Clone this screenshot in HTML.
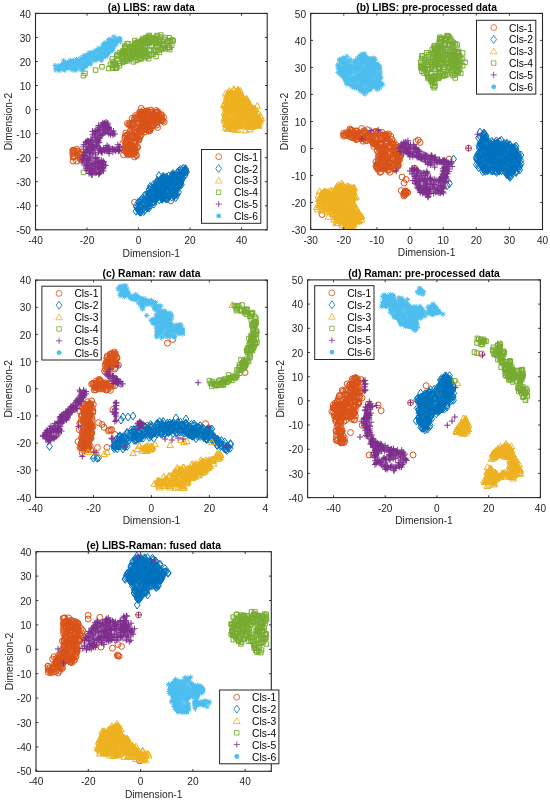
<!DOCTYPE html><html><head><meta charset="utf-8"><style>html,body{margin:0;padding:0;background:#fff;}svg{display:block;font-family:"Liberation Sans",Arial,sans-serif;}</style></head><body>
<svg width="550" height="801" viewBox="0 0 550 801">
<rect width="550" height="801" fill="#fff"/>
<g>
<rect x="35.5" y="13.4" width="231.7" height="216.4" fill="#fff"/>
<clipPath id="ca"><rect x="34.5" y="12.4" width="233.7" height="218.4"/></clipPath>
<g clip-path="url(#ca)">
<path d="M135.9 111.1 135.4 112.9 135.4 113.1 135.3 113.3 132.3 120.5 132.2 120.6 132.1 120.8 132 121 131.9 121.1 131.8 121.2 131.6 121.3 128.1 123.7 127.5 130.1 127.4 130.3 127.4 130.5 127.3 130.6 127.3 130.8 123.8 137.6 124.5 148.7 124.5 148.8 124.5 149 123.9 155.1 126.8 157 132.9 157 136.1 154.9 137.4 149.9 138.7 141.2 138.8 141 138.8 140.8 138.9 140.6 141.8 134.8 141.9 134.6 142 134.5 142.2 134.3 142.3 134.2 142.5 134.1 142.7 134 142.8 133.9 143 133.8 150 131.7 157 126.9 162.9 122.3 163.5 118.5 160.9 112.4 157.7 110.8 149.5 110.8 149.3 110.8 149.1 110.7 142.3 109.4 135.9 111.1Z" fill="#D95319" fill-opacity="0.6" fill-rule="evenodd"/>
<path d="M131.6 202.3a2.95 2.95 0 1 0 5.9 0a2.95 2.95 0 1 0 -5.9 0M167.9 200.8a2.95 2.95 0 1 0 5.9 0a2.95 2.95 0 1 0 -5.9 0M152.3 112.4a2.95 2.95 0 1 0 5.9 0a2.95 2.95 0 1 0 -5.9 0M124.7 152.2a2.95 2.95 0 1 0 5.9 0a2.95 2.95 0 1 0 -5.9 0M135.8 140.3a2.95 2.95 0 1 0 5.9 0a2.95 2.95 0 1 0 -5.9 0M136.8 136.6a2.95 2.95 0 1 0 5.9 0a2.95 2.95 0 1 0 -5.9 0M144.9 112a2.95 2.95 0 1 0 5.9 0a2.95 2.95 0 1 0 -5.9 0M128.4 133.3a2.95 2.95 0 1 0 5.9 0a2.95 2.95 0 1 0 -5.9 0M121.8 151a2.95 2.95 0 1 0 5.9 0a2.95 2.95 0 1 0 -5.9 0M146 128.8a2.95 2.95 0 1 0 5.9 0a2.95 2.95 0 1 0 -5.9 0M126.2 150.3a2.95 2.95 0 1 0 5.9 0a2.95 2.95 0 1 0 -5.9 0M131 137.6a2.95 2.95 0 1 0 5.9 0a2.95 2.95 0 1 0 -5.9 0M124 135.9a2.95 2.95 0 1 0 5.9 0a2.95 2.95 0 1 0 -5.9 0M136.4 124.1a2.95 2.95 0 1 0 5.9 0a2.95 2.95 0 1 0 -5.9 0M151.1 119.1a2.95 2.95 0 1 0 5.9 0a2.95 2.95 0 1 0 -5.9 0M135.6 118.2a2.95 2.95 0 1 0 5.9 0a2.95 2.95 0 1 0 -5.9 0M158.2 115.1a2.95 2.95 0 1 0 5.9 0a2.95 2.95 0 1 0 -5.9 0M141.4 126.6a2.95 2.95 0 1 0 5.9 0a2.95 2.95 0 1 0 -5.9 0M121.9 141.3a2.95 2.95 0 1 0 5.9 0a2.95 2.95 0 1 0 -5.9 0M154.1 112.2a2.95 2.95 0 1 0 5.9 0a2.95 2.95 0 1 0 -5.9 0M131.5 148.7a2.95 2.95 0 1 0 5.9 0a2.95 2.95 0 1 0 -5.9 0M124.9 152.1a2.95 2.95 0 1 0 5.9 0a2.95 2.95 0 1 0 -5.9 0M129 135.9a2.95 2.95 0 1 0 5.9 0a2.95 2.95 0 1 0 -5.9 0M156.2 114.7a2.95 2.95 0 1 0 5.9 0a2.95 2.95 0 1 0 -5.9 0M131 152.1a2.95 2.95 0 1 0 5.9 0a2.95 2.95 0 1 0 -5.9 0M134 128.1a2.95 2.95 0 1 0 5.9 0a2.95 2.95 0 1 0 -5.9 0M156.7 115.6a2.95 2.95 0 1 0 5.9 0a2.95 2.95 0 1 0 -5.9 0M128.3 145.9a2.95 2.95 0 1 0 5.9 0a2.95 2.95 0 1 0 -5.9 0M151.8 121.6a2.95 2.95 0 1 0 5.9 0a2.95 2.95 0 1 0 -5.9 0M124.8 150.5a2.95 2.95 0 1 0 5.9 0a2.95 2.95 0 1 0 -5.9 0M155.2 121.3a2.95 2.95 0 1 0 5.9 0a2.95 2.95 0 1 0 -5.9 0M156 119.1a2.95 2.95 0 1 0 5.9 0a2.95 2.95 0 1 0 -5.9 0M143.7 115.4a2.95 2.95 0 1 0 5.9 0a2.95 2.95 0 1 0 -5.9 0M123.4 151.6a2.95 2.95 0 1 0 5.9 0a2.95 2.95 0 1 0 -5.9 0M138.4 116.3a2.95 2.95 0 1 0 5.9 0a2.95 2.95 0 1 0 -5.9 0M145.3 130.8a2.95 2.95 0 1 0 5.9 0a2.95 2.95 0 1 0 -5.9 0M140.1 121.8a2.95 2.95 0 1 0 5.9 0a2.95 2.95 0 1 0 -5.9 0M138.2 115.6a2.95 2.95 0 1 0 5.9 0a2.95 2.95 0 1 0 -5.9 0M148.1 119.7a2.95 2.95 0 1 0 5.9 0a2.95 2.95 0 1 0 -5.9 0M124.9 155a2.95 2.95 0 1 0 5.9 0a2.95 2.95 0 1 0 -5.9 0M142.3 122.8a2.95 2.95 0 1 0 5.9 0a2.95 2.95 0 1 0 -5.9 0M125.7 150.6a2.95 2.95 0 1 0 5.9 0a2.95 2.95 0 1 0 -5.9 0M142.4 124a2.95 2.95 0 1 0 5.9 0a2.95 2.95 0 1 0 -5.9 0M144.7 127.2a2.95 2.95 0 1 0 5.9 0a2.95 2.95 0 1 0 -5.9 0M138.6 128.5a2.95 2.95 0 1 0 5.9 0a2.95 2.95 0 1 0 -5.9 0M144.4 120a2.95 2.95 0 1 0 5.9 0a2.95 2.95 0 1 0 -5.9 0M150 126.3a2.95 2.95 0 1 0 5.9 0a2.95 2.95 0 1 0 -5.9 0M137.6 119.2a2.95 2.95 0 1 0 5.9 0a2.95 2.95 0 1 0 -5.9 0M137.6 119.4a2.95 2.95 0 1 0 5.9 0a2.95 2.95 0 1 0 -5.9 0M150.4 115.3a2.95 2.95 0 1 0 5.9 0a2.95 2.95 0 1 0 -5.9 0M147 128.7a2.95 2.95 0 1 0 5.9 0a2.95 2.95 0 1 0 -5.9 0M138.5 112.6a2.95 2.95 0 1 0 5.9 0a2.95 2.95 0 1 0 -5.9 0M123.1 143.7a2.95 2.95 0 1 0 5.9 0a2.95 2.95 0 1 0 -5.9 0M145.3 112.9a2.95 2.95 0 1 0 5.9 0a2.95 2.95 0 1 0 -5.9 0M150.1 117.6a2.95 2.95 0 1 0 5.9 0a2.95 2.95 0 1 0 -5.9 0M133.9 138.2a2.95 2.95 0 1 0 5.9 0a2.95 2.95 0 1 0 -5.9 0M141.9 123.4a2.95 2.95 0 1 0 5.9 0a2.95 2.95 0 1 0 -5.9 0M143.2 128.7a2.95 2.95 0 1 0 5.9 0a2.95 2.95 0 1 0 -5.9 0M131.5 119.2a2.95 2.95 0 1 0 5.9 0a2.95 2.95 0 1 0 -5.9 0M152.8 115.3a2.95 2.95 0 1 0 5.9 0a2.95 2.95 0 1 0 -5.9 0M150 124.7a2.95 2.95 0 1 0 5.9 0a2.95 2.95 0 1 0 -5.9 0M140.4 110.6a2.95 2.95 0 1 0 5.9 0a2.95 2.95 0 1 0 -5.9 0M124.1 140.3a2.95 2.95 0 1 0 5.9 0a2.95 2.95 0 1 0 -5.9 0M124 151.4a2.95 2.95 0 1 0 5.9 0a2.95 2.95 0 1 0 -5.9 0M124.4 148.7a2.95 2.95 0 1 0 5.9 0a2.95 2.95 0 1 0 -5.9 0M144.1 110.8a2.95 2.95 0 1 0 5.9 0a2.95 2.95 0 1 0 -5.9 0M145.4 124.7a2.95 2.95 0 1 0 5.9 0a2.95 2.95 0 1 0 -5.9 0M138.5 114.7a2.95 2.95 0 1 0 5.9 0a2.95 2.95 0 1 0 -5.9 0M132 142a2.95 2.95 0 1 0 5.9 0a2.95 2.95 0 1 0 -5.9 0M141.8 122.5a2.95 2.95 0 1 0 5.9 0a2.95 2.95 0 1 0 -5.9 0M125.2 147.5a2.95 2.95 0 1 0 5.9 0a2.95 2.95 0 1 0 -5.9 0M147.1 126.3a2.95 2.95 0 1 0 5.9 0a2.95 2.95 0 1 0 -5.9 0M132.1 148.8a2.95 2.95 0 1 0 5.9 0a2.95 2.95 0 1 0 -5.9 0M146.9 118a2.95 2.95 0 1 0 5.9 0a2.95 2.95 0 1 0 -5.9 0M142.2 114.3a2.95 2.95 0 1 0 5.9 0a2.95 2.95 0 1 0 -5.9 0M148.5 113.2a2.95 2.95 0 1 0 5.9 0a2.95 2.95 0 1 0 -5.9 0M147.1 130.6a2.95 2.95 0 1 0 5.9 0a2.95 2.95 0 1 0 -5.9 0M138.8 120.5a2.95 2.95 0 1 0 5.9 0a2.95 2.95 0 1 0 -5.9 0M137.2 111.8a2.95 2.95 0 1 0 5.9 0a2.95 2.95 0 1 0 -5.9 0M144.3 129.8a2.95 2.95 0 1 0 5.9 0a2.95 2.95 0 1 0 -5.9 0M140.4 120.4a2.95 2.95 0 1 0 5.9 0a2.95 2.95 0 1 0 -5.9 0M154.9 111.6a2.95 2.95 0 1 0 5.9 0a2.95 2.95 0 1 0 -5.9 0M138.6 125.7a2.95 2.95 0 1 0 5.9 0a2.95 2.95 0 1 0 -5.9 0M150.5 118.7a2.95 2.95 0 1 0 5.9 0a2.95 2.95 0 1 0 -5.9 0M148.2 120a2.95 2.95 0 1 0 5.9 0a2.95 2.95 0 1 0 -5.9 0M131.4 130.3a2.95 2.95 0 1 0 5.9 0a2.95 2.95 0 1 0 -5.9 0M139.7 125.9a2.95 2.95 0 1 0 5.9 0a2.95 2.95 0 1 0 -5.9 0M135.1 135.7a2.95 2.95 0 1 0 5.9 0a2.95 2.95 0 1 0 -5.9 0M158.5 114.6a2.95 2.95 0 1 0 5.9 0a2.95 2.95 0 1 0 -5.9 0M132.6 117.4a2.95 2.95 0 1 0 5.9 0a2.95 2.95 0 1 0 -5.9 0M122.2 136.3a2.95 2.95 0 1 0 5.9 0a2.95 2.95 0 1 0 -5.9 0M121.9 138a2.95 2.95 0 1 0 5.9 0a2.95 2.95 0 1 0 -5.9 0M127.1 131.4a2.95 2.95 0 1 0 5.9 0a2.95 2.95 0 1 0 -5.9 0M141.8 118.7a2.95 2.95 0 1 0 5.9 0a2.95 2.95 0 1 0 -5.9 0M130.7 153.5a2.95 2.95 0 1 0 5.9 0a2.95 2.95 0 1 0 -5.9 0M137.3 114.2a2.95 2.95 0 1 0 5.9 0a2.95 2.95 0 1 0 -5.9 0M127.1 124.7a2.95 2.95 0 1 0 5.9 0a2.95 2.95 0 1 0 -5.9 0M148.1 119.5a2.95 2.95 0 1 0 5.9 0a2.95 2.95 0 1 0 -5.9 0M125.4 138.4a2.95 2.95 0 1 0 5.9 0a2.95 2.95 0 1 0 -5.9 0M141.1 129.3a2.95 2.95 0 1 0 5.9 0a2.95 2.95 0 1 0 -5.9 0M141 114.7a2.95 2.95 0 1 0 5.9 0a2.95 2.95 0 1 0 -5.9 0M140.9 114.6a2.95 2.95 0 1 0 5.9 0a2.95 2.95 0 1 0 -5.9 0M140 125.7a2.95 2.95 0 1 0 5.9 0a2.95 2.95 0 1 0 -5.9 0M129.6 124.5a2.95 2.95 0 1 0 5.9 0a2.95 2.95 0 1 0 -5.9 0M127 151.7a2.95 2.95 0 1 0 5.9 0a2.95 2.95 0 1 0 -5.9 0M138.3 134.8a2.95 2.95 0 1 0 5.9 0a2.95 2.95 0 1 0 -5.9 0M145.3 118.3a2.95 2.95 0 1 0 5.9 0a2.95 2.95 0 1 0 -5.9 0M134.5 147a2.95 2.95 0 1 0 5.9 0a2.95 2.95 0 1 0 -5.9 0M126 147.2a2.95 2.95 0 1 0 5.9 0a2.95 2.95 0 1 0 -5.9 0M124.4 149.7a2.95 2.95 0 1 0 5.9 0a2.95 2.95 0 1 0 -5.9 0M127.6 146.5a2.95 2.95 0 1 0 5.9 0a2.95 2.95 0 1 0 -5.9 0M153.1 123a2.95 2.95 0 1 0 5.9 0a2.95 2.95 0 1 0 -5.9 0M141.4 120.4a2.95 2.95 0 1 0 5.9 0a2.95 2.95 0 1 0 -5.9 0M132.8 137a2.95 2.95 0 1 0 5.9 0a2.95 2.95 0 1 0 -5.9 0M133 133.2a2.95 2.95 0 1 0 5.9 0a2.95 2.95 0 1 0 -5.9 0M135.9 138.9a2.95 2.95 0 1 0 5.9 0a2.95 2.95 0 1 0 -5.9 0M134.8 138.2a2.95 2.95 0 1 0 5.9 0a2.95 2.95 0 1 0 -5.9 0M125 140.9a2.95 2.95 0 1 0 5.9 0a2.95 2.95 0 1 0 -5.9 0M122 147.7a2.95 2.95 0 1 0 5.9 0a2.95 2.95 0 1 0 -5.9 0M144.5 122a2.95 2.95 0 1 0 5.9 0a2.95 2.95 0 1 0 -5.9 0M128.5 124.7a2.95 2.95 0 1 0 5.9 0a2.95 2.95 0 1 0 -5.9 0M130.1 152.3a2.95 2.95 0 1 0 5.9 0a2.95 2.95 0 1 0 -5.9 0M149 118.3a2.95 2.95 0 1 0 5.9 0a2.95 2.95 0 1 0 -5.9 0M126.4 146.4a2.95 2.95 0 1 0 5.9 0a2.95 2.95 0 1 0 -5.9 0M131.4 149.8a2.95 2.95 0 1 0 5.9 0a2.95 2.95 0 1 0 -5.9 0M147.3 129.2a2.95 2.95 0 1 0 5.9 0a2.95 2.95 0 1 0 -5.9 0M131.2 131.6a2.95 2.95 0 1 0 5.9 0a2.95 2.95 0 1 0 -5.9 0M158.7 120.1a2.95 2.95 0 1 0 5.9 0a2.95 2.95 0 1 0 -5.9 0M142.8 120.8a2.95 2.95 0 1 0 5.9 0a2.95 2.95 0 1 0 -5.9 0M138.6 130.9a2.95 2.95 0 1 0 5.9 0a2.95 2.95 0 1 0 -5.9 0M123.9 141.5a2.95 2.95 0 1 0 5.9 0a2.95 2.95 0 1 0 -5.9 0M133.6 132.6a2.95 2.95 0 1 0 5.9 0a2.95 2.95 0 1 0 -5.9 0M150.6 119a2.95 2.95 0 1 0 5.9 0a2.95 2.95 0 1 0 -5.9 0M149.5 111.8a2.95 2.95 0 1 0 5.9 0a2.95 2.95 0 1 0 -5.9 0M141.3 123a2.95 2.95 0 1 0 5.9 0a2.95 2.95 0 1 0 -5.9 0M126.1 153.6a2.95 2.95 0 1 0 5.9 0a2.95 2.95 0 1 0 -5.9 0M129.6 123.8a2.95 2.95 0 1 0 5.9 0a2.95 2.95 0 1 0 -5.9 0M128.8 154.5a2.95 2.95 0 1 0 5.9 0a2.95 2.95 0 1 0 -5.9 0M140.5 117.6a2.95 2.95 0 1 0 5.9 0a2.95 2.95 0 1 0 -5.9 0M122.2 148.8a2.95 2.95 0 1 0 5.9 0a2.95 2.95 0 1 0 -5.9 0M138.1 128.4a2.95 2.95 0 1 0 5.9 0a2.95 2.95 0 1 0 -5.9 0M149.3 115.2a2.95 2.95 0 1 0 5.9 0a2.95 2.95 0 1 0 -5.9 0M139.2 127.3a2.95 2.95 0 1 0 5.9 0a2.95 2.95 0 1 0 -5.9 0M129.7 125.1a2.95 2.95 0 1 0 5.9 0a2.95 2.95 0 1 0 -5.9 0M132.5 151a2.95 2.95 0 1 0 5.9 0a2.95 2.95 0 1 0 -5.9 0M141.2 112.4a2.95 2.95 0 1 0 5.9 0a2.95 2.95 0 1 0 -5.9 0M127.9 141.7a2.95 2.95 0 1 0 5.9 0a2.95 2.95 0 1 0 -5.9 0M124.7 153.4a2.95 2.95 0 1 0 5.9 0a2.95 2.95 0 1 0 -5.9 0M151.2 120a2.95 2.95 0 1 0 5.9 0a2.95 2.95 0 1 0 -5.9 0M136.8 126.7a2.95 2.95 0 1 0 5.9 0a2.95 2.95 0 1 0 -5.9 0M129.4 149.1a2.95 2.95 0 1 0 5.9 0a2.95 2.95 0 1 0 -5.9 0M133.9 132a2.95 2.95 0 1 0 5.9 0a2.95 2.95 0 1 0 -5.9 0M132.6 115.6a2.95 2.95 0 1 0 5.9 0a2.95 2.95 0 1 0 -5.9 0M128.1 137.4a2.95 2.95 0 1 0 5.9 0a2.95 2.95 0 1 0 -5.9 0M153.9 125.1a2.95 2.95 0 1 0 5.9 0a2.95 2.95 0 1 0 -5.9 0M124.8 134.8a2.95 2.95 0 1 0 5.9 0a2.95 2.95 0 1 0 -5.9 0M136.7 132.1a2.95 2.95 0 1 0 5.9 0a2.95 2.95 0 1 0 -5.9 0M122.9 143.1a2.95 2.95 0 1 0 5.9 0a2.95 2.95 0 1 0 -5.9 0M157.8 120.3a2.95 2.95 0 1 0 5.9 0a2.95 2.95 0 1 0 -5.9 0M137.3 136.2a2.95 2.95 0 1 0 5.9 0a2.95 2.95 0 1 0 -5.9 0M125.7 124.6a2.95 2.95 0 1 0 5.9 0a2.95 2.95 0 1 0 -5.9 0M131.3 142a2.95 2.95 0 1 0 5.9 0a2.95 2.95 0 1 0 -5.9 0M143.9 127.1a2.95 2.95 0 1 0 5.9 0a2.95 2.95 0 1 0 -5.9 0M141.9 131.9a2.95 2.95 0 1 0 5.9 0a2.95 2.95 0 1 0 -5.9 0M123 149.2a2.95 2.95 0 1 0 5.9 0a2.95 2.95 0 1 0 -5.9 0M131.6 153.4a2.95 2.95 0 1 0 5.9 0a2.95 2.95 0 1 0 -5.9 0M129.7 122.9a2.95 2.95 0 1 0 5.9 0a2.95 2.95 0 1 0 -5.9 0M141.1 116.7a2.95 2.95 0 1 0 5.9 0a2.95 2.95 0 1 0 -5.9 0M141.4 129.3a2.95 2.95 0 1 0 5.9 0a2.95 2.95 0 1 0 -5.9 0M158.4 117.3a2.95 2.95 0 1 0 5.9 0a2.95 2.95 0 1 0 -5.9 0M136.2 139.2a2.95 2.95 0 1 0 5.9 0a2.95 2.95 0 1 0 -5.9 0M123.9 146.5a2.95 2.95 0 1 0 5.9 0a2.95 2.95 0 1 0 -5.9 0M130.8 151.5a2.95 2.95 0 1 0 5.9 0a2.95 2.95 0 1 0 -5.9 0M138.1 112.4a2.95 2.95 0 1 0 5.9 0a2.95 2.95 0 1 0 -5.9 0M132.7 140.9a2.95 2.95 0 1 0 5.9 0a2.95 2.95 0 1 0 -5.9 0M145.1 115a2.95 2.95 0 1 0 5.9 0a2.95 2.95 0 1 0 -5.9 0M153.5 112.8a2.95 2.95 0 1 0 5.9 0a2.95 2.95 0 1 0 -5.9 0M137.7 116.1a2.95 2.95 0 1 0 5.9 0a2.95 2.95 0 1 0 -5.9 0M154.6 117a2.95 2.95 0 1 0 5.9 0a2.95 2.95 0 1 0 -5.9 0M129.1 118.3a2.95 2.95 0 1 0 5.9 0a2.95 2.95 0 1 0 -5.9 0M145.7 131.1a2.95 2.95 0 1 0 5.9 0a2.95 2.95 0 1 0 -5.9 0M124.5 123.5a2.95 2.95 0 1 0 5.9 0a2.95 2.95 0 1 0 -5.9 0M161.3 122.1a2.95 2.95 0 1 0 5.9 0a2.95 2.95 0 1 0 -5.9 0M160.6 117.3a2.95 2.95 0 1 0 5.9 0a2.95 2.95 0 1 0 -5.9 0M131.5 157a2.95 2.95 0 1 0 5.9 0a2.95 2.95 0 1 0 -5.9 0M121.8 147.1a2.95 2.95 0 1 0 5.9 0a2.95 2.95 0 1 0 -5.9 0M133.4 148.1a2.95 2.95 0 1 0 5.9 0a2.95 2.95 0 1 0 -5.9 0M123.5 135.3a2.95 2.95 0 1 0 5.9 0a2.95 2.95 0 1 0 -5.9 0M158.9 119.3a2.95 2.95 0 1 0 5.9 0a2.95 2.95 0 1 0 -5.9 0M133.5 155.7a2.95 2.95 0 1 0 5.9 0a2.95 2.95 0 1 0 -5.9 0M147.7 110a2.95 2.95 0 1 0 5.9 0a2.95 2.95 0 1 0 -5.9 0M152.9 110.4a2.95 2.95 0 1 0 5.9 0a2.95 2.95 0 1 0 -5.9 0M120.5 154.8a2.95 2.95 0 1 0 5.9 0a2.95 2.95 0 1 0 -5.9 0M122.9 133a2.95 2.95 0 1 0 5.9 0a2.95 2.95 0 1 0 -5.9 0M143.2 111.4a2.95 2.95 0 1 0 5.9 0a2.95 2.95 0 1 0 -5.9 0M119.8 143.6a2.95 2.95 0 1 0 5.9 0a2.95 2.95 0 1 0 -5.9 0M147.2 111.8a2.95 2.95 0 1 0 5.9 0a2.95 2.95 0 1 0 -5.9 0M138.3 108.4a2.95 2.95 0 1 0 5.9 0a2.95 2.95 0 1 0 -5.9 0M133.2 154.7a2.95 2.95 0 1 0 5.9 0a2.95 2.95 0 1 0 -5.9 0M159.9 120.8a2.95 2.95 0 1 0 5.9 0a2.95 2.95 0 1 0 -5.9 0M134.5 147.4a2.95 2.95 0 1 0 5.9 0a2.95 2.95 0 1 0 -5.9 0M154.7 127.5a2.95 2.95 0 1 0 5.9 0a2.95 2.95 0 1 0 -5.9 0M126.5 123.5a2.95 2.95 0 1 0 5.9 0a2.95 2.95 0 1 0 -5.9 0M131.6 118.5a2.95 2.95 0 1 0 5.9 0a2.95 2.95 0 1 0 -5.9 0M145.1 111.7a2.95 2.95 0 1 0 5.9 0a2.95 2.95 0 1 0 -5.9 0" fill="none" stroke="#D95319" stroke-width="1.0"/>
<path d="M71.2 151.2a2.95 2.95 0 1 0 5.9 0a2.95 2.95 0 1 0 -5.9 0M78.5 151.9a2.95 2.95 0 1 0 5.9 0a2.95 2.95 0 1 0 -5.9 0M69.9 150.4a2.95 2.95 0 1 0 5.9 0a2.95 2.95 0 1 0 -5.9 0M73.7 149.2a2.95 2.95 0 1 0 5.9 0a2.95 2.95 0 1 0 -5.9 0M73.6 161.2a2.95 2.95 0 1 0 5.9 0a2.95 2.95 0 1 0 -5.9 0M70.8 156.7a2.95 2.95 0 1 0 5.9 0a2.95 2.95 0 1 0 -5.9 0M72.6 151a2.95 2.95 0 1 0 5.9 0a2.95 2.95 0 1 0 -5.9 0M77.4 159.2a2.95 2.95 0 1 0 5.9 0a2.95 2.95 0 1 0 -5.9 0M77 154.2a2.95 2.95 0 1 0 5.9 0a2.95 2.95 0 1 0 -5.9 0M74.7 151a2.95 2.95 0 1 0 5.9 0a2.95 2.95 0 1 0 -5.9 0M76.3 154.3a2.95 2.95 0 1 0 5.9 0a2.95 2.95 0 1 0 -5.9 0M70 157.2a2.95 2.95 0 1 0 5.9 0a2.95 2.95 0 1 0 -5.9 0M79.6 157.9a2.95 2.95 0 1 0 5.9 0a2.95 2.95 0 1 0 -5.9 0M74.5 155.4a2.95 2.95 0 1 0 5.9 0a2.95 2.95 0 1 0 -5.9 0M69.8 153.7a2.95 2.95 0 1 0 5.9 0a2.95 2.95 0 1 0 -5.9 0M77.7 158.1a2.95 2.95 0 1 0 5.9 0a2.95 2.95 0 1 0 -5.9 0M77.1 158.4a2.95 2.95 0 1 0 5.9 0a2.95 2.95 0 1 0 -5.9 0M70.3 150.2a2.95 2.95 0 1 0 5.9 0a2.95 2.95 0 1 0 -5.9 0M78.6 152.2a2.95 2.95 0 1 0 5.9 0a2.95 2.95 0 1 0 -5.9 0M72.7 152.6a2.95 2.95 0 1 0 5.9 0a2.95 2.95 0 1 0 -5.9 0M71.5 156.7a2.95 2.95 0 1 0 5.9 0a2.95 2.95 0 1 0 -5.9 0M70.4 152.8a2.95 2.95 0 1 0 5.9 0a2.95 2.95 0 1 0 -5.9 0M77.6 153.6a2.95 2.95 0 1 0 5.9 0a2.95 2.95 0 1 0 -5.9 0M79.5 154.7a2.95 2.95 0 1 0 5.9 0a2.95 2.95 0 1 0 -5.9 0M70.1 161a2.95 2.95 0 1 0 5.9 0a2.95 2.95 0 1 0 -5.9 0M70 150.8a2.95 2.95 0 1 0 5.9 0a2.95 2.95 0 1 0 -5.9 0M79.5 158.8a2.95 2.95 0 1 0 5.9 0a2.95 2.95 0 1 0 -5.9 0" fill="none" stroke="#D95319" stroke-width="1.0"/>
<path d="M135.3 210.2 136.8 214.2 139.4 214.6 141.5 214.1 148.2 208.7 152.5 203.8 152.6 203.6 152.8 203.5 152.9 203.4 153.1 203.3 160.4 199.6 160.6 199.5 160.8 199.4 161 199.4 161.2 199.3 161.4 199.3 169.5 199.3 174.6 196.8 179.7 191.7 181.1 185.1 181.1 184.9 181.2 184.7 181.3 184.5 185.6 175.8 185.7 175.6 188.4 171.3 184.2 167.1 181.3 168.5 172.6 172.9 168.4 175.7 168.2 175.8 168 175.9 167.7 176 161.9 177.5 161.7 177.5 161.5 177.6 161.3 177.6 161 177.5 160.8 177.5 160.6 177.4 160.4 177.3 159.8 177 159.1 179.6 159 179.8 158.9 180 158.8 180.2 158.7 180.4 158.5 180.5 158.4 180.7 158.2 180.8 150.1 186.2 148.8 189.3 148.7 189.5 148.6 189.7 148.5 189.9 142.7 197.1 142.5 197.2 137.2 202.6 135.3 210.2Z" fill="#0072BD" fill-opacity="0.8" fill-rule="evenodd"/>
<path d="M162.9 183.2l2.9 4.0 -2.9 4.0 -2.9 -4.0zM161 192.8l2.9 4.0 -2.9 4.0 -2.9 -4.0zM147.4 200.4l2.9 4.0 -2.9 4.0 -2.9 -4.0zM157.7 189.9l2.9 4.0 -2.9 4.0 -2.9 -4.0zM158.7 177l2.9 4.0 -2.9 4.0 -2.9 -4.0zM177.5 168.2l2.9 4.0 -2.9 4.0 -2.9 -4.0zM140 201.4l2.9 4.0 -2.9 4.0 -2.9 -4.0zM184 167.3l2.9 4.0 -2.9 4.0 -2.9 -4.0zM158 186.1l2.9 4.0 -2.9 4.0 -2.9 -4.0zM185.4 167.7l2.9 4.0 -2.9 4.0 -2.9 -4.0zM177.2 174.2l2.9 4.0 -2.9 4.0 -2.9 -4.0zM185.2 164.7l2.9 4.0 -2.9 4.0 -2.9 -4.0zM155.3 196.7l2.9 4.0 -2.9 4.0 -2.9 -4.0zM157.8 183.3l2.9 4.0 -2.9 4.0 -2.9 -4.0zM166.5 177.6l2.9 4.0 -2.9 4.0 -2.9 -4.0zM172.5 177.6l2.9 4.0 -2.9 4.0 -2.9 -4.0zM139.9 197.2l2.9 4.0 -2.9 4.0 -2.9 -4.0zM169.1 178.1l2.9 4.0 -2.9 4.0 -2.9 -4.0zM163.7 181.2l2.9 4.0 -2.9 4.0 -2.9 -4.0zM178.2 171.8l2.9 4.0 -2.9 4.0 -2.9 -4.0zM144.5 191.6l2.9 4.0 -2.9 4.0 -2.9 -4.0zM175.9 183.9l2.9 4.0 -2.9 4.0 -2.9 -4.0zM170.7 177.2l2.9 4.0 -2.9 4.0 -2.9 -4.0zM140.8 208l2.9 4.0 -2.9 4.0 -2.9 -4.0zM148 202.7l2.9 4.0 -2.9 4.0 -2.9 -4.0zM156.3 190l2.9 4.0 -2.9 4.0 -2.9 -4.0zM158.3 185.2l2.9 4.0 -2.9 4.0 -2.9 -4.0zM152 195l2.9 4.0 -2.9 4.0 -2.9 -4.0zM160.6 179.3l2.9 4.0 -2.9 4.0 -2.9 -4.0zM158 185.2l2.9 4.0 -2.9 4.0 -2.9 -4.0zM180.3 180.6l2.9 4.0 -2.9 4.0 -2.9 -4.0zM150 196.3l2.9 4.0 -2.9 4.0 -2.9 -4.0zM162.2 193.5l2.9 4.0 -2.9 4.0 -2.9 -4.0zM169.6 176.3l2.9 4.0 -2.9 4.0 -2.9 -4.0zM167 181.5l2.9 4.0 -2.9 4.0 -2.9 -4.0zM139.7 207.7l2.9 4.0 -2.9 4.0 -2.9 -4.0zM149 199.3l2.9 4.0 -2.9 4.0 -2.9 -4.0zM145.1 205.7l2.9 4.0 -2.9 4.0 -2.9 -4.0zM167.6 175.2l2.9 4.0 -2.9 4.0 -2.9 -4.0zM174.2 172.9l2.9 4.0 -2.9 4.0 -2.9 -4.0zM180.5 165.3l2.9 4.0 -2.9 4.0 -2.9 -4.0zM158.3 188.7l2.9 4.0 -2.9 4.0 -2.9 -4.0zM166 176.9l2.9 4.0 -2.9 4.0 -2.9 -4.0zM170.8 177.8l2.9 4.0 -2.9 4.0 -2.9 -4.0zM162.5 181.4l2.9 4.0 -2.9 4.0 -2.9 -4.0zM163.5 193.9l2.9 4.0 -2.9 4.0 -2.9 -4.0zM185.8 167.4l2.9 4.0 -2.9 4.0 -2.9 -4.0zM166 194.9l2.9 4.0 -2.9 4.0 -2.9 -4.0zM137.9 204.9l2.9 4.0 -2.9 4.0 -2.9 -4.0zM168.3 187.7l2.9 4.0 -2.9 4.0 -2.9 -4.0zM168.6 192.7l2.9 4.0 -2.9 4.0 -2.9 -4.0zM153.8 198l2.9 4.0 -2.9 4.0 -2.9 -4.0zM150.3 189.8l2.9 4.0 -2.9 4.0 -2.9 -4.0zM148.6 194.3l2.9 4.0 -2.9 4.0 -2.9 -4.0zM149.8 191.8l2.9 4.0 -2.9 4.0 -2.9 -4.0zM166.5 194l2.9 4.0 -2.9 4.0 -2.9 -4.0zM172.5 171.1l2.9 4.0 -2.9 4.0 -2.9 -4.0zM171.4 182.8l2.9 4.0 -2.9 4.0 -2.9 -4.0zM162.4 194.8l2.9 4.0 -2.9 4.0 -2.9 -4.0zM159.7 178.3l2.9 4.0 -2.9 4.0 -2.9 -4.0zM149.3 194.9l2.9 4.0 -2.9 4.0 -2.9 -4.0zM166.9 187.2l2.9 4.0 -2.9 4.0 -2.9 -4.0zM161.9 186.1l2.9 4.0 -2.9 4.0 -2.9 -4.0zM159.2 195.9l2.9 4.0 -2.9 4.0 -2.9 -4.0zM183 169l2.9 4.0 -2.9 4.0 -2.9 -4.0zM149.2 201.4l2.9 4.0 -2.9 4.0 -2.9 -4.0zM184 168.8l2.9 4.0 -2.9 4.0 -2.9 -4.0zM152.7 187.3l2.9 4.0 -2.9 4.0 -2.9 -4.0zM161.6 185.5l2.9 4.0 -2.9 4.0 -2.9 -4.0zM166.4 181.3l2.9 4.0 -2.9 4.0 -2.9 -4.0zM167.8 192.4l2.9 4.0 -2.9 4.0 -2.9 -4.0zM165 185.2l2.9 4.0 -2.9 4.0 -2.9 -4.0zM181.8 171.3l2.9 4.0 -2.9 4.0 -2.9 -4.0zM185.2 171.1l2.9 4.0 -2.9 4.0 -2.9 -4.0zM157.1 192.2l2.9 4.0 -2.9 4.0 -2.9 -4.0zM176.3 181.1l2.9 4.0 -2.9 4.0 -2.9 -4.0zM167.6 176.8l2.9 4.0 -2.9 4.0 -2.9 -4.0zM166.3 177.6l2.9 4.0 -2.9 4.0 -2.9 -4.0zM164.3 185.4l2.9 4.0 -2.9 4.0 -2.9 -4.0zM147.9 196.3l2.9 4.0 -2.9 4.0 -2.9 -4.0zM136.9 203.6l2.9 4.0 -2.9 4.0 -2.9 -4.0zM181.7 174.6l2.9 4.0 -2.9 4.0 -2.9 -4.0zM180.2 171.5l2.9 4.0 -2.9 4.0 -2.9 -4.0zM170 191l2.9 4.0 -2.9 4.0 -2.9 -4.0zM171.3 172.4l2.9 4.0 -2.9 4.0 -2.9 -4.0zM175.2 188.9l2.9 4.0 -2.9 4.0 -2.9 -4.0zM168.9 191.5l2.9 4.0 -2.9 4.0 -2.9 -4.0zM178.9 178.3l2.9 4.0 -2.9 4.0 -2.9 -4.0zM144 195.7l2.9 4.0 -2.9 4.0 -2.9 -4.0zM163.6 191.4l2.9 4.0 -2.9 4.0 -2.9 -4.0zM149.5 188.4l2.9 4.0 -2.9 4.0 -2.9 -4.0zM166.3 173.2l2.9 4.0 -2.9 4.0 -2.9 -4.0zM185.1 166.4l2.9 4.0 -2.9 4.0 -2.9 -4.0zM171.3 178.2l2.9 4.0 -2.9 4.0 -2.9 -4.0zM185.8 165.3l2.9 4.0 -2.9 4.0 -2.9 -4.0zM169.6 176l2.9 4.0 -2.9 4.0 -2.9 -4.0zM161.6 178.5l2.9 4.0 -2.9 4.0 -2.9 -4.0zM173.6 171l2.9 4.0 -2.9 4.0 -2.9 -4.0zM176.1 183.6l2.9 4.0 -2.9 4.0 -2.9 -4.0zM162.5 194.6l2.9 4.0 -2.9 4.0 -2.9 -4.0zM178.7 172.1l2.9 4.0 -2.9 4.0 -2.9 -4.0zM163.9 185.6l2.9 4.0 -2.9 4.0 -2.9 -4.0zM181.7 166.2l2.9 4.0 -2.9 4.0 -2.9 -4.0zM184.4 169l2.9 4.0 -2.9 4.0 -2.9 -4.0zM162.1 192.6l2.9 4.0 -2.9 4.0 -2.9 -4.0zM154.3 186.6l2.9 4.0 -2.9 4.0 -2.9 -4.0zM161.7 190.3l2.9 4.0 -2.9 4.0 -2.9 -4.0zM156.2 194.4l2.9 4.0 -2.9 4.0 -2.9 -4.0zM157.4 180.8l2.9 4.0 -2.9 4.0 -2.9 -4.0zM163.6 174.2l2.9 4.0 -2.9 4.0 -2.9 -4.0zM154.6 188.7l2.9 4.0 -2.9 4.0 -2.9 -4.0zM161.8 175.9l2.9 4.0 -2.9 4.0 -2.9 -4.0zM168 195l2.9 4.0 -2.9 4.0 -2.9 -4.0zM164.3 193.5l2.9 4.0 -2.9 4.0 -2.9 -4.0zM175.6 172l2.9 4.0 -2.9 4.0 -2.9 -4.0zM180.5 177l2.9 4.0 -2.9 4.0 -2.9 -4.0zM138.7 205.4l2.9 4.0 -2.9 4.0 -2.9 -4.0zM142.6 205.9l2.9 4.0 -2.9 4.0 -2.9 -4.0zM142.5 194.3l2.9 4.0 -2.9 4.0 -2.9 -4.0zM149.1 185.3l2.9 4.0 -2.9 4.0 -2.9 -4.0zM153.6 197.3l2.9 4.0 -2.9 4.0 -2.9 -4.0zM155.5 190.6l2.9 4.0 -2.9 4.0 -2.9 -4.0zM166.4 187.4l2.9 4.0 -2.9 4.0 -2.9 -4.0zM153.6 180.4l2.9 4.0 -2.9 4.0 -2.9 -4.0zM170.3 180.9l2.9 4.0 -2.9 4.0 -2.9 -4.0zM172.9 174.5l2.9 4.0 -2.9 4.0 -2.9 -4.0zM180.5 178.6l2.9 4.0 -2.9 4.0 -2.9 -4.0zM147.8 204.1l2.9 4.0 -2.9 4.0 -2.9 -4.0zM182.8 174.1l2.9 4.0 -2.9 4.0 -2.9 -4.0zM156.7 191.6l2.9 4.0 -2.9 4.0 -2.9 -4.0zM165.8 179.2l2.9 4.0 -2.9 4.0 -2.9 -4.0zM163.8 177.9l2.9 4.0 -2.9 4.0 -2.9 -4.0zM173 169.4l2.9 4.0 -2.9 4.0 -2.9 -4.0zM181.4 176.8l2.9 4.0 -2.9 4.0 -2.9 -4.0zM173.3 182.4l2.9 4.0 -2.9 4.0 -2.9 -4.0zM179.7 181.4l2.9 4.0 -2.9 4.0 -2.9 -4.0zM164.6 188.7l2.9 4.0 -2.9 4.0 -2.9 -4.0zM171.2 177.7l2.9 4.0 -2.9 4.0 -2.9 -4.0zM177.7 176.4l2.9 4.0 -2.9 4.0 -2.9 -4.0zM146.1 190.9l2.9 4.0 -2.9 4.0 -2.9 -4.0zM180.6 179.2l2.9 4.0 -2.9 4.0 -2.9 -4.0zM140.5 208.3l2.9 4.0 -2.9 4.0 -2.9 -4.0zM159 182.7l2.9 4.0 -2.9 4.0 -2.9 -4.0zM140.8 202.4l2.9 4.0 -2.9 4.0 -2.9 -4.0zM138.7 206.2l2.9 4.0 -2.9 4.0 -2.9 -4.0zM159 187.8l2.9 4.0 -2.9 4.0 -2.9 -4.0zM174.1 192.3l2.9 4.0 -2.9 4.0 -2.9 -4.0zM175.8 190.4l2.9 4.0 -2.9 4.0 -2.9 -4.0zM156.7 178.8l2.9 4.0 -2.9 4.0 -2.9 -4.0zM157.1 181.7l2.9 4.0 -2.9 4.0 -2.9 -4.0zM166.5 178l2.9 4.0 -2.9 4.0 -2.9 -4.0zM175.3 186.8l2.9 4.0 -2.9 4.0 -2.9 -4.0zM163.6 176.6l2.9 4.0 -2.9 4.0 -2.9 -4.0zM162.8 181l2.9 4.0 -2.9 4.0 -2.9 -4.0zM161 181.3l2.9 4.0 -2.9 4.0 -2.9 -4.0zM166.1 174.2l2.9 4.0 -2.9 4.0 -2.9 -4.0zM161.5 177.6l2.9 4.0 -2.9 4.0 -2.9 -4.0zM153.9 183.9l2.9 4.0 -2.9 4.0 -2.9 -4.0zM162.4 191.2l2.9 4.0 -2.9 4.0 -2.9 -4.0zM168.7 171.9l2.9 4.0 -2.9 4.0 -2.9 -4.0zM149.2 185.9l2.9 4.0 -2.9 4.0 -2.9 -4.0zM175 191l2.9 4.0 -2.9 4.0 -2.9 -4.0zM183.2 164.4l2.9 4.0 -2.9 4.0 -2.9 -4.0zM142.9 198.7l2.9 4.0 -2.9 4.0 -2.9 -4.0zM156.9 193.4l2.9 4.0 -2.9 4.0 -2.9 -4.0zM162.6 194.1l2.9 4.0 -2.9 4.0 -2.9 -4.0zM164.6 180.2l2.9 4.0 -2.9 4.0 -2.9 -4.0zM174.3 186.9l2.9 4.0 -2.9 4.0 -2.9 -4.0zM174.8 174.3l2.9 4.0 -2.9 4.0 -2.9 -4.0zM162.2 178.8l2.9 4.0 -2.9 4.0 -2.9 -4.0zM179.2 166.8l2.9 4.0 -2.9 4.0 -2.9 -4.0zM175.4 190.8l2.9 4.0 -2.9 4.0 -2.9 -4.0zM140.7 203l2.9 4.0 -2.9 4.0 -2.9 -4.0zM162.9 187.7l2.9 4.0 -2.9 4.0 -2.9 -4.0zM166.1 181.2l2.9 4.0 -2.9 4.0 -2.9 -4.0zM156.5 178.4l2.9 4.0 -2.9 4.0 -2.9 -4.0zM171.8 193.1l2.9 4.0 -2.9 4.0 -2.9 -4.0zM160.5 175.7l2.9 4.0 -2.9 4.0 -2.9 -4.0zM177.6 183l2.9 4.0 -2.9 4.0 -2.9 -4.0zM166.4 174.6l2.9 4.0 -2.9 4.0 -2.9 -4.0zM161.7 178.1l2.9 4.0 -2.9 4.0 -2.9 -4.0zM162.4 188.8l2.9 4.0 -2.9 4.0 -2.9 -4.0zM138.4 198.1l2.9 4.0 -2.9 4.0 -2.9 -4.0zM169.6 183.3l2.9 4.0 -2.9 4.0 -2.9 -4.0zM148.7 189.9l2.9 4.0 -2.9 4.0 -2.9 -4.0zM162.4 174.4l2.9 4.0 -2.9 4.0 -2.9 -4.0zM175.6 193.7l2.9 4.0 -2.9 4.0 -2.9 -4.0zM186.6 168.2l2.9 4.0 -2.9 4.0 -2.9 -4.0zM157.4 176.6l2.9 4.0 -2.9 4.0 -2.9 -4.0zM153.2 197.5l2.9 4.0 -2.9 4.0 -2.9 -4.0zM162.9 172.6l2.9 4.0 -2.9 4.0 -2.9 -4.0zM150.3 182.3l2.9 4.0 -2.9 4.0 -2.9 -4.0zM162 195.4l2.9 4.0 -2.9 4.0 -2.9 -4.0zM155.7 196l2.9 4.0 -2.9 4.0 -2.9 -4.0zM181.4 180.8l2.9 4.0 -2.9 4.0 -2.9 -4.0zM159 171.7l2.9 4.0 -2.9 4.0 -2.9 -4.0zM177.1 190.6l2.9 4.0 -2.9 4.0 -2.9 -4.0zM136 207.2l2.9 4.0 -2.9 4.0 -2.9 -4.0zM179.8 179.9l2.9 4.0 -2.9 4.0 -2.9 -4.0zM154.8 181.1l2.9 4.0 -2.9 4.0 -2.9 -4.0zM143.7 207.5l2.9 4.0 -2.9 4.0 -2.9 -4.0zM140.9 195.9l2.9 4.0 -2.9 4.0 -2.9 -4.0zM150.8 184.2l2.9 4.0 -2.9 4.0 -2.9 -4.0zM153.9 200.2l2.9 4.0 -2.9 4.0 -2.9 -4.0zM151.7 199.5l2.9 4.0 -2.9 4.0 -2.9 -4.0zM165.7 194.4l2.9 4.0 -2.9 4.0 -2.9 -4.0zM149.4 203.5l2.9 4.0 -2.9 4.0 -2.9 -4.0zM178.5 188.1l2.9 4.0 -2.9 4.0 -2.9 -4.0zM163.5 172.8l2.9 4.0 -2.9 4.0 -2.9 -4.0zM136.1 202l2.9 4.0 -2.9 4.0 -2.9 -4.0zM185.6 166.6l2.9 4.0 -2.9 4.0 -2.9 -4.0zM163.6 174.4l2.9 4.0 -2.9 4.0 -2.9 -4.0z" fill="none" stroke="#0072BD" stroke-width="1.0"/>
<path d="M226.6 93 225.7 97.1 224.7 107.9 224.7 108.1 224.7 108.3 222.6 115.6 223.5 125 230.7 130 239.7 129.5 248.2 128.4 255.3 126.4 261.2 122.1 259.6 117.2 259.6 117.2 255.7 105.3 251.5 104.5 251.2 104.5 251 104.4 250.8 104.3 250.6 104.2 250.4 104 250.3 103.9 250.1 103.7 250 103.5 249.9 103.3 246.8 97.2 241.8 93.2 241.6 93 241.5 92.9 241.4 92.7 241.3 92.6 238.9 88.5 233.1 90.2 226.6 93Z" fill="#EDB120" fill-opacity="0.85" fill-rule="evenodd"/>
<path d="M241.8 100.4l3.3 5.8h-6.6zM250.4 103.9l3.3 5.8h-6.6zM235.6 105.1l3.3 5.8h-6.6zM240 89.2l3.3 5.8h-6.6zM234.1 99.5l3.3 5.8h-6.6zM257.2 115l3.3 5.8h-6.6zM231.5 107.7l3.3 5.8h-6.6zM237.8 86.9l3.3 5.8h-6.6zM232 122.3l3.3 5.8h-6.6zM237.6 96.6l3.3 5.8h-6.6zM257.6 120.7l3.3 5.8h-6.6zM232.5 103.1l3.3 5.8h-6.6zM230.3 116.9l3.3 5.8h-6.6zM240.1 117.2l3.3 5.8h-6.6zM228 116l3.3 5.8h-6.6zM235.8 111.7l3.3 5.8h-6.6zM228.5 106.6l3.3 5.8h-6.6zM239.4 89.6l3.3 5.8h-6.6zM242 106.4l3.3 5.8h-6.6zM225.3 103.3l3.3 5.8h-6.6zM235.2 114.1l3.3 5.8h-6.6zM237.9 109l3.3 5.8h-6.6zM249.8 104.5l3.3 5.8h-6.6zM246.7 95.3l3.3 5.8h-6.6zM242 118.5l3.3 5.8h-6.6zM241.1 114.6l3.3 5.8h-6.6zM244.6 100.2l3.3 5.8h-6.6zM238.5 121.4l3.3 5.8h-6.6zM236.7 105.8l3.3 5.8h-6.6zM251.8 122.6l3.3 5.8h-6.6zM242.1 93.3l3.3 5.8h-6.6zM237.3 88.5l3.3 5.8h-6.6zM242.1 105l3.3 5.8h-6.6zM233 117.5l3.3 5.8h-6.6zM238.3 110.6l3.3 5.8h-6.6zM228.5 101.6l3.3 5.8h-6.6zM252.8 106.8l3.3 5.8h-6.6zM229.5 89.8l3.3 5.8h-6.6zM225.2 110.6l3.3 5.8h-6.6zM232.5 99.1l3.3 5.8h-6.6zM240.9 113.3l3.3 5.8h-6.6zM231.4 125.2l3.3 5.8h-6.6zM256.7 111.8l3.3 5.8h-6.6zM229.8 97.9l3.3 5.8h-6.6zM232.3 95.5l3.3 5.8h-6.6zM225.7 120.7l3.3 5.8h-6.6zM229.2 107.5l3.3 5.8h-6.6zM249.5 101.9l3.3 5.8h-6.6zM255 115.1l3.3 5.8h-6.6zM238.2 117.9l3.3 5.8h-6.6zM240.2 113.8l3.3 5.8h-6.6zM232.1 123l3.3 5.8h-6.6zM236.4 94.1l3.3 5.8h-6.6zM227.9 92.5l3.3 5.8h-6.6zM247.6 98.9l3.3 5.8h-6.6zM233.8 120.2l3.3 5.8h-6.6zM240.8 118.1l3.3 5.8h-6.6zM239 114.2l3.3 5.8h-6.6zM226.9 101.4l3.3 5.8h-6.6zM244.7 107.5l3.3 5.8h-6.6zM236.7 101.6l3.3 5.8h-6.6zM238.8 103.3l3.3 5.8h-6.6zM252.8 119.2l3.3 5.8h-6.6zM238.2 102.1l3.3 5.8h-6.6zM239.8 122.4l3.3 5.8h-6.6zM258.6 120.3l3.3 5.8h-6.6zM245.2 107.2l3.3 5.8h-6.6zM246 107l3.3 5.8h-6.6zM250.6 105.2l3.3 5.8h-6.6zM253.5 123.2l3.3 5.8h-6.6zM234.9 102l3.3 5.8h-6.6zM257.7 115.7l3.3 5.8h-6.6zM237.5 88.6l3.3 5.8h-6.6zM236.1 101l3.3 5.8h-6.6zM229.1 107.8l3.3 5.8h-6.6zM249 116.2l3.3 5.8h-6.6zM241.9 105.3l3.3 5.8h-6.6zM238.9 98.3l3.3 5.8h-6.6zM230.6 115.9l3.3 5.8h-6.6zM235.7 99.9l3.3 5.8h-6.6zM255.9 111.6l3.3 5.8h-6.6zM224.3 114.7l3.3 5.8h-6.6zM233.7 125.9l3.3 5.8h-6.6zM229.9 91.2l3.3 5.8h-6.6zM260.2 117.4l3.3 5.8h-6.6zM230.1 120.4l3.3 5.8h-6.6zM226.6 121.5l3.3 5.8h-6.6zM242 103.7l3.3 5.8h-6.6zM229.6 103.2l3.3 5.8h-6.6zM246.4 119.6l3.3 5.8h-6.6zM242.7 106.6l3.3 5.8h-6.6zM228.5 94.4l3.3 5.8h-6.6zM256.5 121l3.3 5.8h-6.6zM255 105.7l3.3 5.8h-6.6zM252.6 108l3.3 5.8h-6.6zM238.4 112.9l3.3 5.8h-6.6zM229.9 94.2l3.3 5.8h-6.6zM246.4 119.9l3.3 5.8h-6.6zM233.9 87.1l3.3 5.8h-6.6zM242.4 93.3l3.3 5.8h-6.6zM234.7 113.5l3.3 5.8h-6.6zM240.6 101l3.3 5.8h-6.6zM243.3 106.1l3.3 5.8h-6.6zM239.2 103.5l3.3 5.8h-6.6zM242.9 111l3.3 5.8h-6.6zM236.3 119.3l3.3 5.8h-6.6zM229 97.5l3.3 5.8h-6.6zM231.2 103.5l3.3 5.8h-6.6zM237.9 96.3l3.3 5.8h-6.6zM239.5 93.7l3.3 5.8h-6.6zM246.6 111.3l3.3 5.8h-6.6zM240.4 94.8l3.3 5.8h-6.6zM226.2 120l3.3 5.8h-6.6zM235.8 116.1l3.3 5.8h-6.6zM229.2 121.3l3.3 5.8h-6.6zM224.2 117.3l3.3 5.8h-6.6zM258.3 114.9l3.3 5.8h-6.6zM237.9 86.3l3.3 5.8h-6.6zM236 96.6l3.3 5.8h-6.6zM236 119.3l3.3 5.8h-6.6zM233.4 91.3l3.3 5.8h-6.6zM246.3 98l3.3 5.8h-6.6zM242.6 111.8l3.3 5.8h-6.6zM228.4 123.4l3.3 5.8h-6.6zM248.1 123.7l3.3 5.8h-6.6zM240.1 104.9l3.3 5.8h-6.6zM246.6 103.6l3.3 5.8h-6.6zM249.6 101.8l3.3 5.8h-6.6zM231.3 99.9l3.3 5.8h-6.6zM241.3 114.9l3.3 5.8h-6.6zM238.4 118.5l3.3 5.8h-6.6zM235.2 104.3l3.3 5.8h-6.6zM229.7 108.2l3.3 5.8h-6.6zM251.5 123.8l3.3 5.8h-6.6zM234.6 98.5l3.3 5.8h-6.6zM227.7 103.4l3.3 5.8h-6.6zM249.9 121.6l3.3 5.8h-6.6zM252.5 110.2l3.3 5.8h-6.6zM231.5 100.9l3.3 5.8h-6.6zM259.8 116.2l3.3 5.8h-6.6zM249.9 123.7l3.3 5.8h-6.6zM249 117.6l3.3 5.8h-6.6zM237 88.6l3.3 5.8h-6.6zM244.9 101.9l3.3 5.8h-6.6zM233.2 122.2l3.3 5.8h-6.6zM249.5 109.9l3.3 5.8h-6.6zM249.4 112.5l3.3 5.8h-6.6zM245.8 108.1l3.3 5.8h-6.6zM245.5 122l3.3 5.8h-6.6zM230.9 100.7l3.3 5.8h-6.6zM246.9 96.5l3.3 5.8h-6.6zM247 108.9l3.3 5.8h-6.6zM226.8 109.1l3.3 5.8h-6.6zM242.5 112.8l3.3 5.8h-6.6zM242.6 101.2l3.3 5.8h-6.6zM241.4 107.8l3.3 5.8h-6.6zM256 119.5l3.3 5.8h-6.6zM235.9 115.8l3.3 5.8h-6.6zM225.7 116.1l3.3 5.8h-6.6zM224.7 109.1l3.3 5.8h-6.6zM259.3 119.5l3.3 5.8h-6.6zM225.7 97.6l3.3 5.8h-6.6zM235.6 94.7l3.3 5.8h-6.6zM258.5 117.8l3.3 5.8h-6.6zM248 112l3.3 5.8h-6.6zM228.2 103.6l3.3 5.8h-6.6zM252 116.3l3.3 5.8h-6.6zM232.4 92.3l3.3 5.8h-6.6zM231 117l3.3 5.8h-6.6zM255.2 106.2l3.3 5.8h-6.6zM254.8 119.7l3.3 5.8h-6.6zM230.1 97.9l3.3 5.8h-6.6zM252.4 121.8l3.3 5.8h-6.6zM233.1 104.7l3.3 5.8h-6.6zM228.9 91.8l3.3 5.8h-6.6zM250 110.7l3.3 5.8h-6.6zM232 104.4l3.3 5.8h-6.6zM244 95.9l3.3 5.8h-6.6zM229.2 122.8l3.3 5.8h-6.6zM226.6 93.3l3.3 5.8h-6.6zM250.8 118.5l3.3 5.8h-6.6zM228 95.6l3.3 5.8h-6.6zM236.1 118.7l3.3 5.8h-6.6zM231.3 88.7l3.3 5.8h-6.6zM248.3 110.9l3.3 5.8h-6.6zM244.4 112.2l3.3 5.8h-6.6zM258.2 115.9l3.3 5.8h-6.6zM253.3 107.1l3.3 5.8h-6.6zM239.3 114.2l3.3 5.8h-6.6zM237.2 88.2l3.3 5.8h-6.6zM241.4 113.9l3.3 5.8h-6.6zM237.7 122.6l3.3 5.8h-6.6zM230.6 91.2l3.3 5.8h-6.6zM241.5 109.4l3.3 5.8h-6.6zM236.2 110.2l3.3 5.8h-6.6zM240.2 97.9l3.3 5.8h-6.6zM252.6 110l3.3 5.8h-6.6zM232.3 104.7l3.3 5.8h-6.6zM260.3 112.8l3.3 5.8h-6.6zM245.3 127l3.3 5.8h-6.6zM258 109.2l3.3 5.8h-6.6zM225.6 90.2l3.3 5.8h-6.6zM229.3 87.4l3.3 5.8h-6.6zM257.3 102.5l3.3 5.8h-6.6zM226 101.5l3.3 5.8h-6.6zM223.9 102l3.3 5.8h-6.6zM261.2 114.9l3.3 5.8h-6.6zM228.5 90.9l3.3 5.8h-6.6zM228 89.6l3.3 5.8h-6.6zM237.6 126.5l3.3 5.8h-6.6zM257.4 121.7l3.3 5.8h-6.6zM229.3 90.3l3.3 5.8h-6.6zM256.7 120.6l3.3 5.8h-6.6zM258.5 122.5l3.3 5.8h-6.6zM235.6 126.4l3.3 5.8h-6.6zM249.9 125.9l3.3 5.8h-6.6zM249.2 99.8l3.3 5.8h-6.6zM225.6 124.4l3.3 5.8h-6.6zM240.1 87.3l3.3 5.8h-6.6zM230 124.3l3.3 5.8h-6.6zM233.9 85.7l3.3 5.8h-6.6zM232.3 125.8l3.3 5.8h-6.6zM225.8 105.4l3.3 5.8h-6.6zM227.4 125.5l3.3 5.8h-6.6zM225.6 98l3.3 5.8h-6.6zM224.3 100.8l3.3 5.8h-6.6zM253.3 122.6l3.3 5.8h-6.6z" fill="none" stroke="#EDB120" stroke-width="1.0"/>
<path d="M109.2 65.7 109.7 67.8 111.6 68.7 118.8 66.5 126.9 62.5 127 62.4 127.2 62.4 127.4 62.3 137.1 60.8 146.8 57.5 147 57.4 154.8 55.8 162.6 50.4 162.8 50.2 163 50.2 163.2 50.1 170.7 47.9 174 42.5 173.5 38.8 166.6 37.4 166.5 37.3 158.5 35 151.7 34.7 144.9 36.4 142.7 38 142.5 38.1 133.5 43 133.3 43.1 133.1 43.1 124.7 45.4 116.1 56.4 116 56.5 115.8 56.6 109.9 61.9 109.2 65.7Z" fill="#77AC30" fill-opacity="0.3" fill-rule="evenodd"/>
<path d="M81.2 73.5h4.5v4.5h-4.5zM82.8 71.2h4.5v4.5h-4.5zM93.3 67.8h4.5v4.5h-4.5zM99.7 64.5h4.5v4.5h-4.5zM81.2 170.2h4.5v4.5h-4.5zM139.9 39h4.5v4.5h-4.5zM120.7 54.5h4.5v4.5h-4.5zM131 49.6h4.5v4.5h-4.5zM153.6 37.5h4.5v4.5h-4.5zM161 43.6h4.5v4.5h-4.5zM110.4 65.7h4.5v4.5h-4.5zM142.7 41h4.5v4.5h-4.5zM108.2 62.2h4.5v4.5h-4.5zM111 59.4h4.5v4.5h-4.5zM138.8 56.8h4.5v4.5h-4.5zM135.5 40.5h4.5v4.5h-4.5zM154.6 33.3h4.5v4.5h-4.5zM117.1 63.5h4.5v4.5h-4.5zM141.5 51.3h4.5v4.5h-4.5zM146.3 37.6h4.5v4.5h-4.5zM135.5 45.7h4.5v4.5h-4.5zM153.6 49.1h4.5v4.5h-4.5zM137.9 41h4.5v4.5h-4.5zM139.2 44h4.5v4.5h-4.5zM135.4 44.9h4.5v4.5h-4.5zM151.2 52h4.5v4.5h-4.5zM125.2 50.3h4.5v4.5h-4.5zM119.8 55.9h4.5v4.5h-4.5zM146.1 33.9h4.5v4.5h-4.5zM135.1 52.2h4.5v4.5h-4.5zM120.9 59.9h4.5v4.5h-4.5zM122.7 45.7h4.5v4.5h-4.5zM155.2 41h4.5v4.5h-4.5zM141.7 47.8h4.5v4.5h-4.5zM150.2 36.1h4.5v4.5h-4.5zM146.9 40.6h4.5v4.5h-4.5zM133.5 51.8h4.5v4.5h-4.5zM146.4 40.8h4.5v4.5h-4.5zM137.1 52.7h4.5v4.5h-4.5zM140.6 36.2h4.5v4.5h-4.5zM131.2 44.2h4.5v4.5h-4.5zM147.7 47.8h4.5v4.5h-4.5zM143.4 37.3h4.5v4.5h-4.5zM168.1 38.8h4.5v4.5h-4.5zM123.9 57.4h4.5v4.5h-4.5zM139.2 39h4.5v4.5h-4.5zM169.5 43h4.5v4.5h-4.5zM144.6 51.1h4.5v4.5h-4.5zM161 42.6h4.5v4.5h-4.5zM121.1 58.7h4.5v4.5h-4.5zM145.1 35.7h4.5v4.5h-4.5zM143.6 49.7h4.5v4.5h-4.5zM132.8 51h4.5v4.5h-4.5zM167.5 44.9h4.5v4.5h-4.5zM133.4 45.7h4.5v4.5h-4.5zM138.5 51.8h4.5v4.5h-4.5zM156.4 37h4.5v4.5h-4.5zM159.9 39.3h4.5v4.5h-4.5zM133.8 58.3h4.5v4.5h-4.5zM144.9 39.4h4.5v4.5h-4.5zM143.7 35.3h4.5v4.5h-4.5zM142.7 50.7h4.5v4.5h-4.5zM141.4 47.1h4.5v4.5h-4.5zM143 44.5h4.5v4.5h-4.5zM158 34.9h4.5v4.5h-4.5zM119.2 52.3h4.5v4.5h-4.5zM162.9 35.3h4.5v4.5h-4.5zM161.7 37.2h4.5v4.5h-4.5zM140 48.5h4.5v4.5h-4.5zM127.9 48.2h4.5v4.5h-4.5zM120.7 48.7h4.5v4.5h-4.5zM163 46.5h4.5v4.5h-4.5zM135.1 48.7h4.5v4.5h-4.5zM135.5 47.1h4.5v4.5h-4.5zM158.8 47.3h4.5v4.5h-4.5zM129.6 54.1h4.5v4.5h-4.5zM151.6 47.8h4.5v4.5h-4.5zM165.4 39.2h4.5v4.5h-4.5zM137.8 55.7h4.5v4.5h-4.5zM123.1 45.7h4.5v4.5h-4.5zM140.2 39.8h4.5v4.5h-4.5zM152.5 36.1h4.5v4.5h-4.5zM147.5 53.3h4.5v4.5h-4.5zM123.1 50h4.5v4.5h-4.5zM141.1 43.9h4.5v4.5h-4.5zM117.6 61.1h4.5v4.5h-4.5zM127.6 53.8h4.5v4.5h-4.5zM148.8 37.9h4.5v4.5h-4.5zM154.5 44.6h4.5v4.5h-4.5zM113.4 62.7h4.5v4.5h-4.5zM114.3 64.7h4.5v4.5h-4.5zM130.9 47.1h4.5v4.5h-4.5zM145.9 34.9h4.5v4.5h-4.5zM117.4 50.4h4.5v4.5h-4.5zM121.6 48.8h4.5v4.5h-4.5zM128.2 56.6h4.5v4.5h-4.5zM161.5 41.6h4.5v4.5h-4.5zM155.6 48.2h4.5v4.5h-4.5zM139.8 37.9h4.5v4.5h-4.5zM153.6 38.4h4.5v4.5h-4.5zM149 44h4.5v4.5h-4.5zM110.3 65.7h4.5v4.5h-4.5zM112.1 61.3h4.5v4.5h-4.5zM133.4 55.1h4.5v4.5h-4.5zM167.8 38.9h4.5v4.5h-4.5zM138.5 48.9h4.5v4.5h-4.5zM126.7 48.6h4.5v4.5h-4.5zM120.2 51.8h4.5v4.5h-4.5zM110.4 63.2h4.5v4.5h-4.5zM152.7 36.3h4.5v4.5h-4.5zM170.9 38.5h4.5v4.5h-4.5zM140.7 52.8h4.5v4.5h-4.5zM140.7 37.8h4.5v4.5h-4.5zM139.1 46.8h4.5v4.5h-4.5zM128 55.8h4.5v4.5h-4.5zM130.3 52.9h4.5v4.5h-4.5zM148.1 35.7h4.5v4.5h-4.5zM157.1 50h4.5v4.5h-4.5zM126.1 52.1h4.5v4.5h-4.5zM134.9 48h4.5v4.5h-4.5zM133.6 40.7h4.5v4.5h-4.5zM140.2 54.1h4.5v4.5h-4.5zM120.7 50.9h4.5v4.5h-4.5zM165.3 45.4h4.5v4.5h-4.5zM132.4 42.6h4.5v4.5h-4.5zM130.6 51h4.5v4.5h-4.5zM130.5 45.4h4.5v4.5h-4.5zM119.7 55.7h4.5v4.5h-4.5zM145.6 40.4h4.5v4.5h-4.5zM123 49.2h4.5v4.5h-4.5zM143.2 55.3h4.5v4.5h-4.5zM166.8 45.4h4.5v4.5h-4.5zM128.9 45.2h4.5v4.5h-4.5zM137.6 55.9h4.5v4.5h-4.5zM156.3 42.7h4.5v4.5h-4.5zM125.9 55.8h4.5v4.5h-4.5zM127.8 46.6h4.5v4.5h-4.5zM148.8 38h4.5v4.5h-4.5zM169.8 37.7h4.5v4.5h-4.5zM133.4 41.6h4.5v4.5h-4.5zM156.7 39.4h4.5v4.5h-4.5zM147.8 39.2h4.5v4.5h-4.5zM161.9 45.5h4.5v4.5h-4.5zM149.2 52.1h4.5v4.5h-4.5zM136.1 52.1h4.5v4.5h-4.5zM165.7 45h4.5v4.5h-4.5zM141.8 48.2h4.5v4.5h-4.5zM157.6 39.5h4.5v4.5h-4.5zM113.3 61h4.5v4.5h-4.5zM132 49.8h4.5v4.5h-4.5zM120.9 56.9h4.5v4.5h-4.5zM119.2 50.3h4.5v4.5h-4.5zM137.1 41.3h4.5v4.5h-4.5zM149.3 39.4h4.5v4.5h-4.5zM160.2 46.2h4.5v4.5h-4.5zM141 42.7h4.5v4.5h-4.5zM155.5 34.2h4.5v4.5h-4.5zM142.3 49.7h4.5v4.5h-4.5zM153 39.7h4.5v4.5h-4.5zM122.9 58.9h4.5v4.5h-4.5zM114.4 65.7h4.5v4.5h-4.5zM126.2 41.4h4.5v4.5h-4.5zM146.3 56.4h4.5v4.5h-4.5zM144.9 54.2h4.5v4.5h-4.5zM167.5 47.3h4.5v4.5h-4.5zM124.8 41.5h4.5v4.5h-4.5zM114.8 52.3h4.5v4.5h-4.5zM113.4 66h4.5v4.5h-4.5zM158.6 32.8h4.5v4.5h-4.5zM153.8 54.3h4.5v4.5h-4.5zM125.2 58.6h4.5v4.5h-4.5zM167.2 35.6h4.5v4.5h-4.5zM122.4 43.7h4.5v4.5h-4.5zM135.8 57.4h4.5v4.5h-4.5zM116 53h4.5v4.5h-4.5zM135.2 39.8h4.5v4.5h-4.5zM147.2 33.2h4.5v4.5h-4.5zM124.1 44h4.5v4.5h-4.5zM109.9 56.8h4.5v4.5h-4.5zM114.7 53.8h4.5v4.5h-4.5zM132.6 38.3h4.5v4.5h-4.5zM131.2 59.6h4.5v4.5h-4.5zM106.3 66.3h4.5v4.5h-4.5z" fill="none" stroke="#77AC30" stroke-width="1.0"/>
<path d="M111.6 136.2 111.9 136.2 112.2 136.2 112.5 136.2 112.9 136.1 113.2 136 113.4 135.9 113.7 135.7 114 135.6 114.2 135.4 114.4 135.1 114.6 134.9 114.8 134.6 115 134.3 115.1 134 115.2 133.7 115.2 133.4 115.2 133.1 115.2 132.8 115.2 132.5 115.1 132.1 115 131.8 114.9 131.6 114.7 131.3 114.6 131 114.4 130.8 114.1 130.6 113.9 130.4 113.6 130.2 113.3 130 113 129.9 109.9 128.9 109.8 128.8 109.7 128.8 109.6 128.7 109.5 128.6 109.4 128.6 109.3 128.5 109.2 128.4 109.2 128.3 109.1 128.1 109.1 128 109 127.9 109 127.8 109 127.7 109 127.5 109 127.4 109.1 127.3 109.1 127.3 109.2 126.8 109.2 126.3 109.2 125.8 109.2 125.3 109.1 124.8 108.9 124.3 108.7 123.8 108.5 123.3 108.2 122.9 107.9 122.5 107.5 122.1 107.1 121.8 106.7 121.5 106.3 121.3 105.8 121.1 105.3 120.9 104.8 120.8 104.3 120.8 103.8 120.8 103.3 120.8 102.8 120.9 102.3 121.1 101.8 121.3 101.3 121.5 100.9 121.8 100.5 122.1 100.1 122.5 99.8 122.9 93.8 130.8 93.5 131.2 93.3 131.7 89.3 139.7 89.2 139.8 89.2 139.9 89.1 140 89 140.1 88.9 140.2 88.8 140.2 88.7 140.3 88.6 140.3 88.5 140.4 88.4 140.4 88.2 140.4 88.1 140.4 88 140.4 87.9 140.4 87.7 140.3 87.5 140.3 87.4 140.3 87.2 140.3 87 140.3 86.8 140.3 86.6 140.3 86.5 140.3 86.3 140.3 86.1 140.4 85.9 140.4 85.7 140.5 85.6 140.5 85.4 140.6 85.2 140.7 85.1 140.8 84.9 140.9 84.8 141 84.6 141.1 84.5 141.2 84.4 141.4 84.2 141.5 84.1 141.6 84 141.8 83.9 141.9 83.8 142.1 83.7 142.2 83.6 142.4 83.5 142.6 83.5 142.7 83.4 142.9 83.4 143.1 83.3 143.3 83.3 143.5 83.3 143.6 83.3 143.8 83.3 144 83.3 144.2 83.3 144.4 83.3 144.5 83.3 144.7 83.4 144.9 83.4 145.1 83.5 145.3 83.5 145.4 83.6 145.6 83.7 145.8 83.8 145.9 83.9 146.1 84 146.2 84.1 146.4 84.2 146.5 84.4 146.6 84.5 146.8 84.6 146.9 84.8 147 84.9 147.1 85 147.2 85.1 147.3 85.2 147.4 85.3 147.5 85.3 147.6 85.4 147.7 85.4 147.8 85.4 147.9 85.5 148 85.5 148.1 85.5 148.3 85.4 148.4 85.4 148.5 82 160.5 81.8 161.1 81.8 161.6 81.8 162.1 81.8 162.6 81.9 163.1 82 163.6 82.2 164.1 82.4 164.5 82.7 165 83 165.4 83.4 165.8 83.7 166.1 84.2 166.4 84.6 166.7 84.8 166.7 84.9 166.8 85 166.8 85.1 166.9 85.2 167 85.2 167.1 85.3 167.2 85.4 167.3 85.4 167.4 85.4 167.5 85.6 167.9 85.7 168.3 85.9 168.7 86 169.1 86.2 169.4 86.5 169.8 86.7 170.1 87 170.5 87.3 170.8 87.6 171.1 87.9 171.4 88.3 171.7 88.7 172 89.1 172.3 89.5 172.5 89.9 172.8 90.4 173 90.8 173.2 91.3 173.4 91.8 173.6 92.3 173.7 92.8 173.9 93.3 174 93.9 174.1 94.4 174.1 94.9 174.2 95.5 174.2 96 174.2 96.5 174.2 97.1 174.2 97.6 174.1 98.1 174.1 98.7 174 99.2 173.9 99.7 173.7 100.2 173.6 100.7 173.4 101.2 173.2 101.6 173 102.1 172.8 102.5 172.5 102.9 172.3 103.3 172 103.7 171.7 104.1 171.4 104.4 171.1 104.7 170.8 105 170.5 105.3 170.1 105.5 169.8 105.8 169.4 106 169.1 106.1 168.7 106.3 168.3 106.4 167.9 106.5 167.5 106.6 167.2 106.7 166.8 106.7 166.4 106.7 166 106.7 165.6 106.7 165.2 106.6 164.8 106.5 164.5 106.4 164.1 106.3 163.7 106.1 163.3 106 162.9 105.8 162.6 105.5 162.2 105.3 161.9 105 161.5 104.7 161.2 104.4 160.9 104.1 160.6 103.7 160.3 103.3 160 102.9 159.7 102.5 159.5 102.1 159.2 101.6 159 101.2 158.8 100.7 158.6 100.2 158.4 99.7 158.3 99.2 158.1 98.7 158 98.1 157.9 97.6 157.9 97.1 157.8 96.5 157.8 96 157.8 95.5 157.8 95.4 157.8 95.3 157.8 95.1 157.8 95 157.7 94.9 157.7 94.8 157.7 94.7 157.6 94.6 157.5 94.5 157.4 94.4 157.4 94.3 157.3 94.2 157.1 94.2 157 94.1 156.9 94.1 156.8 94.1 156.7 94.1 156.5 94.1 156.4 94.1 156.3 94.1 156.2 95.4 151.7 95.4 151.6 95.5 151.5 95.5 151.4 95.6 151.3 95.7 151.2 95.8 151.1 95.9 151.1 96 151 96.1 150.9 96.2 150.9 96.3 150.9 96.5 150.8 96.6 150.8 96.7 150.8 96.8 150.9 96.9 150.9 97.1 150.9 97.2 151 97.3 151 97.4 151.1 97.5 151.2 97.6 151.3 97.6 151.4 97.8 151.6 98 151.9 98.2 152 98.4 152.2 98.6 152.4 98.8 152.5 99.1 152.6 99.4 152.7 99.6 152.7 99.9 152.7 100.2 152.7 118.1 151.7 118.4 151.7 118.7 151.7 118.9 151.6 119.2 151.5 119.4 151.3 119.6 151.2 119.9 151 120 150.8 120.2 150.6 120.4 150.4 120.5 150.2 120.6 149.9 120.7 149.6 120.7 149.4 120.7 149.1 120.7 148.8 120.7 148.6 120.7 148.3 120.6 148.1 120.5 147.8 120.3 147.6 120.2 147.4 120 147.1 119.8 147 119.6 146.8 119.4 146.6 119.2 146.5 118.9 146.4 118.6 146.3 118.4 146.3 118.1 146.3 117.8 146.3 99.9 147.3 99.6 147.3 99.5 147.3 99.4 147.3 99.2 147.3 99.1 147.3 99 147.3 98.9 147.3 98.8 147.2 98.6 147.2 98.5 147.1 98.4 147.1 98.4 147 98.3 146.9 98.2 146.8 98.1 146.7 98.1 146.6 98 146.5 98 146.4 98 146.2 98 146.1 98 146 98 145.9 98 145.7 98.1 145.6 98.1 145.5 102.4 136.9 102.5 136.8 102.5 136.7 104 134.7 104.1 134.6 104.2 134.5 104.3 134.4 104.4 134.3 104.5 134.3 104.6 134.2 104.7 134.2 104.9 134.2 105 134.2 105.1 134.2 105.2 134.2 105.3 134.2 105.5 134.2 110.9 136.1 111.3 136.2 111.6 136.2Z" fill="#7E2F8E" fill-opacity="0.6" fill-rule="evenodd"/>
<path d="M97.5 168.9h6.2M100.6 165.8v6.2M99.6 167.5h6.2M102.7 164.4v6.2M97.7 151.4h6.2M100.8 148.3v6.2M91.3 163.8h6.2M94.4 160.7v6.2M101.3 123.3h6.2M104.4 120.2v6.2M97.1 167.4h6.2M100.2 164.3v6.2M92.6 165.8h6.2M95.7 162.7v6.2M106.4 149.7h6.2M109.5 146.6v6.2M89.1 170.4h6.2M92.2 167.3v6.2M89.4 152.8h6.2M92.5 149.7v6.2M96.5 138.6h6.2M99.6 135.5v6.2M89.9 163.4h6.2M93 160.3v6.2M110.4 131h6.2M113.5 127.9v6.2M114.6 149.5h6.2M117.7 146.4v6.2M84.7 149h6.2M87.8 145.9v6.2M93.3 145.4h6.2M96.4 142.3v6.2M97.4 171.9h6.2M100.5 168.8v6.2M88.4 170.6h6.2M91.5 167.5v6.2M92.6 132.8h6.2M95.7 129.7v6.2M83.2 162.3h6.2M86.3 159.2v6.2M95.5 167.2h6.2M98.6 164.1v6.2M85.7 158.9h6.2M88.8 155.8v6.2M100.1 124.9h6.2M103.2 121.8v6.2M99 168.2h6.2M102.1 165.1v6.2M102 129.2h6.2M105.1 126.1v6.2M110 135h6.2M113.1 131.9v6.2M95.4 142.1h6.2M98.5 139v6.2M99.4 165.6h6.2M102.5 162.5v6.2M81.4 155.3h6.2M84.5 152.2v6.2M105.5 127.3h6.2M108.6 124.2v6.2M101.7 151.1h6.2M104.8 148v6.2M86.3 141.8h6.2M89.4 138.7v6.2M95 168.2h6.2M98.1 165.1v6.2M94.2 139.2h6.2M97.3 136.1v6.2M104.5 128.3h6.2M107.6 125.2v6.2M87.1 150.1h6.2M90.2 147v6.2M96.6 150.4h6.2M99.7 147.3v6.2M98.9 151.9h6.2M102 148.8v6.2M94.6 131.4h6.2M97.7 128.3v6.2M87.5 146.8h6.2M90.6 143.7v6.2M102.3 149.6h6.2M105.4 146.5v6.2M111.7 133.9h6.2M114.8 130.8v6.2M92.2 157.9h6.2M95.3 154.8v6.2M84.4 158.4h6.2M87.5 155.3v6.2M85.3 146.8h6.2M88.4 143.7v6.2M116.7 149.9h6.2M119.8 146.8v6.2M107.3 134.7h6.2M110.4 131.6v6.2M96.8 148.4h6.2M99.9 145.3v6.2M91.1 147.8h6.2M94.2 144.7v6.2M88.4 147.5h6.2M91.5 144.4v6.2M88.4 143h6.2M91.5 139.9v6.2M107.9 130.8h6.2M111 127.7v6.2M87.8 172.4h6.2M90.9 169.3v6.2M92 173.1h6.2M95.1 170v6.2M104.6 124.8h6.2M107.7 121.7v6.2M101.9 132.5h6.2M105 129.4v6.2M88.9 144.6h6.2M92 141.5v6.2M83.8 142.4h6.2M86.9 139.3v6.2M87.3 153.4h6.2M90.4 150.3v6.2M97.5 148.8h6.2M100.6 145.7v6.2M84.3 160.5h6.2M87.4 157.4v6.2M94.1 161.7h6.2M97.2 158.6v6.2M103 147.4h6.2M106.1 144.3v6.2M103 122.1h6.2M106.1 119v6.2M81.6 156h6.2M84.7 152.9v6.2M111 149.4h6.2M114.1 146.3v6.2M94.4 136.1h6.2M97.5 133v6.2M96.7 134.9h6.2M99.8 131.8v6.2M105.8 127.5h6.2M108.9 124.4v6.2M86.1 167.9h6.2M89.2 164.8v6.2M96 172.9h6.2M99.1 169.8v6.2M94 161.6h6.2M97.1 158.5v6.2M115.9 151.2h6.2M119 148.1v6.2M89.6 149.5h6.2M92.7 146.4v6.2M101.8 123.6h6.2M104.9 120.5v6.2M89.6 170.9h6.2M92.7 167.8v6.2M97.1 162.7h6.2M100.2 159.6v6.2M100.2 161.4h6.2M103.3 158.3v6.2M95.1 129.5h6.2M98.2 126.4v6.2M100.8 162.2h6.2M103.9 159.1v6.2M80.7 144.7h6.2M83.8 141.6v6.2M109.8 151.9h6.2M112.9 148.8v6.2M88.3 145.2h6.2M91.4 142.1v6.2M94.7 138.1h6.2M97.8 135v6.2M105.6 133.5h6.2M108.7 130.4v6.2M84.6 140.7h6.2M87.7 137.6v6.2M87.7 139.6h6.2M90.8 136.5v6.2M94.7 166.5h6.2M97.8 163.4v6.2M86.8 157.1h6.2M89.9 154v6.2M102.7 131.8h6.2M105.8 128.7v6.2M84.1 149.7h6.2M87.2 146.6v6.2M96 173.4h6.2M99.1 170.3v6.2M97.3 166.3h6.2M100.4 163.2v6.2M102.3 127.2h6.2M105.4 124.1v6.2M92.1 137.4h6.2M95.2 134.3v6.2M86.2 142.8h6.2M89.3 139.7v6.2M97.5 163.4h6.2M100.6 160.3v6.2M98.8 168h6.2M101.9 164.9v6.2M116.3 147h6.2M119.4 143.9v6.2M85 148h6.2M88.1 144.9v6.2M104.8 150.4h6.2M107.9 147.3v6.2M89.3 168.8h6.2M92.4 165.7v6.2M105.7 146.9h6.2M108.8 143.8v6.2M80.1 158.2h6.2M83.2 155.1v6.2M92.8 141.7h6.2M95.9 138.6v6.2M96.7 172.9h6.2M99.8 169.8v6.2M87.3 166.1h6.2M90.4 163v6.2M98 134.9h6.2M101.1 131.8v6.2M100.6 148.2h6.2M103.7 145.1v6.2M88.8 140.7h6.2M91.9 137.6v6.2M91.6 169.2h6.2M94.7 166.1v6.2M79.7 159.5h6.2M82.8 156.4v6.2M95.8 162.9h6.2M98.9 159.8v6.2M112.3 150.5h6.2M115.4 147.4v6.2M84.5 159.2h6.2M87.6 156.1v6.2M98.2 151.3h6.2M101.3 148.2v6.2M104.6 123.1h6.2M107.7 120v6.2M92.6 130.7h6.2M95.7 127.6v6.2M104.2 149.9h6.2M107.3 146.8v6.2M84.4 149.7h6.2M87.5 146.6v6.2M89.6 134.8h6.2M92.7 131.7v6.2M83.5 165h6.2M86.6 161.9v6.2M100.6 130.4h6.2M103.7 127.3v6.2M95 142.8h6.2M98.1 139.7v6.2M96.3 130.5h6.2M99.4 127.4v6.2M91 131.3h6.2M94.1 128.2v6.2M96.8 148.2h6.2M99.9 145.1v6.2M98.6 160.5h6.2M101.7 157.4v6.2M83.6 168.8h6.2M86.7 165.7v6.2M83.1 151.1h6.2M86.2 148v6.2M101.2 124.4h6.2M104.3 121.3v6.2M83.8 164.5h6.2M86.9 161.4v6.2M82.9 168.1h6.2M86 165v6.2M95.5 127.3h6.2M98.6 124.2v6.2M86.2 170.6h6.2M89.3 167.5v6.2M115.5 150.7h6.2M118.6 147.6v6.2M99.7 122.9h6.2M102.8 119.8v6.2M81.1 155.9h6.2M84.2 152.8v6.2M86.2 152.3h6.2M89.3 149.2v6.2M85.6 160.6h6.2M88.7 157.5v6.2M102.3 124.8h6.2M105.4 121.7v6.2M83.8 164.8h6.2M86.9 161.7v6.2M83.4 141.7h6.2M86.5 138.6v6.2M109.4 148.8h6.2M112.5 145.7v6.2M90.4 148h6.2M93.5 144.9v6.2M80.9 154.2h6.2M84 151.1v6.2M91.5 133.5h6.2M94.6 130.4v6.2M85.5 162.7h6.2M88.6 159.6v6.2M94.9 162.5h6.2M98 159.4v6.2M88.9 150.6h6.2M92 147.5v6.2M104 151.1h6.2M107.1 148v6.2M112.7 150.9h6.2M115.8 147.8v6.2M95.4 125.6h6.2M98.5 122.5v6.2M96 142.4h6.2M99.1 139.3v6.2M91.1 166.6h6.2M94.2 163.5v6.2M115.7 147.2h6.2M118.8 144.1v6.2M78.9 162.9h6.2M82 159.8v6.2M86.5 170.4h6.2M89.6 167.3v6.2M82.5 142.1h6.2M85.6 139v6.2M95.3 140.6h6.2M98.4 137.5v6.2M109.5 133.1h6.2M112.6 130v6.2M105.3 129.4h6.2M108.4 126.3v6.2M102.4 165.4h6.2M105.5 162.3v6.2M88.8 164.5h6.2M91.9 161.4v6.2M82.8 166.8h6.2M85.9 163.7v6.2M100.1 164.3h6.2M103.2 161.2v6.2M98.2 126.3h6.2M101.3 123.2v6.2M98.5 164.7h6.2M101.6 161.6v6.2M99.9 127.9h6.2M103 124.8v6.2M98.9 135h6.2M102 131.9v6.2M104.6 126.3h6.2M107.7 123.2v6.2M79.7 158.1h6.2M82.8 155v6.2M106.1 151.4h6.2M109.2 148.3v6.2M81.9 152.3h6.2M85 149.2v6.2M105.9 153.4h6.2M109 150.3v6.2M95.5 152.3h6.2M98.6 149.2v6.2M95.6 174.3h6.2M98.7 171.2v6.2M86.1 173.5h6.2M89.2 170.4v6.2M89.4 131.3h6.2M92.5 128.2v6.2M89.3 174.6h6.2M92.4 171.5v6.2M100.3 171h6.2M103.4 167.9v6.2M80.3 146.9h6.2M83.4 143.8v6.2M88.3 174.8h6.2M91.4 171.7v6.2M100.1 133.7h6.2M103.2 130.6v6.2M105.8 128.7h6.2M108.9 125.6v6.2M94 157.5h6.2M97.1 154.4v6.2M104 145.6h6.2M107.1 142.5v6.2M93.2 172.7h6.2M96.3 169.6v6.2M85.3 141.1h6.2M88.4 138v6.2M83.8 170.6h6.2M86.9 167.5v6.2M114.8 144.7h6.2M117.9 141.6v6.2M92.7 158.8h6.2M95.8 155.7v6.2M92.3 153.9h6.2M95.4 150.8v6.2M94 146.4h6.2M97.1 143.3v6.2M98.8 152.7h6.2M101.9 149.6v6.2" fill="none" stroke="#7E2F8E" stroke-width="1.0"/>
<path d="M54.8 68.7 58.3 69.8 66.2 69.8 66.4 69.8 76 70.7 82 69.9 86.5 66.9 86.7 66.8 91.5 64.4 97 60.3 97.2 60.2 97.4 60.2 97.5 60.1 97.7 60 104.9 58.5 109.1 56.3 113.8 48.6 113.8 48.4 113.9 48.3 119.4 42.1 120.5 38.1 118.3 36.7 112.6 38.2 106.5 41.2 100.1 46.9 100 46.9 99.8 47 93.3 51 93.2 51.1 93 51.2 84.3 54.4 78 60 77.9 60.1 77.7 60.2 77.6 60.2 77.4 60.3 77.2 60.3 77.1 60.4 76.9 60.4 76.7 60.4 76.6 60.4 70.5 59.5 63.6 61.9 57.6 64.9 54.8 68.7Z" fill="#4DBEEE" fill-opacity="0.85" fill-rule="evenodd"/>
<path d="M53.3 68.2h5.4M56 65.5v5.4M54 66.2l3.9 3.9M54 70.1l3.9 -3.9M102.1 47.3h5.4M104.8 44.6v5.4M102.9 45.4l3.9 3.9M102.9 49.3l3.9 -3.9M109.3 47.3h5.4M112 44.6v5.4M110 45.3l3.9 3.9M110 49.2l3.9 -3.9M70.2 69.9h5.4M72.9 67.2v5.4M71 68l3.9 3.9M71 71.9l3.9 -3.9M116.7 40h5.4M119.4 37.3v5.4M117.5 38.1l3.9 3.9M117.5 42l3.9 -3.9M104.5 49.6h5.4M107.2 46.9v5.4M105.2 47.7l3.9 3.9M105.2 51.6l3.9 -3.9M94.1 58.6h5.4M96.8 55.9v5.4M94.9 56.6l3.9 3.9M94.9 60.5l3.9 -3.9M99.3 52.4h5.4M102 49.7v5.4M100 50.5l3.9 3.9M100 54.3l3.9 -3.9M83.9 62.2h5.4M86.6 59.5v5.4M84.7 60.2l3.9 3.9M84.7 64.1l3.9 -3.9M101.9 44.4h5.4M104.6 41.7v5.4M102.6 42.5l3.9 3.9M102.6 46.4l3.9 -3.9M84.5 58.7h5.4M87.2 56v5.4M85.2 56.8l3.9 3.9M85.2 60.7l3.9 -3.9M70.6 63.1h5.4M73.3 60.4v5.4M71.3 61.2l3.9 3.9M71.3 65l3.9 -3.9M102.4 54.9h5.4M105.1 52.2v5.4M103.2 52.9l3.9 3.9M103.2 56.8l3.9 -3.9M61.7 65.3h5.4M64.4 62.6v5.4M62.5 63.4l3.9 3.9M62.5 67.3l3.9 -3.9M64.4 63.5h5.4M67.1 60.8v5.4M65.1 61.6l3.9 3.9M65.1 65.5l3.9 -3.9M101.5 45.4h5.4M104.2 42.7v5.4M102.2 43.5l3.9 3.9M102.2 47.4l3.9 -3.9M63.7 68.2h5.4M66.4 65.5v5.4M64.5 66.2l3.9 3.9M64.5 70.1l3.9 -3.9M102.6 53h5.4M105.3 50.3v5.4M103.4 51l3.9 3.9M103.4 54.9l3.9 -3.9M113.7 42.6h5.4M116.4 39.9v5.4M114.4 40.7l3.9 3.9M114.4 44.6l3.9 -3.9M93.2 50.4h5.4M95.9 47.7v5.4M93.9 48.5l3.9 3.9M93.9 52.3l3.9 -3.9M86.9 54.2h5.4M89.6 51.5v5.4M87.6 52.3l3.9 3.9M87.6 56.1l3.9 -3.9M109 40h5.4M111.7 37.3v5.4M109.7 38l3.9 3.9M109.7 41.9l3.9 -3.9M80.5 59.4h5.4M83.2 56.7v5.4M81.3 57.5l3.9 3.9M81.3 61.3l3.9 -3.9M88 52.5h5.4M90.7 49.8v5.4M88.8 50.6l3.9 3.9M88.8 54.5l3.9 -3.9M108.1 51h5.4M110.8 48.3v5.4M108.9 49.1l3.9 3.9M108.9 53l3.9 -3.9M65 64.5h5.4M67.7 61.8v5.4M65.8 62.5l3.9 3.9M65.8 66.4l3.9 -3.9M66 63.5h5.4M68.7 60.8v5.4M66.8 61.6l3.9 3.9M66.8 65.5l3.9 -3.9M77.5 60.4h5.4M80.2 57.7v5.4M78.3 58.5l3.9 3.9M78.3 62.4l3.9 -3.9M89.1 55.6h5.4M91.8 52.9v5.4M89.8 53.7l3.9 3.9M89.8 57.6l3.9 -3.9M112.4 42.5h5.4M115.1 39.8v5.4M113.1 40.5l3.9 3.9M113.1 44.4l3.9 -3.9M105.7 51.5h5.4M108.4 48.8v5.4M106.5 49.6l3.9 3.9M106.5 53.4l3.9 -3.9M101.9 49h5.4M104.6 46.3v5.4M102.6 47l3.9 3.9M102.6 50.9l3.9 -3.9M99.3 55.9h5.4M102 53.2v5.4M100 54l3.9 3.9M100 57.9l3.9 -3.9M63.6 67.1h5.4M66.3 64.4v5.4M64.3 65.1l3.9 3.9M64.3 69l3.9 -3.9M102.6 52.7h5.4M105.3 50v5.4M103.3 50.8l3.9 3.9M103.3 54.7l3.9 -3.9M82.9 56.9h5.4M85.6 54.2v5.4M83.6 54.9l3.9 3.9M83.6 58.8l3.9 -3.9M96 56.8h5.4M98.7 54.1v5.4M96.8 54.9l3.9 3.9M96.8 58.8l3.9 -3.9M97.2 56h5.4M99.9 53.3v5.4M97.9 54.1l3.9 3.9M97.9 58l3.9 -3.9M88.3 57.8h5.4M91 55.1v5.4M89 55.8l3.9 3.9M89 59.7l3.9 -3.9M96.1 48.2h5.4M98.8 45.5v5.4M96.8 46.3l3.9 3.9M96.8 50.2l3.9 -3.9M62.3 62.6h5.4M65 59.9v5.4M63 60.6l3.9 3.9M63 64.5l3.9 -3.9M108.9 48.5h5.4M111.6 45.8v5.4M109.6 46.5l3.9 3.9M109.6 50.4l3.9 -3.9M79.1 69.7h5.4M81.8 67v5.4M79.8 67.7l3.9 3.9M79.8 71.6l3.9 -3.9M91.2 56.1h5.4M93.9 53.4v5.4M92 54.1l3.9 3.9M92 58l3.9 -3.9M57.1 68.8h5.4M59.8 66.1v5.4M57.9 66.9l3.9 3.9M57.9 70.8l3.9 -3.9M93.8 58h5.4M96.5 55.3v5.4M94.5 56l3.9 3.9M94.5 59.9l3.9 -3.9M104.3 53.2h5.4M107 50.5v5.4M105.1 51.2l3.9 3.9M105.1 55.1l3.9 -3.9M92.3 59.7h5.4M95 57v5.4M93.1 57.7l3.9 3.9M93.1 61.6l3.9 -3.9M106.3 51.5h5.4M109 48.8v5.4M107.1 49.6l3.9 3.9M107.1 53.5l3.9 -3.9M97.8 50.2h5.4M100.5 47.5v5.4M98.5 48.3l3.9 3.9M98.5 52.2l3.9 -3.9M94.1 59.6h5.4M96.8 56.9v5.4M94.8 57.6l3.9 3.9M94.8 61.5l3.9 -3.9M95.7 49.8h5.4M98.4 47.1v5.4M96.5 47.9l3.9 3.9M96.5 51.8l3.9 -3.9M70 61.4h5.4M72.7 58.7v5.4M70.8 59.5l3.9 3.9M70.8 63.4l3.9 -3.9M113.2 39.2h5.4M115.9 36.5v5.4M113.9 37.2l3.9 3.9M113.9 41.1l3.9 -3.9M113 45.1h5.4M115.7 42.4v5.4M113.7 43.2l3.9 3.9M113.7 47.1l3.9 -3.9M84.9 63.1h5.4M87.6 60.4v5.4M85.6 61.1l3.9 3.9M85.6 65l3.9 -3.9M86.6 57.1h5.4M89.3 54.4v5.4M87.3 55.2l3.9 3.9M87.3 59.1l3.9 -3.9M74.3 61.4h5.4M77 58.7v5.4M75.1 59.4l3.9 3.9M75.1 63.3l3.9 -3.9M79.9 60.4h5.4M82.6 57.7v5.4M80.6 58.4l3.9 3.9M80.6 62.3l3.9 -3.9M97 53.3h5.4M99.7 50.6v5.4M97.7 51.4l3.9 3.9M97.7 55.3l3.9 -3.9M103.9 53.8h5.4M106.6 51.1v5.4M104.6 51.8l3.9 3.9M104.6 55.7l3.9 -3.9M117.3 38.5h5.4M120 35.8v5.4M118.1 36.5l3.9 3.9M118.1 40.4l3.9 -3.9M67.8 60.4h5.4M70.5 57.7v5.4M68.5 58.4l3.9 3.9M68.5 62.3l3.9 -3.9M86.3 61.4h5.4M89 58.7v5.4M87 59.5l3.9 3.9M87 63.4l3.9 -3.9M83.3 57.6h5.4M86 54.9v5.4M84.1 55.6l3.9 3.9M84.1 59.5l3.9 -3.9M102.7 55.8h5.4M105.4 53.1v5.4M103.5 53.8l3.9 3.9M103.5 57.7l3.9 -3.9M105.6 43.6h5.4M108.3 40.9v5.4M106.4 41.6l3.9 3.9M106.4 45.5l3.9 -3.9M59.1 67h5.4M61.8 64.3v5.4M59.8 65.1l3.9 3.9M59.8 68.9l3.9 -3.9M104.9 52.6h5.4M107.6 49.9v5.4M105.6 50.7l3.9 3.9M105.6 54.6l3.9 -3.9M77.1 64.8h5.4M79.8 62.1v5.4M77.9 62.9l3.9 3.9M77.9 66.8l3.9 -3.9M105.1 52.4h5.4M107.8 49.7v5.4M105.8 50.4l3.9 3.9M105.8 54.3l3.9 -3.9M87.6 64.2h5.4M90.3 61.5v5.4M88.4 62.2l3.9 3.9M88.4 66.1l3.9 -3.9M107.4 44.1h5.4M110.1 41.4v5.4M108.1 42.1l3.9 3.9M108.1 46l3.9 -3.9M100.8 53.9h5.4M103.5 51.2v5.4M101.6 51.9l3.9 3.9M101.6 55.8l3.9 -3.9M107.5 45.2h5.4M110.2 42.5v5.4M108.3 43.3l3.9 3.9M108.3 47.1l3.9 -3.9M91.5 58h5.4M94.2 55.3v5.4M92.3 56.1l3.9 3.9M92.3 59.9l3.9 -3.9M70.8 60.8h5.4M73.5 58.1v5.4M71.5 58.8l3.9 3.9M71.5 62.7l3.9 -3.9M59.8 66.5h5.4M62.5 63.8v5.4M60.6 64.5l3.9 3.9M60.6 68.4l3.9 -3.9M77.9 64.1h5.4M80.6 61.4v5.4M78.7 62.1l3.9 3.9M78.7 66l3.9 -3.9M62.9 67h5.4M65.6 64.3v5.4M63.7 65.1l3.9 3.9M63.7 69l3.9 -3.9M78 58h5.4M80.7 55.3v5.4M78.8 56.1l3.9 3.9M78.8 60l3.9 -3.9M60.8 64h5.4M63.5 61.3v5.4M61.6 62.1l3.9 3.9M61.6 66l3.9 -3.9M98.3 57.5h5.4M101 54.8v5.4M99.1 55.5l3.9 3.9M99.1 59.4l3.9 -3.9M83.7 59.4h5.4M86.4 56.7v5.4M84.5 57.4l3.9 3.9M84.5 61.3l3.9 -3.9M66.1 62h5.4M68.8 59.3v5.4M66.9 60.1l3.9 3.9M66.9 64l3.9 -3.9M98.7 53.6h5.4M101.4 50.9v5.4M99.5 51.6l3.9 3.9M99.5 55.5l3.9 -3.9M103.8 46h5.4M106.5 43.3v5.4M104.6 44.1l3.9 3.9M104.6 48l3.9 -3.9M103 56.8h5.4M105.7 54.1v5.4M103.7 54.8l3.9 3.9M103.7 58.7l3.9 -3.9M108.9 41.6h5.4M111.6 38.9v5.4M109.7 39.7l3.9 3.9M109.7 43.6l3.9 -3.9M111.5 41.2h5.4M114.2 38.5v5.4M112.2 39.3l3.9 3.9M112.2 43.2l3.9 -3.9M80.6 64.5h5.4M83.3 61.8v5.4M81.4 62.5l3.9 3.9M81.4 66.4l3.9 -3.9M110.9 42.9h5.4M113.6 40.2v5.4M111.6 41l3.9 3.9M111.6 44.9l3.9 -3.9M59 64.7h5.4M61.7 62v5.4M59.8 62.8l3.9 3.9M59.8 66.7l3.9 -3.9M102.2 47.4h5.4M104.9 44.7v5.4M102.9 45.4l3.9 3.9M102.9 49.3l3.9 -3.9M100.5 46.5h5.4M103.2 43.8v5.4M101.2 44.6l3.9 3.9M101.2 48.5l3.9 -3.9M105.1 46h5.4M107.8 43.3v5.4M105.8 44.1l3.9 3.9M105.8 47.9l3.9 -3.9M71.4 68.5h5.4M74.1 65.8v5.4M72.1 66.5l3.9 3.9M72.1 70.4l3.9 -3.9M113 41h5.4M115.7 38.3v5.4M113.7 39l3.9 3.9M113.7 42.9l3.9 -3.9M66.1 64.9h5.4M68.8 62.2v5.4M66.9 63l3.9 3.9M66.9 66.8l3.9 -3.9M60.5 69.3h5.4M63.2 66.6v5.4M61.2 67.3l3.9 3.9M61.2 71.2l3.9 -3.9M104.6 50h5.4M107.3 47.3v5.4M105.4 48.1l3.9 3.9M105.4 51.9l3.9 -3.9M62.9 64.8h5.4M65.6 62.1v5.4M63.7 62.9l3.9 3.9M63.7 66.8l3.9 -3.9M93.6 56.4h5.4M96.3 53.7v5.4M94.3 54.4l3.9 3.9M94.3 58.3l3.9 -3.9M100.1 52.3h5.4M102.8 49.6v5.4M100.8 50.3l3.9 3.9M100.8 54.2l3.9 -3.9M73.2 64.7h5.4M75.9 62v5.4M74 62.8l3.9 3.9M74 66.7l3.9 -3.9M107.2 40h5.4M109.9 37.3v5.4M108 38.1l3.9 3.9M108 42l3.9 -3.9M98.1 53.6h5.4M100.8 50.9v5.4M98.9 51.7l3.9 3.9M98.9 55.6l3.9 -3.9M97.6 55.4h5.4M100.3 52.7v5.4M98.4 53.5l3.9 3.9M98.4 57.3l3.9 -3.9M61.2 65.1h5.4M63.9 62.4v5.4M61.9 63.1l3.9 3.9M61.9 67l3.9 -3.9M107 48.4h5.4M109.7 45.7v5.4M107.8 46.5l3.9 3.9M107.8 50.4l3.9 -3.9M81.3 55.5h5.4M84 52.8v5.4M82.1 53.5l3.9 3.9M82.1 57.4l3.9 -3.9M78.6 62.8h5.4M81.3 60.1v5.4M79.4 60.9l3.9 3.9M79.4 64.8l3.9 -3.9M100.5 48.4h5.4M103.2 45.7v5.4M101.2 46.5l3.9 3.9M101.2 50.4l3.9 -3.9M57.2 67.9h5.4M59.9 65.2v5.4M58 66l3.9 3.9M58 69.9l3.9 -3.9M82.3 61.1h5.4M85 58.4v5.4M83.1 59.1l3.9 3.9M83.1 63l3.9 -3.9M85.4 53.6h5.4M88.1 50.9v5.4M86.1 51.6l3.9 3.9M86.1 55.5l3.9 -3.9M81.9 67.4h5.4M84.6 64.7v5.4M82.6 65.4l3.9 3.9M82.6 69.3l3.9 -3.9M108.1 42.5h5.4M110.8 39.8v5.4M108.8 40.5l3.9 3.9M108.8 44.4l3.9 -3.9M66.9 64h5.4M69.6 61.3v5.4M67.7 62l3.9 3.9M67.7 65.9l3.9 -3.9M99 57.8h5.4M101.7 55.1v5.4M99.7 55.9l3.9 3.9M99.7 59.8l3.9 -3.9M68.1 68.5h5.4M70.8 65.8v5.4M68.9 66.6l3.9 3.9M68.9 70.5l3.9 -3.9M67.4 65.3h5.4M70.1 62.6v5.4M68.1 63.4l3.9 3.9M68.1 67.3l3.9 -3.9M79.9 67.8h5.4M82.6 65.1v5.4M80.7 65.8l3.9 3.9M80.7 69.7l3.9 -3.9M92.5 58.1h5.4M95.2 55.4v5.4M93.3 56.1l3.9 3.9M93.3 60l3.9 -3.9M62.2 64.2h5.4M64.9 61.5v5.4M63 62.3l3.9 3.9M63 66.1l3.9 -3.9M91.4 51.8h5.4M94.1 49.1v5.4M92.2 49.9l3.9 3.9M92.2 53.7l3.9 -3.9M103.3 53.7h5.4M106 51v5.4M104 51.8l3.9 3.9M104 55.7l3.9 -3.9M112 41.4h5.4M114.7 38.7v5.4M112.7 39.4l3.9 3.9M112.7 43.3l3.9 -3.9M106 42.1h5.4M108.7 39.4v5.4M106.7 40.1l3.9 3.9M106.7 44l3.9 -3.9M102.9 53.7h5.4M105.6 51v5.4M103.7 51.8l3.9 3.9M103.7 55.7l3.9 -3.9M83.7 65.4h5.4M86.4 62.7v5.4M84.5 63.5l3.9 3.9M84.5 67.4l3.9 -3.9M80.7 68.5h5.4M83.4 65.8v5.4M81.5 66.6l3.9 3.9M81.5 70.5l3.9 -3.9M105.9 44.2h5.4M108.6 41.5v5.4M106.7 42.2l3.9 3.9M106.7 46.1l3.9 -3.9M107.5 50.6h5.4M110.2 47.9v5.4M108.2 48.7l3.9 3.9M108.2 52.6l3.9 -3.9M59.5 66.6h5.4M62.2 63.9v5.4M60.3 64.6l3.9 3.9M60.3 68.5l3.9 -3.9M98.3 52.4h5.4M101 49.7v5.4M99 50.4l3.9 3.9M99 54.3l3.9 -3.9M108.7 48.4h5.4M111.4 45.7v5.4M109.5 46.5l3.9 3.9M109.5 50.4l3.9 -3.9M75.6 65.2h5.4M78.3 62.5v5.4M76.4 63.2l3.9 3.9M76.4 67.1l3.9 -3.9M82.9 59.3h5.4M85.6 56.6v5.4M83.7 57.4l3.9 3.9M83.7 61.3l3.9 -3.9M62.4 68.6h5.4M65.1 65.9v5.4M63.1 66.7l3.9 3.9M63.1 70.6l3.9 -3.9M73.1 70.3h5.4M75.8 67.6v5.4M73.8 68.4l3.9 3.9M73.8 72.3l3.9 -3.9M87.9 53.2h5.4M90.6 50.5v5.4M88.6 51.2l3.9 3.9M88.6 55.1l3.9 -3.9M111.2 36.6h5.4M113.9 33.9v5.4M112 34.7l3.9 3.9M112 38.6l3.9 -3.9M56.5 70.6h5.4M59.2 67.9v5.4M57.3 68.6l3.9 3.9M57.3 72.5l3.9 -3.9M110.3 48.4h5.4M113 45.7v5.4M111 46.4l3.9 3.9M111 50.3l3.9 -3.9M116.8 38.5h5.4M119.5 35.8v5.4M117.6 36.5l3.9 3.9M117.6 40.4l3.9 -3.9M93.3 59.2h5.4M96 56.5v5.4M94.1 57.3l3.9 3.9M94.1 61.2l3.9 -3.9M79.1 69.9h5.4M81.8 67.2v5.4M79.8 67.9l3.9 3.9M79.8 71.8l3.9 -3.9M52.5 65.5h5.4M55.2 62.8v5.4M53.2 63.6l3.9 3.9M53.2 67.5l3.9 -3.9M117.6 41.6h5.4M120.3 38.9v5.4M118.3 39.7l3.9 3.9M118.3 43.6l3.9 -3.9M61.8 70h5.4M64.5 67.3v5.4M62.6 68l3.9 3.9M62.6 71.9l3.9 -3.9M106 39.4h5.4M108.7 36.7v5.4M106.8 37.5l3.9 3.9M106.8 41.4l3.9 -3.9M60.9 60.8h5.4M63.6 58.1v5.4M61.6 58.8l3.9 3.9M61.6 62.7l3.9 -3.9M83 66h5.4M85.7 63.3v5.4M83.8 64l3.9 3.9M83.8 67.9l3.9 -3.9M102.3 42.6h5.4M105 39.9v5.4M103.1 40.7l3.9 3.9M103.1 44.6l3.9 -3.9M109.9 50.5h5.4M112.6 47.8v5.4M110.6 48.5l3.9 3.9M110.6 52.4l3.9 -3.9M100.5 44.8h5.4M103.2 42.1v5.4M101.3 42.8l3.9 3.9M101.3 46.7l3.9 -3.9M73.8 59.5h5.4M76.5 56.8v5.4M74.5 57.5l3.9 3.9M74.5 61.4l3.9 -3.9M98.7 60.5h5.4M101.4 57.8v5.4M99.4 58.6l3.9 3.9M99.4 62.5l3.9 -3.9M55.9 65.9h5.4M58.6 63.2v5.4M56.6 64l3.9 3.9M56.6 67.8l3.9 -3.9M53.1 70h5.4M55.8 67.3v5.4M53.9 68l3.9 3.9M53.9 71.9l3.9 -3.9" fill="none" stroke="#4DBEEE" stroke-width="1.0"/>
</g>
<path d="M35.5 229.8v-2.3M35.5 13.4v2.3M87 229.8v-2.3M87 13.4v2.3M138.5 229.8v-2.3M138.5 13.4v2.3M190 229.8v-2.3M190 13.4v2.3M241.5 229.8v-2.3M241.5 13.4v2.3M35.5 229.8h2.3M267.2 229.8h-2.3M35.5 205.8h2.3M267.2 205.8h-2.3M35.5 181.7h2.3M267.2 181.7h-2.3M35.5 157.7h2.3M267.2 157.7h-2.3M35.5 133.6h2.3M267.2 133.6h-2.3M35.5 109.6h2.3M267.2 109.6h-2.3M35.5 85.5h2.3M267.2 85.5h-2.3M35.5 61.5h2.3M267.2 61.5h-2.3M35.5 37.4h2.3M267.2 37.4h-2.3M35.5 13.4h2.3M267.2 13.4h-2.3" stroke="#262626" stroke-width="0.9" fill="none"/>
<rect x="35.5" y="13.4" width="231.7" height="216.4" fill="none" stroke="#262626" stroke-width="1.1"/>
<text x="35.5" y="243.9" font-size="10.1" text-anchor="middle" fill="#262626">-40</text>
<text x="87" y="243.9" font-size="10.1" text-anchor="middle" fill="#262626">-20</text>
<text x="138.5" y="243.9" font-size="10.1" text-anchor="middle" fill="#262626">0</text>
<text x="190" y="243.9" font-size="10.1" text-anchor="middle" fill="#262626">20</text>
<text x="241.5" y="243.9" font-size="10.1" text-anchor="middle" fill="#262626">40</text>
<text x="30.9" y="233.9" font-size="10.1" text-anchor="end" fill="#262626">-50</text>
<text x="30.9" y="209.9" font-size="10.1" text-anchor="end" fill="#262626">-40</text>
<text x="30.9" y="185.8" font-size="10.1" text-anchor="end" fill="#262626">-30</text>
<text x="30.9" y="161.8" font-size="10.1" text-anchor="end" fill="#262626">-20</text>
<text x="30.9" y="137.7" font-size="10.1" text-anchor="end" fill="#262626">-10</text>
<text x="30.9" y="113.7" font-size="10.1" text-anchor="end" fill="#262626">0</text>
<text x="30.9" y="89.6" font-size="10.1" text-anchor="end" fill="#262626">10</text>
<text x="30.9" y="65.6" font-size="10.1" text-anchor="end" fill="#262626">20</text>
<text x="30.9" y="41.5" font-size="10.1" text-anchor="end" fill="#262626">30</text>
<text x="30.9" y="17.5" font-size="10.1" text-anchor="end" fill="#262626">40</text>
<text x="151.3" y="256.6" font-size="10.25" text-anchor="middle" fill="#262626">Dimension-1</text>
<text transform="translate(12.3 121.6) rotate(-90)" font-size="10.25" text-anchor="middle" fill="#262626">Dimension-2</text>
<text x="151.3" y="10.6" font-size="10.3" font-weight="bold" text-anchor="middle" fill="#000">(a) LIBS: raw data</text>
<rect x="201.5" y="149.5" width="59.3" height="73.8" fill="#fff" stroke="#262626" stroke-width="1"/>
<path d="M215.8 156.7a2.95 2.95 0 1 0 5.9 0a2.95 2.95 0 1 0 -5.9 0" fill="none" stroke="#D95319" stroke-width="0.8"/>
<text x="234" y="160.7" font-size="10.3" fill="#000">Cls-1</text>
<path d="M218.7 164.5l2.9 4.0 -2.9 4.0 -2.9 -4.0z" fill="none" stroke="#0072BD" stroke-width="0.8"/>
<text x="234" y="172.5" font-size="10.3" fill="#000">Cls-2</text>
<path d="M218.7 177.2l3.3 5.8h-6.6z" fill="none" stroke="#EDB120" stroke-width="0.8"/>
<text x="234" y="184.4" font-size="10.3" fill="#000">Cls-3</text>
<path d="M216.4 190h4.5v4.5h-4.5z" fill="none" stroke="#77AC30" stroke-width="0.8"/>
<text x="234" y="196.2" font-size="10.3" fill="#000">Cls-4</text>
<path d="M215.6 204.1h6.2M218.7 201v6.2" fill="none" stroke="#7E2F8E" stroke-width="0.8"/>
<text x="234" y="208.1" font-size="10.3" fill="#000">Cls-5</text>
<circle cx="218.7" cy="215.9" r="2.4" fill="#4DBEEE"/>
<text x="234" y="219.9" font-size="10.3" fill="#000">Cls-6</text>
<rect x="310.7" y="13.4" width="231.8" height="216.1" fill="#fff"/>
<clipPath id="cb"><rect x="309.7" y="12.4" width="233.8" height="218.1"/></clipPath>
<g clip-path="url(#cb)">
<path d="M342.3 132.8 344 135.5 354.7 139.3 367.7 141.7 367.8 141.7 368 141.8 368.2 141.8 368.4 141.9 374.9 146 375 146.1 375.2 146.3 375.3 146.4 375.4 146.5 375.5 146.7 375.6 146.9 375.7 147 375.7 147.2 375.8 147.4 377.5 158.9 377.5 159.1 377.5 159.3 377.5 159.5 377.4 159.7 377.4 159.8 374.4 168.6 376.4 171.1 385.4 170.7 385.6 170.7 385.7 170.7 392.4 171.6 397.5 169.4 399.8 161.4 400.7 151.4 396.6 144.7 391.2 137.7 386 132.4 375.3 130.9 363.9 130.1 348.1 129.3 342.3 132.8Z" fill="#D95319" fill-opacity="0.45" fill-rule="evenodd"/>
<path d="M413.1 141.5a2.95 2.95 0 1 0 5.9 0a2.95 2.95 0 1 0 -5.9 0M417.1 142.5a2.95 2.95 0 1 0 5.9 0a2.95 2.95 0 1 0 -5.9 0M446.2 159.1a2.95 2.95 0 1 0 5.9 0a2.95 2.95 0 1 0 -5.9 0M411.6 168.2a2.95 2.95 0 1 0 5.9 0a2.95 2.95 0 1 0 -5.9 0M399.1 177a2.95 2.95 0 1 0 5.9 0a2.95 2.95 0 1 0 -5.9 0M403.1 179.5a2.95 2.95 0 1 0 5.9 0a2.95 2.95 0 1 0 -5.9 0M401.1 183a2.95 2.95 0 1 0 5.9 0a2.95 2.95 0 1 0 -5.9 0M465.6 148.2a2.95 2.95 0 1 0 5.9 0a2.95 2.95 0 1 0 -5.9 0M319.1 214.5a2.95 2.95 0 1 0 5.9 0a2.95 2.95 0 1 0 -5.9 0M395.1 162a2.95 2.95 0 1 0 5.9 0a2.95 2.95 0 1 0 -5.9 0M411.1 168.5a2.95 2.95 0 1 0 5.9 0a2.95 2.95 0 1 0 -5.9 0M415.1 140a2.95 2.95 0 1 0 5.9 0a2.95 2.95 0 1 0 -5.9 0M373.6 144.7a2.95 2.95 0 1 0 5.9 0a2.95 2.95 0 1 0 -5.9 0M394.6 154.3a2.95 2.95 0 1 0 5.9 0a2.95 2.95 0 1 0 -5.9 0M376 155.5a2.95 2.95 0 1 0 5.9 0a2.95 2.95 0 1 0 -5.9 0M354.3 135.9a2.95 2.95 0 1 0 5.9 0a2.95 2.95 0 1 0 -5.9 0M376.8 133.1a2.95 2.95 0 1 0 5.9 0a2.95 2.95 0 1 0 -5.9 0M393.4 147.8a2.95 2.95 0 1 0 5.9 0a2.95 2.95 0 1 0 -5.9 0M377.9 144.3a2.95 2.95 0 1 0 5.9 0a2.95 2.95 0 1 0 -5.9 0M366.9 140.2a2.95 2.95 0 1 0 5.9 0a2.95 2.95 0 1 0 -5.9 0M380.7 148.8a2.95 2.95 0 1 0 5.9 0a2.95 2.95 0 1 0 -5.9 0M377.7 142.7a2.95 2.95 0 1 0 5.9 0a2.95 2.95 0 1 0 -5.9 0M396.6 159.9a2.95 2.95 0 1 0 5.9 0a2.95 2.95 0 1 0 -5.9 0M375.5 167.8a2.95 2.95 0 1 0 5.9 0a2.95 2.95 0 1 0 -5.9 0M386.5 151.9a2.95 2.95 0 1 0 5.9 0a2.95 2.95 0 1 0 -5.9 0M383.4 140.9a2.95 2.95 0 1 0 5.9 0a2.95 2.95 0 1 0 -5.9 0M382.3 162.9a2.95 2.95 0 1 0 5.9 0a2.95 2.95 0 1 0 -5.9 0M393.8 148.2a2.95 2.95 0 1 0 5.9 0a2.95 2.95 0 1 0 -5.9 0M349 137.4a2.95 2.95 0 1 0 5.9 0a2.95 2.95 0 1 0 -5.9 0M378.7 132.2a2.95 2.95 0 1 0 5.9 0a2.95 2.95 0 1 0 -5.9 0M352.8 131.4a2.95 2.95 0 1 0 5.9 0a2.95 2.95 0 1 0 -5.9 0M386.2 166.8a2.95 2.95 0 1 0 5.9 0a2.95 2.95 0 1 0 -5.9 0M358.9 132.8a2.95 2.95 0 1 0 5.9 0a2.95 2.95 0 1 0 -5.9 0M386.2 147a2.95 2.95 0 1 0 5.9 0a2.95 2.95 0 1 0 -5.9 0M383.4 156.2a2.95 2.95 0 1 0 5.9 0a2.95 2.95 0 1 0 -5.9 0M347.3 134.9a2.95 2.95 0 1 0 5.9 0a2.95 2.95 0 1 0 -5.9 0M343.3 132.7a2.95 2.95 0 1 0 5.9 0a2.95 2.95 0 1 0 -5.9 0M366.2 135.4a2.95 2.95 0 1 0 5.9 0a2.95 2.95 0 1 0 -5.9 0M390.5 144.6a2.95 2.95 0 1 0 5.9 0a2.95 2.95 0 1 0 -5.9 0M375.6 169.3a2.95 2.95 0 1 0 5.9 0a2.95 2.95 0 1 0 -5.9 0M383.1 142.6a2.95 2.95 0 1 0 5.9 0a2.95 2.95 0 1 0 -5.9 0M390.6 165.6a2.95 2.95 0 1 0 5.9 0a2.95 2.95 0 1 0 -5.9 0M346.1 134.1a2.95 2.95 0 1 0 5.9 0a2.95 2.95 0 1 0 -5.9 0M379.5 140a2.95 2.95 0 1 0 5.9 0a2.95 2.95 0 1 0 -5.9 0M375.4 160.2a2.95 2.95 0 1 0 5.9 0a2.95 2.95 0 1 0 -5.9 0M390.5 141.7a2.95 2.95 0 1 0 5.9 0a2.95 2.95 0 1 0 -5.9 0M394.3 160.9a2.95 2.95 0 1 0 5.9 0a2.95 2.95 0 1 0 -5.9 0M395 164.5a2.95 2.95 0 1 0 5.9 0a2.95 2.95 0 1 0 -5.9 0M375.5 156.8a2.95 2.95 0 1 0 5.9 0a2.95 2.95 0 1 0 -5.9 0M393.8 166.8a2.95 2.95 0 1 0 5.9 0a2.95 2.95 0 1 0 -5.9 0M385.7 169.3a2.95 2.95 0 1 0 5.9 0a2.95 2.95 0 1 0 -5.9 0M382.7 134.5a2.95 2.95 0 1 0 5.9 0a2.95 2.95 0 1 0 -5.9 0M370.3 132a2.95 2.95 0 1 0 5.9 0a2.95 2.95 0 1 0 -5.9 0M396.1 155a2.95 2.95 0 1 0 5.9 0a2.95 2.95 0 1 0 -5.9 0M381.1 157.1a2.95 2.95 0 1 0 5.9 0a2.95 2.95 0 1 0 -5.9 0M360.8 130.9a2.95 2.95 0 1 0 5.9 0a2.95 2.95 0 1 0 -5.9 0M382.8 136.6a2.95 2.95 0 1 0 5.9 0a2.95 2.95 0 1 0 -5.9 0M391.9 168.2a2.95 2.95 0 1 0 5.9 0a2.95 2.95 0 1 0 -5.9 0M341 134.7a2.95 2.95 0 1 0 5.9 0a2.95 2.95 0 1 0 -5.9 0M368.6 138.2a2.95 2.95 0 1 0 5.9 0a2.95 2.95 0 1 0 -5.9 0M377.7 161.7a2.95 2.95 0 1 0 5.9 0a2.95 2.95 0 1 0 -5.9 0M390.9 148.8a2.95 2.95 0 1 0 5.9 0a2.95 2.95 0 1 0 -5.9 0M364 140.1a2.95 2.95 0 1 0 5.9 0a2.95 2.95 0 1 0 -5.9 0M340.6 133.2a2.95 2.95 0 1 0 5.9 0a2.95 2.95 0 1 0 -5.9 0M369.3 142.1a2.95 2.95 0 1 0 5.9 0a2.95 2.95 0 1 0 -5.9 0M385.1 166.2a2.95 2.95 0 1 0 5.9 0a2.95 2.95 0 1 0 -5.9 0M364.1 136.3a2.95 2.95 0 1 0 5.9 0a2.95 2.95 0 1 0 -5.9 0M346.6 133.6a2.95 2.95 0 1 0 5.9 0a2.95 2.95 0 1 0 -5.9 0M391.3 150.3a2.95 2.95 0 1 0 5.9 0a2.95 2.95 0 1 0 -5.9 0M393.8 162.2a2.95 2.95 0 1 0 5.9 0a2.95 2.95 0 1 0 -5.9 0M382.2 167.8a2.95 2.95 0 1 0 5.9 0a2.95 2.95 0 1 0 -5.9 0M360.9 138.7a2.95 2.95 0 1 0 5.9 0a2.95 2.95 0 1 0 -5.9 0M354.3 135.1a2.95 2.95 0 1 0 5.9 0a2.95 2.95 0 1 0 -5.9 0M373.4 138.6a2.95 2.95 0 1 0 5.9 0a2.95 2.95 0 1 0 -5.9 0M349 137.1a2.95 2.95 0 1 0 5.9 0a2.95 2.95 0 1 0 -5.9 0M381.2 136.6a2.95 2.95 0 1 0 5.9 0a2.95 2.95 0 1 0 -5.9 0M377.8 158.3a2.95 2.95 0 1 0 5.9 0a2.95 2.95 0 1 0 -5.9 0M349.9 134.1a2.95 2.95 0 1 0 5.9 0a2.95 2.95 0 1 0 -5.9 0M382.9 135.7a2.95 2.95 0 1 0 5.9 0a2.95 2.95 0 1 0 -5.9 0M387 145.9a2.95 2.95 0 1 0 5.9 0a2.95 2.95 0 1 0 -5.9 0M379.2 156.9a2.95 2.95 0 1 0 5.9 0a2.95 2.95 0 1 0 -5.9 0M353.7 136.6a2.95 2.95 0 1 0 5.9 0a2.95 2.95 0 1 0 -5.9 0M396.6 156.6a2.95 2.95 0 1 0 5.9 0a2.95 2.95 0 1 0 -5.9 0M384.2 157.8a2.95 2.95 0 1 0 5.9 0a2.95 2.95 0 1 0 -5.9 0M380.6 169.2a2.95 2.95 0 1 0 5.9 0a2.95 2.95 0 1 0 -5.9 0M383 142.7a2.95 2.95 0 1 0 5.9 0a2.95 2.95 0 1 0 -5.9 0M388.5 158.7a2.95 2.95 0 1 0 5.9 0a2.95 2.95 0 1 0 -5.9 0M349.5 131.9a2.95 2.95 0 1 0 5.9 0a2.95 2.95 0 1 0 -5.9 0M380.4 155.2a2.95 2.95 0 1 0 5.9 0a2.95 2.95 0 1 0 -5.9 0M365.2 137.5a2.95 2.95 0 1 0 5.9 0a2.95 2.95 0 1 0 -5.9 0M392 151a2.95 2.95 0 1 0 5.9 0a2.95 2.95 0 1 0 -5.9 0M393.2 153.3a2.95 2.95 0 1 0 5.9 0a2.95 2.95 0 1 0 -5.9 0M348.3 137.2a2.95 2.95 0 1 0 5.9 0a2.95 2.95 0 1 0 -5.9 0M383.4 149.5a2.95 2.95 0 1 0 5.9 0a2.95 2.95 0 1 0 -5.9 0M378.7 147.7a2.95 2.95 0 1 0 5.9 0a2.95 2.95 0 1 0 -5.9 0M345.8 134.8a2.95 2.95 0 1 0 5.9 0a2.95 2.95 0 1 0 -5.9 0M359.3 138a2.95 2.95 0 1 0 5.9 0a2.95 2.95 0 1 0 -5.9 0M354.1 131.3a2.95 2.95 0 1 0 5.9 0a2.95 2.95 0 1 0 -5.9 0M377.6 167.4a2.95 2.95 0 1 0 5.9 0a2.95 2.95 0 1 0 -5.9 0M382.1 146.4a2.95 2.95 0 1 0 5.9 0a2.95 2.95 0 1 0 -5.9 0M382.7 166.6a2.95 2.95 0 1 0 5.9 0a2.95 2.95 0 1 0 -5.9 0M380.3 163.2a2.95 2.95 0 1 0 5.9 0a2.95 2.95 0 1 0 -5.9 0M386.8 162.7a2.95 2.95 0 1 0 5.9 0a2.95 2.95 0 1 0 -5.9 0M385.4 147.7a2.95 2.95 0 1 0 5.9 0a2.95 2.95 0 1 0 -5.9 0M356.9 135.9a2.95 2.95 0 1 0 5.9 0a2.95 2.95 0 1 0 -5.9 0M374.2 133.2a2.95 2.95 0 1 0 5.9 0a2.95 2.95 0 1 0 -5.9 0M375.4 163.3a2.95 2.95 0 1 0 5.9 0a2.95 2.95 0 1 0 -5.9 0M378.9 167.7a2.95 2.95 0 1 0 5.9 0a2.95 2.95 0 1 0 -5.9 0M392.8 150a2.95 2.95 0 1 0 5.9 0a2.95 2.95 0 1 0 -5.9 0M384.6 137a2.95 2.95 0 1 0 5.9 0a2.95 2.95 0 1 0 -5.9 0M385 153.4a2.95 2.95 0 1 0 5.9 0a2.95 2.95 0 1 0 -5.9 0M393.7 163.5a2.95 2.95 0 1 0 5.9 0a2.95 2.95 0 1 0 -5.9 0M377 165.8a2.95 2.95 0 1 0 5.9 0a2.95 2.95 0 1 0 -5.9 0M370.4 142.7a2.95 2.95 0 1 0 5.9 0a2.95 2.95 0 1 0 -5.9 0M370.4 143.5a2.95 2.95 0 1 0 5.9 0a2.95 2.95 0 1 0 -5.9 0M373.5 166.4a2.95 2.95 0 1 0 5.9 0a2.95 2.95 0 1 0 -5.9 0M371.8 138.5a2.95 2.95 0 1 0 5.9 0a2.95 2.95 0 1 0 -5.9 0M349 135.2a2.95 2.95 0 1 0 5.9 0a2.95 2.95 0 1 0 -5.9 0M363.2 136a2.95 2.95 0 1 0 5.9 0a2.95 2.95 0 1 0 -5.9 0M354.3 133.6a2.95 2.95 0 1 0 5.9 0a2.95 2.95 0 1 0 -5.9 0M388.2 143.2a2.95 2.95 0 1 0 5.9 0a2.95 2.95 0 1 0 -5.9 0M389 159.2a2.95 2.95 0 1 0 5.9 0a2.95 2.95 0 1 0 -5.9 0M378.3 153.9a2.95 2.95 0 1 0 5.9 0a2.95 2.95 0 1 0 -5.9 0M348.7 130.8a2.95 2.95 0 1 0 5.9 0a2.95 2.95 0 1 0 -5.9 0M396.2 152.6a2.95 2.95 0 1 0 5.9 0a2.95 2.95 0 1 0 -5.9 0M378.5 157.4a2.95 2.95 0 1 0 5.9 0a2.95 2.95 0 1 0 -5.9 0M391.2 169.1a2.95 2.95 0 1 0 5.9 0a2.95 2.95 0 1 0 -5.9 0M375.6 153a2.95 2.95 0 1 0 5.9 0a2.95 2.95 0 1 0 -5.9 0M384.6 135.1a2.95 2.95 0 1 0 5.9 0a2.95 2.95 0 1 0 -5.9 0M390.7 159.5a2.95 2.95 0 1 0 5.9 0a2.95 2.95 0 1 0 -5.9 0M395.4 165.5a2.95 2.95 0 1 0 5.9 0a2.95 2.95 0 1 0 -5.9 0M352.4 133.6a2.95 2.95 0 1 0 5.9 0a2.95 2.95 0 1 0 -5.9 0M395 152.1a2.95 2.95 0 1 0 5.9 0a2.95 2.95 0 1 0 -5.9 0M370.3 136.1a2.95 2.95 0 1 0 5.9 0a2.95 2.95 0 1 0 -5.9 0M374.4 150.9a2.95 2.95 0 1 0 5.9 0a2.95 2.95 0 1 0 -5.9 0M380 148.1a2.95 2.95 0 1 0 5.9 0a2.95 2.95 0 1 0 -5.9 0M351.5 136.5a2.95 2.95 0 1 0 5.9 0a2.95 2.95 0 1 0 -5.9 0M374.4 163.8a2.95 2.95 0 1 0 5.9 0a2.95 2.95 0 1 0 -5.9 0M353.2 130.8a2.95 2.95 0 1 0 5.9 0a2.95 2.95 0 1 0 -5.9 0M377.2 149.3a2.95 2.95 0 1 0 5.9 0a2.95 2.95 0 1 0 -5.9 0M357.8 138.9a2.95 2.95 0 1 0 5.9 0a2.95 2.95 0 1 0 -5.9 0M374.4 168.9a2.95 2.95 0 1 0 5.9 0a2.95 2.95 0 1 0 -5.9 0M355.1 136.5a2.95 2.95 0 1 0 5.9 0a2.95 2.95 0 1 0 -5.9 0M374.7 167.2a2.95 2.95 0 1 0 5.9 0a2.95 2.95 0 1 0 -5.9 0M380.9 135.6a2.95 2.95 0 1 0 5.9 0a2.95 2.95 0 1 0 -5.9 0M388.9 139.5a2.95 2.95 0 1 0 5.9 0a2.95 2.95 0 1 0 -5.9 0M393.8 148.1a2.95 2.95 0 1 0 5.9 0a2.95 2.95 0 1 0 -5.9 0M382.9 164.8a2.95 2.95 0 1 0 5.9 0a2.95 2.95 0 1 0 -5.9 0M373.5 136.3a2.95 2.95 0 1 0 5.9 0a2.95 2.95 0 1 0 -5.9 0M373.3 144.5a2.95 2.95 0 1 0 5.9 0a2.95 2.95 0 1 0 -5.9 0M351.2 133.1a2.95 2.95 0 1 0 5.9 0a2.95 2.95 0 1 0 -5.9 0M385.1 157.1a2.95 2.95 0 1 0 5.9 0a2.95 2.95 0 1 0 -5.9 0M382.7 158.6a2.95 2.95 0 1 0 5.9 0a2.95 2.95 0 1 0 -5.9 0M395.2 159a2.95 2.95 0 1 0 5.9 0a2.95 2.95 0 1 0 -5.9 0M382.6 141.8a2.95 2.95 0 1 0 5.9 0a2.95 2.95 0 1 0 -5.9 0M378.7 143.1a2.95 2.95 0 1 0 5.9 0a2.95 2.95 0 1 0 -5.9 0M376.8 158.8a2.95 2.95 0 1 0 5.9 0a2.95 2.95 0 1 0 -5.9 0M369.5 138.6a2.95 2.95 0 1 0 5.9 0a2.95 2.95 0 1 0 -5.9 0M392.9 167.9a2.95 2.95 0 1 0 5.9 0a2.95 2.95 0 1 0 -5.9 0M368.5 136.5a2.95 2.95 0 1 0 5.9 0a2.95 2.95 0 1 0 -5.9 0M368.9 133.5a2.95 2.95 0 1 0 5.9 0a2.95 2.95 0 1 0 -5.9 0M357.1 134.6a2.95 2.95 0 1 0 5.9 0a2.95 2.95 0 1 0 -5.9 0M372.7 143.5a2.95 2.95 0 1 0 5.9 0a2.95 2.95 0 1 0 -5.9 0M370.7 143.4a2.95 2.95 0 1 0 5.9 0a2.95 2.95 0 1 0 -5.9 0M377 143.9a2.95 2.95 0 1 0 5.9 0a2.95 2.95 0 1 0 -5.9 0M377.8 151.1a2.95 2.95 0 1 0 5.9 0a2.95 2.95 0 1 0 -5.9 0M394.3 157.3a2.95 2.95 0 1 0 5.9 0a2.95 2.95 0 1 0 -5.9 0M380.1 167.2a2.95 2.95 0 1 0 5.9 0a2.95 2.95 0 1 0 -5.9 0M388.7 166.4a2.95 2.95 0 1 0 5.9 0a2.95 2.95 0 1 0 -5.9 0M361.7 131.3a2.95 2.95 0 1 0 5.9 0a2.95 2.95 0 1 0 -5.9 0M393.6 155.8a2.95 2.95 0 1 0 5.9 0a2.95 2.95 0 1 0 -5.9 0M381.3 150.4a2.95 2.95 0 1 0 5.9 0a2.95 2.95 0 1 0 -5.9 0M372.9 144.6a2.95 2.95 0 1 0 5.9 0a2.95 2.95 0 1 0 -5.9 0M392.5 154.6a2.95 2.95 0 1 0 5.9 0a2.95 2.95 0 1 0 -5.9 0M376.7 143.3a2.95 2.95 0 1 0 5.9 0a2.95 2.95 0 1 0 -5.9 0M382.5 168.5a2.95 2.95 0 1 0 5.9 0a2.95 2.95 0 1 0 -5.9 0M345.8 132.6a2.95 2.95 0 1 0 5.9 0a2.95 2.95 0 1 0 -5.9 0M387.1 160.3a2.95 2.95 0 1 0 5.9 0a2.95 2.95 0 1 0 -5.9 0M363.1 140.9a2.95 2.95 0 1 0 5.9 0a2.95 2.95 0 1 0 -5.9 0M346.9 134.4a2.95 2.95 0 1 0 5.9 0a2.95 2.95 0 1 0 -5.9 0M375 132.3a2.95 2.95 0 1 0 5.9 0a2.95 2.95 0 1 0 -5.9 0M382.1 165.9a2.95 2.95 0 1 0 5.9 0a2.95 2.95 0 1 0 -5.9 0M347.5 130.2a2.95 2.95 0 1 0 5.9 0a2.95 2.95 0 1 0 -5.9 0M395.1 166.2a2.95 2.95 0 1 0 5.9 0a2.95 2.95 0 1 0 -5.9 0M367.9 136.5a2.95 2.95 0 1 0 5.9 0a2.95 2.95 0 1 0 -5.9 0M386.7 146.1a2.95 2.95 0 1 0 5.9 0a2.95 2.95 0 1 0 -5.9 0M376.9 135a2.95 2.95 0 1 0 5.9 0a2.95 2.95 0 1 0 -5.9 0M362.1 132.5a2.95 2.95 0 1 0 5.9 0a2.95 2.95 0 1 0 -5.9 0M343.4 135.3a2.95 2.95 0 1 0 5.9 0a2.95 2.95 0 1 0 -5.9 0M389.7 144.1a2.95 2.95 0 1 0 5.9 0a2.95 2.95 0 1 0 -5.9 0M380.9 160.1a2.95 2.95 0 1 0 5.9 0a2.95 2.95 0 1 0 -5.9 0M347.5 133.6a2.95 2.95 0 1 0 5.9 0a2.95 2.95 0 1 0 -5.9 0M362.9 137.5a2.95 2.95 0 1 0 5.9 0a2.95 2.95 0 1 0 -5.9 0M358.1 135.8a2.95 2.95 0 1 0 5.9 0a2.95 2.95 0 1 0 -5.9 0M381.6 160.6a2.95 2.95 0 1 0 5.9 0a2.95 2.95 0 1 0 -5.9 0M391 152.5a2.95 2.95 0 1 0 5.9 0a2.95 2.95 0 1 0 -5.9 0M362.9 133.1a2.95 2.95 0 1 0 5.9 0a2.95 2.95 0 1 0 -5.9 0M345.2 136.1a2.95 2.95 0 1 0 5.9 0a2.95 2.95 0 1 0 -5.9 0M382.6 138.7a2.95 2.95 0 1 0 5.9 0a2.95 2.95 0 1 0 -5.9 0M395.1 147.6a2.95 2.95 0 1 0 5.9 0a2.95 2.95 0 1 0 -5.9 0M378.3 138.3a2.95 2.95 0 1 0 5.9 0a2.95 2.95 0 1 0 -5.9 0M383.7 149.9a2.95 2.95 0 1 0 5.9 0a2.95 2.95 0 1 0 -5.9 0M389.8 143.7a2.95 2.95 0 1 0 5.9 0a2.95 2.95 0 1 0 -5.9 0M382.9 137.2a2.95 2.95 0 1 0 5.9 0a2.95 2.95 0 1 0 -5.9 0M380.7 156.2a2.95 2.95 0 1 0 5.9 0a2.95 2.95 0 1 0 -5.9 0M374.1 164.4a2.95 2.95 0 1 0 5.9 0a2.95 2.95 0 1 0 -5.9 0M351.4 138.1a2.95 2.95 0 1 0 5.9 0a2.95 2.95 0 1 0 -5.9 0M351.8 137.7a2.95 2.95 0 1 0 5.9 0a2.95 2.95 0 1 0 -5.9 0M347.4 133.6a2.95 2.95 0 1 0 5.9 0a2.95 2.95 0 1 0 -5.9 0M379.1 147.7a2.95 2.95 0 1 0 5.9 0a2.95 2.95 0 1 0 -5.9 0M395.3 159.4a2.95 2.95 0 1 0 5.9 0a2.95 2.95 0 1 0 -5.9 0M364.7 135.5a2.95 2.95 0 1 0 5.9 0a2.95 2.95 0 1 0 -5.9 0M389.7 151a2.95 2.95 0 1 0 5.9 0a2.95 2.95 0 1 0 -5.9 0M342.2 134.9a2.95 2.95 0 1 0 5.9 0a2.95 2.95 0 1 0 -5.9 0M386.4 159.3a2.95 2.95 0 1 0 5.9 0a2.95 2.95 0 1 0 -5.9 0M384.8 159.2a2.95 2.95 0 1 0 5.9 0a2.95 2.95 0 1 0 -5.9 0M382.8 143.9a2.95 2.95 0 1 0 5.9 0a2.95 2.95 0 1 0 -5.9 0M386.8 163.3a2.95 2.95 0 1 0 5.9 0a2.95 2.95 0 1 0 -5.9 0M378.5 167.3a2.95 2.95 0 1 0 5.9 0a2.95 2.95 0 1 0 -5.9 0M378.9 144.9a2.95 2.95 0 1 0 5.9 0a2.95 2.95 0 1 0 -5.9 0M385.7 169.6a2.95 2.95 0 1 0 5.9 0a2.95 2.95 0 1 0 -5.9 0M396.1 153.3a2.95 2.95 0 1 0 5.9 0a2.95 2.95 0 1 0 -5.9 0M396.5 157.6a2.95 2.95 0 1 0 5.9 0a2.95 2.95 0 1 0 -5.9 0M353.6 139.4a2.95 2.95 0 1 0 5.9 0a2.95 2.95 0 1 0 -5.9 0M397.3 149.1a2.95 2.95 0 1 0 5.9 0a2.95 2.95 0 1 0 -5.9 0M392.7 144.9a2.95 2.95 0 1 0 5.9 0a2.95 2.95 0 1 0 -5.9 0M373.1 166.4a2.95 2.95 0 1 0 5.9 0a2.95 2.95 0 1 0 -5.9 0M340.7 136.1a2.95 2.95 0 1 0 5.9 0a2.95 2.95 0 1 0 -5.9 0M394.6 147.4a2.95 2.95 0 1 0 5.9 0a2.95 2.95 0 1 0 -5.9 0M353.2 139.4a2.95 2.95 0 1 0 5.9 0a2.95 2.95 0 1 0 -5.9 0M371.7 144.3a2.95 2.95 0 1 0 5.9 0a2.95 2.95 0 1 0 -5.9 0M373 131.3a2.95 2.95 0 1 0 5.9 0a2.95 2.95 0 1 0 -5.9 0M347 128.9a2.95 2.95 0 1 0 5.9 0a2.95 2.95 0 1 0 -5.9 0M349 130.2a2.95 2.95 0 1 0 5.9 0a2.95 2.95 0 1 0 -5.9 0M386.9 172.2a2.95 2.95 0 1 0 5.9 0a2.95 2.95 0 1 0 -5.9 0M358.7 128.5a2.95 2.95 0 1 0 5.9 0a2.95 2.95 0 1 0 -5.9 0M373 161.7a2.95 2.95 0 1 0 5.9 0a2.95 2.95 0 1 0 -5.9 0M398 152.9a2.95 2.95 0 1 0 5.9 0a2.95 2.95 0 1 0 -5.9 0M364.3 129.7a2.95 2.95 0 1 0 5.9 0a2.95 2.95 0 1 0 -5.9 0M353.7 138.7a2.95 2.95 0 1 0 5.9 0a2.95 2.95 0 1 0 -5.9 0M387.7 136.1a2.95 2.95 0 1 0 5.9 0a2.95 2.95 0 1 0 -5.9 0M374.2 146.5a2.95 2.95 0 1 0 5.9 0a2.95 2.95 0 1 0 -5.9 0M397.8 155.9a2.95 2.95 0 1 0 5.9 0a2.95 2.95 0 1 0 -5.9 0M395.3 160.8a2.95 2.95 0 1 0 5.9 0a2.95 2.95 0 1 0 -5.9 0M391.9 169.4a2.95 2.95 0 1 0 5.9 0a2.95 2.95 0 1 0 -5.9 0M370.9 146.5a2.95 2.95 0 1 0 5.9 0a2.95 2.95 0 1 0 -5.9 0M360.1 141.2a2.95 2.95 0 1 0 5.9 0a2.95 2.95 0 1 0 -5.9 0M385.7 133.9a2.95 2.95 0 1 0 5.9 0a2.95 2.95 0 1 0 -5.9 0M385.1 170.3a2.95 2.95 0 1 0 5.9 0a2.95 2.95 0 1 0 -5.9 0M377 172.4a2.95 2.95 0 1 0 5.9 0a2.95 2.95 0 1 0 -5.9 0M377.9 171.8a2.95 2.95 0 1 0 5.9 0a2.95 2.95 0 1 0 -5.9 0" fill="none" stroke="#D95319" stroke-width="1.0"/>
<path d="M409.5 193.5 409.5 193.3 409.5 193.1 409.5 192.9 409.4 192.7 409.4 192.5 409.3 192.3 409.2 192.2 409.2 192 409.1 191.8 409 191.6 408.9 191.5 408.8 191.3 408.6 191.1 408.5 191 408.3 190.8 408.2 190.7 408 190.5 407.9 190.4 407.7 190.3 407.5 190.2 407.3 190.1 407.1 190 406.9 189.9 406.7 189.8 406.5 189.7 406.3 189.7 406.1 189.6 405.9 189.6 405.7 189.5 405.4 189.5 405.2 189.5 405 189.5 404.8 189.5 404.6 189.5 404.3 189.5 404.1 189.6 403.9 189.6 403.7 189.7 403.5 189.7 403.3 189.8 403.1 189.9 402.9 190 402.7 190.1 402.5 190.2 402.3 190.3 402.1 190.4 402 190.5 401.8 190.7 401.7 190.8 401.5 191 401.4 191.1 401.2 191.3 401.1 191.5 401 191.6 400.9 191.8 400.8 192 400.8 192.2 400.7 192.3 400.6 192.5 400.6 192.7 400.5 192.9 400.5 193.1 400.5 193.3 400.5 193.5 400.5 193.7 400.5 193.9 400.5 194.1 400.6 194.3 400.6 194.5 400.7 194.7 400.8 194.8 400.8 195 400.9 195.2 401 195.4 401.1 195.5 401.2 195.7 401.4 195.9 401.5 196 401.7 196.2 401.8 196.3 402 196.5 402.1 196.6 402.3 196.7 402.5 196.8 402.7 196.9 402.9 197 403.1 197.1 403.3 197.2 403.5 197.3 403.7 197.3 403.9 197.4 404.1 197.4 404.3 197.5 404.6 197.5 404.8 197.5 405 197.5 405.2 197.5 405.4 197.5 405.7 197.5 405.9 197.4 406.1 197.4 406.3 197.3 406.5 197.3 406.7 197.2 406.9 197.1 407.1 197 407.3 196.9 407.5 196.8 407.7 196.7 407.9 196.6 408 196.5 408.2 196.3 408.3 196.2 408.5 196 408.6 195.9 408.8 195.7 408.9 195.5 409 195.4 409.1 195.2 409.2 195 409.2 194.8 409.3 194.7 409.4 194.5 409.4 194.3 409.5 194.1 409.5 193.9 409.5 193.7 409.5 193.5Z" fill="#D95319" fill-opacity="0.9" fill-rule="evenodd"/>
<path d="M404.5 192.6a2.95 2.95 0 1 0 5.9 0a2.95 2.95 0 1 0 -5.9 0M402.2 191.2a2.95 2.95 0 1 0 5.9 0a2.95 2.95 0 1 0 -5.9 0M401.2 194.5a2.95 2.95 0 1 0 5.9 0a2.95 2.95 0 1 0 -5.9 0M402.7 191.2a2.95 2.95 0 1 0 5.9 0a2.95 2.95 0 1 0 -5.9 0M401.9 192.2a2.95 2.95 0 1 0 5.9 0a2.95 2.95 0 1 0 -5.9 0M403.2 191.4a2.95 2.95 0 1 0 5.9 0a2.95 2.95 0 1 0 -5.9 0M401 195.9a2.95 2.95 0 1 0 5.9 0a2.95 2.95 0 1 0 -5.9 0M404.6 192.4a2.95 2.95 0 1 0 5.9 0a2.95 2.95 0 1 0 -5.9 0M402.5 191.7a2.95 2.95 0 1 0 5.9 0a2.95 2.95 0 1 0 -5.9 0M400.9 194a2.95 2.95 0 1 0 5.9 0a2.95 2.95 0 1 0 -5.9 0M398.2 190.6a2.95 2.95 0 1 0 5.9 0a2.95 2.95 0 1 0 -5.9 0" fill="none" stroke="#D95319" stroke-width="1.0"/>
<path d="M480.4 133.7 479.1 141.6 478.3 148.4 478.3 148.6 478.3 148.8 476.1 156.9 476.8 163.8 480.1 169 485.2 172.3 493.8 171.5 494 171.5 501.7 171.5 501.9 171.6 502.1 171.6 502.4 171.6 502.6 171.7 502.8 171.8 502.9 171.9 503.1 172.1 508.6 176.8 511.6 176.4 517.2 170.7 517.2 170.7 521.2 166.7 521.2 160.2 519.1 154.4 519 154.1 519 153.9 518.3 149.3 513.7 145.4 507.2 142.5 500.3 140.5 494.1 143.3 493.9 143.3 493.7 143.4 493.5 143.4 493.3 143.5 493.1 143.5 492.9 143.4 492.7 143.4 492.5 143.3 492.3 143.2 492.1 143.2 491.9 143 491.8 142.9 491.6 142.8 491.5 142.6 491.4 142.4 487.8 136.6 482.8 132.9 480.4 133.7Z" fill="#0072BD" fill-opacity="0.8" fill-rule="evenodd"/>
<path d="M453.6 155.1l2.9 4.0 -2.9 4.0 -2.9 -4.0zM447.3 181.5l2.9 4.0 -2.9 4.0 -2.9 -4.0zM449.5 179.5l2.9 4.0 -2.9 4.0 -2.9 -4.0zM508.8 150.9l2.9 4.0 -2.9 4.0 -2.9 -4.0zM511.1 153.6l2.9 4.0 -2.9 4.0 -2.9 -4.0zM515.7 167.6l2.9 4.0 -2.9 4.0 -2.9 -4.0zM488.3 151.4l2.9 4.0 -2.9 4.0 -2.9 -4.0zM510.9 167.2l2.9 4.0 -2.9 4.0 -2.9 -4.0zM484.1 146.4l2.9 4.0 -2.9 4.0 -2.9 -4.0zM492.7 151.5l2.9 4.0 -2.9 4.0 -2.9 -4.0zM502 146.4l2.9 4.0 -2.9 4.0 -2.9 -4.0zM478.2 152.6l2.9 4.0 -2.9 4.0 -2.9 -4.0zM517.5 155l2.9 4.0 -2.9 4.0 -2.9 -4.0zM490.9 140.5l2.9 4.0 -2.9 4.0 -2.9 -4.0zM493.5 148.3l2.9 4.0 -2.9 4.0 -2.9 -4.0zM493.7 149.8l2.9 4.0 -2.9 4.0 -2.9 -4.0zM482.2 136.6l2.9 4.0 -2.9 4.0 -2.9 -4.0zM478.5 157.7l2.9 4.0 -2.9 4.0 -2.9 -4.0zM486.7 153.4l2.9 4.0 -2.9 4.0 -2.9 -4.0zM491.4 140.9l2.9 4.0 -2.9 4.0 -2.9 -4.0zM486.1 132l2.9 4.0 -2.9 4.0 -2.9 -4.0zM499.1 164.4l2.9 4.0 -2.9 4.0 -2.9 -4.0zM490.3 143.1l2.9 4.0 -2.9 4.0 -2.9 -4.0zM504.2 152.7l2.9 4.0 -2.9 4.0 -2.9 -4.0zM509.4 160.1l2.9 4.0 -2.9 4.0 -2.9 -4.0zM480.4 160.6l2.9 4.0 -2.9 4.0 -2.9 -4.0zM516 149.2l2.9 4.0 -2.9 4.0 -2.9 -4.0zM491.5 155.9l2.9 4.0 -2.9 4.0 -2.9 -4.0zM498.5 147l2.9 4.0 -2.9 4.0 -2.9 -4.0zM496.8 146l2.9 4.0 -2.9 4.0 -2.9 -4.0zM502.2 161.2l2.9 4.0 -2.9 4.0 -2.9 -4.0zM513 144.9l2.9 4.0 -2.9 4.0 -2.9 -4.0zM497.5 165.1l2.9 4.0 -2.9 4.0 -2.9 -4.0zM516.4 159.8l2.9 4.0 -2.9 4.0 -2.9 -4.0zM492.9 142l2.9 4.0 -2.9 4.0 -2.9 -4.0zM486.7 138.7l2.9 4.0 -2.9 4.0 -2.9 -4.0zM512.9 155.1l2.9 4.0 -2.9 4.0 -2.9 -4.0zM521 159.6l2.9 4.0 -2.9 4.0 -2.9 -4.0zM490.2 147.1l2.9 4.0 -2.9 4.0 -2.9 -4.0zM484.6 136.3l2.9 4.0 -2.9 4.0 -2.9 -4.0zM509.6 153.6l2.9 4.0 -2.9 4.0 -2.9 -4.0zM511.2 144.1l2.9 4.0 -2.9 4.0 -2.9 -4.0zM509 172.1l2.9 4.0 -2.9 4.0 -2.9 -4.0zM508.6 144.9l2.9 4.0 -2.9 4.0 -2.9 -4.0zM490.7 166.4l2.9 4.0 -2.9 4.0 -2.9 -4.0zM504.7 156.9l2.9 4.0 -2.9 4.0 -2.9 -4.0zM502.4 154.7l2.9 4.0 -2.9 4.0 -2.9 -4.0zM510.3 165.2l2.9 4.0 -2.9 4.0 -2.9 -4.0zM490 145.1l2.9 4.0 -2.9 4.0 -2.9 -4.0zM509.9 140.8l2.9 4.0 -2.9 4.0 -2.9 -4.0zM511.2 171.8l2.9 4.0 -2.9 4.0 -2.9 -4.0zM516 150.4l2.9 4.0 -2.9 4.0 -2.9 -4.0zM509.4 144.2l2.9 4.0 -2.9 4.0 -2.9 -4.0zM485.4 164.1l2.9 4.0 -2.9 4.0 -2.9 -4.0zM512.5 163.8l2.9 4.0 -2.9 4.0 -2.9 -4.0zM512.9 165.7l2.9 4.0 -2.9 4.0 -2.9 -4.0zM508 170.1l2.9 4.0 -2.9 4.0 -2.9 -4.0zM484.4 130.6l2.9 4.0 -2.9 4.0 -2.9 -4.0zM496.9 139l2.9 4.0 -2.9 4.0 -2.9 -4.0zM480.3 132.7l2.9 4.0 -2.9 4.0 -2.9 -4.0zM492.9 166.2l2.9 4.0 -2.9 4.0 -2.9 -4.0zM493.8 157.2l2.9 4.0 -2.9 4.0 -2.9 -4.0zM483 156.6l2.9 4.0 -2.9 4.0 -2.9 -4.0zM504.8 161l2.9 4.0 -2.9 4.0 -2.9 -4.0zM493.8 149.9l2.9 4.0 -2.9 4.0 -2.9 -4.0zM501.5 142l2.9 4.0 -2.9 4.0 -2.9 -4.0zM496.3 145.8l2.9 4.0 -2.9 4.0 -2.9 -4.0zM502.5 143.4l2.9 4.0 -2.9 4.0 -2.9 -4.0zM490.5 161.3l2.9 4.0 -2.9 4.0 -2.9 -4.0zM485 146.1l2.9 4.0 -2.9 4.0 -2.9 -4.0zM492.6 157.7l2.9 4.0 -2.9 4.0 -2.9 -4.0zM478.3 155.4l2.9 4.0 -2.9 4.0 -2.9 -4.0zM491.9 152.2l2.9 4.0 -2.9 4.0 -2.9 -4.0zM493.1 161.4l2.9 4.0 -2.9 4.0 -2.9 -4.0zM499.6 137.3l2.9 4.0 -2.9 4.0 -2.9 -4.0zM478.5 149.4l2.9 4.0 -2.9 4.0 -2.9 -4.0zM499.3 148.8l2.9 4.0 -2.9 4.0 -2.9 -4.0zM515.1 147.9l2.9 4.0 -2.9 4.0 -2.9 -4.0zM486 143.4l2.9 4.0 -2.9 4.0 -2.9 -4.0zM483.2 165.4l2.9 4.0 -2.9 4.0 -2.9 -4.0zM513.1 143.7l2.9 4.0 -2.9 4.0 -2.9 -4.0zM504.8 167.6l2.9 4.0 -2.9 4.0 -2.9 -4.0zM486.3 139.8l2.9 4.0 -2.9 4.0 -2.9 -4.0zM481.1 141.6l2.9 4.0 -2.9 4.0 -2.9 -4.0zM496.1 150.5l2.9 4.0 -2.9 4.0 -2.9 -4.0zM516.8 151.6l2.9 4.0 -2.9 4.0 -2.9 -4.0zM517.2 160.5l2.9 4.0 -2.9 4.0 -2.9 -4.0zM498.5 140.3l2.9 4.0 -2.9 4.0 -2.9 -4.0zM494.5 149.4l2.9 4.0 -2.9 4.0 -2.9 -4.0zM496.5 166.8l2.9 4.0 -2.9 4.0 -2.9 -4.0zM492.3 166.8l2.9 4.0 -2.9 4.0 -2.9 -4.0zM516.8 159.3l2.9 4.0 -2.9 4.0 -2.9 -4.0zM488 157.8l2.9 4.0 -2.9 4.0 -2.9 -4.0zM513.5 160.1l2.9 4.0 -2.9 4.0 -2.9 -4.0zM511.9 154.4l2.9 4.0 -2.9 4.0 -2.9 -4.0zM505 155.3l2.9 4.0 -2.9 4.0 -2.9 -4.0zM484.7 165.5l2.9 4.0 -2.9 4.0 -2.9 -4.0zM490.8 155.7l2.9 4.0 -2.9 4.0 -2.9 -4.0zM488.3 165.6l2.9 4.0 -2.9 4.0 -2.9 -4.0zM513.4 148.2l2.9 4.0 -2.9 4.0 -2.9 -4.0zM501.6 144l2.9 4.0 -2.9 4.0 -2.9 -4.0zM493.7 151.9l2.9 4.0 -2.9 4.0 -2.9 -4.0zM499.5 161.3l2.9 4.0 -2.9 4.0 -2.9 -4.0zM518 154l2.9 4.0 -2.9 4.0 -2.9 -4.0zM494.7 166.9l2.9 4.0 -2.9 4.0 -2.9 -4.0zM502.8 146.9l2.9 4.0 -2.9 4.0 -2.9 -4.0zM511.2 149.3l2.9 4.0 -2.9 4.0 -2.9 -4.0zM518.5 150.1l2.9 4.0 -2.9 4.0 -2.9 -4.0zM488.6 153.7l2.9 4.0 -2.9 4.0 -2.9 -4.0zM492.9 141l2.9 4.0 -2.9 4.0 -2.9 -4.0zM496.7 142l2.9 4.0 -2.9 4.0 -2.9 -4.0zM498.9 166.4l2.9 4.0 -2.9 4.0 -2.9 -4.0zM499.4 159.5l2.9 4.0 -2.9 4.0 -2.9 -4.0zM496.3 160.6l2.9 4.0 -2.9 4.0 -2.9 -4.0zM501.6 166.7l2.9 4.0 -2.9 4.0 -2.9 -4.0zM480.8 148.2l2.9 4.0 -2.9 4.0 -2.9 -4.0zM513.7 166.5l2.9 4.0 -2.9 4.0 -2.9 -4.0zM514.8 143.2l2.9 4.0 -2.9 4.0 -2.9 -4.0zM485.6 148.5l2.9 4.0 -2.9 4.0 -2.9 -4.0zM520.2 161.8l2.9 4.0 -2.9 4.0 -2.9 -4.0zM512.5 168.1l2.9 4.0 -2.9 4.0 -2.9 -4.0zM486 133.8l2.9 4.0 -2.9 4.0 -2.9 -4.0zM511.9 161.1l2.9 4.0 -2.9 4.0 -2.9 -4.0zM506.4 150.2l2.9 4.0 -2.9 4.0 -2.9 -4.0zM516.5 152.4l2.9 4.0 -2.9 4.0 -2.9 -4.0zM510.9 153.2l2.9 4.0 -2.9 4.0 -2.9 -4.0zM501 158.4l2.9 4.0 -2.9 4.0 -2.9 -4.0zM482.6 145.7l2.9 4.0 -2.9 4.0 -2.9 -4.0zM510.1 165.8l2.9 4.0 -2.9 4.0 -2.9 -4.0zM511.6 157.9l2.9 4.0 -2.9 4.0 -2.9 -4.0zM491 151.5l2.9 4.0 -2.9 4.0 -2.9 -4.0zM481.7 154.5l2.9 4.0 -2.9 4.0 -2.9 -4.0zM481.5 160.8l2.9 4.0 -2.9 4.0 -2.9 -4.0zM484.5 163.1l2.9 4.0 -2.9 4.0 -2.9 -4.0zM481.4 137.8l2.9 4.0 -2.9 4.0 -2.9 -4.0zM506.3 161.5l2.9 4.0 -2.9 4.0 -2.9 -4.0zM495.6 166l2.9 4.0 -2.9 4.0 -2.9 -4.0zM507.6 164.4l2.9 4.0 -2.9 4.0 -2.9 -4.0zM480.1 139.3l2.9 4.0 -2.9 4.0 -2.9 -4.0zM494.4 156.4l2.9 4.0 -2.9 4.0 -2.9 -4.0zM509.9 141.3l2.9 4.0 -2.9 4.0 -2.9 -4.0zM500 163.4l2.9 4.0 -2.9 4.0 -2.9 -4.0zM495.8 154.8l2.9 4.0 -2.9 4.0 -2.9 -4.0zM510.5 154.9l2.9 4.0 -2.9 4.0 -2.9 -4.0zM481 156.4l2.9 4.0 -2.9 4.0 -2.9 -4.0zM495.5 147.5l2.9 4.0 -2.9 4.0 -2.9 -4.0zM483 132.3l2.9 4.0 -2.9 4.0 -2.9 -4.0zM500.5 157.3l2.9 4.0 -2.9 4.0 -2.9 -4.0zM485.3 153.6l2.9 4.0 -2.9 4.0 -2.9 -4.0zM486.2 149.8l2.9 4.0 -2.9 4.0 -2.9 -4.0zM499.1 162l2.9 4.0 -2.9 4.0 -2.9 -4.0zM491.7 152.3l2.9 4.0 -2.9 4.0 -2.9 -4.0zM482 141l2.9 4.0 -2.9 4.0 -2.9 -4.0zM491 146.9l2.9 4.0 -2.9 4.0 -2.9 -4.0zM500.2 156.5l2.9 4.0 -2.9 4.0 -2.9 -4.0zM480.9 160l2.9 4.0 -2.9 4.0 -2.9 -4.0zM496.2 139.7l2.9 4.0 -2.9 4.0 -2.9 -4.0zM498.5 150.9l2.9 4.0 -2.9 4.0 -2.9 -4.0zM518.6 156.8l2.9 4.0 -2.9 4.0 -2.9 -4.0zM497.4 158.7l2.9 4.0 -2.9 4.0 -2.9 -4.0zM498.3 145l2.9 4.0 -2.9 4.0 -2.9 -4.0zM494 162.7l2.9 4.0 -2.9 4.0 -2.9 -4.0zM512.4 157.7l2.9 4.0 -2.9 4.0 -2.9 -4.0zM499.5 148.6l2.9 4.0 -2.9 4.0 -2.9 -4.0zM517.4 160l2.9 4.0 -2.9 4.0 -2.9 -4.0zM493.1 159.2l2.9 4.0 -2.9 4.0 -2.9 -4.0zM508.1 168.2l2.9 4.0 -2.9 4.0 -2.9 -4.0zM483.7 134.9l2.9 4.0 -2.9 4.0 -2.9 -4.0zM481.4 148.8l2.9 4.0 -2.9 4.0 -2.9 -4.0zM484.5 158.5l2.9 4.0 -2.9 4.0 -2.9 -4.0zM499.2 152l2.9 4.0 -2.9 4.0 -2.9 -4.0zM490.8 147.9l2.9 4.0 -2.9 4.0 -2.9 -4.0zM501 160.6l2.9 4.0 -2.9 4.0 -2.9 -4.0zM502.8 142l2.9 4.0 -2.9 4.0 -2.9 -4.0zM515.9 145.1l2.9 4.0 -2.9 4.0 -2.9 -4.0zM479.4 144.7l2.9 4.0 -2.9 4.0 -2.9 -4.0zM506.1 141l2.9 4.0 -2.9 4.0 -2.9 -4.0zM487.9 144.4l2.9 4.0 -2.9 4.0 -2.9 -4.0zM489.8 160.5l2.9 4.0 -2.9 4.0 -2.9 -4.0zM487.8 153l2.9 4.0 -2.9 4.0 -2.9 -4.0zM502.8 147.6l2.9 4.0 -2.9 4.0 -2.9 -4.0zM518.8 162.1l2.9 4.0 -2.9 4.0 -2.9 -4.0zM484.2 159.3l2.9 4.0 -2.9 4.0 -2.9 -4.0zM481.7 139.7l2.9 4.0 -2.9 4.0 -2.9 -4.0zM479.4 142.6l2.9 4.0 -2.9 4.0 -2.9 -4.0zM481.9 150.6l2.9 4.0 -2.9 4.0 -2.9 -4.0zM497.8 139.2l2.9 4.0 -2.9 4.0 -2.9 -4.0zM506.9 170.8l2.9 4.0 -2.9 4.0 -2.9 -4.0zM485.2 166.5l2.9 4.0 -2.9 4.0 -2.9 -4.0zM486.1 152.5l2.9 4.0 -2.9 4.0 -2.9 -4.0zM499.2 161.2l2.9 4.0 -2.9 4.0 -2.9 -4.0zM492.2 150.1l2.9 4.0 -2.9 4.0 -2.9 -4.0zM495.6 139.8l2.9 4.0 -2.9 4.0 -2.9 -4.0zM499 140.9l2.9 4.0 -2.9 4.0 -2.9 -4.0zM496.6 141.9l2.9 4.0 -2.9 4.0 -2.9 -4.0zM501.6 143l2.9 4.0 -2.9 4.0 -2.9 -4.0zM506.8 155.4l2.9 4.0 -2.9 4.0 -2.9 -4.0zM505 141.7l2.9 4.0 -2.9 4.0 -2.9 -4.0zM492.5 167l2.9 4.0 -2.9 4.0 -2.9 -4.0zM487.8 154.1l2.9 4.0 -2.9 4.0 -2.9 -4.0zM514.3 153.4l2.9 4.0 -2.9 4.0 -2.9 -4.0zM484.7 134.6l2.9 4.0 -2.9 4.0 -2.9 -4.0zM479 141.6l2.9 4.0 -2.9 4.0 -2.9 -4.0zM503.2 163l2.9 4.0 -2.9 4.0 -2.9 -4.0zM482.5 158.1l2.9 4.0 -2.9 4.0 -2.9 -4.0zM518.9 153.9l2.9 4.0 -2.9 4.0 -2.9 -4.0zM513.8 155.6l2.9 4.0 -2.9 4.0 -2.9 -4.0zM501.4 144.4l2.9 4.0 -2.9 4.0 -2.9 -4.0zM489.4 138.4l2.9 4.0 -2.9 4.0 -2.9 -4.0zM502.3 144.9l2.9 4.0 -2.9 4.0 -2.9 -4.0zM483.1 142.3l2.9 4.0 -2.9 4.0 -2.9 -4.0zM482.7 135.3l2.9 4.0 -2.9 4.0 -2.9 -4.0zM504.9 151.7l2.9 4.0 -2.9 4.0 -2.9 -4.0zM492.6 148.7l2.9 4.0 -2.9 4.0 -2.9 -4.0zM480.7 139l2.9 4.0 -2.9 4.0 -2.9 -4.0zM506.9 158.6l2.9 4.0 -2.9 4.0 -2.9 -4.0zM492 166.1l2.9 4.0 -2.9 4.0 -2.9 -4.0zM509.1 147.4l2.9 4.0 -2.9 4.0 -2.9 -4.0zM488.1 146.1l2.9 4.0 -2.9 4.0 -2.9 -4.0zM485.5 164.1l2.9 4.0 -2.9 4.0 -2.9 -4.0zM519.8 153.4l2.9 4.0 -2.9 4.0 -2.9 -4.0zM504.1 139.5l2.9 4.0 -2.9 4.0 -2.9 -4.0zM490.9 147.6l2.9 4.0 -2.9 4.0 -2.9 -4.0zM477.4 150.8l2.9 4.0 -2.9 4.0 -2.9 -4.0zM497.5 149.5l2.9 4.0 -2.9 4.0 -2.9 -4.0zM487.8 166.6l2.9 4.0 -2.9 4.0 -2.9 -4.0zM506 156.4l2.9 4.0 -2.9 4.0 -2.9 -4.0zM487.1 166.2l2.9 4.0 -2.9 4.0 -2.9 -4.0zM514.2 147.6l2.9 4.0 -2.9 4.0 -2.9 -4.0zM486.1 139.4l2.9 4.0 -2.9 4.0 -2.9 -4.0zM507 153.6l2.9 4.0 -2.9 4.0 -2.9 -4.0zM480.1 143.4l2.9 4.0 -2.9 4.0 -2.9 -4.0zM494 140.1l2.9 4.0 -2.9 4.0 -2.9 -4.0zM483.8 129.2l2.9 4.0 -2.9 4.0 -2.9 -4.0zM485.4 167.3l2.9 4.0 -2.9 4.0 -2.9 -4.0zM520.9 156.6l2.9 4.0 -2.9 4.0 -2.9 -4.0zM519.8 165.9l2.9 4.0 -2.9 4.0 -2.9 -4.0zM499 167.1l2.9 4.0 -2.9 4.0 -2.9 -4.0zM478.6 163.5l2.9 4.0 -2.9 4.0 -2.9 -4.0zM482.8 167.7l2.9 4.0 -2.9 4.0 -2.9 -4.0zM478.4 133.9l2.9 4.0 -2.9 4.0 -2.9 -4.0zM484.2 129.2l2.9 4.0 -2.9 4.0 -2.9 -4.0zM492.8 138.7l2.9 4.0 -2.9 4.0 -2.9 -4.0zM496.4 136.9l2.9 4.0 -2.9 4.0 -2.9 -4.0zM496.5 168.4l2.9 4.0 -2.9 4.0 -2.9 -4.0zM507 139.3l2.9 4.0 -2.9 4.0 -2.9 -4.0zM501.3 136.2l2.9 4.0 -2.9 4.0 -2.9 -4.0zM520.9 151l2.9 4.0 -2.9 4.0 -2.9 -4.0zM516.1 142.1l2.9 4.0 -2.9 4.0 -2.9 -4.0zM483.9 131.4l2.9 4.0 -2.9 4.0 -2.9 -4.0zM491.8 137.4l2.9 4.0 -2.9 4.0 -2.9 -4.0zM476.6 155.4l2.9 4.0 -2.9 4.0 -2.9 -4.0zM476.2 153.7l2.9 4.0 -2.9 4.0 -2.9 -4.0zM478.4 160.9l2.9 4.0 -2.9 4.0 -2.9 -4.0zM501.3 166.5l2.9 4.0 -2.9 4.0 -2.9 -4.0zM516.6 167.3l2.9 4.0 -2.9 4.0 -2.9 -4.0zM484 165.5l2.9 4.0 -2.9 4.0 -2.9 -4.0zM518.6 164.8l2.9 4.0 -2.9 4.0 -2.9 -4.0zM476.4 160.6l2.9 4.0 -2.9 4.0 -2.9 -4.0zM506.5 139.7l2.9 4.0 -2.9 4.0 -2.9 -4.0zM480 128.2l2.9 4.0 -2.9 4.0 -2.9 -4.0zM516 168.6l2.9 4.0 -2.9 4.0 -2.9 -4.0zM506.8 169.6l2.9 4.0 -2.9 4.0 -2.9 -4.0zM509.9 173.3l2.9 4.0 -2.9 4.0 -2.9 -4.0zM476.6 153.2l2.9 4.0 -2.9 4.0 -2.9 -4.0zM509.4 171.6l2.9 4.0 -2.9 4.0 -2.9 -4.0z" fill="none" stroke="#0072BD" stroke-width="1.0"/>
<path d="M315.2 207.3 317.4 208.7 323.6 211.2 323.8 211.3 323.9 211.4 327.7 213.9 327.9 214.1 328.1 214.2 337.9 224 342.4 225.1 342.6 225.2 342.8 225.3 348.7 228.2 352.3 228.2 355.4 224.5 355.5 224.4 359.3 220.6 359.5 220.5 359.6 220.3 359.8 220.2 360 220.1 360.2 220.1 363.4 219 361.5 215.6 357.7 209.4 357.6 209.2 353.8 201.5 353.7 201.3 353.6 201.1 353.6 200.8 353.6 200.6 353.6 200.4 353.6 200.2 353.6 199.9 354.8 195.4 353.6 188.5 351.1 183.8 347.9 185.4 347.7 185.5 347.5 185.6 347.3 185.6 347.1 185.6 346.9 185.6 346.7 185.6 346.5 185.6 346.3 185.6 341.1 184 337.2 188 334.6 191.1 334.5 191.3 334.3 191.4 334.2 191.6 334 191.7 333.8 191.8 333.6 191.8 333.4 191.9 333.2 191.9 333 191.9 332.7 191.9 332.5 191.9 332.3 191.9 332.1 191.8 331.9 191.7 327.3 189.4 322.3 189.4 319.6 191.7 317.3 201 317.2 201.2 315.2 207.3Z" fill="#EDB120" fill-opacity="0.85" fill-rule="evenodd"/>
<path d="M348.4 193.4l3.3 5.8h-6.6zM347.2 215.6l3.3 5.8h-6.6zM353.7 218.2l3.3 5.8h-6.6zM349.1 185.3l3.3 5.8h-6.6zM323.4 193.8l3.3 5.8h-6.6zM352.4 197.9l3.3 5.8h-6.6zM323.1 198.6l3.3 5.8h-6.6zM343 196.3l3.3 5.8h-6.6zM342.7 193.1l3.3 5.8h-6.6zM341.4 208.9l3.3 5.8h-6.6zM319.5 195l3.3 5.8h-6.6zM338.6 185.5l3.3 5.8h-6.6zM329.8 202.8l3.3 5.8h-6.6zM345.6 209.7l3.3 5.8h-6.6zM336.9 213.9l3.3 5.8h-6.6zM339.2 198.9l3.3 5.8h-6.6zM345.6 220l3.3 5.8h-6.6zM353.6 220.9l3.3 5.8h-6.6zM321.2 201.8l3.3 5.8h-6.6zM346.8 193.3l3.3 5.8h-6.6zM322.5 190.7l3.3 5.8h-6.6zM343.1 197l3.3 5.8h-6.6zM351 209.3l3.3 5.8h-6.6zM346.4 187.6l3.3 5.8h-6.6zM350.3 214.3l3.3 5.8h-6.6zM340 199.6l3.3 5.8h-6.6zM341.1 189.7l3.3 5.8h-6.6zM348.1 215.1l3.3 5.8h-6.6zM342.3 221.6l3.3 5.8h-6.6zM358.7 217.5l3.3 5.8h-6.6zM339.8 201.5l3.3 5.8h-6.6zM321.5 203.5l3.3 5.8h-6.6zM346.5 189.1l3.3 5.8h-6.6zM355.8 212.2l3.3 5.8h-6.6zM329.5 194.3l3.3 5.8h-6.6zM346.2 219.2l3.3 5.8h-6.6zM336.7 207.1l3.3 5.8h-6.6zM340.1 188.1l3.3 5.8h-6.6zM326.8 195.6l3.3 5.8h-6.6zM332.2 197.7l3.3 5.8h-6.6zM359.9 211.5l3.3 5.8h-6.6zM346.5 200.8l3.3 5.8h-6.6zM350 199.5l3.3 5.8h-6.6zM351 190.8l3.3 5.8h-6.6zM342.7 194l3.3 5.8h-6.6zM339.7 196.5l3.3 5.8h-6.6zM323 205.5l3.3 5.8h-6.6zM348.3 201.8l3.3 5.8h-6.6zM345.2 192.1l3.3 5.8h-6.6zM352.6 208.7l3.3 5.8h-6.6zM336.3 210.6l3.3 5.8h-6.6zM357.6 210.4l3.3 5.8h-6.6zM350.4 206.2l3.3 5.8h-6.6zM341.5 214.3l3.3 5.8h-6.6zM333.5 207.6l3.3 5.8h-6.6zM344.5 199.4l3.3 5.8h-6.6zM353.1 201.1l3.3 5.8h-6.6zM334 216.3l3.3 5.8h-6.6zM329.1 203.5l3.3 5.8h-6.6zM328.4 187.8l3.3 5.8h-6.6zM347.3 202.3l3.3 5.8h-6.6zM352.6 217.2l3.3 5.8h-6.6zM344.7 210.5l3.3 5.8h-6.6zM339.1 191.3l3.3 5.8h-6.6zM339.7 213.7l3.3 5.8h-6.6zM336.1 201.7l3.3 5.8h-6.6zM332.8 200.5l3.3 5.8h-6.6zM356.5 218l3.3 5.8h-6.6zM322.1 196.9l3.3 5.8h-6.6zM326.5 203.4l3.3 5.8h-6.6zM350 193.6l3.3 5.8h-6.6zM332.6 203l3.3 5.8h-6.6zM316.6 203.8l3.3 5.8h-6.6zM346 205l3.3 5.8h-6.6zM339.9 209.3l3.3 5.8h-6.6zM347 217.2l3.3 5.8h-6.6zM348.4 197.5l3.3 5.8h-6.6zM323.4 189.2l3.3 5.8h-6.6zM351.7 193.6l3.3 5.8h-6.6zM346.6 206.6l3.3 5.8h-6.6zM339.2 204.5l3.3 5.8h-6.6zM352.6 209.9l3.3 5.8h-6.6zM341 204.7l3.3 5.8h-6.6zM325.2 195.9l3.3 5.8h-6.6zM348.7 188.4l3.3 5.8h-6.6zM339.3 207.4l3.3 5.8h-6.6zM332.1 195.5l3.3 5.8h-6.6zM352.7 208.2l3.3 5.8h-6.6zM361.6 213.1l3.3 5.8h-6.6zM321.4 206.6l3.3 5.8h-6.6zM332.6 191.3l3.3 5.8h-6.6zM332.9 203l3.3 5.8h-6.6zM352 216.5l3.3 5.8h-6.6zM328.6 208.8l3.3 5.8h-6.6zM348.4 192.4l3.3 5.8h-6.6zM333 198l3.3 5.8h-6.6zM348.4 186.4l3.3 5.8h-6.6zM353.1 221.2l3.3 5.8h-6.6zM351.3 223.4l3.3 5.8h-6.6zM348.7 183.2l3.3 5.8h-6.6zM343.1 187.3l3.3 5.8h-6.6zM337.4 195.8l3.3 5.8h-6.6zM339.1 215.4l3.3 5.8h-6.6zM337.7 186.2l3.3 5.8h-6.6zM348.6 205.8l3.3 5.8h-6.6zM326.2 199l3.3 5.8h-6.6zM352.8 186l3.3 5.8h-6.6zM340.8 211l3.3 5.8h-6.6zM334.8 190.6l3.3 5.8h-6.6zM347.2 193l3.3 5.8h-6.6zM343.2 217.6l3.3 5.8h-6.6zM336.9 194.5l3.3 5.8h-6.6zM353 187.7l3.3 5.8h-6.6zM329.5 189l3.3 5.8h-6.6zM352.2 188.4l3.3 5.8h-6.6zM359.1 209.8l3.3 5.8h-6.6zM326.7 193l3.3 5.8h-6.6zM341.3 211.2l3.3 5.8h-6.6zM333.9 192.3l3.3 5.8h-6.6zM348.3 200.8l3.3 5.8h-6.6zM345.1 204.5l3.3 5.8h-6.6zM345.3 204.9l3.3 5.8h-6.6zM348.9 221l3.3 5.8h-6.6zM353.6 192.2l3.3 5.8h-6.6zM337.2 203.1l3.3 5.8h-6.6zM333.8 201.8l3.3 5.8h-6.6zM330.1 191.2l3.3 5.8h-6.6zM357.4 211.9l3.3 5.8h-6.6zM344.3 185.1l3.3 5.8h-6.6zM341.4 217.3l3.3 5.8h-6.6zM329.7 190.8l3.3 5.8h-6.6zM347.7 215.5l3.3 5.8h-6.6zM326.8 198.7l3.3 5.8h-6.6zM328 190.5l3.3 5.8h-6.6zM353 186l3.3 5.8h-6.6zM338.4 195.3l3.3 5.8h-6.6zM350.5 200l3.3 5.8h-6.6zM337 185.6l3.3 5.8h-6.6zM349.8 218.6l3.3 5.8h-6.6zM341.1 199.4l3.3 5.8h-6.6zM341.2 185.5l3.3 5.8h-6.6zM346.2 193.8l3.3 5.8h-6.6zM351.8 215.8l3.3 5.8h-6.6zM351.8 219.3l3.3 5.8h-6.6zM331.5 194.5l3.3 5.8h-6.6zM333 210.9l3.3 5.8h-6.6zM352.9 184.7l3.3 5.8h-6.6zM346.7 206.1l3.3 5.8h-6.6zM324.8 196.4l3.3 5.8h-6.6zM336.2 217l3.3 5.8h-6.6zM320.3 198.9l3.3 5.8h-6.6zM346.9 202l3.3 5.8h-6.6zM351.3 221.1l3.3 5.8h-6.6zM323.8 190.3l3.3 5.8h-6.6zM347.7 191.9l3.3 5.8h-6.6zM349.1 184.3l3.3 5.8h-6.6zM340.2 205.4l3.3 5.8h-6.6zM356 204.1l3.3 5.8h-6.6zM321.2 193.6l3.3 5.8h-6.6zM356.2 206.3l3.3 5.8h-6.6zM327.1 205l3.3 5.8h-6.6zM350.7 211.8l3.3 5.8h-6.6zM335 199.2l3.3 5.8h-6.6zM339.8 208.3l3.3 5.8h-6.6zM358.2 217.3l3.3 5.8h-6.6zM340.1 204.1l3.3 5.8h-6.6zM331.4 205l3.3 5.8h-6.6zM349.4 217.9l3.3 5.8h-6.6zM325.3 188.1l3.3 5.8h-6.6zM360.3 212.9l3.3 5.8h-6.6zM337.9 213.3l3.3 5.8h-6.6zM335.7 188.7l3.3 5.8h-6.6zM320.8 196.8l3.3 5.8h-6.6zM339.1 195.3l3.3 5.8h-6.6zM352.8 212l3.3 5.8h-6.6zM348.2 200.9l3.3 5.8h-6.6zM338.1 189.2l3.3 5.8h-6.6zM349.5 213l3.3 5.8h-6.6zM337.7 207.1l3.3 5.8h-6.6zM341.4 215.9l3.3 5.8h-6.6zM350.4 208l3.3 5.8h-6.6zM324.1 190.6l3.3 5.8h-6.6zM343.2 182.6l3.3 5.8h-6.6zM344 205.8l3.3 5.8h-6.6zM320.4 196.4l3.3 5.8h-6.6zM346.7 191.1l3.3 5.8h-6.6zM350.2 209.9l3.3 5.8h-6.6zM354 215l3.3 5.8h-6.6zM346 189.8l3.3 5.8h-6.6zM339.8 217.2l3.3 5.8h-6.6zM345.1 184l3.3 5.8h-6.6zM325 188.1l3.3 5.8h-6.6zM336.9 201.1l3.3 5.8h-6.6zM349.9 191.1l3.3 5.8h-6.6zM338.4 212.8l3.3 5.8h-6.6zM358.6 213.9l3.3 5.8h-6.6zM339.6 206.2l3.3 5.8h-6.6zM333.9 197.3l3.3 5.8h-6.6zM337.7 203.4l3.3 5.8h-6.6zM332.9 193.8l3.3 5.8h-6.6zM326.1 202.8l3.3 5.8h-6.6zM351.8 223l3.3 5.8h-6.6zM352.5 193.3l3.3 5.8h-6.6zM339.6 210.6l3.3 5.8h-6.6zM341.3 216.6l3.3 5.8h-6.6zM353.7 188.8l3.3 5.8h-6.6zM324.8 187.8l3.3 5.8h-6.6zM338.3 219.7l3.3 5.8h-6.6zM348.7 193.7l3.3 5.8h-6.6zM343.5 192.4l3.3 5.8h-6.6zM327.4 195.6l3.3 5.8h-6.6zM348.1 221.9l3.3 5.8h-6.6zM345.1 218l3.3 5.8h-6.6zM345 217.3l3.3 5.8h-6.6zM337.4 198.6l3.3 5.8h-6.6zM343 182.8l3.3 5.8h-6.6zM341.4 194.2l3.3 5.8h-6.6zM352.2 195.3l3.3 5.8h-6.6zM353.6 213.1l3.3 5.8h-6.6zM338.3 187.6l3.3 5.8h-6.6zM330.1 200.7l3.3 5.8h-6.6zM350.8 212.8l3.3 5.8h-6.6zM323.7 193.6l3.3 5.8h-6.6zM337.4 219.8l3.3 5.8h-6.6zM341.2 213.6l3.3 5.8h-6.6zM346.7 205.1l3.3 5.8h-6.6zM347 208.8l3.3 5.8h-6.6zM319.6 187.9l3.3 5.8h-6.6zM353.9 201.3l3.3 5.8h-6.6zM336.8 183.1l3.3 5.8h-6.6zM345.1 222.3l3.3 5.8h-6.6zM346.6 222.2l3.3 5.8h-6.6zM342 180.2l3.3 5.8h-6.6zM361.5 213.1l3.3 5.8h-6.6zM343.4 182.6l3.3 5.8h-6.6zM357.7 218.3l3.3 5.8h-6.6zM353.6 194l3.3 5.8h-6.6zM354.8 194.3l3.3 5.8h-6.6zM330.7 187.2l3.3 5.8h-6.6zM335.2 186.8l3.3 5.8h-6.6zM318.8 195.8l3.3 5.8h-6.6zM337.9 183.5l3.3 5.8h-6.6zM361.5 216.4l3.3 5.8h-6.6zM335.9 187.7l3.3 5.8h-6.6zM347.2 182.9l3.3 5.8h-6.6zM353.2 225.8l3.3 5.8h-6.6zM318.3 192.3l3.3 5.8h-6.6zM354.3 184.5l3.3 5.8h-6.6zM332.2 187.6l3.3 5.8h-6.6zM340.8 182.2l3.3 5.8h-6.6zM317.5 205.9l3.3 5.8h-6.6zM359 217l3.3 5.8h-6.6zM353.7 193l3.3 5.8h-6.6zM356 193.3l3.3 5.8h-6.6zM321.6 207.4l3.3 5.8h-6.6zM352.2 197l3.3 5.8h-6.6zM336.1 219.5l3.3 5.8h-6.6zM338.7 181.4l3.3 5.8h-6.6zM328.4 213.5l3.3 5.8h-6.6zM332.4 188.2l3.3 5.8h-6.6zM353.6 184.6l3.3 5.8h-6.6z" fill="none" stroke="#EDB120" stroke-width="1.0"/>
<path d="M436.9 39.2 435.9 41.2 433.8 47.1 433.7 47.2 433.6 47.4 433.5 47.6 433.4 47.7 433.2 47.8 433.1 48 432.9 48.1 425.2 52.2 419.4 58.7 420.1 67.6 425.4 75.6 430.3 79.9 430.5 80 430.6 80.1 430.7 80.3 430.8 80.4 430.9 80.6 430.9 80.8 431 80.9 432.1 86.6 433.7 86.6 437.6 78.9 437.7 78.8 437.8 78.6 437.9 78.5 438.1 78.4 438.2 78.3 438.3 78.2 438.5 78.1 438.7 78 438.8 78 447.5 75.8 447.7 75.7 448 75.7 448.2 75.7 456.1 76.4 460 73.1 460.6 66.5 460.6 66.3 460.7 66.1 460.8 65.9 460.9 65.8 461 65.6 464 61.4 462.3 57.2 462.2 57.1 462.1 56.9 462.1 56.7 461.4 49 459.6 44.7 454.2 40.6 454 40.5 453.8 40.3 453.7 40.1 451.3 36.5 446.7 35.9 441.4 38 441.2 38 436.9 39.2Z" fill="#77AC30" fill-opacity="0.3" fill-rule="evenodd"/>
<path d="M440.6 73.6h4.5v4.5h-4.5zM426.5 52.5h4.5v4.5h-4.5zM446.9 64.6h4.5v4.5h-4.5zM424.4 60h4.5v4.5h-4.5zM436.4 64.8h4.5v4.5h-4.5zM420 65.4h4.5v4.5h-4.5zM442.7 51.3h4.5v4.5h-4.5zM456.6 59.1h4.5v4.5h-4.5zM429.6 64.5h4.5v4.5h-4.5zM432.5 61.9h4.5v4.5h-4.5zM450.5 48.9h4.5v4.5h-4.5zM440.9 55.3h4.5v4.5h-4.5zM432.6 63.4h4.5v4.5h-4.5zM443.7 60.9h4.5v4.5h-4.5zM439.9 57h4.5v4.5h-4.5zM452.1 61.8h4.5v4.5h-4.5zM430 51h4.5v4.5h-4.5zM442.6 72.3h4.5v4.5h-4.5zM434.4 60.3h4.5v4.5h-4.5zM444.7 57.2h4.5v4.5h-4.5zM436.4 66.8h4.5v4.5h-4.5zM426.3 74.5h4.5v4.5h-4.5zM436.2 73h4.5v4.5h-4.5zM456.1 53.6h4.5v4.5h-4.5zM428 60.3h4.5v4.5h-4.5zM456.4 49.4h4.5v4.5h-4.5zM437 74.9h4.5v4.5h-4.5zM434.9 53.9h4.5v4.5h-4.5zM451.8 48.8h4.5v4.5h-4.5zM446.7 34.4h4.5v4.5h-4.5zM442.9 37.6h4.5v4.5h-4.5zM456.2 55h4.5v4.5h-4.5zM432.4 58.6h4.5v4.5h-4.5zM442.5 53.5h4.5v4.5h-4.5zM448.1 58.2h4.5v4.5h-4.5zM454 68.2h4.5v4.5h-4.5zM438 43.6h4.5v4.5h-4.5zM454.9 42.7h4.5v4.5h-4.5zM449.1 55.7h4.5v4.5h-4.5zM451.1 52.2h4.5v4.5h-4.5zM448.7 68.1h4.5v4.5h-4.5zM432 45.1h4.5v4.5h-4.5zM448.6 36.8h4.5v4.5h-4.5zM449.2 57h4.5v4.5h-4.5zM443.6 36.8h4.5v4.5h-4.5zM433.7 56.9h4.5v4.5h-4.5zM452.6 64.5h4.5v4.5h-4.5zM437.3 66h4.5v4.5h-4.5zM445.3 61.8h4.5v4.5h-4.5zM433 67h4.5v4.5h-4.5zM452.5 56.5h4.5v4.5h-4.5zM457.2 53.6h4.5v4.5h-4.5zM431.8 76.2h4.5v4.5h-4.5zM450.1 45.8h4.5v4.5h-4.5zM455.9 64.2h4.5v4.5h-4.5zM425 72.4h4.5v4.5h-4.5zM439.1 37.6h4.5v4.5h-4.5zM455 50.5h4.5v4.5h-4.5zM457.6 62.9h4.5v4.5h-4.5zM419.2 63h4.5v4.5h-4.5zM426.3 54.6h4.5v4.5h-4.5zM438.3 56h4.5v4.5h-4.5zM445.2 52.8h4.5v4.5h-4.5zM434.9 73.3h4.5v4.5h-4.5zM450.3 59.2h4.5v4.5h-4.5zM421.2 65.7h4.5v4.5h-4.5zM450.3 42.5h4.5v4.5h-4.5zM446.6 65.7h4.5v4.5h-4.5zM426.1 59.7h4.5v4.5h-4.5zM449.1 42.7h4.5v4.5h-4.5zM427.4 66.4h4.5v4.5h-4.5zM439 43.5h4.5v4.5h-4.5zM441.9 36.4h4.5v4.5h-4.5zM444.4 59.9h4.5v4.5h-4.5zM425.6 59.6h4.5v4.5h-4.5zM440.4 46.7h4.5v4.5h-4.5zM452.8 57.9h4.5v4.5h-4.5zM447 66.5h4.5v4.5h-4.5zM446.4 34.8h4.5v4.5h-4.5zM431 58.5h4.5v4.5h-4.5zM451.8 61.9h4.5v4.5h-4.5zM450.7 73.2h4.5v4.5h-4.5zM453.2 57.4h4.5v4.5h-4.5zM419.3 56.3h4.5v4.5h-4.5zM442.7 43.2h4.5v4.5h-4.5zM432.2 52.5h4.5v4.5h-4.5zM422.3 65h4.5v4.5h-4.5zM435.8 53.1h4.5v4.5h-4.5zM447.2 42.4h4.5v4.5h-4.5zM436 55.3h4.5v4.5h-4.5zM453.3 49.1h4.5v4.5h-4.5zM425.5 74.1h4.5v4.5h-4.5zM432.4 80h4.5v4.5h-4.5zM434.5 48.5h4.5v4.5h-4.5zM455.6 69.2h4.5v4.5h-4.5zM433.3 48h4.5v4.5h-4.5zM441.9 67.1h4.5v4.5h-4.5zM441.1 73.4h4.5v4.5h-4.5zM432.5 46.7h4.5v4.5h-4.5zM438 54h4.5v4.5h-4.5zM438.4 44.4h4.5v4.5h-4.5zM436.7 44.1h4.5v4.5h-4.5zM449.1 53.2h4.5v4.5h-4.5zM434 54.5h4.5v4.5h-4.5zM443.4 47.6h4.5v4.5h-4.5zM429.2 79.6h4.5v4.5h-4.5zM446.2 42.9h4.5v4.5h-4.5zM441.1 47.3h4.5v4.5h-4.5zM436.7 65.1h4.5v4.5h-4.5zM430 47.2h4.5v4.5h-4.5zM456.4 69.7h4.5v4.5h-4.5zM428.9 71.4h4.5v4.5h-4.5zM437.3 73.8h4.5v4.5h-4.5zM431.3 77.5h4.5v4.5h-4.5zM426.2 57.8h4.5v4.5h-4.5zM437.9 41h4.5v4.5h-4.5zM424.8 71.3h4.5v4.5h-4.5zM460.4 56.8h4.5v4.5h-4.5zM433.7 49.9h4.5v4.5h-4.5zM438.9 50.1h4.5v4.5h-4.5zM436.1 46.4h4.5v4.5h-4.5zM450.9 49.8h4.5v4.5h-4.5zM444.2 49.7h4.5v4.5h-4.5zM443.2 37.7h4.5v4.5h-4.5zM449.4 65.5h4.5v4.5h-4.5zM444.7 36.2h4.5v4.5h-4.5zM452.6 53.1h4.5v4.5h-4.5zM450.8 54.3h4.5v4.5h-4.5zM439 39.6h4.5v4.5h-4.5zM429.4 77.1h4.5v4.5h-4.5zM449.6 71.1h4.5v4.5h-4.5zM438.8 62.8h4.5v4.5h-4.5zM437 40.5h4.5v4.5h-4.5zM439.2 60.8h4.5v4.5h-4.5zM426.1 66.6h4.5v4.5h-4.5zM450.7 63.4h4.5v4.5h-4.5zM438.9 49.5h4.5v4.5h-4.5zM435.7 54h4.5v4.5h-4.5zM431.4 51.9h4.5v4.5h-4.5zM424.8 67.4h4.5v4.5h-4.5zM436.9 66.4h4.5v4.5h-4.5zM422.8 67.7h4.5v4.5h-4.5zM434 61.9h4.5v4.5h-4.5zM435.4 45.7h4.5v4.5h-4.5zM441.4 64.8h4.5v4.5h-4.5zM451.3 56.3h4.5v4.5h-4.5zM430.7 74.3h4.5v4.5h-4.5zM432.4 74.2h4.5v4.5h-4.5zM433.4 62.3h4.5v4.5h-4.5zM442.9 52.4h4.5v4.5h-4.5zM433.3 59.1h4.5v4.5h-4.5zM433.8 47.2h4.5v4.5h-4.5zM454.8 59h4.5v4.5h-4.5zM437.6 44.4h4.5v4.5h-4.5zM442.8 41.2h4.5v4.5h-4.5zM454.1 57h4.5v4.5h-4.5zM452.4 55.4h4.5v4.5h-4.5zM454.5 63.5h4.5v4.5h-4.5zM453.1 41.5h4.5v4.5h-4.5zM435.9 46.2h4.5v4.5h-4.5zM433.1 73.7h4.5v4.5h-4.5zM435.6 49.7h4.5v4.5h-4.5zM452.5 61.9h4.5v4.5h-4.5zM418.7 64.2h4.5v4.5h-4.5zM455.3 68.8h4.5v4.5h-4.5zM449 47.8h4.5v4.5h-4.5zM448 54.8h4.5v4.5h-4.5zM435.5 76h4.5v4.5h-4.5zM437.3 52.2h4.5v4.5h-4.5zM457.6 61.3h4.5v4.5h-4.5zM429.7 65.3h4.5v4.5h-4.5zM430.7 54.4h4.5v4.5h-4.5zM440.6 69.6h4.5v4.5h-4.5zM435.4 61.6h4.5v4.5h-4.5zM441.6 61.1h4.5v4.5h-4.5zM439.4 35.9h4.5v4.5h-4.5zM455.8 62.8h4.5v4.5h-4.5zM430.4 83.3h4.5v4.5h-4.5zM435.3 60.1h4.5v4.5h-4.5zM432.4 45.1h4.5v4.5h-4.5zM422.5 57.7h4.5v4.5h-4.5zM447.5 49.3h4.5v4.5h-4.5zM441.7 57.9h4.5v4.5h-4.5zM437.9 71.1h4.5v4.5h-4.5zM454.2 69.8h4.5v4.5h-4.5zM442.9 41.6h4.5v4.5h-4.5zM448.6 38.7h4.5v4.5h-4.5zM437.3 36.6h4.5v4.5h-4.5zM458.4 56.4h4.5v4.5h-4.5zM448.2 61.1h4.5v4.5h-4.5zM455.6 51.1h4.5v4.5h-4.5zM450.9 40h4.5v4.5h-4.5zM418.6 60h4.5v4.5h-4.5zM437.6 34.9h4.5v4.5h-4.5zM425.8 76.3h4.5v4.5h-4.5zM419.7 69h4.5v4.5h-4.5zM462.9 60h4.5v4.5h-4.5zM458.5 71.1h4.5v4.5h-4.5zM431.8 85.5h4.5v4.5h-4.5zM424.4 50.5h4.5v4.5h-4.5zM460.5 63.5h4.5v4.5h-4.5zM428.5 77.7h4.5v4.5h-4.5zM442.7 73.2h4.5v4.5h-4.5zM444.5 72.4h4.5v4.5h-4.5zM445.5 33.8h4.5v4.5h-4.5zM421.7 70.8h4.5v4.5h-4.5zM452.3 72.7h4.5v4.5h-4.5zM438.2 36.8h4.5v4.5h-4.5zM427.8 75.6h4.5v4.5h-4.5zM418.7 65.7h4.5v4.5h-4.5zM436.3 76.2h4.5v4.5h-4.5zM432.2 81h4.5v4.5h-4.5zM420.2 53.9h4.5v4.5h-4.5zM419.8 53.5h4.5v4.5h-4.5zM430 78.9h4.5v4.5h-4.5zM457.4 66.9h4.5v4.5h-4.5zM460.4 50.7h4.5v4.5h-4.5zM432.7 83.8h4.5v4.5h-4.5zM432 43.4h4.5v4.5h-4.5zM453 75.7h4.5v4.5h-4.5zM444.7 33.4h4.5v4.5h-4.5z" fill="none" stroke="#77AC30" stroke-width="1.0"/>
<path d="M418.6 148 418.3 147.8 418 147.7 417.7 147.5 417.4 147.3 417.1 147.1 416.8 147 416.4 146.9 416.1 146.7 415.7 146.6 415.3 146.5 415.3 146.5 415.1 146.5 415 146.4 414.9 146.4 407.5 142.4 407 142.2 406.5 142 406 141.9 405.5 141.8 405 141.8 404.5 141.8 404 141.9 403.5 142 403 142.2 402.5 142.4 402.1 142.6 401.7 142.9 401.3 143.3 401 143.7 400.7 144.1 400.4 144.5 400.2 145 400 145.5 399.9 146 399.8 146.5 399.8 147 399.8 147.5 399.9 148 400 148.5 400.2 149 400.4 149.5 400.6 149.9 400.9 150.3 401.3 150.7 401.7 151 402.1 151.3 402.5 151.6 405 152.9 405.1 153 405.2 153.1 405.3 153.2 405.4 153.3 405.4 153.4 405.5 153.5 405.6 153.6 405.7 153.8 405.8 154.1 405.9 154.3 406.1 154.6 406.3 154.8 406.5 155.1 406.7 155.3 406.9 155.5 407.2 155.7 407.4 156 407.7 156.2 408 156.3 408.3 156.5 408.6 156.7 408.9 156.9 409.2 157 409.6 157.1 409.9 157.3 410.3 157.4 410.7 157.5 411.1 157.6 411.4 157.6 411.8 157.7 412.2 157.7 412.6 157.7 413 157.7 413.4 157.7 413.5 157.7 413.6 157.7 413.7 157.7 413.8 157.8 413.9 157.8 414 157.8 414.1 157.9 415.5 158.6 415.7 158.7 429.6 165.7 430.1 165.9 430.6 166.1 431.1 166.2 431.6 166.2 432.1 166.2 432.7 166.2 433.2 166.1 433.7 166 434.1 165.8 434.6 165.6 435 165.3 435.4 165 435.6 164.8 435.7 164.7 435.8 164.6 435.9 164.6 436 164.5 436.2 164.5 436.3 164.4 436.4 164.4 436.5 164.4 436.6 164.4 442.1 165 442.2 165 442.4 165 442.5 165.1 442.6 165.1 442.7 165.2 442.8 165.3 442.9 165.3 443 165.4 443 165.5 443.1 165.6 443.2 165.8 443.2 165.9 443.2 166 443.2 166.1 443.2 166.2 443.2 166.4 443.2 166.5 443.2 166.6 439.5 177.8 439.4 177.9 438.8 179.8 438.8 179.9 438.7 180 438.7 180.2 438.6 180.3 438.5 180.3 438.4 180.4 438.3 180.5 438.2 180.6 438.1 180.6 438 180.7 437.9 180.7 437.7 180.7 437.6 180.7 437.5 180.7 437.4 180.7 437.2 180.6 437.1 180.6 437 180.5 436.9 180.5 436.8 180.4 436.4 180.2 436 179.9 435.6 179.7 435.2 179.5 434.7 179.3 434.2 179.1 433.8 179 433.3 178.8 432.8 178.7 432.2 178.6 431.7 178.5 431.2 178.4 430.6 178.3 430.1 178.3 429.5 178.3 429 178.3 428.8 178.3 428.7 178.3 428.6 178.2 428.5 178.2 428.3 178.2 428.2 178.1 428.1 178.1 428 178 427.9 177.9 427.8 177.8 427.8 177.7 427.7 177.6 427.6 177.5 427.6 177.4 427.6 177.3 427.5 177.2 427.5 177 427.5 176.9 427.6 176.8 427.6 176.7 427.6 176.6 427.7 176.4 427.7 176.3 427.8 176.2 427.9 176.1 427.9 176.1 428 176 428.1 175.8 428.2 175.7 428.3 175.5 428.4 175.4 428.5 175.2 428.6 175 428.6 174.9 428.7 174.7 428.7 174.5 428.7 174.3 428.7 174.2 428.7 174 428.7 173.8 428.7 173.7 428.7 173.5 428.7 173.3 428.6 173.1 428.6 173 428.5 172.8 428.4 172.6 428.3 172.5 428.2 172.3 428.1 172.2 428 172 427.9 171.9 427.7 171.7 427.6 171.6 427.4 171.4 427.3 171.3 427.1 171.2 426.9 171.1 426.7 170.9 426.5 170.8 426.3 170.7 426.1 170.7 425.9 170.6 425.7 170.5 425.4 170.4 425.2 170.4 425 170.3 424.7 170.3 424.5 170.3 424.2 170.3 424 170.3 423.8 170.3 423.5 170.3 423.3 170.3 423 170.3 422.8 170.4 422.6 170.4 422.3 170.5 422.1 170.6 421.9 170.7 421.7 170.7 421.5 170.8 421.3 170.9 421.1 171 421 171.1 420.9 171.1 420.8 171.2 420.6 171.2 420.5 171.2 420.4 171.2 420.3 171.2 420.2 171.2 420 171.1 419.9 171.1 419.8 171 419.7 171 419.6 170.9 419.5 170.8 419.5 170.7 419.4 170.6 419.3 170.5 419.3 170.4 419 169.6 418.8 169.2 418.6 168.8 418.4 168.5 418.1 168.2 417.8 167.9 417.5 167.6 417.2 167.4 416.8 167.2 416.4 167 416 166.9 415.6 166.8 415.2 166.8 414.8 166.8 414.4 166.8 414 166.9 413.6 167 413.2 167.2 412.8 167.4 412.5 167.6 412.2 167.9 411.9 168.2 411.6 168.5 411.4 168.8 411.2 169.2 411 169.6 410.9 170 410.8 170.4 410.8 170.8 410.8 171.2 410.8 171.6 410.9 172 411 172.5 416 186.4 416.2 186.8 416.3 187.1 416.6 187.5 416.8 187.8 417.5 188.6 417.6 188.7 417.6 188.8 417.7 188.9 417.7 189 417.8 189.1 417.8 189.3 417.8 189.4 417.8 189.5 417.8 189.8 417.8 190.1 417.8 190.5 417.9 190.8 417.9 191.1 418.1 191.4 418.2 191.7 418.4 191.9 418.6 192.2 418.8 192.4 419.1 192.6 419.3 192.8 419.6 192.9 419.9 193 420.2 193.1 420.5 193.2 420.9 193.2 421.1 193.2 421.2 193.3 421.3 193.3 421.4 193.3 421.6 193.4 421.7 193.4 421.8 193.5 421.9 193.6 422 193.7 423.8 195.8 424.1 196.1 424.4 196.4 424.8 196.6 425.1 196.8 425.5 197 425.9 197.1 426.3 197.2 426.7 197.2 427.1 197.2 427.5 197.2 428 197.1 428.4 197 428.7 196.9 429.1 196.7 429.5 196.4 429.8 196.2 430.1 195.9 430.4 195.6 430.6 195.2 430.8 194.9 430.9 194.6 431 194.5 431.1 194.4 431.1 194.3 431.2 194.2 431.3 194.1 431.4 194 431.5 194 431.6 193.9 431.8 193.9 431.9 193.8 432 193.8 432.1 193.8 435.3 194 435.4 194 435.5 194 435.6 194.1 435.8 194.1 435.9 194.2 436 194.2 436.1 194.3 436.1 194.4 436.3 194.6 436.6 194.9 436.9 195.1 437.2 195.3 437.6 195.4 437.9 195.6 438.3 195.7 438.6 195.7 439 195.7 439.4 195.7 439.7 195.7 440.1 195.6 440.4 195.5 440.7 195.3 441.1 195.1 441.4 194.9 441.6 194.7 441.9 194.4 442.1 194.1 442.3 193.8 442.4 193.4 442.6 193.1 442.6 193 442.6 192.9 442.7 192.8 442.8 192.7 442.8 192.7 442.9 192.4 443 192.1 443.1 191.8 443.2 191.5 443.2 191.2 443.2 191.1 443.2 191 443.3 190.9 443.3 190.8 446.6 180.2 446.6 180.1 451.4 165.6 451.4 165.5 451.5 165.4 451.6 165.3 451.7 165.2 451.7 165.1 451.9 164.9 452.1 164.7 452.3 164.5 452.4 164.3 452.5 164.1 452.6 163.8 452.7 163.5 452.7 163.3 452.7 163 452.7 162.7 452.7 162.5 452.6 162.2 452.5 162 452.4 161.7 452.3 161.5 452.1 161.3 451.9 161.1 451.7 160.9 451.5 160.7 451.3 160.6 451.1 160.5 450.8 160.4 450.5 160.3 450.2 160.3 437.5 159 437.4 159 437.2 158.9 437.1 158.9 437 158.8 436.9 158.8 436.8 158.7 436.7 158.6 436.6 158.5 436.6 158.4 436.3 158 436 157.6 435.6 157.2 435.2 156.9 434.8 156.6 434.3 156.3 420.4 149.4 420.4 149.3 419.6 148.9 419.5 148.8 419.4 148.8 419.3 148.7 419.1 148.5 418.8 148.3 418.6 148Z" fill="#7E2F8E" fill-opacity="0.6" fill-rule="evenodd"/>
<path d="M375.1 130h6.2M378.2 126.9v6.2M358.7 139.1h6.2M361.8 136v6.2M474.7 134.3h6.2M477.8 131.2v6.2M465.4 148.2h6.2M468.5 145.1v6.2M367.9 130.5h6.2M371 127.4v6.2M393.1 171h6.2M396.2 167.9v6.2M440.3 164h6.2M443.4 160.9v6.2M418.1 159h6.2M421.2 155.9v6.2M425.7 189.1h6.2M428.8 186v6.2M438.7 186.6h6.2M441.8 183.5v6.2M441.9 175.5h6.2M445 172.4v6.2M443.6 167.9h6.2M446.7 164.8v6.2M436.1 159.8h6.2M439.2 156.7v6.2M424.9 193.4h6.2M428 190.3v6.2M441.5 177h6.2M444.6 173.9v6.2M431.8 160.6h6.2M434.9 157.5v6.2M421.9 187.9h6.2M425 184.8v6.2M439.8 175.9h6.2M442.9 172.8v6.2M409.2 154.3h6.2M412.3 151.2v6.2M403.6 147.4h6.2M406.7 144.3v6.2M421.4 179.5h6.2M424.5 176.4v6.2M430.3 184.4h6.2M433.4 181.3v6.2M411.4 168.5h6.2M414.5 165.4v6.2M415.7 153.6h6.2M418.8 150.5v6.2M409.1 168.2h6.2M412.2 165.1v6.2M440.3 174.2h6.2M443.4 171.1v6.2M435.5 182.1h6.2M438.6 179v6.2M435.5 190.5h6.2M438.6 187.4v6.2M438.1 191.4h6.2M441.2 188.3v6.2M401.5 149h6.2M404.6 145.9v6.2M424.2 184.1h6.2M427.3 181v6.2M419.7 191.3h6.2M422.8 188.2v6.2M422.4 189.1h6.2M425.5 186v6.2M437.1 179h6.2M440.2 175.9v6.2M432.7 192.1h6.2M435.8 189v6.2M426.7 159.2h6.2M429.8 156.1v6.2M403 152.2h6.2M406.1 149.1v6.2M427 188.3h6.2M430.1 185.2v6.2M405.5 146.1h6.2M408.6 143v6.2M437.1 193.3h6.2M440.2 190.2v6.2M420.7 185.4h6.2M423.8 182.3v6.2M448.1 163.9h6.2M451.2 160.8v6.2M438.1 162.4h6.2M441.2 159.3v6.2M425.5 196.3h6.2M428.6 193.2v6.2M427.6 159.1h6.2M430.7 156v6.2M441.6 160h6.2M444.7 156.9v6.2M418 175.7h6.2M421.1 172.6v6.2M443.4 170.7h6.2M446.5 167.6v6.2M433.2 160.5h6.2M436.3 157.4v6.2M424 189.3h6.2M427.1 186.2v6.2M421.1 180.7h6.2M424.2 177.6v6.2M411.8 147.7h6.2M414.9 144.6v6.2M431 188.8h6.2M434.1 185.7v6.2M417.7 157.9h6.2M420.8 154.8v6.2M445.1 164.4h6.2M448.2 161.3v6.2M440.4 187.9h6.2M443.5 184.8v6.2M415.5 186.3h6.2M418.6 183.2v6.2M411.9 147.9h6.2M415 144.8v6.2M439.8 168.8h6.2M442.9 165.7v6.2M410.8 151.7h6.2M413.9 148.6v6.2M410.9 170.7h6.2M414 167.6v6.2M445.1 162.6h6.2M448.2 159.5v6.2M424.2 172.8h6.2M427.3 169.7v6.2M422.4 181.4h6.2M425.5 178.3v6.2M412.4 148.6h6.2M415.5 145.5v6.2M438.4 191.7h6.2M441.5 188.6v6.2M423.2 194.3h6.2M426.3 191.2v6.2M436.4 161.6h6.2M439.5 158.5v6.2M442.8 169.3h6.2M445.9 166.2v6.2M413.3 149.6h6.2M416.4 146.5v6.2M423.7 171.4h6.2M426.8 168.3v6.2M428.1 156.6h6.2M431.2 153.5v6.2M413.1 184.1h6.2M416.2 181v6.2M418.7 157.9h6.2M421.8 154.8v6.2M440.2 161.1h6.2M443.3 158v6.2M416.4 187.1h6.2M419.5 184v6.2M441.1 172.3h6.2M444.2 169.2v6.2M440.7 180.2h6.2M443.8 177.1v6.2M415.8 178.9h6.2M418.9 175.8v6.2M402.3 151.5h6.2M405.4 148.4v6.2M438 177.4h6.2M441.1 174.3v6.2M429.3 186.8h6.2M432.4 183.7v6.2M422.1 188.1h6.2M425.2 185v6.2M420.7 172.8h6.2M423.8 169.7v6.2M417.1 192.6h6.2M420.2 189.5v6.2M405.9 149.2h6.2M409 146.1v6.2M405.6 144.4h6.2M408.7 141.3v6.2M444.2 173.3h6.2M447.3 170.2v6.2M439.6 177.9h6.2M442.7 174.8v6.2M437.5 185.5h6.2M440.6 182.4v6.2M420.6 192h6.2M423.7 188.9v6.2M401.3 147.5h6.2M404.4 144.4v6.2M442.7 161.8h6.2M445.8 158.7v6.2M407 153.7h6.2M410.1 150.6v6.2M417.6 156.5h6.2M420.7 153.4v6.2M439 186h6.2M442.1 182.9v6.2M416.5 188.5h6.2M419.6 185.4v6.2M409.7 156.6h6.2M412.8 153.5v6.2M413.4 175.4h6.2M416.5 172.3v6.2M407.4 144.9h6.2M410.5 141.8v6.2M407.1 149h6.2M410.2 145.9v6.2M441.9 162.2h6.2M445 159.1v6.2M422.3 161.7h6.2M425.4 158.6v6.2M425.2 192.7h6.2M428.3 189.6v6.2M416.4 178.8h6.2M419.5 175.7v6.2M405.4 153.9h6.2M408.5 150.8v6.2M445.1 164.2h6.2M448.2 161.1v6.2M419.5 192.8h6.2M422.6 189.7v6.2M418.5 157.6h6.2M421.6 154.5v6.2M431.2 179.4h6.2M434.3 176.3v6.2M412.5 180.9h6.2M415.6 177.8v6.2M415.2 188.6h6.2M418.3 185.5v6.2M448.2 161.9h6.2M451.3 158.8v6.2M440.3 171.1h6.2M443.4 168v6.2M417.3 190.6h6.2M420.4 187.5v6.2M428.5 180.7h6.2M431.6 177.6v6.2M415.4 155.1h6.2M418.5 152v6.2M422 156.2h6.2M425.1 153.1v6.2M422.9 155.1h6.2M426 152v6.2M397.1 147h6.2M400.2 143.9v6.2M424.5 178.7h6.2M427.6 175.6v6.2M424.8 190.8h6.2M427.9 187.7v6.2M401.1 147h6.2M404.2 143.9v6.2M397.3 148.3h6.2M400.4 145.2v6.2M443.8 165h6.2M446.9 161.9v6.2M416.1 181.2h6.2M419.2 178.1v6.2M420.9 154.9h6.2M424 151.8v6.2M439.4 173.9h6.2M442.5 170.8v6.2M413.6 170.2h6.2M416.7 167.1v6.2M417 181.5h6.2M420.1 178.4v6.2M404.6 152.4h6.2M407.7 149.3v6.2M417.6 187.4h6.2M420.7 184.3v6.2M427.9 162.5h6.2M431 159.4v6.2M424.3 173.9h6.2M427.4 170.8v6.2M443.4 176.8h6.2M446.5 173.7v6.2M444 173.8h6.2M447.1 170.7v6.2M423.9 190h6.2M427 186.9v6.2M417 157.1h6.2M420.1 154v6.2M421.1 188.7h6.2M424.2 185.6v6.2M425.5 189.7h6.2M428.6 186.6v6.2M415.4 181.6h6.2M418.5 178.5v6.2M415.5 157.2h6.2M418.6 154.1v6.2M428.7 155.9h6.2M431.8 152.8v6.2M419.6 178.1h6.2M422.7 175v6.2M413.2 147.5h6.2M416.3 144.4v6.2M416.2 151.4h6.2M419.3 148.3v6.2M406.2 153h6.2M409.3 149.9v6.2M413.2 170.4h6.2M416.3 167.3v6.2M403.5 149.2h6.2M406.6 146.1v6.2M402.6 142h6.2M405.7 138.9v6.2M427.1 184.1h6.2M430.2 181v6.2M399.5 145h6.2M402.6 141.9v6.2M417.4 190.6h6.2M420.5 187.5v6.2M441.1 186.2h6.2M444.2 183.1v6.2M426.9 178.5h6.2M430 175.4v6.2M415.6 156.4h6.2M418.7 153.3v6.2M406.5 154.4h6.2M409.6 151.3v6.2M425.5 191.4h6.2M428.6 188.3v6.2M421.1 190.2h6.2M424.2 187.1v6.2M421.3 158.1h6.2M424.4 155v6.2M428.2 155.4h6.2M431.3 152.3v6.2M421.2 159.1h6.2M424.3 156v6.2M423.4 183.9h6.2M426.5 180.8v6.2M402.2 143.3h6.2M405.3 140.2v6.2M414.1 157.3h6.2M417.2 154.2v6.2M433.8 188h6.2M436.9 184.9v6.2M427.5 164.9h6.2M430.6 161.8v6.2M437.5 180.1h6.2M440.6 177v6.2M433.8 162.6h6.2M436.9 159.5v6.2M440.2 181.6h6.2M443.3 178.5v6.2M423.7 189.2h6.2M426.8 186.1v6.2M432.5 157.4h6.2M435.6 154.3v6.2M419.3 193.1h6.2M422.4 190v6.2M442.5 177h6.2M445.6 173.9v6.2M424.6 158.4h6.2M427.7 155.3v6.2M445.6 171.4h6.2M448.7 168.3v6.2M413.7 152.5h6.2M416.8 149.4v6.2M427.9 162.8h6.2M431 159.7v6.2M418.1 173.2h6.2M421.2 170.1v6.2M419 188.9h6.2M422.1 185.8v6.2M440.4 179.9h6.2M443.5 176.8v6.2M440.2 160.5h6.2M443.3 157.4v6.2M438.9 177.6h6.2M442 174.5v6.2M411.9 176.6h6.2M415 173.5v6.2M439.8 171h6.2M442.9 167.9v6.2M442.2 182.5h6.2M445.3 179.4v6.2M425.9 163h6.2M429 159.9v6.2M416.7 189.1h6.2M419.8 186v6.2M413.6 181.9h6.2M416.7 178.8v6.2M400.3 142.5h6.2M403.4 139.4v6.2M434.7 162.1h6.2M437.8 159v6.2M423.3 156.5h6.2M426.4 153.4v6.2M413.4 155.5h6.2M416.5 152.4v6.2M429.8 158.7h6.2M432.9 155.6v6.2M415.2 149.8h6.2M418.3 146.7v6.2M409.2 154.7h6.2M412.3 151.6v6.2M436.6 159.6h6.2M439.7 156.5v6.2M426 194.1h6.2M429.1 191v6.2M442.9 161.3h6.2M446 158.2v6.2M418.3 190.5h6.2M421.4 187.4v6.2M430.6 193.5h6.2M433.7 190.4v6.2M445.2 169.1h6.2M448.3 166v6.2M440 161.8h6.2M443.1 158.7v6.2M415.2 171.2h6.2M418.3 168.1v6.2M434.5 189.5h6.2M437.6 186.4v6.2M436.5 161.3h6.2M439.6 158.2v6.2M414.2 187.9h6.2M417.3 184.8v6.2M414.2 173.6h6.2M417.3 170.5v6.2M431.1 184.5h6.2M434.2 181.4v6.2M404.8 149.3h6.2M407.9 146.2v6.2M427 179.3h6.2M430.1 176.2v6.2M412 183.3h6.2M415.1 180.2v6.2M440.5 188.8h6.2M443.6 185.7v6.2M435.3 189.7h6.2M438.4 186.6v6.2M410.4 170.2h6.2M413.5 167.1v6.2M412.1 178.2h6.2M415.2 175.1v6.2M441.9 177.4h6.2M445 174.3v6.2M410.1 170.1h6.2M413.2 167v6.2M422.3 175.4h6.2M425.4 172.3v6.2M414.7 170.2h6.2M417.8 167.1v6.2M439.7 160.4h6.2M442.8 157.3v6.2M402 142.7h6.2M405.1 139.6v6.2M408.9 173.9h6.2M412 170.8v6.2M400.7 152.9h6.2M403.8 149.8v6.2M434.9 159.7h6.2M438 156.6v6.2M440.3 193h6.2M443.4 189.9v6.2M424.7 164.3h6.2M427.8 161.2v6.2M436.2 180.4h6.2M439.3 177.3v6.2M441.1 167.2h6.2M444.2 164.1v6.2M449 166.5h6.2M452.1 163.4v6.2M406.7 156.8h6.2M409.8 153.7v6.2M439.8 191.9h6.2M442.9 188.8v6.2M441.7 166.6h6.2M444.8 163.5v6.2M444.9 181h6.2M448 177.9v6.2M397.1 151.7h6.2M400.2 148.6v6.2M443 178.5h6.2M446.1 175.4v6.2M431.7 157.2h6.2M434.8 154.1v6.2M439.7 188.6h6.2M442.8 185.5v6.2M404.8 140.8h6.2M407.9 137.7v6.2M410.9 147.3h6.2M414 144.2v6.2M431.6 167.1h6.2M434.7 164v6.2M415.8 188.1h6.2M418.9 185v6.2M436.4 179.1h6.2M439.5 176v6.2M427.2 177.2h6.2M430.3 174.1v6.2M396.2 148.2h6.2M399.3 145.1v6.2M398.1 143.8h6.2M401.2 140.7v6.2M410.2 144.9h6.2M413.3 141.8v6.2M432.9 180.2h6.2M436 177.1v6.2M424.8 197.3h6.2M427.9 194.2v6.2M428.8 156.5h6.2M431.9 153.4v6.2M406.8 171h6.2M409.9 167.9v6.2M397.8 148.5h6.2M400.9 145.4v6.2M409.7 180.6h6.2M412.8 177.5v6.2" fill="none" stroke="#7E2F8E" stroke-width="1.0"/>
<path d="M337.4 68 340.4 74.8 344.3 82.5 350.3 86.9 359.7 89.4 359.9 89.4 360 89.5 360.2 89.5 360.3 89.6 360.5 89.7 364.3 93 368.1 90.4 368.2 90.3 368.4 90.2 368.6 90.2 368.8 90.1 376.7 88.6 382.5 86 381.3 80.9 381.2 80.7 381.2 80.6 381.2 80.4 381.2 80.2 382.7 71.7 379.9 65.2 372.9 59 366.9 55.2 361.8 54.5 359.1 58.6 359 58.7 358.9 58.9 358.7 59 358.6 59.1 358.5 59.2 358.3 59.3 352.6 61.7 352.4 61.7 352.3 61.8 352.1 61.8 351.9 61.8 351.7 61.8 351.6 61.8 351.4 61.7 351.2 61.7 351.1 61.6 350.9 61.5 350.8 61.4 350.6 61.3 347.6 58.2 343.1 56.3 339.6 58.7 337.4 68Z" fill="#4DBEEE" fill-opacity="0.85" fill-rule="evenodd"/>
<path d="M359.8 57.5h5.4M362.5 54.8v5.4M360.6 55.5l3.9 3.9M360.6 59.4l3.9 -3.9M375.8 67h5.4M378.5 64.3v5.4M376.6 65.1l3.9 3.9M376.6 69l3.9 -3.9M360.1 57.4h5.4M362.8 54.7v5.4M360.9 55.4l3.9 3.9M360.9 59.3l3.9 -3.9M346 71.6h5.4M348.7 68.9v5.4M346.7 69.6l3.9 3.9M346.7 73.5l3.9 -3.9M343.5 76.1h5.4M346.2 73.4v5.4M344.2 74.1l3.9 3.9M344.2 78l3.9 -3.9M369.8 62.4h5.4M372.5 59.7v5.4M370.6 60.4l3.9 3.9M370.6 64.3l3.9 -3.9M365.6 62.8h5.4M368.3 60.1v5.4M366.3 60.8l3.9 3.9M366.3 64.7l3.9 -3.9M349.2 68.6h5.4M351.9 65.9v5.4M349.9 66.7l3.9 3.9M349.9 70.6l3.9 -3.9M347.7 72.4h5.4M350.4 69.7v5.4M348.4 70.4l3.9 3.9M348.4 74.3l3.9 -3.9M353 85.2h5.4M355.7 82.5v5.4M353.8 83.2l3.9 3.9M353.8 87.1l3.9 -3.9M342.7 79.6h5.4M345.4 76.9v5.4M343.4 77.6l3.9 3.9M343.4 81.5l3.9 -3.9M368.8 80.2h5.4M371.5 77.5v5.4M369.6 78.3l3.9 3.9M369.6 82.2l3.9 -3.9M361.7 62.2h5.4M364.4 59.5v5.4M362.4 60.3l3.9 3.9M362.4 64.2l3.9 -3.9M339.6 58.8h5.4M342.3 56.1v5.4M340.3 56.8l3.9 3.9M340.3 60.7l3.9 -3.9M356.2 75.4h5.4M358.9 72.7v5.4M357 73.5l3.9 3.9M357 77.4l3.9 -3.9M352.6 77.7h5.4M355.3 75v5.4M353.4 75.8l3.9 3.9M353.4 79.7l3.9 -3.9M358.6 89.1h5.4M361.3 86.4v5.4M359.3 87.2l3.9 3.9M359.3 91.1l3.9 -3.9M365.2 72.1h5.4M367.9 69.4v5.4M366 70.2l3.9 3.9M366 74l3.9 -3.9M362.1 78.4h5.4M364.8 75.7v5.4M362.8 76.4l3.9 3.9M362.8 80.3l3.9 -3.9M355.7 70.9h5.4M358.4 68.2v5.4M356.4 69l3.9 3.9M356.4 72.9l3.9 -3.9M375.5 81.6h5.4M378.2 78.9v5.4M376.3 79.7l3.9 3.9M376.3 83.6l3.9 -3.9M342.8 64h5.4M345.5 61.3v5.4M343.6 62.1l3.9 3.9M343.6 66l3.9 -3.9M368.3 62.1h5.4M371 59.4v5.4M369 60.1l3.9 3.9M369 64l3.9 -3.9M341.5 67.5h5.4M344.2 64.8v5.4M342.2 65.6l3.9 3.9M342.2 69.4l3.9 -3.9M359.9 72h5.4M362.6 69.3v5.4M360.7 70.1l3.9 3.9M360.7 74l3.9 -3.9M360.2 74.2h5.4M362.9 71.5v5.4M360.9 72.3l3.9 3.9M360.9 76.2l3.9 -3.9M343.7 79.2h5.4M346.4 76.5v5.4M344.4 77.2l3.9 3.9M344.4 81.1l3.9 -3.9M339.1 59.7h5.4M341.8 57v5.4M339.9 57.7l3.9 3.9M339.9 61.6l3.9 -3.9M377.3 78h5.4M380 75.3v5.4M378 76.1l3.9 3.9M378 80l3.9 -3.9M355.7 75.3h5.4M358.4 72.6v5.4M356.5 73.3l3.9 3.9M356.5 77.2l3.9 -3.9M358.4 85h5.4M361.1 82.3v5.4M359.2 83l3.9 3.9M359.2 86.9l3.9 -3.9M367.9 78.3h5.4M370.6 75.6v5.4M368.7 76.4l3.9 3.9M368.7 80.3l3.9 -3.9M351.7 80.5h5.4M354.4 77.8v5.4M352.4 78.5l3.9 3.9M352.4 82.4l3.9 -3.9M364.8 77.3h5.4M367.5 74.6v5.4M365.6 75.3l3.9 3.9M365.6 79.2l3.9 -3.9M371.1 73.9h5.4M373.8 71.2v5.4M371.9 71.9l3.9 3.9M371.9 75.8l3.9 -3.9M342.7 75.3h5.4M345.4 72.6v5.4M343.5 73.4l3.9 3.9M343.5 77.3l3.9 -3.9M375.2 82.9h5.4M377.9 80.2v5.4M376 81l3.9 3.9M376 84.9l3.9 -3.9M376.8 66h5.4M379.5 63.3v5.4M377.5 64.1l3.9 3.9M377.5 68l3.9 -3.9M369.5 69.6h5.4M372.2 66.9v5.4M370.2 67.6l3.9 3.9M370.2 71.5l3.9 -3.9M365.6 88.5h5.4M368.3 85.8v5.4M366.4 86.6l3.9 3.9M366.4 90.5l3.9 -3.9M354.3 78.1h5.4M357 75.4v5.4M355 76.2l3.9 3.9M355 80.1l3.9 -3.9M371.1 74.8h5.4M373.8 72.1v5.4M371.8 72.8l3.9 3.9M371.8 76.7l3.9 -3.9M338.9 70.5h5.4M341.6 67.8v5.4M339.7 68.6l3.9 3.9M339.7 72.5l3.9 -3.9M370.6 85.6h5.4M373.3 82.9v5.4M371.3 83.7l3.9 3.9M371.3 87.6l3.9 -3.9M343 63h5.4M345.7 60.3v5.4M343.7 61l3.9 3.9M343.7 64.9l3.9 -3.9M367.9 62.6h5.4M370.6 59.9v5.4M368.6 60.7l3.9 3.9M368.6 64.6l3.9 -3.9M346.6 61h5.4M349.3 58.3v5.4M347.4 59.1l3.9 3.9M347.4 62.9l3.9 -3.9M373.6 85.3h5.4M376.3 82.6v5.4M374.4 83.4l3.9 3.9M374.4 87.3l3.9 -3.9M371.1 65.6h5.4M373.8 62.9v5.4M371.9 63.6l3.9 3.9M371.9 67.5l3.9 -3.9M357.1 67.9h5.4M359.8 65.2v5.4M357.8 65.9l3.9 3.9M357.8 69.8l3.9 -3.9M375.1 80.4h5.4M377.8 77.7v5.4M375.8 78.5l3.9 3.9M375.8 82.4l3.9 -3.9M349.4 79h5.4M352.1 76.3v5.4M350.2 77.1l3.9 3.9M350.2 81l3.9 -3.9M366.7 75h5.4M369.4 72.3v5.4M367.4 73l3.9 3.9M367.4 76.9l3.9 -3.9M364.3 82.7h5.4M367 80v5.4M365.1 80.7l3.9 3.9M365.1 84.6l3.9 -3.9M363.5 70.1h5.4M366.2 67.4v5.4M364.3 68.2l3.9 3.9M364.3 72l3.9 -3.9M352.8 69.1h5.4M355.5 66.4v5.4M353.5 67.1l3.9 3.9M353.5 71l3.9 -3.9M366.4 76.1h5.4M369.1 73.4v5.4M367.1 74.2l3.9 3.9M367.1 78l3.9 -3.9M352.4 78.1h5.4M355.1 75.4v5.4M353.2 76.1l3.9 3.9M353.2 80l3.9 -3.9M352.2 85.2h5.4M354.9 82.5v5.4M353 83.3l3.9 3.9M353 87.2l3.9 -3.9M370.5 73.9h5.4M373.2 71.2v5.4M371.2 71.9l3.9 3.9M371.2 75.8l3.9 -3.9M373 64.7h5.4M375.7 62v5.4M373.8 62.7l3.9 3.9M373.8 66.6l3.9 -3.9M339.3 61.7h5.4M342 59v5.4M340 59.8l3.9 3.9M340 63.6l3.9 -3.9M359.1 79.6h5.4M361.8 76.9v5.4M359.9 77.7l3.9 3.9M359.9 81.6l3.9 -3.9M368.7 82.5h5.4M371.4 79.8v5.4M369.4 80.6l3.9 3.9M369.4 84.5l3.9 -3.9M338.5 69.8h5.4M341.2 67.1v5.4M339.3 67.9l3.9 3.9M339.3 71.8l3.9 -3.9M353.7 87.9h5.4M356.4 85.2v5.4M354.5 85.9l3.9 3.9M354.5 89.8l3.9 -3.9M346.2 72.9h5.4M348.9 70.2v5.4M347 71l3.9 3.9M347 74.9l3.9 -3.9M341.8 77.6h5.4M344.5 74.9v5.4M342.5 75.6l3.9 3.9M342.5 79.5l3.9 -3.9M353 61.4h5.4M355.7 58.7v5.4M353.8 59.5l3.9 3.9M353.8 63.4l3.9 -3.9M347 66.1h5.4M349.7 63.4v5.4M347.8 64.1l3.9 3.9M347.8 68l3.9 -3.9M344.9 70.2h5.4M347.6 67.5v5.4M345.6 68.2l3.9 3.9M345.6 72.1l3.9 -3.9M376 82.5h5.4M378.7 79.8v5.4M376.8 80.5l3.9 3.9M376.8 84.4l3.9 -3.9M365.4 69.1h5.4M368.1 66.4v5.4M366.1 67.2l3.9 3.9M366.1 71.1l3.9 -3.9M354.2 78.7h5.4M356.9 76v5.4M355 76.8l3.9 3.9M355 80.7l3.9 -3.9M367.9 61.2h5.4M370.6 58.5v5.4M368.7 59.3l3.9 3.9M368.7 63.1l3.9 -3.9M357.4 63.5h5.4M360.1 60.8v5.4M358.1 61.6l3.9 3.9M358.1 65.5l3.9 -3.9M357.4 59.5h5.4M360.1 56.8v5.4M358.1 57.6l3.9 3.9M358.1 61.5l3.9 -3.9M374.5 63.4h5.4M377.2 60.7v5.4M375.3 61.4l3.9 3.9M375.3 65.3l3.9 -3.9M340.1 72.3h5.4M342.8 69.6v5.4M340.9 70.3l3.9 3.9M340.9 74.2l3.9 -3.9M347.5 78.6h5.4M350.2 75.9v5.4M348.3 76.7l3.9 3.9M348.3 80.6l3.9 -3.9M368 59.2h5.4M370.7 56.5v5.4M368.8 57.2l3.9 3.9M368.8 61.1l3.9 -3.9M363.2 67.8h5.4M365.9 65.1v5.4M363.9 65.9l3.9 3.9M363.9 69.8l3.9 -3.9M359.2 68.8h5.4M361.9 66.1v5.4M359.9 66.9l3.9 3.9M359.9 70.8l3.9 -3.9M368.8 66.1h5.4M371.5 63.4v5.4M369.6 64.1l3.9 3.9M369.6 68l3.9 -3.9M376.7 85.4h5.4M379.4 82.7v5.4M377.5 83.5l3.9 3.9M377.5 87.4l3.9 -3.9M359.5 73.1h5.4M362.2 70.4v5.4M360.3 71.2l3.9 3.9M360.3 75.1l3.9 -3.9M358.6 83.5h5.4M361.3 80.8v5.4M359.4 81.6l3.9 3.9M359.4 85.5l3.9 -3.9M342.6 63.8h5.4M345.3 61.1v5.4M343.4 61.8l3.9 3.9M343.4 65.7l3.9 -3.9M358.2 88.9h5.4M360.9 86.2v5.4M359 86.9l3.9 3.9M359 90.8l3.9 -3.9M355.7 76.5h5.4M358.4 73.8v5.4M356.5 74.5l3.9 3.9M356.5 78.4l3.9 -3.9M354.6 60.1h5.4M357.3 57.4v5.4M355.4 58.2l3.9 3.9M355.4 62.1l3.9 -3.9M350.5 80.5h5.4M353.2 77.8v5.4M351.3 78.6l3.9 3.9M351.3 82.5l3.9 -3.9M337.1 60.7h5.4M339.8 58v5.4M337.8 58.8l3.9 3.9M337.8 62.7l3.9 -3.9M376.3 73.9h5.4M379 71.2v5.4M377 72l3.9 3.9M377 75.8l3.9 -3.9M371.6 82.9h5.4M374.3 80.2v5.4M372.3 80.9l3.9 3.9M372.3 84.8l3.9 -3.9M355.3 79.1h5.4M358 76.4v5.4M356.1 77.1l3.9 3.9M356.1 81l3.9 -3.9M373.2 83.6h5.4M375.9 80.9v5.4M374 81.7l3.9 3.9M374 85.6l3.9 -3.9M354.4 85.5h5.4M357.1 82.8v5.4M355.2 83.6l3.9 3.9M355.2 87.5l3.9 -3.9M339 68.4h5.4M341.7 65.7v5.4M339.8 66.4l3.9 3.9M339.8 70.3l3.9 -3.9M345.2 66.1h5.4M347.9 63.4v5.4M346 64.2l3.9 3.9M346 68.1l3.9 -3.9M376.1 67h5.4M378.8 64.3v5.4M376.8 65l3.9 3.9M376.8 68.9l3.9 -3.9M374 84.3h5.4M376.7 81.6v5.4M374.7 82.3l3.9 3.9M374.7 86.2l3.9 -3.9M362.9 57.1h5.4M365.6 54.4v5.4M363.7 55.2l3.9 3.9M363.7 59.1l3.9 -3.9M375.1 79.3h5.4M377.8 76.6v5.4M375.9 77.4l3.9 3.9M375.9 81.3l3.9 -3.9M352.9 64.1h5.4M355.6 61.4v5.4M353.7 62.2l3.9 3.9M353.7 66.1l3.9 -3.9M372.4 84.6h5.4M375.1 81.9v5.4M373.2 82.6l3.9 3.9M373.2 86.5l3.9 -3.9M362.1 84h5.4M364.8 81.3v5.4M362.9 82l3.9 3.9M362.9 85.9l3.9 -3.9M365.3 73.2h5.4M368 70.5v5.4M366 71.3l3.9 3.9M366 75.2l3.9 -3.9M364.4 64.7h5.4M367.1 62v5.4M365.1 62.8l3.9 3.9M365.1 66.6l3.9 -3.9M355.8 87.8h5.4M358.5 85.1v5.4M356.5 85.9l3.9 3.9M356.5 89.7l3.9 -3.9M350.6 71.2h5.4M353.3 68.5v5.4M351.4 69.3l3.9 3.9M351.4 73.2l3.9 -3.9M340.9 57.9h5.4M343.6 55.2v5.4M341.7 56l3.9 3.9M341.7 59.9l3.9 -3.9M359.7 90.1h5.4M362.4 87.4v5.4M360.5 88.2l3.9 3.9M360.5 92l3.9 -3.9M378.2 77.4h5.4M380.9 74.7v5.4M379 75.5l3.9 3.9M379 79.3l3.9 -3.9M343.3 79.4h5.4M346 76.7v5.4M344 77.5l3.9 3.9M344 81.4l3.9 -3.9M358.8 72h5.4M361.5 69.3v5.4M359.5 70.1l3.9 3.9M359.5 74l3.9 -3.9M368.5 58.6h5.4M371.2 55.9v5.4M369.2 56.7l3.9 3.9M369.2 60.6l3.9 -3.9M378.1 83.8h5.4M380.8 81.1v5.4M378.9 81.8l3.9 3.9M378.9 85.7l3.9 -3.9M368 85.3h5.4M370.7 82.6v5.4M368.8 83.4l3.9 3.9M368.8 87.3l3.9 -3.9M349.2 78.2h5.4M351.9 75.5v5.4M349.9 76.2l3.9 3.9M349.9 80.1l3.9 -3.9M345.5 66.7h5.4M348.2 64v5.4M346.2 64.8l3.9 3.9M346.2 68.6l3.9 -3.9M358.9 62.5h5.4M361.6 59.8v5.4M359.7 60.5l3.9 3.9M359.7 64.4l3.9 -3.9M345.4 70.4h5.4M348.1 67.7v5.4M346.2 68.4l3.9 3.9M346.2 72.3l3.9 -3.9M362.4 71.3h5.4M365.1 68.6v5.4M363.2 69.4l3.9 3.9M363.2 73.3l3.9 -3.9M355.4 75.5h5.4M358.1 72.8v5.4M356.2 73.6l3.9 3.9M356.2 77.5l3.9 -3.9M371.9 66.8h5.4M374.6 64.1v5.4M372.7 64.8l3.9 3.9M372.7 68.7l3.9 -3.9M372.7 69.5h5.4M375.4 66.8v5.4M373.5 67.6l3.9 3.9M373.5 71.5l3.9 -3.9M368 75.9h5.4M370.7 73.2v5.4M368.8 73.9l3.9 3.9M368.8 77.8l3.9 -3.9M359.5 59.4h5.4M362.2 56.7v5.4M360.2 57.4l3.9 3.9M360.2 61.3l3.9 -3.9M368.9 74.9h5.4M371.6 72.2v5.4M369.7 73l3.9 3.9M369.7 76.9l3.9 -3.9M359.9 77.4h5.4M362.6 74.7v5.4M360.6 75.5l3.9 3.9M360.6 79.4l3.9 -3.9M341.9 63.7h5.4M344.6 61v5.4M342.6 61.7l3.9 3.9M342.6 65.6l3.9 -3.9M368.1 79.4h5.4M370.8 76.7v5.4M368.9 77.5l3.9 3.9M368.9 81.4l3.9 -3.9M358.7 56.8h5.4M361.4 54.1v5.4M359.4 54.9l3.9 3.9M359.4 58.8l3.9 -3.9M351.8 67.2h5.4M354.5 64.5v5.4M352.5 65.2l3.9 3.9M352.5 69.1l3.9 -3.9M361.6 72.4h5.4M364.3 69.7v5.4M362.4 70.5l3.9 3.9M362.4 74.4l3.9 -3.9M378.6 82.9h5.4M381.3 80.2v5.4M379.4 80.9l3.9 3.9M379.4 84.8l3.9 -3.9M359.4 73.9h5.4M362.1 71.2v5.4M360.2 72l3.9 3.9M360.2 75.9l3.9 -3.9M376.3 85.5h5.4M379 82.8v5.4M377.1 83.6l3.9 3.9M377.1 87.5l3.9 -3.9M365.4 58.5h5.4M368.1 55.8v5.4M366.2 56.5l3.9 3.9M366.2 60.4l3.9 -3.9M335.5 66.8h5.4M338.2 64.1v5.4M336.3 64.8l3.9 3.9M336.3 68.7l3.9 -3.9M359.7 62.2h5.4M362.4 59.5v5.4M360.4 60.3l3.9 3.9M360.4 64.2l3.9 -3.9M364.9 66.6h5.4M367.6 63.9v5.4M365.7 64.6l3.9 3.9M365.7 68.5l3.9 -3.9M358.3 89.3h5.4M361 86.6v5.4M359 87.3l3.9 3.9M359 91.2l3.9 -3.9M351.4 67.2h5.4M354.1 64.5v5.4M352.1 65.2l3.9 3.9M352.1 69.1l3.9 -3.9M360 80.8h5.4M362.7 78.1v5.4M360.8 78.9l3.9 3.9M360.8 82.8l3.9 -3.9M343 78.6h5.4M345.7 75.9v5.4M343.7 76.6l3.9 3.9M343.7 80.5l3.9 -3.9M367 86.9h5.4M369.7 84.2v5.4M367.7 85l3.9 3.9M367.7 88.9l3.9 -3.9M349.6 82h5.4M352.3 79.3v5.4M350.3 80.1l3.9 3.9M350.3 84l3.9 -3.9M370.2 61.5h5.4M372.9 58.8v5.4M371 59.5l3.9 3.9M371 63.4l3.9 -3.9M343.9 65.6h5.4M346.6 62.9v5.4M344.7 63.6l3.9 3.9M344.7 67.5l3.9 -3.9M337.4 71.6h5.4M340.1 68.9v5.4M338.1 69.7l3.9 3.9M338.1 73.5l3.9 -3.9M356.5 88.9h5.4M359.2 86.2v5.4M357.3 86.9l3.9 3.9M357.3 90.8l3.9 -3.9M367.8 80.8h5.4M370.5 78.1v5.4M368.6 78.9l3.9 3.9M368.6 82.8l3.9 -3.9M354.1 70.8h5.4M356.8 68.1v5.4M354.9 68.8l3.9 3.9M354.9 72.7l3.9 -3.9M358.2 58.6h5.4M360.9 55.9v5.4M358.9 56.7l3.9 3.9M358.9 60.6l3.9 -3.9M362 80h5.4M364.7 77.3v5.4M362.8 78l3.9 3.9M362.8 81.9l3.9 -3.9M352.6 68h5.4M355.3 65.3v5.4M353.3 66.1l3.9 3.9M353.3 70l3.9 -3.9M373.5 76.7h5.4M376.2 74v5.4M374.3 74.8l3.9 3.9M374.3 78.7l3.9 -3.9M348.2 68.8h5.4M350.9 66.1v5.4M348.9 66.8l3.9 3.9M348.9 70.7l3.9 -3.9M362.9 91.2h5.4M365.6 88.5v5.4M363.7 89.3l3.9 3.9M363.7 93.2l3.9 -3.9M355.2 67.8h5.4M357.9 65.1v5.4M356 65.9l3.9 3.9M356 69.8l3.9 -3.9M371 60.7h5.4M373.7 58v5.4M371.8 58.7l3.9 3.9M371.8 62.6l3.9 -3.9M365.3 89.1h5.4M368 86.4v5.4M366 87.2l3.9 3.9M366 91.1l3.9 -3.9M363.5 80.9h5.4M366.2 78.2v5.4M364.2 78.9l3.9 3.9M364.2 82.8l3.9 -3.9M344.9 79.9h5.4M347.6 77.2v5.4M345.7 77.9l3.9 3.9M345.7 81.8l3.9 -3.9M367.9 67.7h5.4M370.6 65v5.4M368.6 65.8l3.9 3.9M368.6 69.6l3.9 -3.9M348.2 79.9h5.4M350.9 77.2v5.4M349 78l3.9 3.9M349 81.8l3.9 -3.9M365.3 64.3h5.4M368 61.6v5.4M366.1 62.4l3.9 3.9M366.1 66.2l3.9 -3.9M343.4 70.6h5.4M346.1 67.9v5.4M344.1 68.6l3.9 3.9M344.1 72.5l3.9 -3.9M341 75.5h5.4M343.7 72.8v5.4M341.7 73.5l3.9 3.9M341.7 77.4l3.9 -3.9M361.3 63.4h5.4M364 60.7v5.4M362.1 61.4l3.9 3.9M362.1 65.3l3.9 -3.9M351.1 69.5h5.4M353.8 66.8v5.4M351.9 67.6l3.9 3.9M351.9 71.4l3.9 -3.9M355.9 64.6h5.4M358.6 61.9v5.4M356.7 62.7l3.9 3.9M356.7 66.6l3.9 -3.9M367.1 80h5.4M369.8 77.3v5.4M367.8 78.1l3.9 3.9M367.8 81.9l3.9 -3.9M354.5 62.6h5.4M357.2 59.9v5.4M355.3 60.6l3.9 3.9M355.3 64.5l3.9 -3.9M349.6 86.9h5.4M352.3 84.2v5.4M350.4 85l3.9 3.9M350.4 88.9l3.9 -3.9M361.1 75.8h5.4M363.8 73.1v5.4M361.8 73.8l3.9 3.9M361.8 77.7l3.9 -3.9M363.9 62.7h5.4M366.6 60v5.4M364.7 60.8l3.9 3.9M364.7 64.7l3.9 -3.9M355.5 66.7h5.4M358.2 64v5.4M356.3 64.8l3.9 3.9M356.3 68.7l3.9 -3.9M363.7 79h5.4M366.4 76.3v5.4M364.5 77l3.9 3.9M364.5 80.9l3.9 -3.9M343.7 68.7h5.4M346.4 66v5.4M344.5 66.8l3.9 3.9M344.5 70.7l3.9 -3.9M357.9 80.4h5.4M360.6 77.7v5.4M358.7 78.4l3.9 3.9M358.7 82.3l3.9 -3.9M366.9 62.6h5.4M369.6 59.9v5.4M367.7 60.7l3.9 3.9M367.7 64.5l3.9 -3.9M335.7 68.3h5.4M338.4 65.6v5.4M336.5 66.3l3.9 3.9M336.5 70.2l3.9 -3.9M367 87.6h5.4M369.7 84.9v5.4M367.7 85.7l3.9 3.9M367.7 89.6l3.9 -3.9M342.1 72h5.4M344.8 69.3v5.4M342.9 70l3.9 3.9M342.9 73.9l3.9 -3.9M367 83.1h5.4M369.7 80.4v5.4M367.8 81.2l3.9 3.9M367.8 85.1l3.9 -3.9M368.6 71.7h5.4M371.3 69v5.4M369.3 69.7l3.9 3.9M369.3 73.6l3.9 -3.9M372.2 72h5.4M374.9 69.3v5.4M373 70.1l3.9 3.9M373 74l3.9 -3.9M372.6 83.3h5.4M375.3 80.6v5.4M373.3 81.4l3.9 3.9M373.3 85.3l3.9 -3.9M345.4 77.5h5.4M348.1 74.8v5.4M346.2 75.5l3.9 3.9M346.2 79.4l3.9 -3.9M360.6 59h5.4M363.3 56.3v5.4M361.4 57l3.9 3.9M361.4 60.9l3.9 -3.9M357.1 59.1h5.4M359.8 56.4v5.4M357.9 57.1l3.9 3.9M357.9 61l3.9 -3.9M347.2 84.5h5.4M349.9 81.8v5.4M348 82.5l3.9 3.9M348 86.4l3.9 -3.9M356.8 65.6h5.4M359.5 62.9v5.4M357.6 63.6l3.9 3.9M357.6 67.5l3.9 -3.9M344.1 84.1h5.4M346.8 81.4v5.4M344.8 82.1l3.9 3.9M344.8 86l3.9 -3.9M346.8 73h5.4M349.5 70.3v5.4M347.5 71l3.9 3.9M347.5 74.9l3.9 -3.9M373.6 87.2h5.4M376.3 84.5v5.4M374.4 85.3l3.9 3.9M374.4 89.1l3.9 -3.9M362.7 80.8h5.4M365.4 78.1v5.4M363.4 78.8l3.9 3.9M363.4 82.7l3.9 -3.9M364.7 75.3h5.4M367.4 72.6v5.4M365.5 73.4l3.9 3.9M365.5 77.3l3.9 -3.9M348.1 67.8h5.4M350.8 65.1v5.4M348.9 65.8l3.9 3.9M348.9 69.7l3.9 -3.9M377 68.4h5.4M379.7 65.7v5.4M377.8 66.5l3.9 3.9M377.8 70.3l3.9 -3.9M356.4 79.5h5.4M359.1 76.8v5.4M357.2 77.6l3.9 3.9M357.2 81.5l3.9 -3.9M368.3 71.7h5.4M371 69v5.4M369 69.8l3.9 3.9M369 73.7l3.9 -3.9M344.9 67.4h5.4M347.6 64.7v5.4M345.7 65.4l3.9 3.9M345.7 69.3l3.9 -3.9M339.3 75.7h5.4M342 73v5.4M340.1 73.8l3.9 3.9M340.1 77.7l3.9 -3.9M343.7 82.1h5.4M346.4 79.4v5.4M344.4 80.2l3.9 3.9M344.4 84l3.9 -3.9M370.7 58.1h5.4M373.4 55.4v5.4M371.4 56.1l3.9 3.9M371.4 60l3.9 -3.9M339.1 74.7h5.4M341.8 72v5.4M339.8 72.8l3.9 3.9M339.8 76.7l3.9 -3.9M364.6 91.7h5.4M367.3 89v5.4M365.4 89.8l3.9 3.9M365.4 93.6l3.9 -3.9M367.8 89.6h5.4M370.5 86.9v5.4M368.6 87.6l3.9 3.9M368.6 91.5l3.9 -3.9M360.7 92h5.4M363.4 89.3v5.4M361.5 90l3.9 3.9M361.5 93.9l3.9 -3.9M376.9 88.1h5.4M379.6 85.4v5.4M377.7 86.1l3.9 3.9M377.7 90l3.9 -3.9M335.1 64.7h5.4M337.8 62v5.4M335.9 62.8l3.9 3.9M335.9 66.7l3.9 -3.9M337.2 73.6h5.4M339.9 70.9v5.4M338 71.7l3.9 3.9M338 75.6l3.9 -3.9M358.3 91.4h5.4M361 88.7v5.4M359 89.5l3.9 3.9M359 93.4l3.9 -3.9M355.1 60.7h5.4M357.8 58v5.4M355.8 58.8l3.9 3.9M355.8 62.7l3.9 -3.9M335.4 72.4h5.4M338.1 69.7v5.4M336.1 70.5l3.9 3.9M336.1 74.4l3.9 -3.9M347.4 59.4h5.4M350.1 56.7v5.4M348.1 57.5l3.9 3.9M348.1 61.4l3.9 -3.9M372.5 59.3h5.4M375.2 56.6v5.4M373.2 57.3l3.9 3.9M373.2 61.2l3.9 -3.9M351.1 61h5.4M353.8 58.3v5.4M351.8 59.1l3.9 3.9M351.8 62.9l3.9 -3.9M360.5 89.9h5.4M363.2 87.2v5.4M361.2 87.9l3.9 3.9M361.2 91.8l3.9 -3.9M361.7 54.4h5.4M364.4 51.7v5.4M362.4 52.4l3.9 3.9M362.4 56.3l3.9 -3.9M354.2 61.3h5.4M356.9 58.6v5.4M355 59.3l3.9 3.9M355 63.2l3.9 -3.9M354.8 58h5.4M357.5 55.3v5.4M355.6 56.1l3.9 3.9M355.6 60l3.9 -3.9M358.1 57.6h5.4M360.8 54.9v5.4M358.9 55.7l3.9 3.9M358.9 59.6l3.9 -3.9M344.1 56.4h5.4M346.8 53.7v5.4M344.9 54.4l3.9 3.9M344.9 58.3l3.9 -3.9M362.1 94h5.4M364.8 91.3v5.4M362.9 92.1l3.9 3.9M362.9 96l3.9 -3.9M337 59.5h5.4M339.7 56.8v5.4M337.7 57.5l3.9 3.9M337.7 61.4l3.9 -3.9M379.8 84.7h5.4M382.5 82v5.4M380.6 82.7l3.9 3.9M380.6 86.6l3.9 -3.9M358.5 54.6h5.4M361.2 51.9v5.4M359.3 52.7l3.9 3.9M359.3 56.6l3.9 -3.9M361.2 54.1h5.4M363.9 51.4v5.4M362 52.1l3.9 3.9M362 56l3.9 -3.9M352 87.7h5.4M354.7 85v5.4M352.7 85.7l3.9 3.9M352.7 89.6l3.9 -3.9M357.8 55.5h5.4M360.5 52.8v5.4M358.6 53.6l3.9 3.9M358.6 57.5l3.9 -3.9M374.3 89.6h5.4M377 86.9v5.4M375 87.6l3.9 3.9M375 91.5l3.9 -3.9" fill="none" stroke="#4DBEEE" stroke-width="1.0"/>
</g>
<path d="M310.7 229.5v-2.3M310.7 13.4v2.3M343.8 229.5v-2.3M343.8 13.4v2.3M376.9 229.5v-2.3M376.9 13.4v2.3M410 229.5v-2.3M410 13.4v2.3M443.2 229.5v-2.3M443.2 13.4v2.3M476.3 229.5v-2.3M476.3 13.4v2.3M509.4 229.5v-2.3M509.4 13.4v2.3M542.5 229.5v-2.3M542.5 13.4v2.3M310.7 229.5h2.3M542.5 229.5h-2.3M310.7 202.5h2.3M542.5 202.5h-2.3M310.7 175.5h2.3M542.5 175.5h-2.3M310.7 148.5h2.3M542.5 148.5h-2.3M310.7 121.5h2.3M542.5 121.5h-2.3M310.7 94.4h2.3M542.5 94.4h-2.3M310.7 67.4h2.3M542.5 67.4h-2.3M310.7 40.4h2.3M542.5 40.4h-2.3M310.7 13.4h2.3M542.5 13.4h-2.3" stroke="#262626" stroke-width="0.9" fill="none"/>
<rect x="310.7" y="13.4" width="231.8" height="216.1" fill="none" stroke="#262626" stroke-width="1.1"/>
<text x="310.7" y="243.6" font-size="10.1" text-anchor="middle" fill="#262626">-30</text>
<text x="343.8" y="243.6" font-size="10.1" text-anchor="middle" fill="#262626">-20</text>
<text x="376.9" y="243.6" font-size="10.1" text-anchor="middle" fill="#262626">-10</text>
<text x="410" y="243.6" font-size="10.1" text-anchor="middle" fill="#262626">0</text>
<text x="443.2" y="243.6" font-size="10.1" text-anchor="middle" fill="#262626">10</text>
<text x="476.3" y="243.6" font-size="10.1" text-anchor="middle" fill="#262626">20</text>
<text x="509.4" y="243.6" font-size="10.1" text-anchor="middle" fill="#262626">30</text>
<text x="542.5" y="243.6" font-size="10.1" text-anchor="middle" fill="#262626">40</text>
<text x="306.1" y="233.6" font-size="10.1" text-anchor="end" fill="#262626">-30</text>
<text x="306.1" y="206.6" font-size="10.1" text-anchor="end" fill="#262626">-20</text>
<text x="306.1" y="179.6" font-size="10.1" text-anchor="end" fill="#262626">-10</text>
<text x="306.1" y="152.6" font-size="10.1" text-anchor="end" fill="#262626">0</text>
<text x="306.1" y="125.5" font-size="10.1" text-anchor="end" fill="#262626">10</text>
<text x="306.1" y="98.5" font-size="10.1" text-anchor="end" fill="#262626">20</text>
<text x="306.1" y="71.5" font-size="10.1" text-anchor="end" fill="#262626">30</text>
<text x="306.1" y="44.5" font-size="10.1" text-anchor="end" fill="#262626">40</text>
<text x="306.1" y="17.5" font-size="10.1" text-anchor="end" fill="#262626">50</text>
<text x="426.6" y="256.3" font-size="10.25" text-anchor="middle" fill="#262626">Dimension-1</text>
<text transform="translate(287.5 121.5) rotate(-90)" font-size="10.25" text-anchor="middle" fill="#262626">Dimension-2</text>
<text x="426.6" y="10.6" font-size="10.3" font-weight="bold" text-anchor="middle" fill="#000">(b) LIBS: pre-processed data</text>
<rect x="476.5" y="20.3" width="59.3" height="73.8" fill="#fff" stroke="#262626" stroke-width="1"/>
<path d="M490.8 27.5a2.95 2.95 0 1 0 5.9 0a2.95 2.95 0 1 0 -5.9 0" fill="none" stroke="#D95319" stroke-width="0.8"/>
<text x="509" y="31.5" font-size="10.3" fill="#000">Cls-1</text>
<path d="M493.7 35.4l2.9 4.0 -2.9 4.0 -2.9 -4.0z" fill="none" stroke="#0072BD" stroke-width="0.8"/>
<text x="509" y="43.4" font-size="10.3" fill="#000">Cls-2</text>
<path d="M493.7 48l3.3 5.8h-6.6z" fill="none" stroke="#EDB120" stroke-width="0.8"/>
<text x="509" y="55.2" font-size="10.3" fill="#000">Cls-3</text>
<path d="M491.4 60.8h4.5v4.5h-4.5z" fill="none" stroke="#77AC30" stroke-width="0.8"/>
<text x="509" y="67" font-size="10.3" fill="#000">Cls-4</text>
<path d="M490.6 74.9h6.2M493.7 71.8v6.2" fill="none" stroke="#7E2F8E" stroke-width="0.8"/>
<text x="509" y="78.9" font-size="10.3" fill="#000">Cls-5</text>
<circle cx="493.7" cy="86.8" r="2.4" fill="#4DBEEE"/>
<text x="509" y="90.8" font-size="10.3" fill="#000">Cls-6</text>
<rect x="35.6" y="280.1" width="231.70000000000002" height="217.29999999999995" fill="#fff"/>
<clipPath id="cc"><rect x="34.6" y="279.1" width="233.7" height="219.3"/></clipPath>
<g clip-path="url(#cc)">
<path d="M108.2 354.1 105.5 359.6 104.2 364.9 104.2 371.1 104.9 374.2 107 373.2 112.7 369.6 116.6 367.1 118.4 363 117.7 356.7 114.4 352.3 109.1 352.8 108.2 354.1ZM91.2 387.8 92.6 390.5 97.8 391.1 103.4 390.4 103.6 390.4 103.8 390.4 110.5 391.1 114.2 389 114.6 386 109.9 382.4 103.1 379.1 98.3 379.1 93 382 91.2 387.8ZM79 446.2 79 446.8 79.1 447.3 79.3 447.9 79.5 448.5 79.8 449 80.1 449.5 80.5 449.9 80.9 450.4 81.3 450.8 81.8 451.1 82.3 451.4 82.8 451.6 83.4 451.8 84 451.9 84.6 452 85.2 452 85.8 452 86.3 451.9 86.9 451.7 87.5 451.5 88 451.2 88.5 450.9 88.9 450.5 89.4 450.1 89.8 449.7 90.1 449.2 90.4 448.7 90.6 448.2 90.8 447.6 90.9 447 91 446.4 92.5 425.4 92.5 425.3 93.5 407.4 93.5 406.7 93.5 406.2 93.3 405.6 93.2 405 93 404.5 92.7 403.9 92.4 403.4 92 403 91.6 402.6 91.1 402.2 90.6 401.9 90.1 401.6 89.6 401.3 89 401.2 88.4 401.1 87.8 401 87.2 401 86.7 401 86.1 401.2 85.5 401.3 85 401.5 84.4 401.8 83.9 402.1 83.5 402.5 83.1 402.9 82.7 403.4 82.4 403.9 82.1 404.4 81.8 404.9 81.7 405.5 81.6 406.1 81.5 406.7 80.5 424.6 80.5 424.6 79 445.5 79 446.2Z" fill="#D95319" fill-opacity="0.6" fill-rule="evenodd"/>
<path d="M95.6 422.7a2.95 2.95 0 1 0 5.9 0a2.95 2.95 0 1 0 -5.9 0M101 427.3a2.95 2.95 0 1 0 5.9 0a2.95 2.95 0 1 0 -5.9 0M106.5 430a2.95 2.95 0 1 0 5.9 0a2.95 2.95 0 1 0 -5.9 0M112 434.5a2.95 2.95 0 1 0 5.9 0a2.95 2.95 0 1 0 -5.9 0M108.5 430.5a2.95 2.95 0 1 0 5.9 0a2.95 2.95 0 1 0 -5.9 0M94.5 447.5a2.95 2.95 0 1 0 5.9 0a2.95 2.95 0 1 0 -5.9 0M104 447.5a2.95 2.95 0 1 0 5.9 0a2.95 2.95 0 1 0 -5.9 0M105.5 431a2.95 2.95 0 1 0 5.9 0a2.95 2.95 0 1 0 -5.9 0M110 409.5a2.95 2.95 0 1 0 5.9 0a2.95 2.95 0 1 0 -5.9 0M144.1 425.5a2.95 2.95 0 1 0 5.9 0a2.95 2.95 0 1 0 -5.9 0M202.6 423.6a2.95 2.95 0 1 0 5.9 0a2.95 2.95 0 1 0 -5.9 0M164.4 343.2a2.95 2.95 0 1 0 5.9 0a2.95 2.95 0 1 0 -5.9 0M169.8 339.5a2.95 2.95 0 1 0 5.9 0a2.95 2.95 0 1 0 -5.9 0M242.1 372.5a2.95 2.95 0 1 0 5.9 0a2.95 2.95 0 1 0 -5.9 0M108.5 429.5a2.95 2.95 0 1 0 5.9 0a2.95 2.95 0 1 0 -5.9 0M99 424.5a2.95 2.95 0 1 0 5.9 0a2.95 2.95 0 1 0 -5.9 0M87.3 419.7a2.95 2.95 0 1 0 5.9 0a2.95 2.95 0 1 0 -5.9 0M99.7 389.1a2.95 2.95 0 1 0 5.9 0a2.95 2.95 0 1 0 -5.9 0M87.7 425.1a2.95 2.95 0 1 0 5.9 0a2.95 2.95 0 1 0 -5.9 0M108.5 366.9a2.95 2.95 0 1 0 5.9 0a2.95 2.95 0 1 0 -5.9 0M103.4 389.4a2.95 2.95 0 1 0 5.9 0a2.95 2.95 0 1 0 -5.9 0M81.5 449.5a2.95 2.95 0 1 0 5.9 0a2.95 2.95 0 1 0 -5.9 0M113.8 358.2a2.95 2.95 0 1 0 5.9 0a2.95 2.95 0 1 0 -5.9 0M83 421.5a2.95 2.95 0 1 0 5.9 0a2.95 2.95 0 1 0 -5.9 0M81.7 430.7a2.95 2.95 0 1 0 5.9 0a2.95 2.95 0 1 0 -5.9 0M87.9 429.2a2.95 2.95 0 1 0 5.9 0a2.95 2.95 0 1 0 -5.9 0M80.1 440.9a2.95 2.95 0 1 0 5.9 0a2.95 2.95 0 1 0 -5.9 0M107.3 354.1a2.95 2.95 0 1 0 5.9 0a2.95 2.95 0 1 0 -5.9 0M86.1 440.5a2.95 2.95 0 1 0 5.9 0a2.95 2.95 0 1 0 -5.9 0M104.6 385.5a2.95 2.95 0 1 0 5.9 0a2.95 2.95 0 1 0 -5.9 0M85.6 418.4a2.95 2.95 0 1 0 5.9 0a2.95 2.95 0 1 0 -5.9 0M86.6 409.1a2.95 2.95 0 1 0 5.9 0a2.95 2.95 0 1 0 -5.9 0M80.2 409.2a2.95 2.95 0 1 0 5.9 0a2.95 2.95 0 1 0 -5.9 0M111.5 356.3a2.95 2.95 0 1 0 5.9 0a2.95 2.95 0 1 0 -5.9 0M83.3 415.5a2.95 2.95 0 1 0 5.9 0a2.95 2.95 0 1 0 -5.9 0M95.4 388.4a2.95 2.95 0 1 0 5.9 0a2.95 2.95 0 1 0 -5.9 0M107.8 354.8a2.95 2.95 0 1 0 5.9 0a2.95 2.95 0 1 0 -5.9 0M84.8 404.8a2.95 2.95 0 1 0 5.9 0a2.95 2.95 0 1 0 -5.9 0M92.9 383.1a2.95 2.95 0 1 0 5.9 0a2.95 2.95 0 1 0 -5.9 0M85 449.9a2.95 2.95 0 1 0 5.9 0a2.95 2.95 0 1 0 -5.9 0M79.9 427.7a2.95 2.95 0 1 0 5.9 0a2.95 2.95 0 1 0 -5.9 0M86.5 440a2.95 2.95 0 1 0 5.9 0a2.95 2.95 0 1 0 -5.9 0M84.7 401.8a2.95 2.95 0 1 0 5.9 0a2.95 2.95 0 1 0 -5.9 0M85 439.1a2.95 2.95 0 1 0 5.9 0a2.95 2.95 0 1 0 -5.9 0M81.6 413.6a2.95 2.95 0 1 0 5.9 0a2.95 2.95 0 1 0 -5.9 0M78.2 443.2a2.95 2.95 0 1 0 5.9 0a2.95 2.95 0 1 0 -5.9 0M111.4 355.3a2.95 2.95 0 1 0 5.9 0a2.95 2.95 0 1 0 -5.9 0M85 438.2a2.95 2.95 0 1 0 5.9 0a2.95 2.95 0 1 0 -5.9 0M84.7 448.5a2.95 2.95 0 1 0 5.9 0a2.95 2.95 0 1 0 -5.9 0M86 424.6a2.95 2.95 0 1 0 5.9 0a2.95 2.95 0 1 0 -5.9 0M111.3 362.9a2.95 2.95 0 1 0 5.9 0a2.95 2.95 0 1 0 -5.9 0M108.5 353.4a2.95 2.95 0 1 0 5.9 0a2.95 2.95 0 1 0 -5.9 0M107.3 358.3a2.95 2.95 0 1 0 5.9 0a2.95 2.95 0 1 0 -5.9 0M77.7 446.3a2.95 2.95 0 1 0 5.9 0a2.95 2.95 0 1 0 -5.9 0M109.3 361.7a2.95 2.95 0 1 0 5.9 0a2.95 2.95 0 1 0 -5.9 0M85.2 406.5a2.95 2.95 0 1 0 5.9 0a2.95 2.95 0 1 0 -5.9 0M106 365.5a2.95 2.95 0 1 0 5.9 0a2.95 2.95 0 1 0 -5.9 0M78.5 444.1a2.95 2.95 0 1 0 5.9 0a2.95 2.95 0 1 0 -5.9 0M105.5 365.1a2.95 2.95 0 1 0 5.9 0a2.95 2.95 0 1 0 -5.9 0M95.7 385.7a2.95 2.95 0 1 0 5.9 0a2.95 2.95 0 1 0 -5.9 0M86.2 416a2.95 2.95 0 1 0 5.9 0a2.95 2.95 0 1 0 -5.9 0M84.9 418.9a2.95 2.95 0 1 0 5.9 0a2.95 2.95 0 1 0 -5.9 0M84.4 416.6a2.95 2.95 0 1 0 5.9 0a2.95 2.95 0 1 0 -5.9 0M78.4 415.9a2.95 2.95 0 1 0 5.9 0a2.95 2.95 0 1 0 -5.9 0M105.2 363.4a2.95 2.95 0 1 0 5.9 0a2.95 2.95 0 1 0 -5.9 0M84.8 427.4a2.95 2.95 0 1 0 5.9 0a2.95 2.95 0 1 0 -5.9 0M83.6 421a2.95 2.95 0 1 0 5.9 0a2.95 2.95 0 1 0 -5.9 0M87.3 432.8a2.95 2.95 0 1 0 5.9 0a2.95 2.95 0 1 0 -5.9 0M82.6 446.7a2.95 2.95 0 1 0 5.9 0a2.95 2.95 0 1 0 -5.9 0M85.5 442.7a2.95 2.95 0 1 0 5.9 0a2.95 2.95 0 1 0 -5.9 0M80.5 437.2a2.95 2.95 0 1 0 5.9 0a2.95 2.95 0 1 0 -5.9 0M86.8 437.2a2.95 2.95 0 1 0 5.9 0a2.95 2.95 0 1 0 -5.9 0M83.9 430.7a2.95 2.95 0 1 0 5.9 0a2.95 2.95 0 1 0 -5.9 0M84.9 440a2.95 2.95 0 1 0 5.9 0a2.95 2.95 0 1 0 -5.9 0M93.9 383.5a2.95 2.95 0 1 0 5.9 0a2.95 2.95 0 1 0 -5.9 0M96.1 379.4a2.95 2.95 0 1 0 5.9 0a2.95 2.95 0 1 0 -5.9 0M103.7 367.1a2.95 2.95 0 1 0 5.9 0a2.95 2.95 0 1 0 -5.9 0M84.3 442.8a2.95 2.95 0 1 0 5.9 0a2.95 2.95 0 1 0 -5.9 0M97.3 380.4a2.95 2.95 0 1 0 5.9 0a2.95 2.95 0 1 0 -5.9 0M90.8 384.7a2.95 2.95 0 1 0 5.9 0a2.95 2.95 0 1 0 -5.9 0M79.9 404.1a2.95 2.95 0 1 0 5.9 0a2.95 2.95 0 1 0 -5.9 0M103.1 362.4a2.95 2.95 0 1 0 5.9 0a2.95 2.95 0 1 0 -5.9 0M103.4 384.2a2.95 2.95 0 1 0 5.9 0a2.95 2.95 0 1 0 -5.9 0M92.8 389.8a2.95 2.95 0 1 0 5.9 0a2.95 2.95 0 1 0 -5.9 0M93.2 381.1a2.95 2.95 0 1 0 5.9 0a2.95 2.95 0 1 0 -5.9 0M83.3 446.9a2.95 2.95 0 1 0 5.9 0a2.95 2.95 0 1 0 -5.9 0M96.5 389a2.95 2.95 0 1 0 5.9 0a2.95 2.95 0 1 0 -5.9 0M89.8 412.6a2.95 2.95 0 1 0 5.9 0a2.95 2.95 0 1 0 -5.9 0M81.9 433.3a2.95 2.95 0 1 0 5.9 0a2.95 2.95 0 1 0 -5.9 0M84.2 417.9a2.95 2.95 0 1 0 5.9 0a2.95 2.95 0 1 0 -5.9 0M105.5 358.8a2.95 2.95 0 1 0 5.9 0a2.95 2.95 0 1 0 -5.9 0M83.8 427a2.95 2.95 0 1 0 5.9 0a2.95 2.95 0 1 0 -5.9 0M85.4 441.5a2.95 2.95 0 1 0 5.9 0a2.95 2.95 0 1 0 -5.9 0M87.1 423.1a2.95 2.95 0 1 0 5.9 0a2.95 2.95 0 1 0 -5.9 0M88.9 418.3a2.95 2.95 0 1 0 5.9 0a2.95 2.95 0 1 0 -5.9 0M86.9 433.2a2.95 2.95 0 1 0 5.9 0a2.95 2.95 0 1 0 -5.9 0M82.8 413.7a2.95 2.95 0 1 0 5.9 0a2.95 2.95 0 1 0 -5.9 0M95.7 384.7a2.95 2.95 0 1 0 5.9 0a2.95 2.95 0 1 0 -5.9 0M79.4 408a2.95 2.95 0 1 0 5.9 0a2.95 2.95 0 1 0 -5.9 0M86.9 426.2a2.95 2.95 0 1 0 5.9 0a2.95 2.95 0 1 0 -5.9 0M83 415.9a2.95 2.95 0 1 0 5.9 0a2.95 2.95 0 1 0 -5.9 0M87.4 433.5a2.95 2.95 0 1 0 5.9 0a2.95 2.95 0 1 0 -5.9 0M87.2 403.5a2.95 2.95 0 1 0 5.9 0a2.95 2.95 0 1 0 -5.9 0M81.6 422a2.95 2.95 0 1 0 5.9 0a2.95 2.95 0 1 0 -5.9 0M93.1 385.5a2.95 2.95 0 1 0 5.9 0a2.95 2.95 0 1 0 -5.9 0M85.1 427.6a2.95 2.95 0 1 0 5.9 0a2.95 2.95 0 1 0 -5.9 0M99.8 384.9a2.95 2.95 0 1 0 5.9 0a2.95 2.95 0 1 0 -5.9 0M102.6 369a2.95 2.95 0 1 0 5.9 0a2.95 2.95 0 1 0 -5.9 0M113.7 357.4a2.95 2.95 0 1 0 5.9 0a2.95 2.95 0 1 0 -5.9 0M84.7 424.9a2.95 2.95 0 1 0 5.9 0a2.95 2.95 0 1 0 -5.9 0M107.1 384.3a2.95 2.95 0 1 0 5.9 0a2.95 2.95 0 1 0 -5.9 0M89.2 420.4a2.95 2.95 0 1 0 5.9 0a2.95 2.95 0 1 0 -5.9 0M112.7 364.4a2.95 2.95 0 1 0 5.9 0a2.95 2.95 0 1 0 -5.9 0M78.3 445a2.95 2.95 0 1 0 5.9 0a2.95 2.95 0 1 0 -5.9 0M85.6 447.4a2.95 2.95 0 1 0 5.9 0a2.95 2.95 0 1 0 -5.9 0M87.2 415.1a2.95 2.95 0 1 0 5.9 0a2.95 2.95 0 1 0 -5.9 0M109.2 362.4a2.95 2.95 0 1 0 5.9 0a2.95 2.95 0 1 0 -5.9 0M82.8 424.2a2.95 2.95 0 1 0 5.9 0a2.95 2.95 0 1 0 -5.9 0M87.7 413.4a2.95 2.95 0 1 0 5.9 0a2.95 2.95 0 1 0 -5.9 0M107 361.6a2.95 2.95 0 1 0 5.9 0a2.95 2.95 0 1 0 -5.9 0M109.5 354.1a2.95 2.95 0 1 0 5.9 0a2.95 2.95 0 1 0 -5.9 0M85.8 405.4a2.95 2.95 0 1 0 5.9 0a2.95 2.95 0 1 0 -5.9 0M92.3 387.4a2.95 2.95 0 1 0 5.9 0a2.95 2.95 0 1 0 -5.9 0M96.8 380.2a2.95 2.95 0 1 0 5.9 0a2.95 2.95 0 1 0 -5.9 0M112.1 367.5a2.95 2.95 0 1 0 5.9 0a2.95 2.95 0 1 0 -5.9 0M80 430.5a2.95 2.95 0 1 0 5.9 0a2.95 2.95 0 1 0 -5.9 0M103.6 363.9a2.95 2.95 0 1 0 5.9 0a2.95 2.95 0 1 0 -5.9 0M80.3 421.8a2.95 2.95 0 1 0 5.9 0a2.95 2.95 0 1 0 -5.9 0M82.6 443.4a2.95 2.95 0 1 0 5.9 0a2.95 2.95 0 1 0 -5.9 0M79 432.2a2.95 2.95 0 1 0 5.9 0a2.95 2.95 0 1 0 -5.9 0M80.8 432.1a2.95 2.95 0 1 0 5.9 0a2.95 2.95 0 1 0 -5.9 0M80.5 419.3a2.95 2.95 0 1 0 5.9 0a2.95 2.95 0 1 0 -5.9 0M84.1 405.2a2.95 2.95 0 1 0 5.9 0a2.95 2.95 0 1 0 -5.9 0M88.6 432.7a2.95 2.95 0 1 0 5.9 0a2.95 2.95 0 1 0 -5.9 0M81.7 444.2a2.95 2.95 0 1 0 5.9 0a2.95 2.95 0 1 0 -5.9 0M97.1 381.2a2.95 2.95 0 1 0 5.9 0a2.95 2.95 0 1 0 -5.9 0M111.1 361.5a2.95 2.95 0 1 0 5.9 0a2.95 2.95 0 1 0 -5.9 0M81.7 433.3a2.95 2.95 0 1 0 5.9 0a2.95 2.95 0 1 0 -5.9 0M86.3 428.5a2.95 2.95 0 1 0 5.9 0a2.95 2.95 0 1 0 -5.9 0M86.1 416.9a2.95 2.95 0 1 0 5.9 0a2.95 2.95 0 1 0 -5.9 0M79.6 441.6a2.95 2.95 0 1 0 5.9 0a2.95 2.95 0 1 0 -5.9 0M87.8 404.6a2.95 2.95 0 1 0 5.9 0a2.95 2.95 0 1 0 -5.9 0M84.4 426.3a2.95 2.95 0 1 0 5.9 0a2.95 2.95 0 1 0 -5.9 0M102.9 382.8a2.95 2.95 0 1 0 5.9 0a2.95 2.95 0 1 0 -5.9 0M87.4 405.4a2.95 2.95 0 1 0 5.9 0a2.95 2.95 0 1 0 -5.9 0M78 422.7a2.95 2.95 0 1 0 5.9 0a2.95 2.95 0 1 0 -5.9 0M81.2 409.6a2.95 2.95 0 1 0 5.9 0a2.95 2.95 0 1 0 -5.9 0M109.7 385.3a2.95 2.95 0 1 0 5.9 0a2.95 2.95 0 1 0 -5.9 0M103.4 390.2a2.95 2.95 0 1 0 5.9 0a2.95 2.95 0 1 0 -5.9 0M114.1 357.8a2.95 2.95 0 1 0 5.9 0a2.95 2.95 0 1 0 -5.9 0M82 446.9a2.95 2.95 0 1 0 5.9 0a2.95 2.95 0 1 0 -5.9 0M83.5 433a2.95 2.95 0 1 0 5.9 0a2.95 2.95 0 1 0 -5.9 0M85.2 418.1a2.95 2.95 0 1 0 5.9 0a2.95 2.95 0 1 0 -5.9 0M79.1 414.8a2.95 2.95 0 1 0 5.9 0a2.95 2.95 0 1 0 -5.9 0M99.8 388.6a2.95 2.95 0 1 0 5.9 0a2.95 2.95 0 1 0 -5.9 0M85 413.1a2.95 2.95 0 1 0 5.9 0a2.95 2.95 0 1 0 -5.9 0M104.5 356.4a2.95 2.95 0 1 0 5.9 0a2.95 2.95 0 1 0 -5.9 0M88.9 425.2a2.95 2.95 0 1 0 5.9 0a2.95 2.95 0 1 0 -5.9 0M82 438a2.95 2.95 0 1 0 5.9 0a2.95 2.95 0 1 0 -5.9 0M85.6 442.6a2.95 2.95 0 1 0 5.9 0a2.95 2.95 0 1 0 -5.9 0M106.8 382.8a2.95 2.95 0 1 0 5.9 0a2.95 2.95 0 1 0 -5.9 0M83.6 414.4a2.95 2.95 0 1 0 5.9 0a2.95 2.95 0 1 0 -5.9 0M93.3 386.6a2.95 2.95 0 1 0 5.9 0a2.95 2.95 0 1 0 -5.9 0M83.1 408.5a2.95 2.95 0 1 0 5.9 0a2.95 2.95 0 1 0 -5.9 0M78.6 419.9a2.95 2.95 0 1 0 5.9 0a2.95 2.95 0 1 0 -5.9 0M79.8 436.3a2.95 2.95 0 1 0 5.9 0a2.95 2.95 0 1 0 -5.9 0M95.3 384.4a2.95 2.95 0 1 0 5.9 0a2.95 2.95 0 1 0 -5.9 0M83.1 434.8a2.95 2.95 0 1 0 5.9 0a2.95 2.95 0 1 0 -5.9 0M83.5 410.7a2.95 2.95 0 1 0 5.9 0a2.95 2.95 0 1 0 -5.9 0M81.1 411.5a2.95 2.95 0 1 0 5.9 0a2.95 2.95 0 1 0 -5.9 0M85.9 447a2.95 2.95 0 1 0 5.9 0a2.95 2.95 0 1 0 -5.9 0M100.3 383.3a2.95 2.95 0 1 0 5.9 0a2.95 2.95 0 1 0 -5.9 0M78.1 423.4a2.95 2.95 0 1 0 5.9 0a2.95 2.95 0 1 0 -5.9 0M100.4 387a2.95 2.95 0 1 0 5.9 0a2.95 2.95 0 1 0 -5.9 0M102.7 372.4a2.95 2.95 0 1 0 5.9 0a2.95 2.95 0 1 0 -5.9 0M78.8 437.4a2.95 2.95 0 1 0 5.9 0a2.95 2.95 0 1 0 -5.9 0M108.1 358a2.95 2.95 0 1 0 5.9 0a2.95 2.95 0 1 0 -5.9 0M78.7 447.8a2.95 2.95 0 1 0 5.9 0a2.95 2.95 0 1 0 -5.9 0M84 440a2.95 2.95 0 1 0 5.9 0a2.95 2.95 0 1 0 -5.9 0M81 436.9a2.95 2.95 0 1 0 5.9 0a2.95 2.95 0 1 0 -5.9 0M83.8 422.1a2.95 2.95 0 1 0 5.9 0a2.95 2.95 0 1 0 -5.9 0M82.9 440.4a2.95 2.95 0 1 0 5.9 0a2.95 2.95 0 1 0 -5.9 0M84.2 434.5a2.95 2.95 0 1 0 5.9 0a2.95 2.95 0 1 0 -5.9 0M113.4 363.8a2.95 2.95 0 1 0 5.9 0a2.95 2.95 0 1 0 -5.9 0M85.7 422.2a2.95 2.95 0 1 0 5.9 0a2.95 2.95 0 1 0 -5.9 0M87.1 423.5a2.95 2.95 0 1 0 5.9 0a2.95 2.95 0 1 0 -5.9 0M104.5 364.4a2.95 2.95 0 1 0 5.9 0a2.95 2.95 0 1 0 -5.9 0M86 415.1a2.95 2.95 0 1 0 5.9 0a2.95 2.95 0 1 0 -5.9 0M80.7 450.4a2.95 2.95 0 1 0 5.9 0a2.95 2.95 0 1 0 -5.9 0M92.3 385.8a2.95 2.95 0 1 0 5.9 0a2.95 2.95 0 1 0 -5.9 0M112.7 359.4a2.95 2.95 0 1 0 5.9 0a2.95 2.95 0 1 0 -5.9 0M83.3 424a2.95 2.95 0 1 0 5.9 0a2.95 2.95 0 1 0 -5.9 0M103.8 358a2.95 2.95 0 1 0 5.9 0a2.95 2.95 0 1 0 -5.9 0M95.4 382.3a2.95 2.95 0 1 0 5.9 0a2.95 2.95 0 1 0 -5.9 0M87 429.2a2.95 2.95 0 1 0 5.9 0a2.95 2.95 0 1 0 -5.9 0M112.4 354.3a2.95 2.95 0 1 0 5.9 0a2.95 2.95 0 1 0 -5.9 0M82.2 421.6a2.95 2.95 0 1 0 5.9 0a2.95 2.95 0 1 0 -5.9 0M111.1 354.2a2.95 2.95 0 1 0 5.9 0a2.95 2.95 0 1 0 -5.9 0M101 383.7a2.95 2.95 0 1 0 5.9 0a2.95 2.95 0 1 0 -5.9 0M92.2 387.1a2.95 2.95 0 1 0 5.9 0a2.95 2.95 0 1 0 -5.9 0M90.7 383.4a2.95 2.95 0 1 0 5.9 0a2.95 2.95 0 1 0 -5.9 0M85 428.2a2.95 2.95 0 1 0 5.9 0a2.95 2.95 0 1 0 -5.9 0M77.1 447.7a2.95 2.95 0 1 0 5.9 0a2.95 2.95 0 1 0 -5.9 0M88.3 432.1a2.95 2.95 0 1 0 5.9 0a2.95 2.95 0 1 0 -5.9 0M87.4 404.1a2.95 2.95 0 1 0 5.9 0a2.95 2.95 0 1 0 -5.9 0M88.1 438.3a2.95 2.95 0 1 0 5.9 0a2.95 2.95 0 1 0 -5.9 0M108.5 366.4a2.95 2.95 0 1 0 5.9 0a2.95 2.95 0 1 0 -5.9 0M87.5 424.7a2.95 2.95 0 1 0 5.9 0a2.95 2.95 0 1 0 -5.9 0M110 364.1a2.95 2.95 0 1 0 5.9 0a2.95 2.95 0 1 0 -5.9 0M82.8 422.4a2.95 2.95 0 1 0 5.9 0a2.95 2.95 0 1 0 -5.9 0M88.6 427.8a2.95 2.95 0 1 0 5.9 0a2.95 2.95 0 1 0 -5.9 0M86.9 438.5a2.95 2.95 0 1 0 5.9 0a2.95 2.95 0 1 0 -5.9 0M79.4 446.3a2.95 2.95 0 1 0 5.9 0a2.95 2.95 0 1 0 -5.9 0M83.4 437.1a2.95 2.95 0 1 0 5.9 0a2.95 2.95 0 1 0 -5.9 0M81.2 416.2a2.95 2.95 0 1 0 5.9 0a2.95 2.95 0 1 0 -5.9 0M82.7 438.4a2.95 2.95 0 1 0 5.9 0a2.95 2.95 0 1 0 -5.9 0M82.1 420.7a2.95 2.95 0 1 0 5.9 0a2.95 2.95 0 1 0 -5.9 0M90 411.1a2.95 2.95 0 1 0 5.9 0a2.95 2.95 0 1 0 -5.9 0M84.4 446.5a2.95 2.95 0 1 0 5.9 0a2.95 2.95 0 1 0 -5.9 0M82.2 436.4a2.95 2.95 0 1 0 5.9 0a2.95 2.95 0 1 0 -5.9 0M84.9 444.4a2.95 2.95 0 1 0 5.9 0a2.95 2.95 0 1 0 -5.9 0M104.2 360.6a2.95 2.95 0 1 0 5.9 0a2.95 2.95 0 1 0 -5.9 0M83 421.1a2.95 2.95 0 1 0 5.9 0a2.95 2.95 0 1 0 -5.9 0M78.6 438.1a2.95 2.95 0 1 0 5.9 0a2.95 2.95 0 1 0 -5.9 0M100.1 383.8a2.95 2.95 0 1 0 5.9 0a2.95 2.95 0 1 0 -5.9 0M87.3 416.1a2.95 2.95 0 1 0 5.9 0a2.95 2.95 0 1 0 -5.9 0M98.7 384.7a2.95 2.95 0 1 0 5.9 0a2.95 2.95 0 1 0 -5.9 0M106.6 383.8a2.95 2.95 0 1 0 5.9 0a2.95 2.95 0 1 0 -5.9 0M107.4 390.4a2.95 2.95 0 1 0 5.9 0a2.95 2.95 0 1 0 -5.9 0M90.4 404.5a2.95 2.95 0 1 0 5.9 0a2.95 2.95 0 1 0 -5.9 0M89.7 383.5a2.95 2.95 0 1 0 5.9 0a2.95 2.95 0 1 0 -5.9 0M91.2 390a2.95 2.95 0 1 0 5.9 0a2.95 2.95 0 1 0 -5.9 0M80.1 403.5a2.95 2.95 0 1 0 5.9 0a2.95 2.95 0 1 0 -5.9 0M87.7 449.7a2.95 2.95 0 1 0 5.9 0a2.95 2.95 0 1 0 -5.9 0M105 389.5a2.95 2.95 0 1 0 5.9 0a2.95 2.95 0 1 0 -5.9 0M89.9 426.7a2.95 2.95 0 1 0 5.9 0a2.95 2.95 0 1 0 -5.9 0M111.9 385.6a2.95 2.95 0 1 0 5.9 0a2.95 2.95 0 1 0 -5.9 0M104.7 372.6a2.95 2.95 0 1 0 5.9 0a2.95 2.95 0 1 0 -5.9 0M115.5 365.2a2.95 2.95 0 1 0 5.9 0a2.95 2.95 0 1 0 -5.9 0M111.4 351.9a2.95 2.95 0 1 0 5.9 0a2.95 2.95 0 1 0 -5.9 0M87.3 446.1a2.95 2.95 0 1 0 5.9 0a2.95 2.95 0 1 0 -5.9 0M76.7 411.4a2.95 2.95 0 1 0 5.9 0a2.95 2.95 0 1 0 -5.9 0M79.2 452.8a2.95 2.95 0 1 0 5.9 0a2.95 2.95 0 1 0 -5.9 0M112.3 353.3a2.95 2.95 0 1 0 5.9 0a2.95 2.95 0 1 0 -5.9 0M88.6 433.4a2.95 2.95 0 1 0 5.9 0a2.95 2.95 0 1 0 -5.9 0M101.6 371.1a2.95 2.95 0 1 0 5.9 0a2.95 2.95 0 1 0 -5.9 0M102.2 365a2.95 2.95 0 1 0 5.9 0a2.95 2.95 0 1 0 -5.9 0M88.7 384.1a2.95 2.95 0 1 0 5.9 0a2.95 2.95 0 1 0 -5.9 0M88.8 401a2.95 2.95 0 1 0 5.9 0a2.95 2.95 0 1 0 -5.9 0M89.3 408a2.95 2.95 0 1 0 5.9 0a2.95 2.95 0 1 0 -5.9 0M75.1 441.6a2.95 2.95 0 1 0 5.9 0a2.95 2.95 0 1 0 -5.9 0M89.7 411.4a2.95 2.95 0 1 0 5.9 0a2.95 2.95 0 1 0 -5.9 0M111.8 369.1a2.95 2.95 0 1 0 5.9 0a2.95 2.95 0 1 0 -5.9 0M76.3 429.6a2.95 2.95 0 1 0 5.9 0a2.95 2.95 0 1 0 -5.9 0M87.7 436.7a2.95 2.95 0 1 0 5.9 0a2.95 2.95 0 1 0 -5.9 0M104.4 356.1a2.95 2.95 0 1 0 5.9 0a2.95 2.95 0 1 0 -5.9 0M88 429.8a2.95 2.95 0 1 0 5.9 0a2.95 2.95 0 1 0 -5.9 0M76.7 423.3a2.95 2.95 0 1 0 5.9 0a2.95 2.95 0 1 0 -5.9 0" fill="none" stroke="#D95319" stroke-width="1.0"/>
<path d="M148.7 438.3 149.2 438.2 149.7 438.1 161.8 434.5 162 434.4 162.3 434.4 171.3 433.8 171.6 433.8 179.7 433 179.9 433 180.1 433 180.3 433 180.5 433.1 180.7 433.1 186.9 435.4 187.6 435.7 195.6 437.7 195.9 437.7 205.8 439.7 206.4 439.8 207 439.8 207.6 439.8 207.8 439.8 208 439.8 208.2 439.8 208.4 439.8 208.7 439.8 208.9 439.9 209.1 440 209.3 440.1 209.4 440.2 214.9 444.6 215.2 444.8 215.6 445 226.5 450.5 226.8 450.6 227.1 450.7 227.4 450.8 227.8 450.8 228.1 450.8 228.4 450.8 228.7 450.8 229.1 450.7 229.4 450.5 229.7 450.4 229.9 450.2 230.2 450 230.4 449.8 230.6 449.5 230.8 449.3 231 449 231.1 448.7 231.2 448.4 231.3 448.1 231.3 447.7 231.3 447.4 231.3 447.1 231.3 446.8 231.2 446.4 231 446.1 230.9 445.8 230.7 445.6 230.5 445.3 230.3 445.1 230 444.9 229.8 444.7 229.4 444.5 219 439.3 218.8 439.2 218.6 439 213.6 435 213.5 434.9 213.3 434.7 213.2 434.6 213.1 434.4 213 434.2 212.9 434 212.9 433.8 212.8 433.6 212.8 433.4 212.8 433.4 212.7 432.9 212.6 432.3 212.4 431.8 212.2 431.3 211.9 430.8 211.5 430.3 211.1 429.9 210.7 429.5 210.2 429.1 209.8 428.9 209.2 428.6 208.7 428.4 208.1 428.3 198.3 426.3 198.2 426.3 190.9 424.4 190.6 424.4 183.1 421.5 182.5 421.4 182 421.3 181.5 421.2 181 421.2 180.4 421.2 170.6 422.2 170.5 422.2 160.7 422.8 160 422.9 159.3 423 147 426.7 146.8 426.8 146.6 426.8 135.3 428.2 134.6 428.3 133.9 428.5 123 432.5 122.5 432.7 122.1 433 121.6 433.2 121.2 433.6 114.2 439.5 113.8 440 113.4 440.4 113.1 440.9 112.8 441.4 112.6 441.9 112.4 442.4 112.3 443 112.2 443.6 112.2 444.1 112.2 444.7 112.3 445.3 112.5 445.8 112.7 446.3 112.9 446.9 113.2 447.3 113.6 447.8 114 448.2 114.4 448.6 114.9 448.9 115.4 449.2 115.9 449.4 116.4 449.6 117 449.7 117.6 449.8 118.1 449.8 118.7 449.8 119.3 449.7 119.3 449.7 119.5 449.6 119.7 449.6 120 449.6 120.2 449.6 120.4 449.7 120.6 449.7 120.8 449.8 121.1 449.8 121.3 449.8 121.5 449.8 121.7 449.8 121.9 449.8 122.2 449.8 122.4 449.7 122.6 449.7 122.8 449.6 123 449.5 123.3 449.4 123.5 449.3 123.7 449.2 123.9 449.1 124.1 448.9 124.3 448.8 124.5 448.6 124.6 448.4 124.8 448.2 125 448 125.2 447.8 125.3 447.6 125.5 447.4 125.6 447.1 125.7 446.9 125.8 446.6 125.9 446.3 126 446 126.1 445.8 126.2 445.5 126.2 445.3 126.3 445.1 126.3 444.9 126.4 444.7 126.5 444.5 126.7 444.3 126.8 444.2 126.9 444 127.7 443.4 127.8 443.3 128 443.2 128.2 443.1 128.4 443 137.1 439.8 137.4 439.7 137.6 439.7 148.7 438.3ZM89.7 458.5 89.7 458.5 89.7 458.6 89.8 458.6 89.9 458.7 90 458.8 90 458.8 90.2 458.9 90.3 459 90.4 459.1 90.6 459.2 90.8 459.2 90.9 459.3 91.1 459.4 91.3 459.4 91.5 459.5 91.8 459.6 92 459.6 92.2 459.7 92.5 459.7 92.7 459.8 93 459.8 93.2 459.8 93.5 459.8 93.7 459.8 94 459.8 94.3 459.8 94.5 459.8 94.8 459.8 95 459.8 95.3 459.8 95.5 459.7 95.8 459.7 96 459.6 96.2 459.6 96.5 459.5 96.7 459.4 96.9 459.4 97.1 459.3 97.2 459.2 97.4 459.2 97.6 459.1 97.7 459 97.8 458.9 98 458.8 98 458.8 98.1 458.7 98.2 458.6 98.3 458.6 98.3 458.5 98.3 458.5 98.3 458.5 98.3 458.4 98.2 458.4 98.1 458.3 98 458.2 98 458.2 97.8 458.1 97.7 458 97.6 457.9 97.4 457.8 97.2 457.8 97.1 457.7 96.9 457.6 96.7 457.6 96.5 457.5 96.2 457.4 96 457.4 95.8 457.3 95.5 457.3 95.3 457.2 95 457.2 94.8 457.2 94.5 457.2 94.3 457.2 94 457.2 93.7 457.2 93.5 457.2 93.2 457.2 93 457.2 92.7 457.2 92.5 457.3 92.2 457.3 92 457.4 91.8 457.4 91.5 457.5 91.3 457.6 91.1 457.6 90.9 457.7 90.8 457.8 90.6 457.8 90.4 457.9 90.3 458 90.2 458.1 90 458.2 90 458.2 89.9 458.3 89.8 458.4 89.7 458.4 89.7 458.5 89.7 458.5Z" fill="#0072BD" fill-opacity="0.55" fill-rule="evenodd"/>
<path d="M49.5 442.4l2.9 4.0 -2.9 4.0 -2.9 -4.0zM123 413l2.9 4.0 -2.9 4.0 -2.9 -4.0zM128 413l2.9 4.0 -2.9 4.0 -2.9 -4.0zM133 412l2.9 4.0 -2.9 4.0 -2.9 -4.0zM121 416l2.9 4.0 -2.9 4.0 -2.9 -4.0zM176 414l2.9 4.0 -2.9 4.0 -2.9 -4.0zM186 415l2.9 4.0 -2.9 4.0 -2.9 -4.0zM117.7 441.6l2.9 4.0 -2.9 4.0 -2.9 -4.0zM204.6 430.5l2.9 4.0 -2.9 4.0 -2.9 -4.0zM122.3 433.2l2.9 4.0 -2.9 4.0 -2.9 -4.0zM173.3 419.6l2.9 4.0 -2.9 4.0 -2.9 -4.0zM205.7 431.4l2.9 4.0 -2.9 4.0 -2.9 -4.0zM206.4 434.3l2.9 4.0 -2.9 4.0 -2.9 -4.0zM205.4 431.4l2.9 4.0 -2.9 4.0 -2.9 -4.0zM168.2 420.2l2.9 4.0 -2.9 4.0 -2.9 -4.0zM175.7 428.6l2.9 4.0 -2.9 4.0 -2.9 -4.0zM132.7 429.8l2.9 4.0 -2.9 4.0 -2.9 -4.0zM134.2 436.3l2.9 4.0 -2.9 4.0 -2.9 -4.0zM201.1 424.8l2.9 4.0 -2.9 4.0 -2.9 -4.0zM118.5 436l2.9 4.0 -2.9 4.0 -2.9 -4.0zM122.3 434l2.9 4.0 -2.9 4.0 -2.9 -4.0zM193.2 432.2l2.9 4.0 -2.9 4.0 -2.9 -4.0zM136.4 430.8l2.9 4.0 -2.9 4.0 -2.9 -4.0zM124.4 433.9l2.9 4.0 -2.9 4.0 -2.9 -4.0zM148 426.9l2.9 4.0 -2.9 4.0 -2.9 -4.0zM159.5 421.6l2.9 4.0 -2.9 4.0 -2.9 -4.0zM219.6 439.2l2.9 4.0 -2.9 4.0 -2.9 -4.0zM155.5 427.5l2.9 4.0 -2.9 4.0 -2.9 -4.0zM198.3 428.7l2.9 4.0 -2.9 4.0 -2.9 -4.0zM142.7 431.2l2.9 4.0 -2.9 4.0 -2.9 -4.0zM113.4 441.9l2.9 4.0 -2.9 4.0 -2.9 -4.0zM194.5 429.8l2.9 4.0 -2.9 4.0 -2.9 -4.0zM118.9 438.1l2.9 4.0 -2.9 4.0 -2.9 -4.0zM136 429.1l2.9 4.0 -2.9 4.0 -2.9 -4.0zM180.5 423.7l2.9 4.0 -2.9 4.0 -2.9 -4.0zM218.1 437.6l2.9 4.0 -2.9 4.0 -2.9 -4.0zM169 427.4l2.9 4.0 -2.9 4.0 -2.9 -4.0zM123.2 435.6l2.9 4.0 -2.9 4.0 -2.9 -4.0zM114.5 441.9l2.9 4.0 -2.9 4.0 -2.9 -4.0zM169.4 425.6l2.9 4.0 -2.9 4.0 -2.9 -4.0zM217.9 435.5l2.9 4.0 -2.9 4.0 -2.9 -4.0zM134 426.1l2.9 4.0 -2.9 4.0 -2.9 -4.0zM162.3 422.9l2.9 4.0 -2.9 4.0 -2.9 -4.0zM151.4 423.4l2.9 4.0 -2.9 4.0 -2.9 -4.0zM165.9 421.8l2.9 4.0 -2.9 4.0 -2.9 -4.0zM172.1 424.3l2.9 4.0 -2.9 4.0 -2.9 -4.0zM149.9 426.3l2.9 4.0 -2.9 4.0 -2.9 -4.0zM195.2 425l2.9 4.0 -2.9 4.0 -2.9 -4.0zM187.6 425.8l2.9 4.0 -2.9 4.0 -2.9 -4.0zM162 428.5l2.9 4.0 -2.9 4.0 -2.9 -4.0zM177.7 422.5l2.9 4.0 -2.9 4.0 -2.9 -4.0zM173.5 420l2.9 4.0 -2.9 4.0 -2.9 -4.0zM209.4 435l2.9 4.0 -2.9 4.0 -2.9 -4.0zM183 421l2.9 4.0 -2.9 4.0 -2.9 -4.0zM211.9 435.3l2.9 4.0 -2.9 4.0 -2.9 -4.0zM186.2 425.8l2.9 4.0 -2.9 4.0 -2.9 -4.0zM216 435.1l2.9 4.0 -2.9 4.0 -2.9 -4.0zM176.3 424.9l2.9 4.0 -2.9 4.0 -2.9 -4.0zM199.7 426.4l2.9 4.0 -2.9 4.0 -2.9 -4.0zM187.9 423.1l2.9 4.0 -2.9 4.0 -2.9 -4.0zM189.5 431.1l2.9 4.0 -2.9 4.0 -2.9 -4.0zM148 426.1l2.9 4.0 -2.9 4.0 -2.9 -4.0zM131.3 426l2.9 4.0 -2.9 4.0 -2.9 -4.0zM199.5 430.8l2.9 4.0 -2.9 4.0 -2.9 -4.0zM157.5 424l2.9 4.0 -2.9 4.0 -2.9 -4.0zM171.2 426.4l2.9 4.0 -2.9 4.0 -2.9 -4.0zM190.1 424.7l2.9 4.0 -2.9 4.0 -2.9 -4.0zM142.7 430.9l2.9 4.0 -2.9 4.0 -2.9 -4.0zM136 431.7l2.9 4.0 -2.9 4.0 -2.9 -4.0zM135.9 433.1l2.9 4.0 -2.9 4.0 -2.9 -4.0zM196.6 422.6l2.9 4.0 -2.9 4.0 -2.9 -4.0zM203.5 433.5l2.9 4.0 -2.9 4.0 -2.9 -4.0zM191.9 430.7l2.9 4.0 -2.9 4.0 -2.9 -4.0zM161.7 424.1l2.9 4.0 -2.9 4.0 -2.9 -4.0zM157.7 428.2l2.9 4.0 -2.9 4.0 -2.9 -4.0zM184.4 423.3l2.9 4.0 -2.9 4.0 -2.9 -4.0zM220.6 442.7l2.9 4.0 -2.9 4.0 -2.9 -4.0zM220.6 438.5l2.9 4.0 -2.9 4.0 -2.9 -4.0zM175 426.6l2.9 4.0 -2.9 4.0 -2.9 -4.0zM118 442.1l2.9 4.0 -2.9 4.0 -2.9 -4.0zM200.8 425.9l2.9 4.0 -2.9 4.0 -2.9 -4.0zM149.1 430.2l2.9 4.0 -2.9 4.0 -2.9 -4.0zM126.3 435.2l2.9 4.0 -2.9 4.0 -2.9 -4.0zM189.7 430.1l2.9 4.0 -2.9 4.0 -2.9 -4.0zM210.4 425.6l2.9 4.0 -2.9 4.0 -2.9 -4.0zM126.7 434.5l2.9 4.0 -2.9 4.0 -2.9 -4.0zM125.9 439.5l2.9 4.0 -2.9 4.0 -2.9 -4.0zM211.3 431.4l2.9 4.0 -2.9 4.0 -2.9 -4.0zM165.6 425l2.9 4.0 -2.9 4.0 -2.9 -4.0zM211 432.7l2.9 4.0 -2.9 4.0 -2.9 -4.0zM194 421.8l2.9 4.0 -2.9 4.0 -2.9 -4.0zM133.6 425.8l2.9 4.0 -2.9 4.0 -2.9 -4.0zM157.8 419.9l2.9 4.0 -2.9 4.0 -2.9 -4.0zM194.5 426.4l2.9 4.0 -2.9 4.0 -2.9 -4.0zM188.3 427.2l2.9 4.0 -2.9 4.0 -2.9 -4.0zM209.4 431.5l2.9 4.0 -2.9 4.0 -2.9 -4.0zM133.6 432.3l2.9 4.0 -2.9 4.0 -2.9 -4.0zM228.3 443.6l2.9 4.0 -2.9 4.0 -2.9 -4.0zM168.7 428.3l2.9 4.0 -2.9 4.0 -2.9 -4.0zM128.9 436.6l2.9 4.0 -2.9 4.0 -2.9 -4.0zM185.5 419.3l2.9 4.0 -2.9 4.0 -2.9 -4.0zM147.5 426l2.9 4.0 -2.9 4.0 -2.9 -4.0zM118.4 438.5l2.9 4.0 -2.9 4.0 -2.9 -4.0zM175.5 421.3l2.9 4.0 -2.9 4.0 -2.9 -4.0zM170.7 427l2.9 4.0 -2.9 4.0 -2.9 -4.0zM206.1 435.1l2.9 4.0 -2.9 4.0 -2.9 -4.0zM225.7 445.3l2.9 4.0 -2.9 4.0 -2.9 -4.0zM204.3 428.8l2.9 4.0 -2.9 4.0 -2.9 -4.0zM217.3 441.3l2.9 4.0 -2.9 4.0 -2.9 -4.0zM213 437.1l2.9 4.0 -2.9 4.0 -2.9 -4.0zM118 440l2.9 4.0 -2.9 4.0 -2.9 -4.0zM208.3 425.1l2.9 4.0 -2.9 4.0 -2.9 -4.0zM150.8 432.3l2.9 4.0 -2.9 4.0 -2.9 -4.0zM205.9 429.7l2.9 4.0 -2.9 4.0 -2.9 -4.0zM138.3 434l2.9 4.0 -2.9 4.0 -2.9 -4.0zM119.6 436.2l2.9 4.0 -2.9 4.0 -2.9 -4.0zM197.1 431.8l2.9 4.0 -2.9 4.0 -2.9 -4.0zM130.3 429.8l2.9 4.0 -2.9 4.0 -2.9 -4.0zM133.8 434.1l2.9 4.0 -2.9 4.0 -2.9 -4.0zM227.1 442.4l2.9 4.0 -2.9 4.0 -2.9 -4.0zM193 429.5l2.9 4.0 -2.9 4.0 -2.9 -4.0zM120 432.5l2.9 4.0 -2.9 4.0 -2.9 -4.0zM181.7 427.8l2.9 4.0 -2.9 4.0 -2.9 -4.0zM142.5 430.5l2.9 4.0 -2.9 4.0 -2.9 -4.0zM146.3 428.6l2.9 4.0 -2.9 4.0 -2.9 -4.0zM181.2 420.9l2.9 4.0 -2.9 4.0 -2.9 -4.0zM172 421.7l2.9 4.0 -2.9 4.0 -2.9 -4.0zM190.3 423l2.9 4.0 -2.9 4.0 -2.9 -4.0zM121.3 434.4l2.9 4.0 -2.9 4.0 -2.9 -4.0zM174.4 422.6l2.9 4.0 -2.9 4.0 -2.9 -4.0zM140.3 432.5l2.9 4.0 -2.9 4.0 -2.9 -4.0zM169.3 421.3l2.9 4.0 -2.9 4.0 -2.9 -4.0zM219.7 439.7l2.9 4.0 -2.9 4.0 -2.9 -4.0zM141.3 431.9l2.9 4.0 -2.9 4.0 -2.9 -4.0zM119.7 431.8l2.9 4.0 -2.9 4.0 -2.9 -4.0zM123.1 441.7l2.9 4.0 -2.9 4.0 -2.9 -4.0zM186.3 419.3l2.9 4.0 -2.9 4.0 -2.9 -4.0zM121.2 436.5l2.9 4.0 -2.9 4.0 -2.9 -4.0zM134.6 428.4l2.9 4.0 -2.9 4.0 -2.9 -4.0zM138.4 435.1l2.9 4.0 -2.9 4.0 -2.9 -4.0zM214.9 433.6l2.9 4.0 -2.9 4.0 -2.9 -4.0zM143.1 428.6l2.9 4.0 -2.9 4.0 -2.9 -4.0zM168.1 428.6l2.9 4.0 -2.9 4.0 -2.9 -4.0zM164.9 429.6l2.9 4.0 -2.9 4.0 -2.9 -4.0zM125.2 439.3l2.9 4.0 -2.9 4.0 -2.9 -4.0zM167.3 418.9l2.9 4.0 -2.9 4.0 -2.9 -4.0zM203.2 432.2l2.9 4.0 -2.9 4.0 -2.9 -4.0zM164.4 425.2l2.9 4.0 -2.9 4.0 -2.9 -4.0zM133.6 425.7l2.9 4.0 -2.9 4.0 -2.9 -4.0zM194.1 426.7l2.9 4.0 -2.9 4.0 -2.9 -4.0zM122.9 444.9l2.9 4.0 -2.9 4.0 -2.9 -4.0zM157.2 430l2.9 4.0 -2.9 4.0 -2.9 -4.0zM166.2 428.1l2.9 4.0 -2.9 4.0 -2.9 -4.0zM211.2 429l2.9 4.0 -2.9 4.0 -2.9 -4.0zM145.7 429.8l2.9 4.0 -2.9 4.0 -2.9 -4.0zM125.1 442.6l2.9 4.0 -2.9 4.0 -2.9 -4.0zM206.7 431.7l2.9 4.0 -2.9 4.0 -2.9 -4.0zM161.9 421.8l2.9 4.0 -2.9 4.0 -2.9 -4.0zM136.5 430.3l2.9 4.0 -2.9 4.0 -2.9 -4.0zM114.4 438.1l2.9 4.0 -2.9 4.0 -2.9 -4.0zM117.3 444.7l2.9 4.0 -2.9 4.0 -2.9 -4.0zM209.1 426.6l2.9 4.0 -2.9 4.0 -2.9 -4.0zM114.3 442.9l2.9 4.0 -2.9 4.0 -2.9 -4.0zM186 428.4l2.9 4.0 -2.9 4.0 -2.9 -4.0zM224.3 444.7l2.9 4.0 -2.9 4.0 -2.9 -4.0zM143.1 434.1l2.9 4.0 -2.9 4.0 -2.9 -4.0zM155 427.8l2.9 4.0 -2.9 4.0 -2.9 -4.0zM162.6 420.4l2.9 4.0 -2.9 4.0 -2.9 -4.0zM192 432.2l2.9 4.0 -2.9 4.0 -2.9 -4.0zM119 433.5l2.9 4.0 -2.9 4.0 -2.9 -4.0zM118.4 441.5l2.9 4.0 -2.9 4.0 -2.9 -4.0zM171.8 420l2.9 4.0 -2.9 4.0 -2.9 -4.0zM227.7 442.1l2.9 4.0 -2.9 4.0 -2.9 -4.0zM226 445l2.9 4.0 -2.9 4.0 -2.9 -4.0zM169.7 419l2.9 4.0 -2.9 4.0 -2.9 -4.0zM177.7 421.2l2.9 4.0 -2.9 4.0 -2.9 -4.0zM132.8 429.4l2.9 4.0 -2.9 4.0 -2.9 -4.0zM181.2 425.6l2.9 4.0 -2.9 4.0 -2.9 -4.0zM176.3 421.2l2.9 4.0 -2.9 4.0 -2.9 -4.0zM183.8 427.8l2.9 4.0 -2.9 4.0 -2.9 -4.0zM151.7 421.8l2.9 4.0 -2.9 4.0 -2.9 -4.0zM224.2 441.5l2.9 4.0 -2.9 4.0 -2.9 -4.0zM138.4 427.9l2.9 4.0 -2.9 4.0 -2.9 -4.0zM149.3 433.4l2.9 4.0 -2.9 4.0 -2.9 -4.0zM115.5 441.2l2.9 4.0 -2.9 4.0 -2.9 -4.0zM206.2 430.2l2.9 4.0 -2.9 4.0 -2.9 -4.0zM127 429.4l2.9 4.0 -2.9 4.0 -2.9 -4.0zM150.5 423.2l2.9 4.0 -2.9 4.0 -2.9 -4.0zM201.8 431l2.9 4.0 -2.9 4.0 -2.9 -4.0zM151.6 429.7l2.9 4.0 -2.9 4.0 -2.9 -4.0zM216.9 435.5l2.9 4.0 -2.9 4.0 -2.9 -4.0zM186.4 428l2.9 4.0 -2.9 4.0 -2.9 -4.0zM141 423.9l2.9 4.0 -2.9 4.0 -2.9 -4.0zM182.2 421.9l2.9 4.0 -2.9 4.0 -2.9 -4.0zM158.7 421.6l2.9 4.0 -2.9 4.0 -2.9 -4.0zM187.1 427.9l2.9 4.0 -2.9 4.0 -2.9 -4.0zM215.6 438.2l2.9 4.0 -2.9 4.0 -2.9 -4.0zM215.1 434.4l2.9 4.0 -2.9 4.0 -2.9 -4.0zM135.7 425.7l2.9 4.0 -2.9 4.0 -2.9 -4.0zM187 425.4l2.9 4.0 -2.9 4.0 -2.9 -4.0zM195.5 429.6l2.9 4.0 -2.9 4.0 -2.9 -4.0zM121.5 434.4l2.9 4.0 -2.9 4.0 -2.9 -4.0zM206.4 426l2.9 4.0 -2.9 4.0 -2.9 -4.0zM191.4 430.7l2.9 4.0 -2.9 4.0 -2.9 -4.0zM160.3 428.7l2.9 4.0 -2.9 4.0 -2.9 -4.0zM201.5 424.4l2.9 4.0 -2.9 4.0 -2.9 -4.0zM164.8 429.8l2.9 4.0 -2.9 4.0 -2.9 -4.0zM152 429.2l2.9 4.0 -2.9 4.0 -2.9 -4.0zM192.3 425.7l2.9 4.0 -2.9 4.0 -2.9 -4.0zM206.3 435.3l2.9 4.0 -2.9 4.0 -2.9 -4.0zM152.8 429.8l2.9 4.0 -2.9 4.0 -2.9 -4.0zM168.2 424.4l2.9 4.0 -2.9 4.0 -2.9 -4.0zM189.2 428.7l2.9 4.0 -2.9 4.0 -2.9 -4.0zM162.5 422.9l2.9 4.0 -2.9 4.0 -2.9 -4.0zM207.2 429.9l2.9 4.0 -2.9 4.0 -2.9 -4.0zM199 423.6l2.9 4.0 -2.9 4.0 -2.9 -4.0zM213 432.2l2.9 4.0 -2.9 4.0 -2.9 -4.0zM153.4 428.3l2.9 4.0 -2.9 4.0 -2.9 -4.0zM198.6 425.1l2.9 4.0 -2.9 4.0 -2.9 -4.0zM198.6 427.2l2.9 4.0 -2.9 4.0 -2.9 -4.0zM157.3 427.7l2.9 4.0 -2.9 4.0 -2.9 -4.0zM114.2 440.7l2.9 4.0 -2.9 4.0 -2.9 -4.0zM162.3 422.8l2.9 4.0 -2.9 4.0 -2.9 -4.0zM192.6 429.9l2.9 4.0 -2.9 4.0 -2.9 -4.0zM137.9 433.6l2.9 4.0 -2.9 4.0 -2.9 -4.0zM134.1 430.8l2.9 4.0 -2.9 4.0 -2.9 -4.0zM146.8 424.4l2.9 4.0 -2.9 4.0 -2.9 -4.0zM200 432.5l2.9 4.0 -2.9 4.0 -2.9 -4.0zM189.5 428.4l2.9 4.0 -2.9 4.0 -2.9 -4.0zM178.1 418.9l2.9 4.0 -2.9 4.0 -2.9 -4.0zM207.2 435.3l2.9 4.0 -2.9 4.0 -2.9 -4.0zM177.5 418.7l2.9 4.0 -2.9 4.0 -2.9 -4.0zM192.4 427.2l2.9 4.0 -2.9 4.0 -2.9 -4.0zM179.9 428.1l2.9 4.0 -2.9 4.0 -2.9 -4.0zM187.9 429.9l2.9 4.0 -2.9 4.0 -2.9 -4.0zM150.8 430.1l2.9 4.0 -2.9 4.0 -2.9 -4.0zM221.4 441.9l2.9 4.0 -2.9 4.0 -2.9 -4.0zM176.1 422.7l2.9 4.0 -2.9 4.0 -2.9 -4.0zM143 425.4l2.9 4.0 -2.9 4.0 -2.9 -4.0zM187.1 421.2l2.9 4.0 -2.9 4.0 -2.9 -4.0zM183.1 424.4l2.9 4.0 -2.9 4.0 -2.9 -4.0zM184.4 429l2.9 4.0 -2.9 4.0 -2.9 -4.0zM172.3 419.3l2.9 4.0 -2.9 4.0 -2.9 -4.0zM190.2 430.9l2.9 4.0 -2.9 4.0 -2.9 -4.0zM193.7 432.1l2.9 4.0 -2.9 4.0 -2.9 -4.0zM154.1 429l2.9 4.0 -2.9 4.0 -2.9 -4.0zM157.9 420.8l2.9 4.0 -2.9 4.0 -2.9 -4.0zM163.2 421.9l2.9 4.0 -2.9 4.0 -2.9 -4.0zM93.4 454.2l2.9 4.0 -2.9 4.0 -2.9 -4.0zM198.5 423.6l2.9 4.0 -2.9 4.0 -2.9 -4.0zM149.6 427.7l2.9 4.0 -2.9 4.0 -2.9 -4.0zM191.2 427l2.9 4.0 -2.9 4.0 -2.9 -4.0zM169 421.5l2.9 4.0 -2.9 4.0 -2.9 -4.0zM116.3 440.2l2.9 4.0 -2.9 4.0 -2.9 -4.0zM196.3 430l2.9 4.0 -2.9 4.0 -2.9 -4.0zM129.7 433l2.9 4.0 -2.9 4.0 -2.9 -4.0zM192.5 425.5l2.9 4.0 -2.9 4.0 -2.9 -4.0zM180.5 418.2l2.9 4.0 -2.9 4.0 -2.9 -4.0zM178.9 426.5l2.9 4.0 -2.9 4.0 -2.9 -4.0zM97 454.1l2.9 4.0 -2.9 4.0 -2.9 -4.0zM168.6 421.3l2.9 4.0 -2.9 4.0 -2.9 -4.0zM135.7 435.5l2.9 4.0 -2.9 4.0 -2.9 -4.0zM203.6 424.6l2.9 4.0 -2.9 4.0 -2.9 -4.0zM141 434.1l2.9 4.0 -2.9 4.0 -2.9 -4.0zM145.4 423.2l2.9 4.0 -2.9 4.0 -2.9 -4.0zM135.9 436.5l2.9 4.0 -2.9 4.0 -2.9 -4.0zM161.4 430.2l2.9 4.0 -2.9 4.0 -2.9 -4.0zM214.1 432.8l2.9 4.0 -2.9 4.0 -2.9 -4.0zM162.3 419.6l2.9 4.0 -2.9 4.0 -2.9 -4.0zM216.9 441.2l2.9 4.0 -2.9 4.0 -2.9 -4.0zM150.6 420.6l2.9 4.0 -2.9 4.0 -2.9 -4.0zM194 419.9l2.9 4.0 -2.9 4.0 -2.9 -4.0zM144 422.2l2.9 4.0 -2.9 4.0 -2.9 -4.0zM157.3 419.2l2.9 4.0 -2.9 4.0 -2.9 -4.0zM116.2 435.4l2.9 4.0 -2.9 4.0 -2.9 -4.0zM147.5 424l2.9 4.0 -2.9 4.0 -2.9 -4.0zM137 424.8l2.9 4.0 -2.9 4.0 -2.9 -4.0zM200.1 421.6l2.9 4.0 -2.9 4.0 -2.9 -4.0zM224.6 437.9l2.9 4.0 -2.9 4.0 -2.9 -4.0zM230.4 439.6l2.9 4.0 -2.9 4.0 -2.9 -4.0zM207.4 425.6l2.9 4.0 -2.9 4.0 -2.9 -4.0zM230.1 444.4l2.9 4.0 -2.9 4.0 -2.9 -4.0zM191.4 420.3l2.9 4.0 -2.9 4.0 -2.9 -4.0zM211.8 425l2.9 4.0 -2.9 4.0 -2.9 -4.0zM153.8 434.3l2.9 4.0 -2.9 4.0 -2.9 -4.0zM176.6 428.6l2.9 4.0 -2.9 4.0 -2.9 -4.0zM221.4 436.6l2.9 4.0 -2.9 4.0 -2.9 -4.0zM159.5 417.7l2.9 4.0 -2.9 4.0 -2.9 -4.0zM157.4 419.9l2.9 4.0 -2.9 4.0 -2.9 -4.0zM127.1 442.3l2.9 4.0 -2.9 4.0 -2.9 -4.0zM196 434.6l2.9 4.0 -2.9 4.0 -2.9 -4.0zM127.1 428.4l2.9 4.0 -2.9 4.0 -2.9 -4.0zM226.8 446.6l2.9 4.0 -2.9 4.0 -2.9 -4.0zM162 429.9l2.9 4.0 -2.9 4.0 -2.9 -4.0zM114.3 444.9l2.9 4.0 -2.9 4.0 -2.9 -4.0zM173 429.5l2.9 4.0 -2.9 4.0 -2.9 -4.0zM139.1 435.2l2.9 4.0 -2.9 4.0 -2.9 -4.0zM163.1 417.6l2.9 4.0 -2.9 4.0 -2.9 -4.0zM230.7 440.5l2.9 4.0 -2.9 4.0 -2.9 -4.0zM98.6 453.8l2.9 4.0 -2.9 4.0 -2.9 -4.0z" fill="none" stroke="#0072BD" stroke-width="1.0"/>
<path d="M159.3 486.1 175.5 486.8 183.6 486.8 188.4 482 188.6 481.8 188.9 481.7 197.8 476.3 205 470.9 205.1 470.9 212.1 465.6 219.1 458.6 221.7 454.6 220.3 452.8 216.5 454.7 209.2 458.4 209.1 458.5 208.9 458.5 199.1 461.7 192.6 464.2 192.4 464.3 184.2 466.7 176.4 469.1 170.2 473 163.8 477.8 163.6 477.9 163.4 478 163.2 478.1 156.2 480.9 155.3 485.6 159.3 486.1ZM153.7 447.9 153.7 447.9 153.7 447.8 153.7 447.7 153.7 447.6 153.6 447.5 153.5 447.4 153.4 447.2 153.3 447.1 153.2 447 153.1 446.8 152.9 446.7 152.7 446.5 152.5 446.4 152.2 446.2 152 446.1 151.7 445.9 151.4 445.8 151.1 445.7 150.8 445.5 150.4 445.4 150.1 445.3 149.7 445.2 149.3 445.1 148.9 445 148.5 445 148.1 444.9 147.7 444.8 147.3 444.8 146.9 444.8 146.4 444.8 146 444.8 145.6 444.8 145.1 444.8 144.7 444.8 144.3 444.8 143.9 444.9 143.5 445 143.1 445 142.7 445.1 142.3 445.2 141.9 445.3 141.6 445.4 141.2 445.5 140.9 445.7 140.6 445.8 140.3 445.9 140 446.1 139.8 446.2 139.5 446.4 139.3 446.5 139.1 446.7 138.9 446.8 138.8 447 138.7 447.1 138.6 447.2 138.5 447.4 138.4 447.5 138.3 447.6 138.3 447.7 138.3 447.8 138.3 447.9 138.3 447.9 138.3 448 138.3 448.1 138.3 448.1 138.3 448.2 138.3 448.3 138.3 448.4 138.4 448.5 138.5 448.6 138.6 448.8 138.7 448.9 138.8 449 138.9 449.2 139.1 449.3 139.3 449.5 139.5 449.6 139.8 449.8 140 449.9 140.3 450.1 140.6 450.2 140.9 450.3 141.2 450.5 141.6 450.6 141.9 450.7 142.3 450.8 142.7 450.9 143.1 451 143.5 451 143.9 451.1 144.3 451.2 144.7 451.2 145.1 451.2 145.6 451.2 146 451.2 146.4 451.2 146.9 451.2 147.3 451.2 147.7 451.2 148.1 451.1 148.5 451 148.9 451 149.3 450.9 149.7 450.8 150.1 450.7 150.4 450.6 150.8 450.5 151.1 450.3 151.4 450.2 151.7 450.1 152 449.9 152.2 449.8 152.5 449.6 152.7 449.5 152.9 449.3 153.1 449.2 153.2 449 153.3 448.9 153.4 448.8 153.5 448.6 153.6 448.5 153.7 448.4 153.7 448.3 153.7 448.2 153.7 448.1 153.7 448.1 153.7 448 153.7 447.9Z" fill="#EDB120" fill-opacity="0.55" fill-rule="evenodd"/>
<path d="M133 449.8l3.3 5.8h-6.6zM155 440.8l3.3 5.8h-6.6zM181 436.8l3.3 5.8h-6.6zM211.8 438.6l3.3 5.8h-6.6zM88 448.8l3.3 5.8h-6.6zM96 448.8l3.3 5.8h-6.6zM104 450.8l3.3 5.8h-6.6zM107 448.8l3.3 5.8h-6.6zM184 438.8l3.3 5.8h-6.6zM187 437.8l3.3 5.8h-6.6zM232.3 301.6l3.3 5.8h-6.6zM170 441.8l3.3 5.8h-6.6zM184.6 472.1l3.3 5.8h-6.6zM194.1 465.5l3.3 5.8h-6.6zM182.6 479.6l3.3 5.8h-6.6zM211.5 456.7l3.3 5.8h-6.6zM199 461.3l3.3 5.8h-6.6zM192.4 470.7l3.3 5.8h-6.6zM180.5 468l3.3 5.8h-6.6zM158.1 477.3l3.3 5.8h-6.6zM175.1 468.9l3.3 5.8h-6.6zM195.4 466.3l3.3 5.8h-6.6zM192.3 465.6l3.3 5.8h-6.6zM208.4 457.2l3.3 5.8h-6.6zM146.2 443.2l3.3 5.8h-6.6zM213.5 460.3l3.3 5.8h-6.6zM208.8 459.2l3.3 5.8h-6.6zM151 442.9l3.3 5.8h-6.6zM159.5 477.9l3.3 5.8h-6.6zM167 477.5l3.3 5.8h-6.6zM187.1 467.6l3.3 5.8h-6.6zM182.8 482.5l3.3 5.8h-6.6zM186.3 471.4l3.3 5.8h-6.6zM195.8 461.1l3.3 5.8h-6.6zM172.2 479.6l3.3 5.8h-6.6zM190.7 471.9l3.3 5.8h-6.6zM207.7 464.3l3.3 5.8h-6.6zM172.9 480.7l3.3 5.8h-6.6zM169.1 472.7l3.3 5.8h-6.6zM169.9 481.2l3.3 5.8h-6.6zM192.9 465.3l3.3 5.8h-6.6zM195.8 469l3.3 5.8h-6.6zM200.4 465.5l3.3 5.8h-6.6zM177.7 478.3l3.3 5.8h-6.6zM196.5 463.9l3.3 5.8h-6.6zM152.4 443.5l3.3 5.8h-6.6zM169.3 482.8l3.3 5.8h-6.6zM174.2 468.9l3.3 5.8h-6.6zM188.5 471.9l3.3 5.8h-6.6zM200.2 469.2l3.3 5.8h-6.6zM210.1 462.9l3.3 5.8h-6.6zM179.9 479.8l3.3 5.8h-6.6zM200.2 468.9l3.3 5.8h-6.6zM195.6 463.9l3.3 5.8h-6.6zM189.8 468.7l3.3 5.8h-6.6zM187.1 478.7l3.3 5.8h-6.6zM173.6 470.2l3.3 5.8h-6.6zM194.3 470l3.3 5.8h-6.6zM165.4 475.6l3.3 5.8h-6.6zM190.5 470.4l3.3 5.8h-6.6zM186.7 477.3l3.3 5.8h-6.6zM183.4 476.9l3.3 5.8h-6.6zM199.2 468.4l3.3 5.8h-6.6zM190.2 469.7l3.3 5.8h-6.6zM192.1 473.2l3.3 5.8h-6.6zM178.6 468.6l3.3 5.8h-6.6zM205.5 465.6l3.3 5.8h-6.6zM173.9 475.2l3.3 5.8h-6.6zM205.4 466.5l3.3 5.8h-6.6zM184.6 475.4l3.3 5.8h-6.6zM188.6 470l3.3 5.8h-6.6zM198.4 471.5l3.3 5.8h-6.6zM209.4 461.9l3.3 5.8h-6.6zM190.3 470.5l3.3 5.8h-6.6zM177.5 478.7l3.3 5.8h-6.6zM151.6 445.7l3.3 5.8h-6.6zM180.2 465.9l3.3 5.8h-6.6zM181.9 466.9l3.3 5.8h-6.6zM199.2 467.2l3.3 5.8h-6.6zM182.2 466.9l3.3 5.8h-6.6zM145.9 444.4l3.3 5.8h-6.6zM201.9 459.7l3.3 5.8h-6.6zM187.7 465.1l3.3 5.8h-6.6zM217.4 452.5l3.3 5.8h-6.6zM167.7 477.7l3.3 5.8h-6.6zM186.5 471l3.3 5.8h-6.6zM183.7 472.3l3.3 5.8h-6.6zM144.8 446.1l3.3 5.8h-6.6zM158.1 480.1l3.3 5.8h-6.6zM201.9 464.3l3.3 5.8h-6.6zM198.6 472l3.3 5.8h-6.6zM176.9 478.8l3.3 5.8h-6.6zM187.6 478.8l3.3 5.8h-6.6zM176.4 477l3.3 5.8h-6.6zM157.4 477.7l3.3 5.8h-6.6zM179.9 477.5l3.3 5.8h-6.6zM196.9 465.5l3.3 5.8h-6.6zM175.7 479.7l3.3 5.8h-6.6zM206 456.9l3.3 5.8h-6.6zM169.2 480.9l3.3 5.8h-6.6zM166.5 475.8l3.3 5.8h-6.6zM217.2 451.5l3.3 5.8h-6.6zM178.8 479.8l3.3 5.8h-6.6zM146 446.2l3.3 5.8h-6.6zM151.7 444.3l3.3 5.8h-6.6zM198.9 467l3.3 5.8h-6.6zM183.1 482.3l3.3 5.8h-6.6zM204.4 458.3l3.3 5.8h-6.6zM172.5 477.2l3.3 5.8h-6.6zM202.7 466l3.3 5.8h-6.6zM184.1 473.2l3.3 5.8h-6.6zM177 477.3l3.3 5.8h-6.6zM197.3 463.6l3.3 5.8h-6.6zM198.7 467l3.3 5.8h-6.6zM161.5 480l3.3 5.8h-6.6zM149.1 444.1l3.3 5.8h-6.6zM181.1 467.5l3.3 5.8h-6.6zM167.2 477.2l3.3 5.8h-6.6zM195.5 468.9l3.3 5.8h-6.6zM195.9 460.5l3.3 5.8h-6.6zM187.5 476.4l3.3 5.8h-6.6zM180.8 481l3.3 5.8h-6.6zM195.7 466.6l3.3 5.8h-6.6zM162.1 482.5l3.3 5.8h-6.6zM212.6 455.9l3.3 5.8h-6.6zM196.6 466.7l3.3 5.8h-6.6zM174.5 470.7l3.3 5.8h-6.6zM183.9 464.1l3.3 5.8h-6.6zM171.3 481.1l3.3 5.8h-6.6zM146.7 447.7l3.3 5.8h-6.6zM218.4 453.4l3.3 5.8h-6.6zM166.7 479.9l3.3 5.8h-6.6zM144.2 444.5l3.3 5.8h-6.6zM201 467.1l3.3 5.8h-6.6zM193.6 469.7l3.3 5.8h-6.6zM190.1 466.9l3.3 5.8h-6.6zM151.4 443.8l3.3 5.8h-6.6zM150 446.4l3.3 5.8h-6.6zM190.4 468.3l3.3 5.8h-6.6zM201.3 465.9l3.3 5.8h-6.6zM182 479.3l3.3 5.8h-6.6zM203.3 461.6l3.3 5.8h-6.6zM203.1 458.1l3.3 5.8h-6.6zM180.6 477.4l3.3 5.8h-6.6zM181.1 469.7l3.3 5.8h-6.6zM199.2 464.7l3.3 5.8h-6.6zM213.4 457.6l3.3 5.8h-6.6zM209.4 456.4l3.3 5.8h-6.6zM207.5 458.7l3.3 5.8h-6.6zM146.7 447.3l3.3 5.8h-6.6zM189.3 474.3l3.3 5.8h-6.6zM202.1 469.5l3.3 5.8h-6.6zM182.7 472l3.3 5.8h-6.6zM146.9 443.4l3.3 5.8h-6.6zM174.1 474.9l3.3 5.8h-6.6zM198.9 468.4l3.3 5.8h-6.6zM194 472.2l3.3 5.8h-6.6zM177 470.2l3.3 5.8h-6.6zM161.3 479.4l3.3 5.8h-6.6zM207.8 464.8l3.3 5.8h-6.6zM190.1 468l3.3 5.8h-6.6zM164.7 482.8l3.3 5.8h-6.6zM176.1 480.3l3.3 5.8h-6.6zM158.9 477.5l3.3 5.8h-6.6zM182.1 471l3.3 5.8h-6.6zM219.8 450.8l3.3 5.8h-6.6zM181.7 482.2l3.3 5.8h-6.6zM176.4 476l3.3 5.8h-6.6zM190.5 465.8l3.3 5.8h-6.6zM149.1 445.8l3.3 5.8h-6.6zM203.7 468.4l3.3 5.8h-6.6zM217.7 455.4l3.3 5.8h-6.6zM177.7 466.6l3.3 5.8h-6.6zM158.8 479.1l3.3 5.8h-6.6zM174.6 480l3.3 5.8h-6.6zM207.4 460.9l3.3 5.8h-6.6zM191.6 461.6l3.3 5.8h-6.6zM163.6 478.6l3.3 5.8h-6.6zM194.5 472.3l3.3 5.8h-6.6zM145.6 444l3.3 5.8h-6.6zM152.6 443.9l3.3 5.8h-6.6zM189.4 474.8l3.3 5.8h-6.6zM218.7 455.2l3.3 5.8h-6.6zM186.1 475.4l3.3 5.8h-6.6zM199.1 471.3l3.3 5.8h-6.6zM204.2 459l3.3 5.8h-6.6zM197.5 466.1l3.3 5.8h-6.6zM159.1 482.3l3.3 5.8h-6.6zM201.3 459l3.3 5.8h-6.6zM174.5 472.8l3.3 5.8h-6.6zM213.1 456.5l3.3 5.8h-6.6zM201.7 460.6l3.3 5.8h-6.6zM192 466.4l3.3 5.8h-6.6zM220.9 451.8l3.3 5.8h-6.6zM187.6 476.1l3.3 5.8h-6.6zM173.7 474.1l3.3 5.8h-6.6zM174.5 477.6l3.3 5.8h-6.6zM185.7 479.2l3.3 5.8h-6.6zM190.1 466.8l3.3 5.8h-6.6zM163.2 479.1l3.3 5.8h-6.6zM200.8 456.8l3.3 5.8h-6.6zM178.4 483.3l3.3 5.8h-6.6zM154.3 480.5l3.3 5.8h-6.6zM194.5 461.7l3.3 5.8h-6.6zM217.7 449.7l3.3 5.8h-6.6zM204.7 468.1l3.3 5.8h-6.6zM177.3 464.6l3.3 5.8h-6.6zM175.4 468.6l3.3 5.8h-6.6zM175.8 484.5l3.3 5.8h-6.6zM208.6 464.1l3.3 5.8h-6.6zM195.3 473.5l3.3 5.8h-6.6zM139.4 442.4l3.3 5.8h-6.6zM183.1 463.9l3.3 5.8h-6.6zM142.2 447.5l3.3 5.8h-6.6zM137.4 445.7l3.3 5.8h-6.6zM148.2 442.3l3.3 5.8h-6.6zM182.6 484.6l3.3 5.8h-6.6zM169 472.6l3.3 5.8h-6.6zM184.4 484.4l3.3 5.8h-6.6zM139.4 442.3l3.3 5.8h-6.6zM186.9 480.1l3.3 5.8h-6.6zM170 484.2l3.3 5.8h-6.6zM220 454.1l3.3 5.8h-6.6zM162.4 482.2l3.3 5.8h-6.6zM163.8 473.3l3.3 5.8h-6.6zM192.4 460.7l3.3 5.8h-6.6zM192.8 474.8l3.3 5.8h-6.6zM159.5 484.2l3.3 5.8h-6.6z" fill="none" stroke="#EDB120" stroke-width="1.0"/>
<path d="M243.5 312.7 243.7 312.8 243.9 312.9 248.5 316.4 248.6 316.5 248.8 316.6 248.9 316.7 249 316.9 249.1 317 249.1 317.2 251.4 322.8 251.4 322.9 251.5 323.1 251.5 323.3 251.5 323.5 251.5 331.3 251.5 331.4 251.5 331.6 250 339.9 250 340.1 249.9 340.3 247 347.5 246.9 347.8 246.8 348.2 245.5 355 245.5 355.2 245.4 355.3 245.4 355.5 245.3 355.7 241.2 362.3 241.1 362.5 235.3 369.7 235.2 369.9 229.8 375.3 229.6 375.5 229.5 375.6 229.3 375.7 223 378.8 222.8 378.9 222.6 379 222.4 379 211 380.4 210.6 380.5 210.3 380.5 210 380.7 209.8 380.8 209.5 381 209.3 381.1 209.1 381.4 208.9 381.6 208.7 381.8 208.5 382.1 208.4 382.4 208.3 382.7 208.2 383 208.2 383.3 208.2 383.6 208.2 383.9 208.3 384.2 208.3 384.5 208.5 384.8 208.6 385 208.8 385.3 208.9 385.5 209.2 385.7 209.4 385.9 209.6 386.1 209.9 386.3 210.2 386.4 210.5 386.5 210.8 386.6 211.1 386.6 211.4 386.6 211.7 386.6 223.9 385.1 224.3 385 224.7 384.9 225 384.8 232.7 380.9 233.1 380.7 233.3 380.5 233.6 380.3 239.8 374.1 240.1 373.8 246.1 366.2 246.4 365.8 251 358.2 251.2 357.9 251.3 357.6 251.4 357.4 251.5 357 252.9 349.8 252.9 349.6 253 349.4 255.9 342.2 256 341.8 256.1 341.5 257.7 332.3 257.7 332 257.7 331.7 257.7 322.5 257.7 322.2 257.7 321.9 257.6 321.6 257.5 321.3 254.4 313.6 254.3 313.3 254.1 313 254 312.8 253.8 312.6 253.6 312.4 253.3 312.2 247.2 307.6 246.9 307.4 246.5 307.2 238.3 303.7 238 303.5 237.7 303.5 237.4 303.4 237.1 303.4 236.7 303.4 236.4 303.4 236.1 303.5 235.9 303.6 235.6 303.7 235.3 303.9 235.1 304.1 234.8 304.3 234.6 304.5 234.4 304.7 234.3 305 234.1 305.3 234 305.5 234 305.8 233.9 306.1 233.9 306.4 233.9 306.8 233.9 307.1 234 307.4 234.1 307.6 234.2 307.9 234.4 308.2 234.6 308.4 234.8 308.7 235 308.9 235.2 309.1 235.5 309.2 235.8 309.4 243.5 312.7Z" fill="#77AC30" fill-opacity="0.3" fill-rule="evenodd"/>
<path d="M210.1 379.4h4.5v4.5h-4.5zM248.5 338.1h4.5v4.5h-4.5zM244.6 307.5h4.5v4.5h-4.5zM235.1 304.3h4.5v4.5h-4.5zM251.5 332h4.5v4.5h-4.5zM244.4 348.5h4.5v4.5h-4.5zM220.7 380h4.5v4.5h-4.5zM245.2 350.2h4.5v4.5h-4.5zM233.3 304.3h4.5v4.5h-4.5zM249.5 311.6h4.5v4.5h-4.5zM250.8 327.2h4.5v4.5h-4.5zM251 327.5h4.5v4.5h-4.5zM247.6 314.1h4.5v4.5h-4.5zM245.2 346.2h4.5v4.5h-4.5zM251.5 335.2h4.5v4.5h-4.5zM246.3 358.7h4.5v4.5h-4.5zM248.3 346.7h4.5v4.5h-4.5zM245.1 348h4.5v4.5h-4.5zM251.4 344h4.5v4.5h-4.5zM219.2 380.5h4.5v4.5h-4.5zM238.1 307.7h4.5v4.5h-4.5zM237.6 371h4.5v4.5h-4.5zM221.3 381.9h4.5v4.5h-4.5zM254.2 331.3h4.5v4.5h-4.5zM230.8 374h4.5v4.5h-4.5zM249.7 311.5h4.5v4.5h-4.5zM234.8 306.4h4.5v4.5h-4.5zM252.2 323.1h4.5v4.5h-4.5zM251.8 321h4.5v4.5h-4.5zM245.9 346.7h4.5v4.5h-4.5zM221 378.7h4.5v4.5h-4.5zM251.1 331.3h4.5v4.5h-4.5zM239.1 367.8h4.5v4.5h-4.5zM254.1 336.6h4.5v4.5h-4.5zM210.8 381.1h4.5v4.5h-4.5zM251.8 325.9h4.5v4.5h-4.5zM227.1 377.7h4.5v4.5h-4.5zM249.3 334.5h4.5v4.5h-4.5zM250.3 336.7h4.5v4.5h-4.5zM247.7 355.3h4.5v4.5h-4.5zM220.5 379.9h4.5v4.5h-4.5zM251.4 331.5h4.5v4.5h-4.5zM254.4 329.1h4.5v4.5h-4.5zM214.5 383.5h4.5v4.5h-4.5zM250 347.9h4.5v4.5h-4.5zM247 341.9h4.5v4.5h-4.5zM252.1 324.1h4.5v4.5h-4.5zM244.7 306.9h4.5v4.5h-4.5zM240.8 366.2h4.5v4.5h-4.5zM250.7 338.1h4.5v4.5h-4.5zM217.8 377.7h4.5v4.5h-4.5zM245.9 345.6h4.5v4.5h-4.5zM244.5 357h4.5v4.5h-4.5zM242 360.4h4.5v4.5h-4.5zM253.2 332.6h4.5v4.5h-4.5zM229.7 378h4.5v4.5h-4.5zM209.5 383.8h4.5v4.5h-4.5zM248.6 314.1h4.5v4.5h-4.5zM236.4 303.4h4.5v4.5h-4.5zM243.3 359.6h4.5v4.5h-4.5zM220.9 382.7h4.5v4.5h-4.5zM253.9 320.9h4.5v4.5h-4.5zM239.1 308.7h4.5v4.5h-4.5zM242 365.5h4.5v4.5h-4.5zM250.5 337.2h4.5v4.5h-4.5zM222.8 379h4.5v4.5h-4.5zM252.9 341h4.5v4.5h-4.5zM236.3 367.6h4.5v4.5h-4.5zM252.7 322.9h4.5v4.5h-4.5zM252.7 321.9h4.5v4.5h-4.5zM242.2 364.6h4.5v4.5h-4.5zM249.5 322.7h4.5v4.5h-4.5zM244.5 307.5h4.5v4.5h-4.5zM251.9 320.6h4.5v4.5h-4.5zM234.3 374.6h4.5v4.5h-4.5zM253.7 316.3h4.5v4.5h-4.5zM226.7 375.9h4.5v4.5h-4.5zM242.5 363.8h4.5v4.5h-4.5zM226.7 376.6h4.5v4.5h-4.5zM242.2 308.3h4.5v4.5h-4.5zM249.4 346.5h4.5v4.5h-4.5zM248.9 333.1h4.5v4.5h-4.5zM240.2 362.1h4.5v4.5h-4.5zM247.8 341.2h4.5v4.5h-4.5zM242.7 309.1h4.5v4.5h-4.5zM251.5 341.7h4.5v4.5h-4.5zM221.8 377h4.5v4.5h-4.5zM250.8 320.9h4.5v4.5h-4.5zM232.1 303.3h4.5v4.5h-4.5zM213.7 382.7h4.5v4.5h-4.5zM212.3 382.4h4.5v4.5h-4.5zM226.3 378.7h4.5v4.5h-4.5zM249 317.9h4.5v4.5h-4.5zM219 381.7h4.5v4.5h-4.5zM243 363.5h4.5v4.5h-4.5zM253.1 319.5h4.5v4.5h-4.5zM240.5 360.1h4.5v4.5h-4.5zM241.7 359.1h4.5v4.5h-4.5zM234.7 367.6h4.5v4.5h-4.5zM213.7 382.3h4.5v4.5h-4.5zM252.6 314.6h4.5v4.5h-4.5zM227.6 375.5h4.5v4.5h-4.5zM250.2 348.3h4.5v4.5h-4.5zM243.1 309.4h4.5v4.5h-4.5zM254.2 329.1h4.5v4.5h-4.5zM249.2 335.6h4.5v4.5h-4.5zM248.3 340h4.5v4.5h-4.5zM237.3 365.5h4.5v4.5h-4.5zM249.5 336.2h4.5v4.5h-4.5zM242.4 310.4h4.5v4.5h-4.5zM249.2 311.5h4.5v4.5h-4.5zM223.3 376.9h4.5v4.5h-4.5zM232.7 376.3h4.5v4.5h-4.5zM249.4 347.4h4.5v4.5h-4.5zM247.2 351.6h4.5v4.5h-4.5zM216.8 383h4.5v4.5h-4.5zM241.4 358.1h4.5v4.5h-4.5zM251.5 344.6h4.5v4.5h-4.5zM245.8 346.2h4.5v4.5h-4.5zM208.2 381.2h4.5v4.5h-4.5zM253.5 332.1h4.5v4.5h-4.5zM248.7 346.9h4.5v4.5h-4.5zM211.9 381.8h4.5v4.5h-4.5zM250.6 333.8h4.5v4.5h-4.5zM233 375h4.5v4.5h-4.5zM216.4 378.8h4.5v4.5h-4.5zM247.9 353.4h4.5v4.5h-4.5zM249.5 339.3h4.5v4.5h-4.5zM237.4 364.2h4.5v4.5h-4.5zM213.9 382h4.5v4.5h-4.5zM237.2 362.8h4.5v4.5h-4.5zM252.1 338h4.5v4.5h-4.5zM243.7 362.6h4.5v4.5h-4.5zM250.5 338.6h4.5v4.5h-4.5zM220.6 382.4h4.5v4.5h-4.5zM234.7 306.6h4.5v4.5h-4.5zM224.7 380.1h4.5v4.5h-4.5zM250.4 310.4h4.5v4.5h-4.5zM244 311.9h4.5v4.5h-4.5zM254.7 340h4.5v4.5h-4.5zM226.3 372.7h4.5v4.5h-4.5zM253.4 341.7h4.5v4.5h-4.5zM237.9 307.7h4.5v4.5h-4.5zM239.8 302.7h4.5v4.5h-4.5zM238.8 357.3h4.5v4.5h-4.5zM207.2 378.4h4.5v4.5h-4.5zM251.3 345.6h4.5v4.5h-4.5zM234.7 373h4.5v4.5h-4.5zM239.9 361.5h4.5v4.5h-4.5zM246.7 336.3h4.5v4.5h-4.5zM234 308.4h4.5v4.5h-4.5zM250.7 324.4h4.5v4.5h-4.5zM232.6 374.7h4.5v4.5h-4.5zM245.5 359.7h4.5v4.5h-4.5z" fill="none" stroke="#77AC30" stroke-width="1.0"/>
<path d="M142.2 423.6 142.2 423.5 142.2 423.3 142.1 423.2 142.1 423.1 142 423 142 422.8 141.9 422.7 141.8 422.6 141.8 422.5 141.7 422.4 141.6 422.3 141.5 422.2 141.4 422.1 141.3 422 141.2 421.9 141.1 421.8 141 421.7 140.9 421.7 140.8 421.6 140.7 421.5 140.5 421.5 140.4 421.4 140.3 421.4 140.2 421.3 140 421.3 139.9 421.3 139.8 421.3 139.6 421.3 139.5 421.3 139.4 421.3 139.2 421.3 139.1 421.3 139 421.3 138.8 421.3 138.7 421.4 138.6 421.4 138.5 421.5 138.3 421.5 138.2 421.6 138.1 421.7 138 421.7 137.9 421.8 137.8 421.9 137.7 422 137.6 422.1 137.5 422.2 137.4 422.3 137.3 422.4 137.2 422.5 137.2 422.6 137.1 422.7 137 422.8 137 423 136.9 423.1 136.9 423.2 136.8 423.3 136.8 423.5 136.8 423.6 136.8 423.7 136.8 423.9 136.8 424 136.8 424.1 136.8 424.3 136.8 424.4 136.8 424.5 136.8 424.7 136.9 424.8 136.9 424.9 137 425 137 425.2 137.1 425.3 137.2 425.4 137.2 425.5 137.3 425.6 137.4 425.7 137.5 425.8 137.6 425.9 137.7 426 137.8 426.1 137.9 426.2 138 426.3 138.1 426.3 138.2 426.4 138.3 426.5 138.5 426.5 138.6 426.6 138.7 426.6 138.8 426.7 139 426.7 139.1 426.7 139.2 426.7 139.4 426.7 139.5 426.7 139.6 426.7 139.8 426.7 139.9 426.7 140 426.7 140.2 426.7 140.3 426.6 140.4 426.6 140.5 426.5 140.7 426.5 140.8 426.4 140.9 426.3 141 426.3 141.1 426.2 141.2 426.1 141.3 426 141.4 425.9 141.5 425.8 141.6 425.7 141.7 425.6 141.8 425.5 141.8 425.4 141.9 425.3 142 425.2 142 425 142.1 424.9 142.1 424.8 142.2 424.7 142.2 424.5 142.2 424.4 142.2 424.3 142.2 424.1 142.2 424 142.2 423.9 142.2 423.7 142.2 423.6ZM119.6 387.3 119.8 387.5 120.1 387.6 120.3 387.7 120.6 387.7 120.8 387.7 121.1 387.7 121.4 387.7 121.6 387.7 121.9 387.6 122.1 387.5 122.4 387.4 122.6 387.2 122.8 387 123 386.9 123.2 386.7 123.3 386.4 123.5 386.2 123.6 385.9 123.7 385.7 123.7 385.4 123.7 385.2 123.7 384.9 123.7 384.6 123.7 384.4 123.6 384.1 123.5 383.9 123.4 383.6 123.2 383.4 123 383.2 122.8 383 109.9 371 109.7 370.8 109.4 370.7 109.2 370.5 108.9 370.4 108.7 370.3 108.4 370.3 108.2 370.3 107.9 370.3 107.6 370.3 107.4 370.3 107.1 370.4 106.9 370.5 106.6 370.6 106.4 370.8 106.2 371 106 371.1 105.8 371.3 105.7 371.6 105.5 371.8 105.4 372.1 105.3 372.3 105.3 372.6 105.3 372.8 105.3 373.1 105.3 373.4 105.3 373.6 105.4 373.9 105.5 374.1 105.6 374.4 105.8 374.6 106 374.8 106.2 375 119.1 387 119.3 387.2 119.6 387.3ZM113.8 420.4 113.9 420.6 113.9 420.7 114 420.9 114.1 421 114.2 421.1 114.3 421.3 114.4 421.4 114.6 421.5 114.7 421.6 114.9 421.6 115 421.7 115.2 421.7 115.4 421.7 115.5 421.7 115.7 421.7 115.9 421.7 116.1 421.6 116.2 421.6 116.4 421.5 116.5 421.4 116.6 421.3 116.8 421.2 116.9 421.1 117 420.9 117.1 420.8 117.1 420.6 117.2 420.5 117.2 420.3 117.2 420.1 117.2 419.9 116.7 402 116.7 401.8 116.7 401.6 116.6 401.4 116.6 401.3 116.5 401.1 116.4 401 116.3 400.9 116.2 400.7 116.1 400.6 115.9 400.5 115.8 400.4 115.6 400.4 115.5 400.3 115.3 400.3 115.1 400.3 115 400.3 114.8 400.3 114.6 400.3 114.4 400.4 114.3 400.4 114.1 400.5 114 400.6 113.9 400.7 113.7 400.8 113.6 400.9 113.5 401.1 113.4 401.2 113.4 401.4 113.3 401.5 113.3 401.7 113.3 401.9 113.3 402.1 113.8 420 113.8 420.2 113.8 420.4ZM64.7 410.4 57.7 419.3 57.7 419.4 50.7 426.3 50.6 426.4 48.5 428.2 48.3 428.2 48.2 428.3 47.9 428.5 47.5 428.7 47.1 429 46.7 429.2 46.3 429.5 45.9 429.8 45.5 430.1 45.2 430.4 44.9 430.7 44.6 431 44.3 431.4 44 431.7 44 431.7 44 431.8 43.9 431.9 43.8 432 43.7 432.1 43.4 432.4 43.1 432.6 42.9 432.9 42.7 433.2 42.5 433.6 42.4 433.9 42.3 434.3 42.3 434.6 42.3 435 42.3 435.4 42.3 435.7 42.4 436.1 42.5 436.4 42.6 436.6 42.7 436.7 42.7 436.8 42.8 437 42.8 437.3 43 437.6 43.1 437.9 43.3 438.2 43.4 438.4 43.6 438.7 43.8 438.9 44.1 439.2 44.3 439.4 44.6 439.6 44.9 439.8 45.2 440 45.5 440.2 45.8 440.4 46.2 440.5 46.6 440.6 47 440.8 47.4 440.9 47.8 441 48.2 441 48.7 441.1 49.1 441.1 49.6 441.1 50 441.1 50.5 441.1 51 441.1 51.5 441 51.9 441 52.4 440.9 52.9 440.8 53.4 440.6 53.8 440.5 54.3 440.3 54.8 440.2 55.2 440 55.7 439.8 56.1 439.5 56.5 439.3 56.9 439 57.3 438.8 57.7 438.5 58.1 438.2 58.5 437.9 58.8 437.6 59.1 437.3 59.4 437 59.7 436.6 60 436.3 60.2 436 60.4 435.6 60.6 435.3 60.8 434.9 61 434.6 61.1 434.2 61.2 433.9 61.3 433.5 61.4 433.2 61.4 432.9 61.4 432.5 61.4 432.2 61.4 431.9 61.4 431.6 61.3 431.3 61.2 431 61.2 430.7 61 430.4 60.9 430.1 60.7 429.8 60.6 429.6 60.4 429.3 60.2 429.1 60.1 429 60 428.9 60 428.8 59.9 428.6 59.9 428.5 59.9 428.4 59.9 428.3 59.9 428.1 59.9 428 59.9 427.9 60 427.8 60 427.7 60.1 427.6 60.1 427.5 60.2 427.4 63.1 424.5 63.5 424.1 70.4 415.3 70.5 415.1 77.6 408.2 77.9 407.9 78.1 407.6 86.3 395.7 86.5 395.4 86.6 395.1 86.8 394.7 86.9 394.4 86.9 394 86.9 393.7 86.9 393.3 86.9 392.9 86.8 392.6 86.7 392.2 86.5 391.9 86.3 391.6 86.1 391.3 85.9 391 85.6 390.7 85.3 390.5 85 390.3 84.7 390.2 84.3 390 84 389.9 83.6 389.9 83.3 389.9 82.9 389.9 82.5 389.9 82.2 390 81.8 390.1 81.5 390.3 81.2 390.5 80.9 390.7 80.6 390.9 80.3 391.2 80.1 391.5 72.2 403 72.1 403.1 72 403.2 65.1 410 64.7 410.4Z" fill="#7E2F8E" fill-opacity="0.6" fill-rule="evenodd"/>
<path d="M75.5 426.4h6.2M78.6 423.3v6.2M79.2 456.4h6.2M82.3 453.3v6.2M108.3 438.2h6.2M111.4 435.1v6.2M90.9 452h6.2M94 448.9v6.2M92.9 452.8h6.2M96 449.7v6.2M109.1 439h6.2M112.2 435.9v6.2M161.9 439h6.2M165 435.9v6.2M168.9 440h6.2M172 436.9v6.2M174.9 438h6.2M178 434.9v6.2M179.9 439h6.2M183 435.9v6.2M121.9 447h6.2M125 443.9v6.2M205.9 427.3h6.2M209 424.2v6.2M222.9 447h6.2M226 443.9v6.2M195 382.7h6.2M198.1 379.6v6.2M361.9 380h6.2M365 376.9v6.2M114.9 366h6.2M118 362.9v6.2M59.7 421.9h6.2M62.8 418.8v6.2M114.4 379.3h6.2M117.5 376.2v6.2M55.1 421.8h6.2M58.2 418.7v6.2M51.7 428.8h6.2M54.8 425.7v6.2M78 401.4h6.2M81.1 398.3v6.2M44.9 433.9h6.2M48 430.8v6.2M73.9 408.5h6.2M77 405.4v6.2M64.2 414.2h6.2M67.3 411.1v6.2M54.4 429h6.2M57.5 425.9v6.2M55.8 423h6.2M58.9 419.9v6.2M106.4 371.2h6.2M109.5 368.1v6.2M134.6 423.8h6.2M137.7 420.7v6.2M104.3 374.2h6.2M107.4 371.1v6.2M62.5 414.8h6.2M65.6 411.7v6.2M58.2 420.8h6.2M61.3 417.7v6.2M113.4 378.5h6.2M116.5 375.4v6.2M79.4 398h6.2M82.5 394.9v6.2M78.6 394.9h6.2M81.7 391.8v6.2M82.8 393.8h6.2M85.9 390.7v6.2M109.4 375.7h6.2M112.5 372.6v6.2M137.9 423.8h6.2M141 420.7v6.2M63.4 419.9h6.2M66.5 416.8v6.2M60 420.4h6.2M63.1 417.3v6.2M54.6 431.5h6.2M57.7 428.4v6.2M50.8 438.7h6.2M53.9 435.6v6.2M47.9 436.5h6.2M51 433.4v6.2M105.2 376.4h6.2M108.3 373.3v6.2M44.2 435.7h6.2M47.3 432.6v6.2M137.6 422.6h6.2M140.7 419.5v6.2M111.9 382h6.2M115 378.9v6.2M74.6 401.7h6.2M77.7 398.6v6.2M46.1 432.6h6.2M49.2 429.5v6.2M69.8 407.7h6.2M72.9 404.6v6.2M42.1 435.5h6.2M45.2 432.4v6.2M47.5 436.3h6.2M50.6 433.2v6.2M47.8 426.3h6.2M50.9 423.2v6.2M136.3 421.7h6.2M139.4 418.6v6.2M53.1 430.2h6.2M56.2 427.1v6.2M70.4 407.9h6.2M73.5 404.8v6.2M48.4 432.2h6.2M51.5 429.1v6.2M111.8 409.1h6.2M114.9 406v6.2M68.1 410.1h6.2M71.2 407v6.2M55 427.6h6.2M58.1 424.5v6.2M50.5 431h6.2M53.6 427.9v6.2M76.9 398.9h6.2M80 395.8v6.2M47 428.3h6.2M50.1 425.2v6.2M47.4 431.2h6.2M50.5 428.1v6.2M52.8 429.1h6.2M55.9 426v6.2M113 420.4h6.2M116.1 417.3v6.2M109.2 378.3h6.2M112.3 375.2v6.2M137.4 426.1h6.2M140.5 423v6.2M44.3 430.6h6.2M47.4 427.5v6.2M135.7 425.1h6.2M138.8 422v6.2M57.1 416.7h6.2M60.2 413.6v6.2M63.8 411.7h6.2M66.9 408.6v6.2M58.6 414.9h6.2M61.7 411.8v6.2M51.7 423.4h6.2M54.8 420.3v6.2M81.5 395.2h6.2M84.6 392.1v6.2M62.6 413.1h6.2M65.7 410v6.2M76.4 401.8h6.2M79.5 398.7v6.2M114.9 382h6.2M118 378.9v6.2M58.7 423.2h6.2M61.8 420.1v6.2M43.7 432.5h6.2M46.8 429.4v6.2M47.8 438.1h6.2M50.9 435v6.2M73 408.2h6.2M76.1 405.1v6.2M46.3 439.1h6.2M49.4 436v6.2M65.4 415.3h6.2M68.5 412.2v6.2M115 383.2h6.2M118.1 380.1v6.2M78 395.6h6.2M81.1 392.5v6.2M43.2 432.4h6.2M46.3 429.3v6.2M76.5 401.3h6.2M79.6 398.2v6.2M111.9 378h6.2M115 374.9v6.2M66.7 413.8h6.2M69.8 410.7v6.2M80.4 397.2h6.2M83.5 394.1v6.2M80.7 390.6h6.2M83.8 387.5v6.2M52.3 429.7h6.2M55.4 426.6v6.2M115.1 381.2h6.2M118.2 378.1v6.2M43.7 430.4h6.2M46.8 427.3v6.2M64.6 416.3h6.2M67.7 413.2v6.2M68.8 406.4h6.2M71.9 403.3v6.2M56.5 418h6.2M59.6 414.9v6.2M56.6 421.8h6.2M59.7 418.7v6.2M78 403h6.2M81.1 399.9v6.2M119.5 383.8h6.2M122.6 380.7v6.2M80.4 392.4h6.2M83.5 389.3v6.2M57.5 416.6h6.2M60.6 413.5v6.2M106.9 378.3h6.2M110 375.2v6.2M43.5 438.4h6.2M46.6 435.3v6.2M112.9 412.6h6.2M116 409.5v6.2M50 430.5h6.2M53.1 427.4v6.2M67.5 406.7h6.2M70.6 403.6v6.2M42.2 432.3h6.2M45.3 429.2v6.2M70.4 409.4h6.2M73.5 406.3v6.2M64.8 418h6.2M67.9 414.9v6.2M53 436.3h6.2M56.1 433.2v6.2M55.2 422.6h6.2M58.3 419.5v6.2M77.1 391.8h6.2M80.2 388.7v6.2M78.3 397.5h6.2M81.4 394.4v6.2M137.8 422.4h6.2M140.9 419.3v6.2M67.4 409.8h6.2M70.5 406.7v6.2M117.7 381.6h6.2M120.8 378.5v6.2M60.5 415.6h6.2M63.6 412.5v6.2M137.5 424.9h6.2M140.6 421.8v6.2M51.6 437.6h6.2M54.7 434.5v6.2M46.8 428.7h6.2M49.9 425.6v6.2M75.8 404.1h6.2M78.9 401v6.2M47.7 439.7h6.2M50.8 436.6v6.2M111.8 421.4h6.2M114.9 418.3v6.2M62.7 411.5h6.2M65.8 408.4v6.2M59.7 414.7h6.2M62.8 411.6v6.2M55.4 422.9h6.2M58.5 419.8v6.2M40.2 435.2h6.2M43.3 432.1v6.2M72.1 409.7h6.2M75.2 406.6v6.2M63.4 414.4h6.2M66.5 411.3v6.2M64.3 412.1h6.2M67.4 409v6.2M113.5 382.5h6.2M116.6 379.4v6.2M60.3 419.9h6.2M63.4 416.8v6.2M112.8 402.7h6.2M115.9 399.6v6.2M42.9 438.7h6.2M46 435.6v6.2M74.9 399.1h6.2M78 396v6.2M57 426.7h6.2M60.1 423.6v6.2M48.3 435.7h6.2M51.4 432.6v6.2M46.3 436.5h6.2M49.4 433.4v6.2M56.8 429.1h6.2M59.9 426v6.2M111.9 381.7h6.2M115 378.6v6.2M72.3 402.8h6.2M75.4 399.7v6.2M73.1 400.9h6.2M76.2 397.8v6.2M58.9 416.7h6.2M62 413.6v6.2M114 380.1h6.2M117.1 377v6.2M80.6 395.5h6.2M83.7 392.4v6.2M47.4 439.4h6.2M50.5 436.3v6.2M39.8 436.3h6.2M42.9 433.2v6.2M65 412.5h6.2M68.1 409.4v6.2M45.7 440.4h6.2M48.8 437.3v6.2M112.4 414h6.2M115.5 410.9v6.2M64.8 413h6.2M67.9 409.9v6.2M113.1 405.6h6.2M116.2 402.5v6.2M41.6 436.6h6.2M44.7 433.5v6.2M58.1 418.1h6.2M61.2 415v6.2M68.9 407.9h6.2M72 404.8v6.2M63.4 419.6h6.2M66.5 416.5v6.2M52.6 425.5h6.2M55.7 422.4v6.2M59.1 420.5h6.2M62.2 417.4v6.2M55.5 432.3h6.2M58.6 429.2v6.2M72.8 405.5h6.2M75.9 402.4v6.2M49.7 428.1h6.2M52.8 425v6.2M44.4 432.6h6.2M47.5 429.5v6.2M65.1 411.3h6.2M68.2 408.2v6.2M68.5 411.9h6.2M71.6 408.8v6.2M78.6 393.2h6.2M81.7 390.1v6.2M67.4 408.2h6.2M70.5 405.1v6.2M114.6 382.4h6.2M117.7 379.3v6.2M70.3 406.8h6.2M73.4 403.7v6.2M62.7 418.2h6.2M65.8 415.1v6.2M73.6 408.4h6.2M76.7 405.3v6.2M82.8 391.6h6.2M85.9 388.5v6.2M54.8 427.9h6.2M57.9 424.8v6.2M68.8 412.1h6.2M71.9 409v6.2M76.5 390.1h6.2M79.6 387v6.2M110.6 383.5h6.2M113.7 380.4v6.2M64.3 417.5h6.2M67.4 414.4v6.2M109.7 411.9h6.2M112.8 408.8v6.2M80.4 390.2h6.2M83.5 387.1v6.2M135.9 428.2h6.2M139 425.1v6.2M113.1 409h6.2M116.2 405.9v6.2M138.3 424.1h6.2M141.4 421v6.2M104 375h6.2M107.1 371.9v6.2M136.6 427.8h6.2M139.7 424.7v6.2M112.9 416.1h6.2M116 413v6.2M58.4 416.7h6.2M61.5 413.6v6.2M113.4 403h6.2M116.5 399.9v6.2M58.4 431h6.2M61.5 427.9v6.2M46.8 440.8h6.2M49.9 437.7v6.2M106.6 369h6.2M109.7 365.9v6.2M139.9 423.7h6.2M143 420.6v6.2M110.6 380.3h6.2M113.7 377.2v6.2M110.3 376.1h6.2M113.4 373v6.2M111.4 414.1h6.2M114.5 411v6.2M44.9 442h6.2M48 438.9v6.2M135 423.2h6.2M138.1 420.1v6.2" fill="none" stroke="#7E2F8E" stroke-width="1.0"/>
<path d="M116.5 290.1 119.3 293.6 126.2 296.9 131.5 298.8 131.6 298.9 131.8 298.9 131.9 299 132 299.1 137.5 303.6 137.6 303.6 143 308.1 143.1 308.2 143.2 308.4 143.3 308.5 143.4 308.7 143.5 308.8 144.3 310.9 144.3 310.8 144.3 310.7 144.4 310.5 144.4 310.4 144.4 310.2 144.4 310.1 144.5 309.9 144.5 309.8 144.6 309.6 144.6 309.5 144.7 309.4 144.7 309.3 144.8 309.1 144.8 309 144.9 308.8 145 308.7 145.1 308.6 145.1 308.5 145.2 308.3 145.3 308.2 145.4 308.1 145.5 308 145.6 307.9 145.7 307.8 145.8 307.7 145.9 307.6 146.1 307.5 146.2 307.4 146.3 307.3 146.4 307.2 146.5 307.1 146.7 307.1 146.8 307 146.9 306.9 147.1 306.9 147.2 306.8 147.4 306.8 147.5 306.7 147.6 306.7 147.8 306.7 147.9 306.6 148 306.6 148.2 306.6 148.3 306.6 148.5 306.5 148.6 306.5 148.8 306.5 148.9 306.5 149.1 306.5 149.2 306.5 149.4 306.6 149.5 306.6 149.7 306.6 149.8 306.6 150 306.7 150.1 306.7 150.3 306.7 150.4 306.8 150.5 306.8 150.6 306.9 150.8 306.9 150.9 307 151.1 307.1 151.2 307.1 151.4 307.2 151.4 307.2 151.6 307.3 151.7 307.4 151.9 307.5 151.9 307.5 152.1 307.6 152.2 307.7 152.4 307.8 152.4 307.9 152.6 308 152.7 308 152.8 308.2 152.9 308.2 153.1 308.4 153.1 308.5 153.3 308.6 153.3 308.7 153.5 308.8 153.5 308.9 153.7 309.1 153.7 309.1 153.9 309.3 153.9 309.4 154.1 309.6 154.1 309.6 154.2 309.8 154.3 309.9 154.4 310.1 154.4 310.1 154.6 310.3 154.6 310.4 154.7 310.6 154.8 310.6 154.9 310.9 154.9 310.9 155 311.1 155 311.2 155.1 311.4 155.1 311.5 155.2 311.7 155.2 311.8 155.3 312 155.3 312.1 155.4 312.3 155.4 312.3 155.5 312.6 155.5 312.6 155.6 312.9 155.6 312.9 155.6 313.2 155.6 313.2 155.7 313.5 155.7 313.5 155.7 313.8 155.7 313.8 155.7 314.1 155.7 314.1 155.7 314.4 155.7 314.4 155.7 314.6 155.7 314.7 155.7 314.9 155.7 315 155.7 315.2 155.7 315.3 155.6 315.5 155.6 315.6 155.6 315.8 155.6 315.9 155.5 316.1 155.5 316.2 155.4 316.4 155.4 316.5 155.3 316.6 155.3 316.7 155.2 316.9 155.2 317 155.1 317.2 155 317.3 154.9 317.4 154.9 317.5 154.8 317.7 154.7 317.8 154.6 317.9 154.5 318 154.4 318.1 154.3 318.2 154.2 318.3 154.1 318.4 153.9 318.5 153.8 318.6 153.7 318.7 153.6 318.8 153.5 318.9 153.3 318.9 153.2 319 153.1 319.1 152.9 319.1 152.8 319.2 152.6 319.2 152.5 319.3 152.4 319.3 152.2 319.3 152.1 319.4 152 319.4 151.8 319.4 151.7 319.4 151.5 319.5 151.4 319.5 151.2 319.5 151.1 319.5 150.9 319.5 150.8 319.5 150.6 319.4 150.5 319.4 150.3 319.4 150.2 319.4 150 319.3 149.9 319.3 149.7 319.3 149.6 319.2 149.5 319.2 149.4 319.1 149.2 319.1 149.1 319 148.9 318.9 148.8 318.9 148.6 318.8 148.6 318.8 148.4 318.7 148.3 318.6 148.1 318.5 148.1 318.5 147.9 318.4 147.8 318.3 147.6 318.2 147.6 318.1 152.2 322.8 152.3 323 152.4 323.1 152.5 323.3 156.1 330.6 156.2 330.8 156.2 330.9 156.3 331.1 156.3 331.3 156.3 331.5 156.3 331.6 156.3 331.8 156.2 332 154.8 336.1 157.1 337.8 165.4 338.7 172.2 336.9 172.5 336.8 179.5 335.9 184.1 334 182 328.6 178.9 324.7 172.1 322.2 171.9 322.1 171.8 322 171.6 321.9 171.5 321.8 171.3 321.7 171.2 321.5 171.1 321.4 171.1 321.2 171 321.1 170.9 320.9 170.9 320.7 170.9 320.5 170.9 320.3 170.9 320.2 171 320 171 319.8 171.1 319.7 171.2 319.5 174.1 315.2 171.8 313 163.1 310.3 162.9 310.3 162.7 310.2 162.6 310.1 162.5 310 162.3 309.9 157 304.5 151.8 300.2 143.1 297.6 142.9 297.6 142.8 297.5 135.9 294 129.7 293.2 129.6 293.1 129.4 293.1 129.2 293 129.1 292.9 128.9 292.8 128.8 292.7 128.7 292.6 128.6 292.5 128.5 292.3 128.4 292.2 128.3 292 128.3 291.8 126.7 285.7 122.3 285.1 117 288.8 116.5 290.1Z" fill="#4DBEEE" fill-opacity="0.6" fill-rule="evenodd"/>
<path d="M161.6 322.8h5.4M164.3 320.1v5.4M162.4 320.9l3.9 3.9M162.4 324.8l3.9 -3.9M167.8 335.4h5.4M170.5 332.7v5.4M168.5 333.4l3.9 3.9M168.5 337.3l3.9 -3.9M162.3 323.3h5.4M165 320.6v5.4M163 321.3l3.9 3.9M163 325.2l3.9 -3.9M165.1 333.9h5.4M167.8 331.2v5.4M165.9 332l3.9 3.9M165.9 335.9l3.9 -3.9M169.5 329.7h5.4M172.2 327v5.4M170.3 327.7l3.9 3.9M170.3 331.6l3.9 -3.9M179.6 332.3h5.4M182.3 329.6v5.4M180.4 330.4l3.9 3.9M180.4 334.3l3.9 -3.9M174.1 325.1h5.4M176.8 322.4v5.4M174.9 323.2l3.9 3.9M174.9 327.1l3.9 -3.9M177 327.3h5.4M179.7 324.6v5.4M177.8 325.4l3.9 3.9M177.8 329.3l3.9 -3.9M151.2 322h5.4M153.9 319.3v5.4M151.9 320.1l3.9 3.9M151.9 324l3.9 -3.9M153.7 305.6h5.4M156.4 302.9v5.4M154.5 303.7l3.9 3.9M154.5 307.5l3.9 -3.9M152.4 309h5.4M155.1 306.3v5.4M153.1 307.1l3.9 3.9M153.1 310.9l3.9 -3.9M150 319.6h5.4M152.7 316.9v5.4M150.8 317.7l3.9 3.9M150.8 321.6l3.9 -3.9M152.8 321.2h5.4M155.5 318.5v5.4M153.5 319.2l3.9 3.9M153.5 323.1l3.9 -3.9M156.3 325.7h5.4M159 323v5.4M157.1 323.8l3.9 3.9M157.1 327.7l3.9 -3.9M165.8 317.6h5.4M168.5 314.9v5.4M166.5 315.7l3.9 3.9M166.5 319.6l3.9 -3.9M160.2 319.5h5.4M162.9 316.8v5.4M161 317.5l3.9 3.9M161 321.4l3.9 -3.9M161.3 311.2h5.4M164 308.5v5.4M162 309.3l3.9 3.9M162 313.1l3.9 -3.9M168.3 330.6h5.4M171 327.9v5.4M169 328.7l3.9 3.9M169 332.5l3.9 -3.9M158 320.9h5.4M160.7 318.2v5.4M158.7 318.9l3.9 3.9M158.7 322.8l3.9 -3.9M132.7 299.2h5.4M135.4 296.5v5.4M133.5 297.2l3.9 3.9M133.5 301.1l3.9 -3.9M146.9 303.5h5.4M149.6 300.8v5.4M147.6 301.5l3.9 3.9M147.6 305.4l3.9 -3.9M163.3 316.9h5.4M166 314.2v5.4M164.1 315l3.9 3.9M164.1 318.9l3.9 -3.9M156 322.7h5.4M158.7 320v5.4M156.7 320.7l3.9 3.9M156.7 324.6l3.9 -3.9M168 314h5.4M170.7 311.3v5.4M168.8 312l3.9 3.9M168.8 315.9l3.9 -3.9M165.6 327.4h5.4M168.3 324.7v5.4M166.4 325.4l3.9 3.9M166.4 329.3l3.9 -3.9M119.4 289.5h5.4M122.1 286.8v5.4M120.1 287.5l3.9 3.9M120.1 291.4l3.9 -3.9M130.5 296.7h5.4M133.2 294v5.4M131.3 294.7l3.9 3.9M131.3 298.6l3.9 -3.9M176.2 325.9h5.4M178.9 323.2v5.4M177 323.9l3.9 3.9M177 327.8l3.9 -3.9M166.3 331.7h5.4M169 329v5.4M167.1 329.8l3.9 3.9M167.1 333.7l3.9 -3.9M161.1 313.3h5.4M163.8 310.6v5.4M161.8 311.4l3.9 3.9M161.8 315.3l3.9 -3.9M155.3 322.6h5.4M158 319.9v5.4M156.1 320.7l3.9 3.9M156.1 324.6l3.9 -3.9M173.5 328h5.4M176.2 325.3v5.4M174.3 326l3.9 3.9M174.3 329.9l3.9 -3.9M165.9 320.2h5.4M168.6 317.5v5.4M166.7 318.3l3.9 3.9M166.7 322.2l3.9 -3.9M162.3 322.1h5.4M165 319.4v5.4M163 320.1l3.9 3.9M163 324l3.9 -3.9M121.2 294.7h5.4M123.9 292v5.4M121.9 292.8l3.9 3.9M121.9 296.7l3.9 -3.9M154.4 319.9h5.4M157.1 317.2v5.4M155.1 318l3.9 3.9M155.1 321.9l3.9 -3.9M124.9 293.2h5.4M127.6 290.5v5.4M125.7 291.3l3.9 3.9M125.7 295.2l3.9 -3.9M124.4 294.8h5.4M127.1 292.1v5.4M125.2 292.8l3.9 3.9M125.2 296.7l3.9 -3.9M120.5 286.7h5.4M123.2 284v5.4M121.2 284.8l3.9 3.9M121.2 288.7l3.9 -3.9M121.2 291h5.4M123.9 288.3v5.4M121.9 289.1l3.9 3.9M121.9 293l3.9 -3.9M120.2 293.3h5.4M122.9 290.6v5.4M120.9 291.3l3.9 3.9M120.9 295.2l3.9 -3.9M150.3 323h5.4M153 320.3v5.4M151.1 321.1l3.9 3.9M151.1 325l3.9 -3.9M153.6 317.6h5.4M156.3 314.9v5.4M154.3 315.6l3.9 3.9M154.3 319.5l3.9 -3.9M138.8 302.3h5.4M141.5 299.6v5.4M139.5 300.3l3.9 3.9M139.5 304.2l3.9 -3.9M146.4 300.7h5.4M149.1 298v5.4M147.1 298.7l3.9 3.9M147.1 302.6l3.9 -3.9M169.1 327.1h5.4M171.8 324.4v5.4M169.9 325.1l3.9 3.9M169.9 329l3.9 -3.9M131.8 298.9h5.4M134.5 296.2v5.4M132.6 296.9l3.9 3.9M132.6 300.8l3.9 -3.9M153.5 314.8h5.4M156.2 312.1v5.4M154.3 312.9l3.9 3.9M154.3 316.8l3.9 -3.9M156.3 316h5.4M159 313.3v5.4M157 314l3.9 3.9M157 317.9l3.9 -3.9M155.1 326.4h5.4M157.8 323.7v5.4M155.9 324.5l3.9 3.9M155.9 328.4l3.9 -3.9M128.7 296.9h5.4M131.4 294.2v5.4M129.4 294.9l3.9 3.9M129.4 298.8l3.9 -3.9M162 321.2h5.4M164.7 318.5v5.4M162.7 319.3l3.9 3.9M162.7 323.2l3.9 -3.9M148.4 320.3h5.4M151.1 317.6v5.4M149.1 318.4l3.9 3.9M149.1 322.3l3.9 -3.9M157 326.3h5.4M159.7 323.6v5.4M157.7 324.3l3.9 3.9M157.7 328.2l3.9 -3.9M160.9 315.3h5.4M163.6 312.6v5.4M161.7 313.4l3.9 3.9M161.7 317.2l3.9 -3.9M154.5 334.4h5.4M157.2 331.7v5.4M155.3 332.4l3.9 3.9M155.3 336.3l3.9 -3.9M176.5 327.1h5.4M179.2 324.4v5.4M177.2 325.2l3.9 3.9M177.2 329l3.9 -3.9M158.9 311h5.4M161.6 308.3v5.4M159.7 309.1l3.9 3.9M159.7 313l3.9 -3.9M152.6 309.4h5.4M155.3 306.7v5.4M153.3 307.4l3.9 3.9M153.3 311.3l3.9 -3.9M133.1 294.4h5.4M135.8 291.7v5.4M133.8 292.5l3.9 3.9M133.8 296.4l3.9 -3.9M123.5 293.6h5.4M126.2 290.9v5.4M124.2 291.7l3.9 3.9M124.2 295.6l3.9 -3.9M163.5 312.4h5.4M166.2 309.7v5.4M164.3 310.5l3.9 3.9M164.3 314.4l3.9 -3.9M163.6 319.6h5.4M166.3 316.9v5.4M164.4 317.6l3.9 3.9M164.4 321.5l3.9 -3.9M160.1 322.9h5.4M162.8 320.2v5.4M160.9 320.9l3.9 3.9M160.9 324.8l3.9 -3.9M177.2 328.5h5.4M179.9 325.8v5.4M177.9 326.6l3.9 3.9M177.9 330.4l3.9 -3.9M162.1 319.8h5.4M164.8 317.1v5.4M162.8 317.9l3.9 3.9M162.8 321.7l3.9 -3.9M155.9 306.5h5.4M158.6 303.8v5.4M156.7 304.6l3.9 3.9M156.7 308.4l3.9 -3.9M140.1 298.4h5.4M142.8 295.7v5.4M140.9 296.5l3.9 3.9M140.9 300.3l3.9 -3.9M138.8 301.6h5.4M141.5 298.9v5.4M139.6 299.6l3.9 3.9M139.6 303.5l3.9 -3.9M135.1 297.7h5.4M137.8 295v5.4M135.8 295.8l3.9 3.9M135.8 299.6l3.9 -3.9M168.3 319.3h5.4M171 316.6v5.4M169 317.4l3.9 3.9M169 321.3l3.9 -3.9M140.2 302.4h5.4M142.9 299.7v5.4M141 300.5l3.9 3.9M141 304.4l3.9 -3.9M166.1 315.7h5.4M168.8 313v5.4M166.8 313.8l3.9 3.9M166.8 317.7l3.9 -3.9M172.6 329.9h5.4M175.3 327.2v5.4M173.4 327.9l3.9 3.9M173.4 331.8l3.9 -3.9M138.7 301h5.4M141.4 298.3v5.4M139.4 299l3.9 3.9M139.4 302.9l3.9 -3.9M174.8 328.9h5.4M177.5 326.2v5.4M175.6 327l3.9 3.9M175.6 330.9l3.9 -3.9M164.8 320.6h5.4M167.5 317.9v5.4M165.5 318.7l3.9 3.9M165.5 322.6l3.9 -3.9M174.1 331.3h5.4M176.8 328.6v5.4M174.9 329.4l3.9 3.9M174.9 333.3l3.9 -3.9M150.3 302.3h5.4M153 299.6v5.4M151 300.4l3.9 3.9M151 304.3l3.9 -3.9M153.2 306.3h5.4M155.9 303.6v5.4M154 304.4l3.9 3.9M154 308.2l3.9 -3.9M141 302.7h5.4M143.7 300v5.4M141.7 300.7l3.9 3.9M141.7 304.6l3.9 -3.9M157.8 332.4h5.4M160.5 329.7v5.4M158.5 330.4l3.9 3.9M158.5 334.3l3.9 -3.9M159.5 326.1h5.4M162.2 323.4v5.4M160.2 324.1l3.9 3.9M160.2 328l3.9 -3.9M164.3 326.7h5.4M167 324v5.4M165.1 324.8l3.9 3.9M165.1 328.7l3.9 -3.9M157.3 333.3h5.4M160 330.6v5.4M158.1 331.3l3.9 3.9M158.1 335.2l3.9 -3.9M124.2 289h5.4M126.9 286.3v5.4M125 287.1l3.9 3.9M125 291l3.9 -3.9M142.6 299.3h5.4M145.3 296.6v5.4M143.3 297.3l3.9 3.9M143.3 301.2l3.9 -3.9M167.3 323.8h5.4M170 321.1v5.4M168.1 321.9l3.9 3.9M168.1 325.8l3.9 -3.9M154.8 324.8h5.4M157.5 322.1v5.4M155.5 322.9l3.9 3.9M155.5 326.7l3.9 -3.9M165.6 333.9h5.4M168.3 331.2v5.4M166.4 332l3.9 3.9M166.4 335.9l3.9 -3.9M135.3 296.7h5.4M138 294v5.4M136 294.7l3.9 3.9M136 298.6l3.9 -3.9M153.6 328.1h5.4M156.3 325.4v5.4M154.3 326.2l3.9 3.9M154.3 330.1l3.9 -3.9M167.4 333.6h5.4M170.1 330.9v5.4M168.1 331.7l3.9 3.9M168.1 335.6l3.9 -3.9M167.5 315.5h5.4M170.2 312.8v5.4M168.2 313.5l3.9 3.9M168.2 317.4l3.9 -3.9M162.6 334.3h5.4M165.3 331.6v5.4M163.3 332.4l3.9 3.9M163.3 336.2l3.9 -3.9M164.8 332.7h5.4M167.5 330v5.4M165.5 330.8l3.9 3.9M165.5 334.7l3.9 -3.9M158.4 314.5h5.4M161.1 311.8v5.4M159.1 312.5l3.9 3.9M159.1 316.4l3.9 -3.9M143.1 301.3h5.4M145.8 298.6v5.4M143.9 299.4l3.9 3.9M143.9 303.3l3.9 -3.9M173.9 331.5h5.4M176.6 328.8v5.4M174.7 329.6l3.9 3.9M174.7 333.5l3.9 -3.9M167.9 333.9h5.4M170.6 331.2v5.4M168.6 332l3.9 3.9M168.6 335.9l3.9 -3.9M176.8 333h5.4M179.5 330.3v5.4M177.5 331.1l3.9 3.9M177.5 335l3.9 -3.9M175.5 328.2h5.4M178.2 325.5v5.4M176.3 326.3l3.9 3.9M176.3 330.2l3.9 -3.9M135.9 303.1h5.4M138.6 300.4v5.4M136.7 301.2l3.9 3.9M136.7 305.1l3.9 -3.9M154.2 335.4h5.4M156.9 332.7v5.4M154.9 333.4l3.9 3.9M154.9 337.3l3.9 -3.9M159.3 316h5.4M162 313.3v5.4M160 314l3.9 3.9M160 317.9l3.9 -3.9M141.5 302.2h5.4M144.2 299.5v5.4M142.3 300.3l3.9 3.9M142.3 304.2l3.9 -3.9M159.7 330.2h5.4M162.4 327.5v5.4M160.5 328.3l3.9 3.9M160.5 332.2l3.9 -3.9M158.4 326.9h5.4M161.1 324.2v5.4M159.2 325l3.9 3.9M159.2 328.9l3.9 -3.9M162.4 335h5.4M165.1 332.3v5.4M163.2 333.1l3.9 3.9M163.2 336.9l3.9 -3.9M178.2 329.5h5.4M180.9 326.8v5.4M179 327.6l3.9 3.9M179 331.5l3.9 -3.9M154.8 318.4h5.4M157.5 315.7v5.4M155.5 316.5l3.9 3.9M155.5 320.3l3.9 -3.9M161.2 317.7h5.4M163.9 315v5.4M162 315.8l3.9 3.9M162 319.6l3.9 -3.9M154.8 307.1h5.4M157.5 304.4v5.4M155.5 305.1l3.9 3.9M155.5 309l3.9 -3.9M133.2 296.5h5.4M135.9 293.8v5.4M134 294.5l3.9 3.9M134 298.4l3.9 -3.9M171.5 336.3h5.4M174.2 333.6v5.4M172.2 334.4l3.9 3.9M172.2 338.2l3.9 -3.9M158.9 337.7h5.4M161.6 335v5.4M159.7 335.8l3.9 3.9M159.7 339.7l3.9 -3.9M164.7 322h5.4M167.4 319.3v5.4M165.5 320.1l3.9 3.9M165.5 323.9l3.9 -3.9M158.5 325.1h5.4M161.2 322.4v5.4M159.3 323.2l3.9 3.9M159.3 327.1l3.9 -3.9M177.6 329.8h5.4M180.3 327.1v5.4M178.4 327.8l3.9 3.9M178.4 331.7l3.9 -3.9M129.9 298.6h5.4M132.6 295.9v5.4M130.6 296.7l3.9 3.9M130.6 300.6l3.9 -3.9M151.2 323.4h5.4M153.9 320.7v5.4M152 321.4l3.9 3.9M152 325.3l3.9 -3.9M169.5 325.3h5.4M172.2 322.6v5.4M170.3 323.3l3.9 3.9M170.3 327.2l3.9 -3.9M179.6 330.9h5.4M182.3 328.2v5.4M180.4 329l3.9 3.9M180.4 332.9l3.9 -3.9M156 317.2h5.4M158.7 314.5v5.4M156.8 315.2l3.9 3.9M156.8 319.1l3.9 -3.9M171.8 336.4h5.4M174.5 333.7v5.4M172.5 334.4l3.9 3.9M172.5 338.3l3.9 -3.9M165.2 324.5h5.4M167.9 321.8v5.4M166 322.6l3.9 3.9M166 326.5l3.9 -3.9M172.2 331.8h5.4M174.9 329.1v5.4M173 329.9l3.9 3.9M173 333.8l3.9 -3.9M167.5 322h5.4M170.2 319.3v5.4M168.3 320.1l3.9 3.9M168.3 324l3.9 -3.9M167.7 329.3h5.4M170.4 326.6v5.4M168.4 327.3l3.9 3.9M168.4 331.2l3.9 -3.9M155.4 314.2h5.4M158.1 311.5v5.4M156.2 312.3l3.9 3.9M156.2 316.2l3.9 -3.9M144.5 303.6h5.4M147.2 300.9v5.4M145.3 301.6l3.9 3.9M145.3 305.5l3.9 -3.9M115.5 288.8h5.4M118.2 286.1v5.4M116.2 286.9l3.9 3.9M116.2 290.8l3.9 -3.9M174.4 326.7h5.4M177.1 324v5.4M175.2 324.8l3.9 3.9M175.2 328.7l3.9 -3.9M167.2 325.1h5.4M169.9 322.4v5.4M167.9 323.1l3.9 3.9M167.9 327l3.9 -3.9M175.2 329.3h5.4M177.9 326.6v5.4M175.9 327.3l3.9 3.9M175.9 331.2l3.9 -3.9M169 316.8h5.4M171.7 314.1v5.4M169.8 314.8l3.9 3.9M169.8 318.7l3.9 -3.9M161.9 319.2h5.4M164.6 316.5v5.4M162.7 317.2l3.9 3.9M162.7 321.1l3.9 -3.9M121.8 292.4h5.4M124.5 289.7v5.4M122.5 290.5l3.9 3.9M122.5 294.4l3.9 -3.9M153.9 331.5h5.4M156.6 328.8v5.4M154.7 329.6l3.9 3.9M154.7 333.5l3.9 -3.9M167 313.1h5.4M169.7 310.4v5.4M167.8 311.2l3.9 3.9M167.8 315l3.9 -3.9M162 321.1h5.4M164.7 318.4v5.4M162.8 319.2l3.9 3.9M162.8 323.1l3.9 -3.9M142.6 303.7h5.4M145.3 301v5.4M143.3 301.8l3.9 3.9M143.3 305.7l3.9 -3.9M158.5 326.6h5.4M161.2 323.9v5.4M159.2 324.7l3.9 3.9M159.2 328.6l3.9 -3.9M123.7 290.6h5.4M126.4 287.9v5.4M124.4 288.7l3.9 3.9M124.4 292.5l3.9 -3.9M165.3 337h5.4M168 334.3v5.4M166 335l3.9 3.9M166 338.9l3.9 -3.9M138.3 300.8h5.4M141 298.1v5.4M139.1 298.9l3.9 3.9M139.1 302.8l3.9 -3.9M155.4 311.1h5.4M158.1 308.4v5.4M156.2 309.2l3.9 3.9M156.2 313.1l3.9 -3.9M127.3 297.4h5.4M130 294.7v5.4M128.1 295.5l3.9 3.9M128.1 299.3l3.9 -3.9M161.7 315.4h5.4M164.4 312.7v5.4M162.5 313.5l3.9 3.9M162.5 317.3l3.9 -3.9M156.7 318.1h5.4M159.4 315.4v5.4M157.5 316.2l3.9 3.9M157.5 320.1l3.9 -3.9M143.2 301.3h5.4M145.9 298.6v5.4M144 299.4l3.9 3.9M144 303.3l3.9 -3.9M165.9 330.3h5.4M168.6 327.6v5.4M166.7 328.3l3.9 3.9M166.7 332.2l3.9 -3.9M159.4 314.6h5.4M162.1 311.9v5.4M160.2 312.7l3.9 3.9M160.2 316.6l3.9 -3.9M156.1 319.1h5.4M158.8 316.4v5.4M156.8 317.2l3.9 3.9M156.8 321l3.9 -3.9M172.3 331h5.4M175 328.3v5.4M173.1 329l3.9 3.9M173.1 332.9l3.9 -3.9M120.7 292.7h5.4M123.4 290v5.4M121.4 290.8l3.9 3.9M121.4 294.7l3.9 -3.9M120.4 286.5h5.4M123.1 283.8v5.4M121.2 284.6l3.9 3.9M121.2 288.5l3.9 -3.9M166.4 333.7h5.4M169.1 331v5.4M167.1 331.7l3.9 3.9M167.1 335.6l3.9 -3.9M144.1 301.1h5.4M146.8 298.4v5.4M144.9 299.1l3.9 3.9M144.9 303l3.9 -3.9M165.5 333.1h5.4M168.2 330.4v5.4M166.3 331.1l3.9 3.9M166.3 335l3.9 -3.9M139.3 298.9h5.4M142 296.2v5.4M140.1 297l3.9 3.9M140.1 300.9l3.9 -3.9M117.2 287.8h5.4M119.9 285.1v5.4M118 285.9l3.9 3.9M118 289.8l3.9 -3.9M174 329.2h5.4M176.7 326.5v5.4M174.8 327.2l3.9 3.9M174.8 331.1l3.9 -3.9M169.9 330.7h5.4M172.6 328v5.4M170.6 328.8l3.9 3.9M170.6 332.7l3.9 -3.9M164.2 328.2h5.4M166.9 325.5v5.4M165 326.2l3.9 3.9M165 330.1l3.9 -3.9M118.6 286.6h5.4M121.3 283.9v5.4M119.3 284.7l3.9 3.9M119.3 288.6l3.9 -3.9M134.5 296.9h5.4M137.2 294.2v5.4M135.3 295l3.9 3.9M135.3 298.9l3.9 -3.9M175 328.1h5.4M177.7 325.4v5.4M175.8 326.2l3.9 3.9M175.8 330.1l3.9 -3.9M150.6 321.2h5.4M153.3 318.5v5.4M151.3 319.2l3.9 3.9M151.3 323.1l3.9 -3.9M161.8 325.8h5.4M164.5 323.1v5.4M162.6 323.8l3.9 3.9M162.6 327.7l3.9 -3.9M155.1 333.8h5.4M157.8 331.1v5.4M155.9 331.9l3.9 3.9M155.9 335.8l3.9 -3.9M161.4 321.6h5.4M164.1 318.9v5.4M162.1 319.7l3.9 3.9M162.1 323.5l3.9 -3.9M162.1 319h5.4M164.8 316.3v5.4M162.9 317.1l3.9 3.9M162.9 321l3.9 -3.9M124.8 292.4h5.4M127.5 289.7v5.4M125.5 290.4l3.9 3.9M125.5 294.3l3.9 -3.9M155.2 324.6h5.4M157.9 321.9v5.4M156 322.6l3.9 3.9M156 326.5l3.9 -3.9M162.1 313.4h5.4M164.8 310.7v5.4M162.8 311.5l3.9 3.9M162.8 315.3l3.9 -3.9M158.1 316.6h5.4M160.8 313.9v5.4M158.8 314.6l3.9 3.9M158.8 318.5l3.9 -3.9M156.8 330h5.4M159.5 327.3v5.4M157.6 328l3.9 3.9M157.6 331.9l3.9 -3.9M149.5 302.4h5.4M152.2 299.7v5.4M150.2 300.4l3.9 3.9M150.2 304.3l3.9 -3.9M119 294.3h5.4M121.7 291.6v5.4M119.8 292.4l3.9 3.9M119.8 296.3l3.9 -3.9M162.1 325.5h5.4M164.8 322.8v5.4M162.9 323.6l3.9 3.9M162.9 327.4l3.9 -3.9M129.2 298h5.4M131.9 295.3v5.4M130 296.1l3.9 3.9M130 300l3.9 -3.9M139.6 306h5.4M142.3 303.3v5.4M140.3 304.1l3.9 3.9M140.3 308l3.9 -3.9M156.7 313.7h5.4M159.4 311v5.4M157.5 311.7l3.9 3.9M157.5 315.6l3.9 -3.9M160.2 330h5.4M162.9 327.3v5.4M160.9 328.1l3.9 3.9M160.9 332l3.9 -3.9M155.1 329.9h5.4M157.8 327.2v5.4M155.9 327.9l3.9 3.9M155.9 331.8l3.9 -3.9M162.9 323.4h5.4M165.6 320.7v5.4M163.6 321.4l3.9 3.9M163.6 325.3l3.9 -3.9M159 313.6h5.4M161.7 310.9v5.4M159.8 311.6l3.9 3.9M159.8 315.5l3.9 -3.9M154 337h5.4M156.7 334.3v5.4M154.8 335l3.9 3.9M154.8 338.9l3.9 -3.9M156.5 306.3h5.4M159.2 303.6v5.4M157.3 304.4l3.9 3.9M157.3 308.2l3.9 -3.9M178.5 325.2h5.4M181.2 322.5v5.4M179.2 323.3l3.9 3.9M179.2 327.2l3.9 -3.9M138.6 306.4h5.4M141.3 303.7v5.4M139.3 304.5l3.9 3.9M139.3 308.4l3.9 -3.9M161.7 311.5h5.4M164.4 308.8v5.4M162.5 309.5l3.9 3.9M162.5 313.4l3.9 -3.9M130.7 298.8h5.4M133.4 296.1v5.4M131.4 296.8l3.9 3.9M131.4 300.7l3.9 -3.9M151.2 307.1h5.4M153.9 304.4v5.4M152 305.2l3.9 3.9M152 309.1l3.9 -3.9M179.9 328.9h5.4M182.6 326.2v5.4M180.7 327l3.9 3.9M180.7 330.8l3.9 -3.9M176.7 324.7h5.4M179.4 322v5.4M177.4 322.7l3.9 3.9M177.4 326.6l3.9 -3.9M180.1 333.9h5.4M182.8 331.2v5.4M180.8 331.9l3.9 3.9M180.8 335.8l3.9 -3.9M158 306.1h5.4M160.7 303.4v5.4M158.8 304.2l3.9 3.9M158.8 308l3.9 -3.9M179.5 329.6h5.4M182.2 326.9v5.4M180.3 327.7l3.9 3.9M180.3 331.6l3.9 -3.9M150.7 302.9h5.4M153.4 300.2v5.4M151.4 301l3.9 3.9M151.4 304.8l3.9 -3.9M139.7 309.1h5.4M142.4 306.4v5.4M140.5 307.1l3.9 3.9M140.5 311l3.9 -3.9M121.3 286.1h5.4M124 283.4v5.4M122 284.2l3.9 3.9M122 288l3.9 -3.9M144.1 315.5h5.4M146.8 312.8v5.4M144.9 313.5l3.9 3.9M144.9 317.4l3.9 -3.9M123.2 285.7h5.4M125.9 283v5.4M124 283.7l3.9 3.9M124 287.6l3.9 -3.9M148.8 300.4h5.4M151.5 297.7v5.4M149.6 298.5l3.9 3.9M149.6 302.4l3.9 -3.9M117.5 295.6h5.4M120.2 292.9v5.4M118.3 293.7l3.9 3.9M118.3 297.6l3.9 -3.9M125.4 292.6h5.4M128.1 289.9v5.4M126.2 290.7l3.9 3.9M126.2 294.6l3.9 -3.9M179.3 330.8h5.4M182 328.1v5.4M180.1 328.9l3.9 3.9M180.1 332.8l3.9 -3.9M151.6 319.7h5.4M154.3 317v5.4M152.3 317.8l3.9 3.9M152.3 321.6l3.9 -3.9M127.9 298.2h5.4M130.6 295.5v5.4M128.7 296.3l3.9 3.9M128.7 300.2l3.9 -3.9M179.5 332.6h5.4M182.2 329.9v5.4M180.3 330.7l3.9 3.9M180.3 334.6l3.9 -3.9M121.7 296.6h5.4M124.4 293.9v5.4M122.5 294.6l3.9 3.9M122.5 298.5l3.9 -3.9M117.7 293.7h5.4M120.4 291v5.4M118.5 291.7l3.9 3.9M118.5 295.6l3.9 -3.9M152.9 302.4h5.4M155.6 299.7v5.4M153.6 300.5l3.9 3.9M153.6 304.4l3.9 -3.9M117.2 286.5h5.4M119.9 283.8v5.4M118 284.6l3.9 3.9M118 288.5l3.9 -3.9M171.3 337.2h5.4M174 334.5v5.4M172.1 335.2l3.9 3.9M172.1 339.1l3.9 -3.9" fill="none" stroke="#4DBEEE" stroke-width="1.0"/>
</g>
<path d="M35.6 497.4v-2.3M35.6 280.1v2.3M93.5 497.4v-2.3M93.5 280.1v2.3M151.4 497.4v-2.3M151.4 280.1v2.3M209.4 497.4v-2.3M209.4 280.1v2.3M267.3 497.4v-2.3M267.3 280.1v2.3M35.6 497.4h2.3M267.3 497.4h-2.3M35.6 470.2h2.3M267.3 470.2h-2.3M35.6 443.1h2.3M267.3 443.1h-2.3M35.6 415.9h2.3M267.3 415.9h-2.3M35.6 388.8h2.3M267.3 388.8h-2.3M35.6 361.6h2.3M267.3 361.6h-2.3M35.6 334.4h2.3M267.3 334.4h-2.3M35.6 307.3h2.3M267.3 307.3h-2.3M35.6 280.1h2.3M267.3 280.1h-2.3" stroke="#262626" stroke-width="0.9" fill="none"/>
<rect x="35.6" y="280.1" width="231.70000000000002" height="217.29999999999995" fill="none" stroke="#262626" stroke-width="1.1"/>
<text x="35.6" y="511.5" font-size="10.1" text-anchor="middle" fill="#262626">-40</text>
<text x="93.5" y="511.5" font-size="10.1" text-anchor="middle" fill="#262626">-20</text>
<text x="151.4" y="511.5" font-size="10.1" text-anchor="middle" fill="#262626">0</text>
<text x="209.4" y="511.5" font-size="10.1" text-anchor="middle" fill="#262626">20</text>
<text x="262.6" y="511.5" font-size="10.1" text-anchor="start" fill="#262626">4</text>
<text x="31" y="501.5" font-size="10.1" text-anchor="end" fill="#262626">-40</text>
<text x="31" y="474.3" font-size="10.1" text-anchor="end" fill="#262626">-30</text>
<text x="31" y="447.2" font-size="10.1" text-anchor="end" fill="#262626">-20</text>
<text x="31" y="420" font-size="10.1" text-anchor="end" fill="#262626">-10</text>
<text x="31" y="392.9" font-size="10.1" text-anchor="end" fill="#262626">0</text>
<text x="31" y="365.7" font-size="10.1" text-anchor="end" fill="#262626">10</text>
<text x="31" y="338.5" font-size="10.1" text-anchor="end" fill="#262626">20</text>
<text x="31" y="311.4" font-size="10.1" text-anchor="end" fill="#262626">30</text>
<text x="31" y="284.2" font-size="10.1" text-anchor="end" fill="#262626">40</text>
<text x="151.5" y="524.2" font-size="10.25" text-anchor="middle" fill="#262626">Dimension-1</text>
<text transform="translate(12.4 388.8) rotate(-90)" font-size="10.25" text-anchor="middle" fill="#262626">Dimension-2</text>
<text x="151.5" y="277.3" font-size="10.3" font-weight="bold" text-anchor="middle" fill="#000">(c) Raman: raw data</text>
<rect x="41.9" y="286.2" width="59.3" height="73.8" fill="#fff" stroke="#262626" stroke-width="1"/>
<path d="M56.1 293.4a2.95 2.95 0 1 0 5.9 0a2.95 2.95 0 1 0 -5.9 0" fill="none" stroke="#D95319" stroke-width="0.8"/>
<text x="74.4" y="297.4" font-size="10.3" fill="#000">Cls-1</text>
<path d="M59.1 301.2l2.9 4.0 -2.9 4.0 -2.9 -4.0z" fill="none" stroke="#0072BD" stroke-width="0.8"/>
<text x="74.4" y="309.2" font-size="10.3" fill="#000">Cls-2</text>
<path d="M59.1 313.9l3.3 5.8h-6.6z" fill="none" stroke="#EDB120" stroke-width="0.8"/>
<text x="74.4" y="321.1" font-size="10.3" fill="#000">Cls-3</text>
<path d="M56.8 326.7h4.5v4.5h-4.5z" fill="none" stroke="#77AC30" stroke-width="0.8"/>
<text x="74.4" y="332.9" font-size="10.3" fill="#000">Cls-4</text>
<path d="M56 340.8h6.2M59.1 337.7v6.2" fill="none" stroke="#7E2F8E" stroke-width="0.8"/>
<text x="74.4" y="344.8" font-size="10.3" fill="#000">Cls-5</text>
<circle cx="59.1" cy="352.6" r="2.4" fill="#4DBEEE"/>
<text x="74.4" y="356.6" font-size="10.3" fill="#000">Cls-6</text>
<rect x="307.6" y="279.9" width="232.79999999999995" height="217.70000000000005" fill="#fff"/>
<clipPath id="cd"><rect x="306.6" y="278.9" width="234.8" height="219.7"/></clipPath>
<g clip-path="url(#cd)">
<path d="M351.9 377.5 350.9 379.6 350.8 379.8 347.9 384.2 347.7 384.4 347.6 384.5 337.7 394.4 335 402.6 334.9 402.7 332.3 409.5 333.5 416 336.4 424.7 336.4 424.9 336.5 425 336.5 425.2 336.5 425.4 336.5 425.6 335.1 433.8 337.6 441.2 342.3 443.1 344.1 439.5 342.8 431.5 341.4 424.2 341.3 424 341.3 423.8 341.3 423.6 341.4 423.4 341.4 423.2 341.5 423 341.6 422.9 341.7 422.7 341.8 422.5 341.9 422.4 344.8 419.5 344.9 419.4 345.1 419.3 345.3 419.2 345.4 419.1 345.6 419 345.8 419 346 418.9 346.2 418.9 346.3 418.9 346.5 418.9 354.2 420.3 357.1 417.4 355.9 411.1 355.8 410.9 355.8 410.7 355.8 410.5 355.9 410.3 355.9 410.2 356 410 356 409.8 358.9 404.1 361.6 397.3 360.2 384.7 360.2 384.5 360.2 378.5 356.2 376.5 351.9 377.5Z" fill="#D95319" fill-opacity="0.45" fill-rule="evenodd"/>
<path d="M365.1 404.2a2.95 2.95 0 1 0 5.9 0a2.95 2.95 0 1 0 -5.9 0M375.2 404.9a2.95 2.95 0 1 0 5.9 0a2.95 2.95 0 1 0 -5.9 0M378.2 410.7a2.95 2.95 0 1 0 5.9 0a2.95 2.95 0 1 0 -5.9 0M359.2 425.3a2.95 2.95 0 1 0 5.9 0a2.95 2.95 0 1 0 -5.9 0M347.6 432.5a2.95 2.95 0 1 0 5.9 0a2.95 2.95 0 1 0 -5.9 0M338.9 442.7a2.95 2.95 0 1 0 5.9 0a2.95 2.95 0 1 0 -5.9 0M366.1 455a2.95 2.95 0 1 0 5.9 0a2.95 2.95 0 1 0 -5.9 0M370.1 455a2.95 2.95 0 1 0 5.9 0a2.95 2.95 0 1 0 -5.9 0M398.1 454a2.95 2.95 0 1 0 5.9 0a2.95 2.95 0 1 0 -5.9 0M410.1 455a2.95 2.95 0 1 0 5.9 0a2.95 2.95 0 1 0 -5.9 0M361.6 425a2.95 2.95 0 1 0 5.9 0a2.95 2.95 0 1 0 -5.9 0M423.2 385.7a2.95 2.95 0 1 0 5.9 0a2.95 2.95 0 1 0 -5.9 0M407.6 402.7a2.95 2.95 0 1 0 5.9 0a2.95 2.95 0 1 0 -5.9 0M478.7 354a2.95 2.95 0 1 0 5.9 0a2.95 2.95 0 1 0 -5.9 0M335.1 427.6a2.95 2.95 0 1 0 5.9 0a2.95 2.95 0 1 0 -5.9 0M344.1 403.5a2.95 2.95 0 1 0 5.9 0a2.95 2.95 0 1 0 -5.9 0M340 440a2.95 2.95 0 1 0 5.9 0a2.95 2.95 0 1 0 -5.9 0M348.1 416.4a2.95 2.95 0 1 0 5.9 0a2.95 2.95 0 1 0 -5.9 0M335.7 432.1a2.95 2.95 0 1 0 5.9 0a2.95 2.95 0 1 0 -5.9 0M352.1 392.2a2.95 2.95 0 1 0 5.9 0a2.95 2.95 0 1 0 -5.9 0M348.3 387.9a2.95 2.95 0 1 0 5.9 0a2.95 2.95 0 1 0 -5.9 0M332.2 406.3a2.95 2.95 0 1 0 5.9 0a2.95 2.95 0 1 0 -5.9 0M352 401.1a2.95 2.95 0 1 0 5.9 0a2.95 2.95 0 1 0 -5.9 0M330.6 412.1a2.95 2.95 0 1 0 5.9 0a2.95 2.95 0 1 0 -5.9 0M352.6 382.2a2.95 2.95 0 1 0 5.9 0a2.95 2.95 0 1 0 -5.9 0M334.1 404.6a2.95 2.95 0 1 0 5.9 0a2.95 2.95 0 1 0 -5.9 0M347.5 389.4a2.95 2.95 0 1 0 5.9 0a2.95 2.95 0 1 0 -5.9 0M341.4 404.2a2.95 2.95 0 1 0 5.9 0a2.95 2.95 0 1 0 -5.9 0M345 401.7a2.95 2.95 0 1 0 5.9 0a2.95 2.95 0 1 0 -5.9 0M337.1 433.9a2.95 2.95 0 1 0 5.9 0a2.95 2.95 0 1 0 -5.9 0M355.2 392.4a2.95 2.95 0 1 0 5.9 0a2.95 2.95 0 1 0 -5.9 0M351.6 396a2.95 2.95 0 1 0 5.9 0a2.95 2.95 0 1 0 -5.9 0M336.3 396.2a2.95 2.95 0 1 0 5.9 0a2.95 2.95 0 1 0 -5.9 0M352.4 416a2.95 2.95 0 1 0 5.9 0a2.95 2.95 0 1 0 -5.9 0M338.8 416.8a2.95 2.95 0 1 0 5.9 0a2.95 2.95 0 1 0 -5.9 0M352.3 410.3a2.95 2.95 0 1 0 5.9 0a2.95 2.95 0 1 0 -5.9 0M339.2 405a2.95 2.95 0 1 0 5.9 0a2.95 2.95 0 1 0 -5.9 0M353.2 381.9a2.95 2.95 0 1 0 5.9 0a2.95 2.95 0 1 0 -5.9 0M337.9 438.5a2.95 2.95 0 1 0 5.9 0a2.95 2.95 0 1 0 -5.9 0M344.5 408.2a2.95 2.95 0 1 0 5.9 0a2.95 2.95 0 1 0 -5.9 0M331.4 416a2.95 2.95 0 1 0 5.9 0a2.95 2.95 0 1 0 -5.9 0M342.9 411a2.95 2.95 0 1 0 5.9 0a2.95 2.95 0 1 0 -5.9 0M356.2 396.1a2.95 2.95 0 1 0 5.9 0a2.95 2.95 0 1 0 -5.9 0M354.9 393.4a2.95 2.95 0 1 0 5.9 0a2.95 2.95 0 1 0 -5.9 0M342.8 416.9a2.95 2.95 0 1 0 5.9 0a2.95 2.95 0 1 0 -5.9 0M337.1 440.9a2.95 2.95 0 1 0 5.9 0a2.95 2.95 0 1 0 -5.9 0M346.9 417.3a2.95 2.95 0 1 0 5.9 0a2.95 2.95 0 1 0 -5.9 0M340 414.5a2.95 2.95 0 1 0 5.9 0a2.95 2.95 0 1 0 -5.9 0M352.2 386.6a2.95 2.95 0 1 0 5.9 0a2.95 2.95 0 1 0 -5.9 0M338.2 421.5a2.95 2.95 0 1 0 5.9 0a2.95 2.95 0 1 0 -5.9 0M336.7 395.3a2.95 2.95 0 1 0 5.9 0a2.95 2.95 0 1 0 -5.9 0M333.6 409.4a2.95 2.95 0 1 0 5.9 0a2.95 2.95 0 1 0 -5.9 0M335.3 398.7a2.95 2.95 0 1 0 5.9 0a2.95 2.95 0 1 0 -5.9 0M352.3 377.6a2.95 2.95 0 1 0 5.9 0a2.95 2.95 0 1 0 -5.9 0M338.7 414.2a2.95 2.95 0 1 0 5.9 0a2.95 2.95 0 1 0 -5.9 0M333.7 434a2.95 2.95 0 1 0 5.9 0a2.95 2.95 0 1 0 -5.9 0M353.7 391.4a2.95 2.95 0 1 0 5.9 0a2.95 2.95 0 1 0 -5.9 0M352.6 400.9a2.95 2.95 0 1 0 5.9 0a2.95 2.95 0 1 0 -5.9 0M348.6 397.5a2.95 2.95 0 1 0 5.9 0a2.95 2.95 0 1 0 -5.9 0M340.5 413.1a2.95 2.95 0 1 0 5.9 0a2.95 2.95 0 1 0 -5.9 0M330.9 408a2.95 2.95 0 1 0 5.9 0a2.95 2.95 0 1 0 -5.9 0M349.5 378.8a2.95 2.95 0 1 0 5.9 0a2.95 2.95 0 1 0 -5.9 0M337.8 430.8a2.95 2.95 0 1 0 5.9 0a2.95 2.95 0 1 0 -5.9 0M339.3 413.1a2.95 2.95 0 1 0 5.9 0a2.95 2.95 0 1 0 -5.9 0M337.9 417.7a2.95 2.95 0 1 0 5.9 0a2.95 2.95 0 1 0 -5.9 0M343.9 403a2.95 2.95 0 1 0 5.9 0a2.95 2.95 0 1 0 -5.9 0M348.7 387.9a2.95 2.95 0 1 0 5.9 0a2.95 2.95 0 1 0 -5.9 0M350 398a2.95 2.95 0 1 0 5.9 0a2.95 2.95 0 1 0 -5.9 0M355.5 385.7a2.95 2.95 0 1 0 5.9 0a2.95 2.95 0 1 0 -5.9 0M338.1 427.7a2.95 2.95 0 1 0 5.9 0a2.95 2.95 0 1 0 -5.9 0M348.2 402.3a2.95 2.95 0 1 0 5.9 0a2.95 2.95 0 1 0 -5.9 0M337 425.2a2.95 2.95 0 1 0 5.9 0a2.95 2.95 0 1 0 -5.9 0M334.2 417.5a2.95 2.95 0 1 0 5.9 0a2.95 2.95 0 1 0 -5.9 0M340.4 412a2.95 2.95 0 1 0 5.9 0a2.95 2.95 0 1 0 -5.9 0M342.5 398.8a2.95 2.95 0 1 0 5.9 0a2.95 2.95 0 1 0 -5.9 0M350.1 410a2.95 2.95 0 1 0 5.9 0a2.95 2.95 0 1 0 -5.9 0M351.9 399.7a2.95 2.95 0 1 0 5.9 0a2.95 2.95 0 1 0 -5.9 0M343.8 410.5a2.95 2.95 0 1 0 5.9 0a2.95 2.95 0 1 0 -5.9 0M346.2 397.2a2.95 2.95 0 1 0 5.9 0a2.95 2.95 0 1 0 -5.9 0M354 396.8a2.95 2.95 0 1 0 5.9 0a2.95 2.95 0 1 0 -5.9 0M339.3 430.6a2.95 2.95 0 1 0 5.9 0a2.95 2.95 0 1 0 -5.9 0M340.5 403.7a2.95 2.95 0 1 0 5.9 0a2.95 2.95 0 1 0 -5.9 0M350.9 413.4a2.95 2.95 0 1 0 5.9 0a2.95 2.95 0 1 0 -5.9 0M337.8 438.7a2.95 2.95 0 1 0 5.9 0a2.95 2.95 0 1 0 -5.9 0M342.6 402.6a2.95 2.95 0 1 0 5.9 0a2.95 2.95 0 1 0 -5.9 0M354.5 383.2a2.95 2.95 0 1 0 5.9 0a2.95 2.95 0 1 0 -5.9 0M337.7 409.9a2.95 2.95 0 1 0 5.9 0a2.95 2.95 0 1 0 -5.9 0M338.3 438.9a2.95 2.95 0 1 0 5.9 0a2.95 2.95 0 1 0 -5.9 0M357.6 390.7a2.95 2.95 0 1 0 5.9 0a2.95 2.95 0 1 0 -5.9 0M352.4 378.1a2.95 2.95 0 1 0 5.9 0a2.95 2.95 0 1 0 -5.9 0M353.5 378.1a2.95 2.95 0 1 0 5.9 0a2.95 2.95 0 1 0 -5.9 0M340.1 417.5a2.95 2.95 0 1 0 5.9 0a2.95 2.95 0 1 0 -5.9 0M331.4 407.3a2.95 2.95 0 1 0 5.9 0a2.95 2.95 0 1 0 -5.9 0M349 413.3a2.95 2.95 0 1 0 5.9 0a2.95 2.95 0 1 0 -5.9 0M344.9 416.7a2.95 2.95 0 1 0 5.9 0a2.95 2.95 0 1 0 -5.9 0M339.3 442.2a2.95 2.95 0 1 0 5.9 0a2.95 2.95 0 1 0 -5.9 0M353.1 379.7a2.95 2.95 0 1 0 5.9 0a2.95 2.95 0 1 0 -5.9 0M354.7 388.2a2.95 2.95 0 1 0 5.9 0a2.95 2.95 0 1 0 -5.9 0M346.6 412.3a2.95 2.95 0 1 0 5.9 0a2.95 2.95 0 1 0 -5.9 0M353.1 383.6a2.95 2.95 0 1 0 5.9 0a2.95 2.95 0 1 0 -5.9 0M349.2 387.8a2.95 2.95 0 1 0 5.9 0a2.95 2.95 0 1 0 -5.9 0M344.8 411.9a2.95 2.95 0 1 0 5.9 0a2.95 2.95 0 1 0 -5.9 0M348.8 414.3a2.95 2.95 0 1 0 5.9 0a2.95 2.95 0 1 0 -5.9 0M357.6 391.3a2.95 2.95 0 1 0 5.9 0a2.95 2.95 0 1 0 -5.9 0M340.4 410.8a2.95 2.95 0 1 0 5.9 0a2.95 2.95 0 1 0 -5.9 0M343.4 415.7a2.95 2.95 0 1 0 5.9 0a2.95 2.95 0 1 0 -5.9 0M333 421.5a2.95 2.95 0 1 0 5.9 0a2.95 2.95 0 1 0 -5.9 0M334.7 414.8a2.95 2.95 0 1 0 5.9 0a2.95 2.95 0 1 0 -5.9 0M335.9 411.1a2.95 2.95 0 1 0 5.9 0a2.95 2.95 0 1 0 -5.9 0M343.4 400.5a2.95 2.95 0 1 0 5.9 0a2.95 2.95 0 1 0 -5.9 0M347.4 384.2a2.95 2.95 0 1 0 5.9 0a2.95 2.95 0 1 0 -5.9 0M349.1 394.8a2.95 2.95 0 1 0 5.9 0a2.95 2.95 0 1 0 -5.9 0M341.2 403.7a2.95 2.95 0 1 0 5.9 0a2.95 2.95 0 1 0 -5.9 0M334.1 408.3a2.95 2.95 0 1 0 5.9 0a2.95 2.95 0 1 0 -5.9 0M339.4 390.1a2.95 2.95 0 1 0 5.9 0a2.95 2.95 0 1 0 -5.9 0M335.7 417.5a2.95 2.95 0 1 0 5.9 0a2.95 2.95 0 1 0 -5.9 0M350.3 409.5a2.95 2.95 0 1 0 5.9 0a2.95 2.95 0 1 0 -5.9 0M343.6 402a2.95 2.95 0 1 0 5.9 0a2.95 2.95 0 1 0 -5.9 0M339.7 414.6a2.95 2.95 0 1 0 5.9 0a2.95 2.95 0 1 0 -5.9 0M338 420.2a2.95 2.95 0 1 0 5.9 0a2.95 2.95 0 1 0 -5.9 0M338.6 431.5a2.95 2.95 0 1 0 5.9 0a2.95 2.95 0 1 0 -5.9 0M348.7 381.4a2.95 2.95 0 1 0 5.9 0a2.95 2.95 0 1 0 -5.9 0M338 433.5a2.95 2.95 0 1 0 5.9 0a2.95 2.95 0 1 0 -5.9 0M334 402.1a2.95 2.95 0 1 0 5.9 0a2.95 2.95 0 1 0 -5.9 0M332.4 403.1a2.95 2.95 0 1 0 5.9 0a2.95 2.95 0 1 0 -5.9 0M353 388.4a2.95 2.95 0 1 0 5.9 0a2.95 2.95 0 1 0 -5.9 0M330.3 407.9a2.95 2.95 0 1 0 5.9 0a2.95 2.95 0 1 0 -5.9 0M351.4 394.8a2.95 2.95 0 1 0 5.9 0a2.95 2.95 0 1 0 -5.9 0M350.4 406.8a2.95 2.95 0 1 0 5.9 0a2.95 2.95 0 1 0 -5.9 0M338.9 438a2.95 2.95 0 1 0 5.9 0a2.95 2.95 0 1 0 -5.9 0M347 404a2.95 2.95 0 1 0 5.9 0a2.95 2.95 0 1 0 -5.9 0M350.7 384.2a2.95 2.95 0 1 0 5.9 0a2.95 2.95 0 1 0 -5.9 0M336.7 415.3a2.95 2.95 0 1 0 5.9 0a2.95 2.95 0 1 0 -5.9 0M351.2 391.3a2.95 2.95 0 1 0 5.9 0a2.95 2.95 0 1 0 -5.9 0M351.3 405.4a2.95 2.95 0 1 0 5.9 0a2.95 2.95 0 1 0 -5.9 0M338.3 438.8a2.95 2.95 0 1 0 5.9 0a2.95 2.95 0 1 0 -5.9 0M351.2 397.4a2.95 2.95 0 1 0 5.9 0a2.95 2.95 0 1 0 -5.9 0M350.5 393.9a2.95 2.95 0 1 0 5.9 0a2.95 2.95 0 1 0 -5.9 0M349.4 384.9a2.95 2.95 0 1 0 5.9 0a2.95 2.95 0 1 0 -5.9 0M330.4 407.6a2.95 2.95 0 1 0 5.9 0a2.95 2.95 0 1 0 -5.9 0M350.9 378.8a2.95 2.95 0 1 0 5.9 0a2.95 2.95 0 1 0 -5.9 0M351.6 419.6a2.95 2.95 0 1 0 5.9 0a2.95 2.95 0 1 0 -5.9 0M341.4 407.8a2.95 2.95 0 1 0 5.9 0a2.95 2.95 0 1 0 -5.9 0M333.7 431.4a2.95 2.95 0 1 0 5.9 0a2.95 2.95 0 1 0 -5.9 0M346.4 387.4a2.95 2.95 0 1 0 5.9 0a2.95 2.95 0 1 0 -5.9 0M340.6 407a2.95 2.95 0 1 0 5.9 0a2.95 2.95 0 1 0 -5.9 0M350.5 396.6a2.95 2.95 0 1 0 5.9 0a2.95 2.95 0 1 0 -5.9 0M336.3 432.9a2.95 2.95 0 1 0 5.9 0a2.95 2.95 0 1 0 -5.9 0M354.9 379.6a2.95 2.95 0 1 0 5.9 0a2.95 2.95 0 1 0 -5.9 0M351 392.5a2.95 2.95 0 1 0 5.9 0a2.95 2.95 0 1 0 -5.9 0M337 432a2.95 2.95 0 1 0 5.9 0a2.95 2.95 0 1 0 -5.9 0M336.5 408.7a2.95 2.95 0 1 0 5.9 0a2.95 2.95 0 1 0 -5.9 0M334.2 417a2.95 2.95 0 1 0 5.9 0a2.95 2.95 0 1 0 -5.9 0M333.6 419.8a2.95 2.95 0 1 0 5.9 0a2.95 2.95 0 1 0 -5.9 0M340.1 436a2.95 2.95 0 1 0 5.9 0a2.95 2.95 0 1 0 -5.9 0M351.3 419.9a2.95 2.95 0 1 0 5.9 0a2.95 2.95 0 1 0 -5.9 0M333 416.3a2.95 2.95 0 1 0 5.9 0a2.95 2.95 0 1 0 -5.9 0M342.5 395.2a2.95 2.95 0 1 0 5.9 0a2.95 2.95 0 1 0 -5.9 0M344.8 395a2.95 2.95 0 1 0 5.9 0a2.95 2.95 0 1 0 -5.9 0M344.8 407.7a2.95 2.95 0 1 0 5.9 0a2.95 2.95 0 1 0 -5.9 0M343.1 403.7a2.95 2.95 0 1 0 5.9 0a2.95 2.95 0 1 0 -5.9 0M348.8 419.2a2.95 2.95 0 1 0 5.9 0a2.95 2.95 0 1 0 -5.9 0M339 431.7a2.95 2.95 0 1 0 5.9 0a2.95 2.95 0 1 0 -5.9 0M337.5 408.7a2.95 2.95 0 1 0 5.9 0a2.95 2.95 0 1 0 -5.9 0M334.8 401a2.95 2.95 0 1 0 5.9 0a2.95 2.95 0 1 0 -5.9 0M341.7 413.8a2.95 2.95 0 1 0 5.9 0a2.95 2.95 0 1 0 -5.9 0M353.9 381.5a2.95 2.95 0 1 0 5.9 0a2.95 2.95 0 1 0 -5.9 0M350.2 406.5a2.95 2.95 0 1 0 5.9 0a2.95 2.95 0 1 0 -5.9 0M341.9 402.3a2.95 2.95 0 1 0 5.9 0a2.95 2.95 0 1 0 -5.9 0M335.2 424.9a2.95 2.95 0 1 0 5.9 0a2.95 2.95 0 1 0 -5.9 0M348.8 410.9a2.95 2.95 0 1 0 5.9 0a2.95 2.95 0 1 0 -5.9 0M333.4 405.4a2.95 2.95 0 1 0 5.9 0a2.95 2.95 0 1 0 -5.9 0M334.6 440.4a2.95 2.95 0 1 0 5.9 0a2.95 2.95 0 1 0 -5.9 0M350.6 412.3a2.95 2.95 0 1 0 5.9 0a2.95 2.95 0 1 0 -5.9 0M343.6 389.7a2.95 2.95 0 1 0 5.9 0a2.95 2.95 0 1 0 -5.9 0M333.4 410a2.95 2.95 0 1 0 5.9 0a2.95 2.95 0 1 0 -5.9 0M334.6 440.2a2.95 2.95 0 1 0 5.9 0a2.95 2.95 0 1 0 -5.9 0M350.7 406.9a2.95 2.95 0 1 0 5.9 0a2.95 2.95 0 1 0 -5.9 0M350.3 393.5a2.95 2.95 0 1 0 5.9 0a2.95 2.95 0 1 0 -5.9 0M337.2 431.4a2.95 2.95 0 1 0 5.9 0a2.95 2.95 0 1 0 -5.9 0M351.8 388.8a2.95 2.95 0 1 0 5.9 0a2.95 2.95 0 1 0 -5.9 0M356.1 401.9a2.95 2.95 0 1 0 5.9 0a2.95 2.95 0 1 0 -5.9 0M342.1 394a2.95 2.95 0 1 0 5.9 0a2.95 2.95 0 1 0 -5.9 0M347.4 415.8a2.95 2.95 0 1 0 5.9 0a2.95 2.95 0 1 0 -5.9 0M355.8 403.3a2.95 2.95 0 1 0 5.9 0a2.95 2.95 0 1 0 -5.9 0M333.8 417.6a2.95 2.95 0 1 0 5.9 0a2.95 2.95 0 1 0 -5.9 0M336 405.6a2.95 2.95 0 1 0 5.9 0a2.95 2.95 0 1 0 -5.9 0M335.1 405.8a2.95 2.95 0 1 0 5.9 0a2.95 2.95 0 1 0 -5.9 0M340.2 391.3a2.95 2.95 0 1 0 5.9 0a2.95 2.95 0 1 0 -5.9 0M339.2 416.4a2.95 2.95 0 1 0 5.9 0a2.95 2.95 0 1 0 -5.9 0M357 392.7a2.95 2.95 0 1 0 5.9 0a2.95 2.95 0 1 0 -5.9 0M344.3 396.2a2.95 2.95 0 1 0 5.9 0a2.95 2.95 0 1 0 -5.9 0M353.1 383.1a2.95 2.95 0 1 0 5.9 0a2.95 2.95 0 1 0 -5.9 0M349.6 401.3a2.95 2.95 0 1 0 5.9 0a2.95 2.95 0 1 0 -5.9 0M348.9 391.8a2.95 2.95 0 1 0 5.9 0a2.95 2.95 0 1 0 -5.9 0M339.2 415.1a2.95 2.95 0 1 0 5.9 0a2.95 2.95 0 1 0 -5.9 0M353.4 393.2a2.95 2.95 0 1 0 5.9 0a2.95 2.95 0 1 0 -5.9 0M342.4 412a2.95 2.95 0 1 0 5.9 0a2.95 2.95 0 1 0 -5.9 0M355.4 403.2a2.95 2.95 0 1 0 5.9 0a2.95 2.95 0 1 0 -5.9 0M335 424.4a2.95 2.95 0 1 0 5.9 0a2.95 2.95 0 1 0 -5.9 0M342.8 395.1a2.95 2.95 0 1 0 5.9 0a2.95 2.95 0 1 0 -5.9 0M336.5 420.7a2.95 2.95 0 1 0 5.9 0a2.95 2.95 0 1 0 -5.9 0M333.4 437.4a2.95 2.95 0 1 0 5.9 0a2.95 2.95 0 1 0 -5.9 0M333 430.8a2.95 2.95 0 1 0 5.9 0a2.95 2.95 0 1 0 -5.9 0M341.4 438.2a2.95 2.95 0 1 0 5.9 0a2.95 2.95 0 1 0 -5.9 0M341 421.3a2.95 2.95 0 1 0 5.9 0a2.95 2.95 0 1 0 -5.9 0M353.2 406.2a2.95 2.95 0 1 0 5.9 0a2.95 2.95 0 1 0 -5.9 0M341 442.6a2.95 2.95 0 1 0 5.9 0a2.95 2.95 0 1 0 -5.9 0M346 385.5a2.95 2.95 0 1 0 5.9 0a2.95 2.95 0 1 0 -5.9 0M355 404.3a2.95 2.95 0 1 0 5.9 0a2.95 2.95 0 1 0 -5.9 0M336.9 441.6a2.95 2.95 0 1 0 5.9 0a2.95 2.95 0 1 0 -5.9 0M356.8 397.4a2.95 2.95 0 1 0 5.9 0a2.95 2.95 0 1 0 -5.9 0M338.1 442.9a2.95 2.95 0 1 0 5.9 0a2.95 2.95 0 1 0 -5.9 0M330.3 405a2.95 2.95 0 1 0 5.9 0a2.95 2.95 0 1 0 -5.9 0M354.9 402.7a2.95 2.95 0 1 0 5.9 0a2.95 2.95 0 1 0 -5.9 0M337.6 422.4a2.95 2.95 0 1 0 5.9 0a2.95 2.95 0 1 0 -5.9 0M332.3 405.6a2.95 2.95 0 1 0 5.9 0a2.95 2.95 0 1 0 -5.9 0M359.1 397.9a2.95 2.95 0 1 0 5.9 0a2.95 2.95 0 1 0 -5.9 0M358.3 379.6a2.95 2.95 0 1 0 5.9 0a2.95 2.95 0 1 0 -5.9 0M328.9 411.7a2.95 2.95 0 1 0 5.9 0a2.95 2.95 0 1 0 -5.9 0M341.8 441.3a2.95 2.95 0 1 0 5.9 0a2.95 2.95 0 1 0 -5.9 0M344.1 384a2.95 2.95 0 1 0 5.9 0a2.95 2.95 0 1 0 -5.9 0M333.2 440.4a2.95 2.95 0 1 0 5.9 0a2.95 2.95 0 1 0 -5.9 0M331.8 407.3a2.95 2.95 0 1 0 5.9 0a2.95 2.95 0 1 0 -5.9 0M331.6 413.8a2.95 2.95 0 1 0 5.9 0a2.95 2.95 0 1 0 -5.9 0M342.6 420.4a2.95 2.95 0 1 0 5.9 0a2.95 2.95 0 1 0 -5.9 0M351.7 413a2.95 2.95 0 1 0 5.9 0a2.95 2.95 0 1 0 -5.9 0M332.2 419.3a2.95 2.95 0 1 0 5.9 0a2.95 2.95 0 1 0 -5.9 0M357 387.6a2.95 2.95 0 1 0 5.9 0a2.95 2.95 0 1 0 -5.9 0M333.9 426.4a2.95 2.95 0 1 0 5.9 0a2.95 2.95 0 1 0 -5.9 0" fill="none" stroke="#D95319" stroke-width="1.0"/>
<path d="M416.7 397.9 417.3 405.2 418.7 413.2 418.8 413.5 418.8 413.7 418.7 414 417.4 421.5 420.4 427.3 423.1 430.1 426.8 428.3 430.5 423.4 433.1 418.1 433.2 418 433.3 417.8 437.4 412.3 437.5 412.2 437.6 412 437.8 411.9 438 411.8 438.1 411.7 443.2 409.1 448.5 404 448.7 403.8 453.5 400.2 454.6 394.4 453.4 385.6 450.8 379.2 448.5 375.8 444.9 374 440.8 378.3 435.9 387.5 435.8 387.7 435.7 387.9 435.5 388 435.4 388.2 435.2 388.3 435 388.4 434.8 388.5 426.3 392 426 392.1 419.9 393.7 416.7 397.9Z" fill="#0072BD" fill-opacity="0.8" fill-rule="evenodd"/>
<path d="M444.9 373.9l2.9 4.0 -2.9 4.0 -2.9 -4.0zM427.6 397.1l2.9 4.0 -2.9 4.0 -2.9 -4.0zM418.2 396.6l2.9 4.0 -2.9 4.0 -2.9 -4.0zM447 401l2.9 4.0 -2.9 4.0 -2.9 -4.0zM424.9 417.4l2.9 4.0 -2.9 4.0 -2.9 -4.0zM444.4 396.5l2.9 4.0 -2.9 4.0 -2.9 -4.0zM426.5 414.4l2.9 4.0 -2.9 4.0 -2.9 -4.0zM427.2 398.9l2.9 4.0 -2.9 4.0 -2.9 -4.0zM437.1 406.5l2.9 4.0 -2.9 4.0 -2.9 -4.0zM447.5 390.6l2.9 4.0 -2.9 4.0 -2.9 -4.0zM428.4 415.1l2.9 4.0 -2.9 4.0 -2.9 -4.0zM427.9 414.1l2.9 4.0 -2.9 4.0 -2.9 -4.0zM441.6 384.4l2.9 4.0 -2.9 4.0 -2.9 -4.0zM447.8 396l2.9 4.0 -2.9 4.0 -2.9 -4.0zM444.8 381.8l2.9 4.0 -2.9 4.0 -2.9 -4.0zM444.2 394.7l2.9 4.0 -2.9 4.0 -2.9 -4.0zM448.4 388.1l2.9 4.0 -2.9 4.0 -2.9 -4.0zM421.2 407.8l2.9 4.0 -2.9 4.0 -2.9 -4.0zM424.2 391.4l2.9 4.0 -2.9 4.0 -2.9 -4.0zM429.3 387.9l2.9 4.0 -2.9 4.0 -2.9 -4.0zM449.8 382.9l2.9 4.0 -2.9 4.0 -2.9 -4.0zM420.5 397.7l2.9 4.0 -2.9 4.0 -2.9 -4.0zM429 397.6l2.9 4.0 -2.9 4.0 -2.9 -4.0zM428.6 402.5l2.9 4.0 -2.9 4.0 -2.9 -4.0zM431.6 406.7l2.9 4.0 -2.9 4.0 -2.9 -4.0zM442.9 393.2l2.9 4.0 -2.9 4.0 -2.9 -4.0zM446.1 383l2.9 4.0 -2.9 4.0 -2.9 -4.0zM439.4 397.2l2.9 4.0 -2.9 4.0 -2.9 -4.0zM425.3 418.7l2.9 4.0 -2.9 4.0 -2.9 -4.0zM449.1 375.6l2.9 4.0 -2.9 4.0 -2.9 -4.0zM448.3 387.8l2.9 4.0 -2.9 4.0 -2.9 -4.0zM423.3 419.1l2.9 4.0 -2.9 4.0 -2.9 -4.0zM451.6 378.8l2.9 4.0 -2.9 4.0 -2.9 -4.0zM420.9 393.1l2.9 4.0 -2.9 4.0 -2.9 -4.0zM446.6 394.2l2.9 4.0 -2.9 4.0 -2.9 -4.0zM436.2 389l2.9 4.0 -2.9 4.0 -2.9 -4.0zM444.7 390l2.9 4.0 -2.9 4.0 -2.9 -4.0zM449.7 386.7l2.9 4.0 -2.9 4.0 -2.9 -4.0zM437.5 404.3l2.9 4.0 -2.9 4.0 -2.9 -4.0zM442.7 405l2.9 4.0 -2.9 4.0 -2.9 -4.0zM436.7 404.7l2.9 4.0 -2.9 4.0 -2.9 -4.0zM424.4 420.5l2.9 4.0 -2.9 4.0 -2.9 -4.0zM428.7 388.2l2.9 4.0 -2.9 4.0 -2.9 -4.0zM429.9 391.6l2.9 4.0 -2.9 4.0 -2.9 -4.0zM447.4 398.7l2.9 4.0 -2.9 4.0 -2.9 -4.0zM433.5 407.2l2.9 4.0 -2.9 4.0 -2.9 -4.0zM438.7 401.3l2.9 4.0 -2.9 4.0 -2.9 -4.0zM445.1 385.4l2.9 4.0 -2.9 4.0 -2.9 -4.0zM449.4 376.7l2.9 4.0 -2.9 4.0 -2.9 -4.0zM421 423.4l2.9 4.0 -2.9 4.0 -2.9 -4.0zM452.8 381.4l2.9 4.0 -2.9 4.0 -2.9 -4.0zM443.8 380.8l2.9 4.0 -2.9 4.0 -2.9 -4.0zM452.8 392l2.9 4.0 -2.9 4.0 -2.9 -4.0zM423 395.5l2.9 4.0 -2.9 4.0 -2.9 -4.0zM423.6 402.6l2.9 4.0 -2.9 4.0 -2.9 -4.0zM427.3 407.1l2.9 4.0 -2.9 4.0 -2.9 -4.0zM437.7 399.1l2.9 4.0 -2.9 4.0 -2.9 -4.0zM443.6 382l2.9 4.0 -2.9 4.0 -2.9 -4.0zM452.1 380.5l2.9 4.0 -2.9 4.0 -2.9 -4.0zM433.1 389.7l2.9 4.0 -2.9 4.0 -2.9 -4.0zM434.8 393.9l2.9 4.0 -2.9 4.0 -2.9 -4.0zM443.8 376.4l2.9 4.0 -2.9 4.0 -2.9 -4.0zM447.7 377.4l2.9 4.0 -2.9 4.0 -2.9 -4.0zM431.1 394l2.9 4.0 -2.9 4.0 -2.9 -4.0zM426.6 423.9l2.9 4.0 -2.9 4.0 -2.9 -4.0zM422.6 404.1l2.9 4.0 -2.9 4.0 -2.9 -4.0zM423.3 401l2.9 4.0 -2.9 4.0 -2.9 -4.0zM444.1 376l2.9 4.0 -2.9 4.0 -2.9 -4.0zM427.6 391.6l2.9 4.0 -2.9 4.0 -2.9 -4.0zM443.9 399.7l2.9 4.0 -2.9 4.0 -2.9 -4.0zM423 424.3l2.9 4.0 -2.9 4.0 -2.9 -4.0zM447 385.3l2.9 4.0 -2.9 4.0 -2.9 -4.0zM448.9 390.3l2.9 4.0 -2.9 4.0 -2.9 -4.0zM443 375.5l2.9 4.0 -2.9 4.0 -2.9 -4.0zM418.5 405.8l2.9 4.0 -2.9 4.0 -2.9 -4.0zM440.5 379.7l2.9 4.0 -2.9 4.0 -2.9 -4.0zM419.3 418.2l2.9 4.0 -2.9 4.0 -2.9 -4.0zM451.4 385.8l2.9 4.0 -2.9 4.0 -2.9 -4.0zM424.8 395.5l2.9 4.0 -2.9 4.0 -2.9 -4.0zM429.6 397l2.9 4.0 -2.9 4.0 -2.9 -4.0zM441.8 374.3l2.9 4.0 -2.9 4.0 -2.9 -4.0zM447.8 374.9l2.9 4.0 -2.9 4.0 -2.9 -4.0zM441.2 398.8l2.9 4.0 -2.9 4.0 -2.9 -4.0zM424.2 394.8l2.9 4.0 -2.9 4.0 -2.9 -4.0zM430.7 400.6l2.9 4.0 -2.9 4.0 -2.9 -4.0zM445.8 387.6l2.9 4.0 -2.9 4.0 -2.9 -4.0zM427.3 410.6l2.9 4.0 -2.9 4.0 -2.9 -4.0zM451.9 385l2.9 4.0 -2.9 4.0 -2.9 -4.0zM446.1 374.6l2.9 4.0 -2.9 4.0 -2.9 -4.0zM429.5 398.9l2.9 4.0 -2.9 4.0 -2.9 -4.0zM435.8 406.1l2.9 4.0 -2.9 4.0 -2.9 -4.0zM451 379.4l2.9 4.0 -2.9 4.0 -2.9 -4.0zM419.1 408.7l2.9 4.0 -2.9 4.0 -2.9 -4.0zM448.8 387.3l2.9 4.0 -2.9 4.0 -2.9 -4.0zM444.6 386.5l2.9 4.0 -2.9 4.0 -2.9 -4.0zM442.4 403.5l2.9 4.0 -2.9 4.0 -2.9 -4.0zM441.5 404.7l2.9 4.0 -2.9 4.0 -2.9 -4.0zM428.1 417.7l2.9 4.0 -2.9 4.0 -2.9 -4.0zM423.9 393.5l2.9 4.0 -2.9 4.0 -2.9 -4.0zM444.2 396.3l2.9 4.0 -2.9 4.0 -2.9 -4.0zM444.5 384.9l2.9 4.0 -2.9 4.0 -2.9 -4.0zM424.6 424.1l2.9 4.0 -2.9 4.0 -2.9 -4.0zM447.6 386.1l2.9 4.0 -2.9 4.0 -2.9 -4.0zM431.7 414.8l2.9 4.0 -2.9 4.0 -2.9 -4.0zM433.4 404.6l2.9 4.0 -2.9 4.0 -2.9 -4.0zM445.7 390.3l2.9 4.0 -2.9 4.0 -2.9 -4.0zM429.3 416.1l2.9 4.0 -2.9 4.0 -2.9 -4.0zM427.5 401.6l2.9 4.0 -2.9 4.0 -2.9 -4.0zM449 383.1l2.9 4.0 -2.9 4.0 -2.9 -4.0zM418 394.4l2.9 4.0 -2.9 4.0 -2.9 -4.0zM443.4 380.4l2.9 4.0 -2.9 4.0 -2.9 -4.0zM421.1 417.8l2.9 4.0 -2.9 4.0 -2.9 -4.0zM449.7 378.3l2.9 4.0 -2.9 4.0 -2.9 -4.0zM419.3 411.9l2.9 4.0 -2.9 4.0 -2.9 -4.0zM435 393.5l2.9 4.0 -2.9 4.0 -2.9 -4.0zM442.1 396.2l2.9 4.0 -2.9 4.0 -2.9 -4.0zM429.8 401.6l2.9 4.0 -2.9 4.0 -2.9 -4.0zM424.9 389.8l2.9 4.0 -2.9 4.0 -2.9 -4.0zM420.6 399.9l2.9 4.0 -2.9 4.0 -2.9 -4.0zM424 413.8l2.9 4.0 -2.9 4.0 -2.9 -4.0zM430.3 413.4l2.9 4.0 -2.9 4.0 -2.9 -4.0zM447.8 396.1l2.9 4.0 -2.9 4.0 -2.9 -4.0zM444.3 379.7l2.9 4.0 -2.9 4.0 -2.9 -4.0zM444.6 390.4l2.9 4.0 -2.9 4.0 -2.9 -4.0zM425.1 422.7l2.9 4.0 -2.9 4.0 -2.9 -4.0zM437.3 384.3l2.9 4.0 -2.9 4.0 -2.9 -4.0zM425.4 396.9l2.9 4.0 -2.9 4.0 -2.9 -4.0zM418.9 413.6l2.9 4.0 -2.9 4.0 -2.9 -4.0zM445.2 382.9l2.9 4.0 -2.9 4.0 -2.9 -4.0zM431.6 396.5l2.9 4.0 -2.9 4.0 -2.9 -4.0zM449.3 377.3l2.9 4.0 -2.9 4.0 -2.9 -4.0zM426.4 393.3l2.9 4.0 -2.9 4.0 -2.9 -4.0zM427 400.1l2.9 4.0 -2.9 4.0 -2.9 -4.0zM453.8 389.3l2.9 4.0 -2.9 4.0 -2.9 -4.0zM440 383.6l2.9 4.0 -2.9 4.0 -2.9 -4.0zM432.5 391l2.9 4.0 -2.9 4.0 -2.9 -4.0zM429.2 388.9l2.9 4.0 -2.9 4.0 -2.9 -4.0zM438.2 405l2.9 4.0 -2.9 4.0 -2.9 -4.0zM439.3 395.5l2.9 4.0 -2.9 4.0 -2.9 -4.0zM421.6 414.5l2.9 4.0 -2.9 4.0 -2.9 -4.0zM439.7 400.2l2.9 4.0 -2.9 4.0 -2.9 -4.0zM434.1 394.3l2.9 4.0 -2.9 4.0 -2.9 -4.0zM425.1 409.5l2.9 4.0 -2.9 4.0 -2.9 -4.0zM440.7 375.8l2.9 4.0 -2.9 4.0 -2.9 -4.0zM447.7 377.3l2.9 4.0 -2.9 4.0 -2.9 -4.0zM446.6 384.2l2.9 4.0 -2.9 4.0 -2.9 -4.0zM422 417.9l2.9 4.0 -2.9 4.0 -2.9 -4.0zM433.5 407.4l2.9 4.0 -2.9 4.0 -2.9 -4.0zM428.8 393.3l2.9 4.0 -2.9 4.0 -2.9 -4.0zM439.6 401.9l2.9 4.0 -2.9 4.0 -2.9 -4.0zM427.1 418.5l2.9 4.0 -2.9 4.0 -2.9 -4.0zM443.6 374.4l2.9 4.0 -2.9 4.0 -2.9 -4.0zM425.4 397.8l2.9 4.0 -2.9 4.0 -2.9 -4.0zM426.3 392l2.9 4.0 -2.9 4.0 -2.9 -4.0zM428.5 396.6l2.9 4.0 -2.9 4.0 -2.9 -4.0zM429.7 397.5l2.9 4.0 -2.9 4.0 -2.9 -4.0zM440.6 383.8l2.9 4.0 -2.9 4.0 -2.9 -4.0zM429 398.2l2.9 4.0 -2.9 4.0 -2.9 -4.0zM427.5 421.9l2.9 4.0 -2.9 4.0 -2.9 -4.0zM417.6 394.4l2.9 4.0 -2.9 4.0 -2.9 -4.0zM428.2 393.2l2.9 4.0 -2.9 4.0 -2.9 -4.0zM424.3 401.3l2.9 4.0 -2.9 4.0 -2.9 -4.0zM442 404.1l2.9 4.0 -2.9 4.0 -2.9 -4.0zM451.6 387.6l2.9 4.0 -2.9 4.0 -2.9 -4.0zM446.2 372.5l2.9 4.0 -2.9 4.0 -2.9 -4.0zM425.4 404.6l2.9 4.0 -2.9 4.0 -2.9 -4.0zM432.2 402.8l2.9 4.0 -2.9 4.0 -2.9 -4.0zM419.2 395.2l2.9 4.0 -2.9 4.0 -2.9 -4.0zM442.7 375.6l2.9 4.0 -2.9 4.0 -2.9 -4.0zM421.6 418.7l2.9 4.0 -2.9 4.0 -2.9 -4.0zM441 402.9l2.9 4.0 -2.9 4.0 -2.9 -4.0zM419.1 416.9l2.9 4.0 -2.9 4.0 -2.9 -4.0zM420.1 410l2.9 4.0 -2.9 4.0 -2.9 -4.0zM449.4 398.3l2.9 4.0 -2.9 4.0 -2.9 -4.0zM429.8 403.4l2.9 4.0 -2.9 4.0 -2.9 -4.0zM426.9 410l2.9 4.0 -2.9 4.0 -2.9 -4.0zM431.5 408.1l2.9 4.0 -2.9 4.0 -2.9 -4.0zM428.9 417.8l2.9 4.0 -2.9 4.0 -2.9 -4.0zM436.8 391l2.9 4.0 -2.9 4.0 -2.9 -4.0zM446.7 392.7l2.9 4.0 -2.9 4.0 -2.9 -4.0zM440.6 376.1l2.9 4.0 -2.9 4.0 -2.9 -4.0zM445.3 371.9l2.9 4.0 -2.9 4.0 -2.9 -4.0zM449 393.9l2.9 4.0 -2.9 4.0 -2.9 -4.0zM442.9 402l2.9 4.0 -2.9 4.0 -2.9 -4.0zM430.6 412l2.9 4.0 -2.9 4.0 -2.9 -4.0zM438.2 404.2l2.9 4.0 -2.9 4.0 -2.9 -4.0zM438.2 406.3l2.9 4.0 -2.9 4.0 -2.9 -4.0zM426.9 405.2l2.9 4.0 -2.9 4.0 -2.9 -4.0zM420.4 396.2l2.9 4.0 -2.9 4.0 -2.9 -4.0zM424.8 405.4l2.9 4.0 -2.9 4.0 -2.9 -4.0zM424.1 420l2.9 4.0 -2.9 4.0 -2.9 -4.0zM441 386.7l2.9 4.0 -2.9 4.0 -2.9 -4.0zM426.8 399.2l2.9 4.0 -2.9 4.0 -2.9 -4.0zM427.1 410.3l2.9 4.0 -2.9 4.0 -2.9 -4.0zM450.2 379.6l2.9 4.0 -2.9 4.0 -2.9 -4.0zM437.1 384.1l2.9 4.0 -2.9 4.0 -2.9 -4.0zM439.4 390.3l2.9 4.0 -2.9 4.0 -2.9 -4.0zM426.5 392.1l2.9 4.0 -2.9 4.0 -2.9 -4.0zM426.9 389.8l2.9 4.0 -2.9 4.0 -2.9 -4.0zM438.5 383.1l2.9 4.0 -2.9 4.0 -2.9 -4.0zM446.2 385.3l2.9 4.0 -2.9 4.0 -2.9 -4.0zM427.5 425.2l2.9 4.0 -2.9 4.0 -2.9 -4.0zM444.5 405.1l2.9 4.0 -2.9 4.0 -2.9 -4.0zM450.5 375.4l2.9 4.0 -2.9 4.0 -2.9 -4.0zM439.5 406.6l2.9 4.0 -2.9 4.0 -2.9 -4.0zM416.2 416.8l2.9 4.0 -2.9 4.0 -2.9 -4.0zM449.5 371.6l2.9 4.0 -2.9 4.0 -2.9 -4.0zM441.4 404.1l2.9 4.0 -2.9 4.0 -2.9 -4.0zM453.5 396.3l2.9 4.0 -2.9 4.0 -2.9 -4.0zM425 425.8l2.9 4.0 -2.9 4.0 -2.9 -4.0zM451.8 396.3l2.9 4.0 -2.9 4.0 -2.9 -4.0zM419.3 408.4l2.9 4.0 -2.9 4.0 -2.9 -4.0zM437.8 408l2.9 4.0 -2.9 4.0 -2.9 -4.0zM448.1 374.2l2.9 4.0 -2.9 4.0 -2.9 -4.0zM422.1 424.2l2.9 4.0 -2.9 4.0 -2.9 -4.0zM447.2 402.9l2.9 4.0 -2.9 4.0 -2.9 -4.0zM420.6 389.2l2.9 4.0 -2.9 4.0 -2.9 -4.0zM430.3 421.5l2.9 4.0 -2.9 4.0 -2.9 -4.0zM418.4 397.2l2.9 4.0 -2.9 4.0 -2.9 -4.0zM416.5 395.9l2.9 4.0 -2.9 4.0 -2.9 -4.0zM429.4 422.8l2.9 4.0 -2.9 4.0 -2.9 -4.0zM419.5 405.8l2.9 4.0 -2.9 4.0 -2.9 -4.0zM429.6 388.4l2.9 4.0 -2.9 4.0 -2.9 -4.0zM430.6 385.7l2.9 4.0 -2.9 4.0 -2.9 -4.0zM418.3 414l2.9 4.0 -2.9 4.0 -2.9 -4.0zM436.1 409.8l2.9 4.0 -2.9 4.0 -2.9 -4.0zM453.1 392.7l2.9 4.0 -2.9 4.0 -2.9 -4.0zM434.2 385.3l2.9 4.0 -2.9 4.0 -2.9 -4.0zM419.3 404.7l2.9 4.0 -2.9 4.0 -2.9 -4.0zM453.7 383.2l2.9 4.0 -2.9 4.0 -2.9 -4.0zM417.4 404l2.9 4.0 -2.9 4.0 -2.9 -4.0z" fill="none" stroke="#0072BD" stroke-width="1.0"/>
<path d="M488.2 484.6 493 483.5 496.9 479.5 497.1 479.3 497.3 479.2 497.5 479.1 503.3 476.2 503.5 476.1 503.7 476 503.9 476 504.1 476 504.3 476 504.6 476 504.8 476 505 476.1 505.2 476.1 505.4 476.2 505.6 476.3 509.3 478.9 513.6 478.9 515.8 476.6 520.8 471.6 519.6 463.1 515.6 457.7 515.5 457.6 515.4 457.4 515.3 457.2 513.2 451.5 509.9 445.8 505.8 444.3 502.4 446 502.2 446.1 502 446.2 501.8 446.2 501.6 446.2 501.3 446.2 501.1 446.2 500.9 446.2 500.7 446.1 497.8 445.1 496 447.5 492 454 492.6 459.5 497.5 455.3 497.7 455.2 497.9 455 498.1 454.9 498.3 454.9 498.5 454.8 498.7 454.8 498.9 454.8 499.2 454.8 499.4 454.8 499.6 454.8 499.8 454.9 507.8 457.9 508 458 508.2 458.1 508.4 458.2 508.6 458.4 508.7 458.5 508.8 458.7 509 458.9 509.1 459.1 509.1 459.3 509.2 459.5 509.2 459.8 509.2 460 509.2 469 509.2 469.2 509.2 469.4 509.2 469.6 509.1 469.8 509 470 508.9 470.2 508.8 470.4 508.6 470.6 508.5 470.7 508.3 470.9 508.1 471 507.9 471.1 507.7 471.1 507.5 471.2 498.5 473.2 498.3 473.2 498.1 473.2 497.8 473.2 497.6 473.2 497.4 473.2 497.2 473.1 497 473 496.8 472.9 496.7 472.8 496.5 472.7 496.3 472.5 496.2 472.4 490.5 464.8 488.8 467.6 484.6 476.1 482.8 483.3 483.5 484.1 488.2 484.6ZM455.6 432.8 468.7 432.8 470.6 429.7 466.5 415 456.1 428.9 455.6 432.8Z" fill="#EDB120" fill-opacity="0.85" fill-rule="evenodd"/>
<path d="M457.5 379.8l3.3 5.8h-6.6zM466 420.8l3.3 5.8h-6.6zM468 425.8l3.3 5.8h-6.6zM500.4 451.7l3.3 5.8h-6.6zM506.6 450.2l3.3 5.8h-6.6zM487.1 468.8l3.3 5.8h-6.6zM513.3 455.2l3.3 5.8h-6.6zM491.9 471.9l3.3 5.8h-6.6zM496.1 450.1l3.3 5.8h-6.6zM512.3 466.9l3.3 5.8h-6.6zM467 423.4l3.3 5.8h-6.6zM512.4 459.6l3.3 5.8h-6.6zM458.8 428.7l3.3 5.8h-6.6zM493.8 453.2l3.3 5.8h-6.6zM495.9 471.3l3.3 5.8h-6.6zM510.6 468.9l3.3 5.8h-6.6zM503.2 472.5l3.3 5.8h-6.6zM516.1 461.2l3.3 5.8h-6.6zM514.5 465.2l3.3 5.8h-6.6zM496.3 448.9l3.3 5.8h-6.6zM509.7 456.4l3.3 5.8h-6.6zM508.7 468.7l3.3 5.8h-6.6zM506.9 444.3l3.3 5.8h-6.6zM500.2 451.1l3.3 5.8h-6.6zM500.7 447.7l3.3 5.8h-6.6zM510 445.1l3.3 5.8h-6.6zM519.2 466.4l3.3 5.8h-6.6zM487.5 469.1l3.3 5.8h-6.6zM466.1 429.2l3.3 5.8h-6.6zM515.8 467.1l3.3 5.8h-6.6zM512.9 461.5l3.3 5.8h-6.6zM498.3 449.5l3.3 5.8h-6.6zM511.3 459.7l3.3 5.8h-6.6zM497.3 448.6l3.3 5.8h-6.6zM503 449.2l3.3 5.8h-6.6zM493.7 451.2l3.3 5.8h-6.6zM500.4 451.4l3.3 5.8h-6.6zM459.7 422l3.3 5.8h-6.6zM507.1 451.7l3.3 5.8h-6.6zM513.2 468l3.3 5.8h-6.6zM456.8 428.2l3.3 5.8h-6.6zM520.1 465.9l3.3 5.8h-6.6zM500.5 443.4l3.3 5.8h-6.6zM507.8 443l3.3 5.8h-6.6zM513 469.2l3.3 5.8h-6.6zM513.6 459.2l3.3 5.8h-6.6zM504.3 442.5l3.3 5.8h-6.6zM465.1 418.7l3.3 5.8h-6.6zM507.8 450.8l3.3 5.8h-6.6zM512.3 471.6l3.3 5.8h-6.6zM506.5 448.7l3.3 5.8h-6.6zM456.2 428.7l3.3 5.8h-6.6zM490.4 477.9l3.3 5.8h-6.6zM513.1 457.1l3.3 5.8h-6.6zM494.5 453.5l3.3 5.8h-6.6zM498.4 473.3l3.3 5.8h-6.6zM508.5 452.1l3.3 5.8h-6.6zM520.2 467.4l3.3 5.8h-6.6zM502.2 446.8l3.3 5.8h-6.6zM513.4 461.2l3.3 5.8h-6.6zM464.5 423.6l3.3 5.8h-6.6zM505.8 453.5l3.3 5.8h-6.6zM487.3 477.5l3.3 5.8h-6.6zM468.7 421.9l3.3 5.8h-6.6zM510.4 457.8l3.3 5.8h-6.6zM507.6 446.9l3.3 5.8h-6.6zM462.6 427.1l3.3 5.8h-6.6zM512.5 463.3l3.3 5.8h-6.6zM514.3 465.3l3.3 5.8h-6.6zM467.4 419.4l3.3 5.8h-6.6zM492.7 469.3l3.3 5.8h-6.6zM463.6 421.2l3.3 5.8h-6.6zM502.2 445.1l3.3 5.8h-6.6zM511.5 472.7l3.3 5.8h-6.6zM495 469.3l3.3 5.8h-6.6zM515.9 465.1l3.3 5.8h-6.6zM519 460.9l3.3 5.8h-6.6zM511 459.2l3.3 5.8h-6.6zM509.7 462.4l3.3 5.8h-6.6zM510 444.5l3.3 5.8h-6.6zM494.7 476.1l3.3 5.8h-6.6zM515.1 471.3l3.3 5.8h-6.6zM515.4 459.7l3.3 5.8h-6.6zM512.8 464.6l3.3 5.8h-6.6zM509.5 450.5l3.3 5.8h-6.6zM512.7 457l3.3 5.8h-6.6zM514.2 462.7l3.3 5.8h-6.6zM510.8 463.8l3.3 5.8h-6.6zM495.4 473.6l3.3 5.8h-6.6zM463.8 427.2l3.3 5.8h-6.6zM496.6 470.3l3.3 5.8h-6.6zM514.7 454.6l3.3 5.8h-6.6zM500.2 450.3l3.3 5.8h-6.6zM509.9 463.4l3.3 5.8h-6.6zM492.6 450.9l3.3 5.8h-6.6zM489.6 466.9l3.3 5.8h-6.6zM509.3 466.8l3.3 5.8h-6.6zM491.1 466.1l3.3 5.8h-6.6zM459.8 427.8l3.3 5.8h-6.6zM511.8 463.1l3.3 5.8h-6.6zM509.3 452.3l3.3 5.8h-6.6zM501.2 447.6l3.3 5.8h-6.6zM464.9 417.2l3.3 5.8h-6.6zM463.6 428.9l3.3 5.8h-6.6zM464.7 424.4l3.3 5.8h-6.6zM463.4 421.7l3.3 5.8h-6.6zM462.8 423.8l3.3 5.8h-6.6zM513.3 473.4l3.3 5.8h-6.6zM517.4 463.5l3.3 5.8h-6.6zM503.6 470l3.3 5.8h-6.6zM508.2 450.3l3.3 5.8h-6.6zM465.8 423.2l3.3 5.8h-6.6zM462.9 419.8l3.3 5.8h-6.6zM504.9 449.1l3.3 5.8h-6.6zM499.2 450.7l3.3 5.8h-6.6zM515.8 460l3.3 5.8h-6.6zM490.7 469.7l3.3 5.8h-6.6zM487.5 475l3.3 5.8h-6.6zM511.3 453.8l3.3 5.8h-6.6zM504.3 452.9l3.3 5.8h-6.6zM506.3 445.2l3.3 5.8h-6.6zM493.4 475.5l3.3 5.8h-6.6zM513.8 471.4l3.3 5.8h-6.6zM458.4 423.4l3.3 5.8h-6.6zM495.9 453.1l3.3 5.8h-6.6zM460.1 427.7l3.3 5.8h-6.6zM513.2 462.2l3.3 5.8h-6.6zM509.2 446.8l3.3 5.8h-6.6zM519.1 469.5l3.3 5.8h-6.6zM513.6 456.9l3.3 5.8h-6.6zM513.1 465.2l3.3 5.8h-6.6zM464 422.6l3.3 5.8h-6.6zM463.9 418.7l3.3 5.8h-6.6zM496.4 451.1l3.3 5.8h-6.6zM456.8 425.8l3.3 5.8h-6.6zM508.5 468.3l3.3 5.8h-6.6zM506.6 442.6l3.3 5.8h-6.6zM505.3 444.8l3.3 5.8h-6.6zM493.4 478.5l3.3 5.8h-6.6zM494.6 476.8l3.3 5.8h-6.6zM500.5 448.3l3.3 5.8h-6.6zM492.1 475l3.3 5.8h-6.6zM493.3 455l3.3 5.8h-6.6zM517.3 470.3l3.3 5.8h-6.6zM517.4 462.5l3.3 5.8h-6.6zM465 417.4l3.3 5.8h-6.6zM467.1 422.1l3.3 5.8h-6.6zM496.8 473.8l3.3 5.8h-6.6zM505 443.2l3.3 5.8h-6.6zM465.5 420.1l3.3 5.8h-6.6zM492.8 450.5l3.3 5.8h-6.6zM513.6 468.4l3.3 5.8h-6.6zM503.6 471l3.3 5.8h-6.6zM507.8 450.5l3.3 5.8h-6.6zM515.9 456.4l3.3 5.8h-6.6zM456.8 427.7l3.3 5.8h-6.6zM487.8 471.8l3.3 5.8h-6.6zM493.6 449.5l3.3 5.8h-6.6zM508.7 451.2l3.3 5.8h-6.6zM497.1 475.1l3.3 5.8h-6.6zM503.2 449.9l3.3 5.8h-6.6zM495.8 451.7l3.3 5.8h-6.6zM491.5 465.9l3.3 5.8h-6.6zM487.5 474.4l3.3 5.8h-6.6zM500.7 472.3l3.3 5.8h-6.6zM464.4 420.1l3.3 5.8h-6.6zM490.2 467.4l3.3 5.8h-6.6zM512.9 450.8l3.3 5.8h-6.6zM510.6 473.7l3.3 5.8h-6.6zM506.3 449.1l3.3 5.8h-6.6zM511.6 447.1l3.3 5.8h-6.6zM508.8 447.4l3.3 5.8h-6.6zM490.2 465.7l3.3 5.8h-6.6zM507.1 450l3.3 5.8h-6.6zM484.7 478.8l3.3 5.8h-6.6zM468.3 425.8l3.3 5.8h-6.6zM492.6 472.8l3.3 5.8h-6.6zM466.1 418.6l3.3 5.8h-6.6zM503.6 446.2l3.3 5.8h-6.6zM460.3 424.5l3.3 5.8h-6.6zM461 421.9l3.3 5.8h-6.6zM467.1 427.5l3.3 5.8h-6.6zM491.8 478.7l3.3 5.8h-6.6zM495.2 475.7l3.3 5.8h-6.6zM463.2 422l3.3 5.8h-6.6zM495.9 470.1l3.3 5.8h-6.6zM497 474l3.3 5.8h-6.6zM495.9 470.5l3.3 5.8h-6.6zM459.8 426.6l3.3 5.8h-6.6zM465.5 415.2l3.3 5.8h-6.6zM491.9 469.1l3.3 5.8h-6.6zM462.2 422.6l3.3 5.8h-6.6zM495.5 447.6l3.3 5.8h-6.6zM511.6 452.3l3.3 5.8h-6.6zM508.4 443.7l3.3 5.8h-6.6zM504.5 469l3.3 5.8h-6.6zM506.1 440.5l3.3 5.8h-6.6zM493.3 450.7l3.3 5.8h-6.6zM490.4 465l3.3 5.8h-6.6zM519.2 465.5l3.3 5.8h-6.6zM494 479.6l3.3 5.8h-6.6zM505.3 473.3l3.3 5.8h-6.6zM500.2 473.9l3.3 5.8h-6.6zM487.3 482.8l3.3 5.8h-6.6zM489.1 481.4l3.3 5.8h-6.6zM491.5 455.5l3.3 5.8h-6.6zM462 419.7l3.3 5.8h-6.6zM513 475.2l3.3 5.8h-6.6zM464 430.5l3.3 5.8h-6.6zM463.4 415l3.3 5.8h-6.6zM511.4 442.8l3.3 5.8h-6.6zM520.5 470.4l3.3 5.8h-6.6zM502.6 470.1l3.3 5.8h-6.6zM494.3 481.1l3.3 5.8h-6.6zM507.8 453.7l3.3 5.8h-6.6zM497.2 474.1l3.3 5.8h-6.6zM501.9 470.4l3.3 5.8h-6.6zM494.5 469l3.3 5.8h-6.6zM494.7 469.8l3.3 5.8h-6.6zM461.7 429.9l3.3 5.8h-6.6zM484.2 477.4l3.3 5.8h-6.6zM487.5 463.7l3.3 5.8h-6.6z" fill="none" stroke="#EDB120" stroke-width="1.0"/>
<path d="M492.7 352.5 495.6 358.3 499.9 362.7 500.1 362.8 500.2 363 500.3 363.2 503.4 369.4 503.5 369.5 503.5 369.8 503.6 370 504.3 375.6 507.7 379.6 513.6 384.1 513.8 384.3 520 390.5 520.2 390.6 520.3 390.8 520.4 390.9 520.5 391.1 523.5 398.7 526.1 403.8 528.6 403.8 529.2 396.7 526.3 386.6 523.6 383.8 523.4 383.7 523.3 383.5 523.2 383.4 523.2 383.2 523.1 383 523 382.9 523 382.7 523 382.5 523 382.3 523 382.1 524.6 374.6 524.6 370 521.5 369 514.1 369 513.9 369 513.7 369 513.5 368.9 513.4 368.8 513.2 368.8 513 368.7 512.9 368.5 512.7 368.4 512.6 368.3 512.5 368.1 512.4 367.9 512.3 367.8 512.3 367.6 510.9 362.1 505.4 358.6 505.2 358.5 505.1 358.4 504.9 358.2 504.8 358.1 504.7 357.9 504.7 357.7 504.6 357.5 504.5 357.3 503 349.1 500.6 344.4 496.1 344.9 491.6 347.9 492.7 352.5ZM487.2 341.9 487.2 341.7 487.2 341.6 487.1 341.4 487.1 341.3 487 341.1 487 341 486.9 340.8 486.8 340.7 486.7 340.5 486.6 340.4 486.4 340.2 486.3 340.1 486.1 339.9 486 339.8 485.8 339.6 485.6 339.5 485.4 339.4 485.2 339.2 484.9 339.1 484.7 339 484.4 338.9 484.2 338.8 483.9 338.7 483.6 338.6 483.4 338.6 483.1 338.5 482.8 338.5 482.5 338.4 482.2 338.4 481.9 338.4 481.6 338.4 481.3 338.4 481 338.4 480.7 338.4 480.4 338.5 480.1 338.5 479.8 338.6 479.6 338.6 479.3 338.7 479 338.8 478.8 338.9 478.5 339 478.3 339.1 478 339.2 477.8 339.4 477.6 339.5 477.4 339.6 477.2 339.8 477.1 339.9 476.9 340.1 476.8 340.2 476.6 340.4 476.5 340.5 476.4 340.7 476.3 340.8 476.2 341 476.2 341.1 476.1 341.3 476.1 341.4 476 341.6 476 341.7 476 341.9 476 342 476 342.1 476 342.3 476 342.4 476.1 342.6 476.1 342.7 476.2 342.9 476.2 343 476.3 343.2 476.4 343.3 476.5 343.5 476.6 343.6 476.8 343.8 476.9 343.9 477.1 344.1 477.2 344.2 477.4 344.4 477.6 344.5 477.8 344.6 478 344.8 478.3 344.9 478.5 345 478.8 345.1 479 345.2 479.3 345.3 479.6 345.4 479.8 345.4 480.1 345.5 480.4 345.5 480.7 345.6 481 345.6 481.3 345.6 481.6 345.6 481.9 345.6 482.2 345.6 482.5 345.6 482.8 345.5 483.1 345.5 483.4 345.4 483.6 345.4 483.9 345.3 484.2 345.2 484.4 345.1 484.7 345 484.9 344.9 485.2 344.8 485.4 344.6 485.6 344.5 485.8 344.4 486 344.2 486.1 344.1 486.3 343.9 486.4 343.8 486.6 343.6 486.7 343.5 486.8 343.3 486.9 343.2 487 343 487 342.9 487.1 342.7 487.1 342.6 487.2 342.4 487.2 342.3 487.2 342.1 487.2 342 487.2 341.9Z" fill="#77AC30" fill-opacity="0.3" fill-rule="evenodd"/>
<path d="M474.8 350.9h4.5v4.5h-4.5zM472.2 349.8h4.5v4.5h-4.5zM452.6 378.6h4.5v4.5h-4.5zM499.1 359.4h4.5v4.5h-4.5zM510.7 376.2h4.5v4.5h-4.5zM517.4 380.3h4.5v4.5h-4.5zM517.9 382.7h4.5v4.5h-4.5zM505.4 373.9h4.5v4.5h-4.5zM503.2 369.3h4.5v4.5h-4.5zM503.2 362h4.5v4.5h-4.5zM482.1 339.3h4.5v4.5h-4.5zM478.7 337.1h4.5v4.5h-4.5zM500.8 349.1h4.5v4.5h-4.5zM510.4 368.9h4.5v4.5h-4.5zM510.7 367.5h4.5v4.5h-4.5zM499.4 357.4h4.5v4.5h-4.5zM490.6 348.7h4.5v4.5h-4.5zM502.7 366.4h4.5v4.5h-4.5zM497.7 356.7h4.5v4.5h-4.5zM502.4 366.8h4.5v4.5h-4.5zM506.6 377.7h4.5v4.5h-4.5zM510.3 379.7h4.5v4.5h-4.5zM508.7 377.6h4.5v4.5h-4.5zM506.9 360.6h4.5v4.5h-4.5zM494 352.7h4.5v4.5h-4.5zM483.8 338.9h4.5v4.5h-4.5zM509.6 364.7h4.5v4.5h-4.5zM491.8 352.3h4.5v4.5h-4.5zM512.2 374h4.5v4.5h-4.5zM476.5 337h4.5v4.5h-4.5zM514.3 372.3h4.5v4.5h-4.5zM521.1 387.4h4.5v4.5h-4.5zM474.8 340.7h4.5v4.5h-4.5zM499.7 354.2h4.5v4.5h-4.5zM517.8 378h4.5v4.5h-4.5zM524.5 390.2h4.5v4.5h-4.5zM520.6 384.8h4.5v4.5h-4.5zM519.6 377.2h4.5v4.5h-4.5zM518.6 374.7h4.5v4.5h-4.5zM504.6 368.9h4.5v4.5h-4.5zM523.6 386.1h4.5v4.5h-4.5zM506 372h4.5v4.5h-4.5zM511.2 370.8h4.5v4.5h-4.5zM491.1 345h4.5v4.5h-4.5zM520.1 387.9h4.5v4.5h-4.5zM523 390.4h4.5v4.5h-4.5zM516.9 368.2h4.5v4.5h-4.5zM519.3 368.3h4.5v4.5h-4.5zM496.6 348.2h4.5v4.5h-4.5zM494.4 350.5h4.5v4.5h-4.5zM503.3 365.3h4.5v4.5h-4.5zM504.6 363.3h4.5v4.5h-4.5zM515.7 385.8h4.5v4.5h-4.5zM496.8 346.8h4.5v4.5h-4.5zM501.9 362.7h4.5v4.5h-4.5zM501.4 351.8h4.5v4.5h-4.5zM516.7 385.5h4.5v4.5h-4.5zM495.4 347.8h4.5v4.5h-4.5zM519.1 375.1h4.5v4.5h-4.5zM508.8 373h4.5v4.5h-4.5zM506.2 362.7h4.5v4.5h-4.5zM478.8 342h4.5v4.5h-4.5zM497.8 344.5h4.5v4.5h-4.5zM492.2 351.1h4.5v4.5h-4.5zM519.3 391h4.5v4.5h-4.5zM520.2 372.9h4.5v4.5h-4.5zM499.8 351.1h4.5v4.5h-4.5zM514.6 379.3h4.5v4.5h-4.5zM495.4 342.9h4.5v4.5h-4.5zM496.2 350h4.5v4.5h-4.5zM490.8 347.2h4.5v4.5h-4.5zM520.2 367.3h4.5v4.5h-4.5zM480.7 338.6h4.5v4.5h-4.5zM518.3 372.2h4.5v4.5h-4.5zM516 374.5h4.5v4.5h-4.5zM522.4 389.8h4.5v4.5h-4.5zM480.4 339.4h4.5v4.5h-4.5zM498 351h4.5v4.5h-4.5zM493 351h4.5v4.5h-4.5zM482.1 338.9h4.5v4.5h-4.5zM518.5 388.5h4.5v4.5h-4.5zM481.2 337.1h4.5v4.5h-4.5zM511.1 370.4h4.5v4.5h-4.5zM496 345.2h4.5v4.5h-4.5zM525.1 393.7h4.5v4.5h-4.5zM508.7 375.1h4.5v4.5h-4.5zM507 373.7h4.5v4.5h-4.5zM511.2 375.1h4.5v4.5h-4.5zM507.4 376.5h4.5v4.5h-4.5zM519.6 372.7h4.5v4.5h-4.5zM500.2 359.9h4.5v4.5h-4.5zM508.5 366.2h4.5v4.5h-4.5zM514.4 368.4h4.5v4.5h-4.5zM508.8 368.5h4.5v4.5h-4.5zM524.8 387.8h4.5v4.5h-4.5zM503.6 365.3h4.5v4.5h-4.5zM495.5 343.5h4.5v4.5h-4.5zM519.3 367.9h4.5v4.5h-4.5zM512.8 374.8h4.5v4.5h-4.5zM505.5 366.9h4.5v4.5h-4.5zM522.8 391.7h4.5v4.5h-4.5zM523.1 397.9h4.5v4.5h-4.5zM517.5 386.8h4.5v4.5h-4.5zM508 362.1h4.5v4.5h-4.5zM517.6 379.1h4.5v4.5h-4.5zM519.2 375.7h4.5v4.5h-4.5zM519.4 388.6h4.5v4.5h-4.5zM523 390.2h4.5v4.5h-4.5zM479.9 339.9h4.5v4.5h-4.5zM504.3 359.5h4.5v4.5h-4.5zM518.2 378h4.5v4.5h-4.5zM500.5 359.2h4.5v4.5h-4.5zM506.5 368.6h4.5v4.5h-4.5zM514.6 375.1h4.5v4.5h-4.5zM498.5 354.8h4.5v4.5h-4.5zM498.2 351.6h4.5v4.5h-4.5zM505.4 366.8h4.5v4.5h-4.5zM503.2 366.1h4.5v4.5h-4.5zM497.2 344.5h4.5v4.5h-4.5zM521.4 394.1h4.5v4.5h-4.5zM507.7 368.4h4.5v4.5h-4.5zM495.2 352.8h4.5v4.5h-4.5zM505.8 367h4.5v4.5h-4.5zM498.2 342.6h4.5v4.5h-4.5zM500.4 355.4h4.5v4.5h-4.5zM514 373.9h4.5v4.5h-4.5zM507 362.5h4.5v4.5h-4.5zM516.6 389.1h4.5v4.5h-4.5zM508.2 359.5h4.5v4.5h-4.5zM507.9 358.6h4.5v4.5h-4.5zM503.1 373.1h4.5v4.5h-4.5zM497.5 341.2h4.5v4.5h-4.5zM475 336.1h4.5v4.5h-4.5zM520.7 374h4.5v4.5h-4.5zM520.7 371.2h4.5v4.5h-4.5zM498.9 364.8h4.5v4.5h-4.5zM503.3 370.9h4.5v4.5h-4.5zM501 349.2h4.5v4.5h-4.5zM495.7 357.6h4.5v4.5h-4.5zM499.6 360.5h4.5v4.5h-4.5zM518.5 388.4h4.5v4.5h-4.5zM520.7 394.9h4.5v4.5h-4.5zM503.9 373.5h4.5v4.5h-4.5zM502.1 350.1h4.5v4.5h-4.5zM480.1 342.3h4.5v4.5h-4.5z" fill="none" stroke="#77AC30" stroke-width="1.0"/>
<path d="M362.8 419.9 362.8 420.2 362.8 420.5 364.8 434.4 364.9 434.8 365 435.1 365.1 435.4 365.3 435.8 372.3 446.7 372.4 447 372.5 447.1 372.6 447.2 372.7 447.3 372.7 447.4 372.8 447.5 372.8 447.7 372.8 447.8 372.8 447.9 372.8 448 372.8 448.2 372.8 448.3 372.7 448.4 372.7 448.5 372.7 448.6 372.5 448.8 372.4 449.1 372.3 449.3 372.3 449.6 372.3 449.9 372.3 450.1 372.3 450.4 372.3 450.7 375.3 462.6 375.4 462.9 375.5 463.2 375.6 463.4 375.8 463.6 376 463.8 376.2 464 376.4 464.2 384.3 470.2 384.6 470.3 384.8 470.5 385.1 470.6 385.4 470.7 385.6 470.7 385.9 470.7 386.2 470.7 386.5 470.7 398.4 468.7 398.7 468.6 399 468.6 399.2 468.4 399.5 468.3 399.7 468.2 399.9 468 400.1 467.8 406.1 460.8 406.2 460.6 406.4 460.3 406.5 460.1 406.6 459.9 406.7 459.6 406.7 459.3 406.7 459.1 406.7 458.8 406.7 458.5 406.6 458.3 406.6 458 406.4 457.8 406.3 457.5 406.2 457.3 406 457.1 405.8 456.9 405.6 456.8 405.6 456.7 405.5 456.7 405.4 456.6 405.3 456.5 405.3 456.4 405.2 456.2 405.2 456.1 405.2 456 405.2 455.9 405.2 455.8 405.2 455.7 405.2 455.6 405.2 455.2 405.2 454.9 405.2 454.6 405.2 454.3 405.1 454 405 453.7 404.8 453.4 404.6 453.1 404.5 452.9 404.2 452.7 404 452.4 403.7 452.3 403.5 452.1 403.1 452 390.2 447 390.1 446.9 377.5 442.5 377.4 442.4 377.3 442.4 377.2 442.3 377.1 442.2 377.1 442.1 377 442.1 376.9 442 371.3 433.1 371.2 433 371.1 432.8 371.1 432.7 371.1 432.6 369.3 420.3 369.3 420.2 369.3 420.1 369.3 420 369.3 419.9 372.2 406.7 372.2 406.4 372.2 406 372.2 405.7 372.2 405.4 372.1 405.1 372 404.8 371.9 404.5 371.7 404.2 371.5 404 371.3 403.7 371.1 403.5 370.8 403.3 370.6 403.2 370.3 403 370 402.9 369.7 402.8 369.4 402.8 369 402.8 368.7 402.8 368.4 402.8 368.1 402.9 367.8 403 367.5 403.1 367.2 403.3 367 403.5 366.7 403.7 366.5 403.9 366.3 404.2 366.2 404.4 366 404.7 365.9 405 365.8 405.4 362.8 419.3 362.8 419.6 362.8 419.9ZM387.8 453 388 453.1 388.1 453.1 388.2 453.2 388.3 453.3 388.4 453.4 388.4 453.5 388.5 453.6 388.6 453.7 388.6 453.8 388.6 453.9 388.7 454 388.7 454.1 388.7 454.3 388.7 454.4 388.6 454.5 388.6 454.6 388.6 454.7 388.5 454.9 388.4 455 388.4 455 388.3 455.1 388.2 455.2 388.1 455.3 388 455.3 387.9 455.4 387.7 455.4 387.6 455.5 387.5 455.5 387.2 455.5 386.9 455.6 386.6 455.7 386.2 455.8 386 455.9 385.7 456 385.4 456.1 385.1 456.2 384.9 456.3 384.7 456.4 384.5 456.5 384.3 456.7 384.1 456.8 383.9 456.9 383.8 457 383.7 457.2 383.6 457.3 383.5 457.4 383.4 457.5 383.4 457.6 383.3 457.7 383.3 457.8 383.3 457.9 383.3 457.9 383.3 458 383.3 458.1 383.3 458.1 383.3 458.2 383.3 458.3 383.4 458.4 383.4 458.5 383.5 458.6 383.6 458.7 383.7 458.8 383.8 459 383.9 459.1 384.1 459.2 384.3 459.3 384.5 459.5 384.7 459.6 384.9 459.7 385.1 459.8 385.4 459.9 385.7 460 386 460.1 386.2 460.2 386.6 460.3 386.9 460.4 387.2 460.5 387.5 460.5 387.9 460.6 388.2 460.6 388.6 460.7 388.9 460.7 389.3 460.7 389.6 460.7 390 460.7 390.4 460.7 390.7 460.7 391.1 460.7 391.4 460.7 391.8 460.6 392.1 460.6 392.5 460.5 392.8 460.5 393.1 460.4 393.4 460.3 393.8 460.2 394 460.1 394.3 460 394.6 459.9 394.9 459.8 395.1 459.7 395.3 459.6 395.5 459.5 395.7 459.3 395.9 459.2 396.1 459.1 396.2 459 396.3 458.8 396.4 458.7 396.5 458.6 396.6 458.5 396.6 458.4 396.7 458.3 396.7 458.2 396.7 458.1 396.7 458.1 396.8 458 396.8 457.8 396.8 457.7 396.9 457.6 397 457.5 397.1 457.4 397.1 457.3 397.2 457.3 397.3 457.2 397.5 457.1 397.6 457.1 397.7 457 397.8 457 397.9 457 398.1 457 398.2 457 398.3 457.1 398.4 457.1 399.5 457.5 399.6 457.5 399.7 457.6 399.8 457.7 399.9 457.8 400 457.9 400.1 458 400.1 458.1 400.2 458.2 400.2 458.3 400.2 458.4 400.3 458.6 400.3 458.7 400.3 458.8 400.2 458.9 400.2 459.1 400.2 459.2 400.1 459.3 400 459.4 400 459.5 396.9 463.1 396.8 463.2 396.7 463.3 396.6 463.4 396.5 463.4 396.4 463.5 396.2 463.5 396.1 463.5 387.2 465 387.1 465 387 465 386.9 465 386.7 465 386.6 465 386.5 464.9 386.4 464.9 386.3 464.8 380.8 460.7 380.7 460.6 380.6 460.5 380.5 460.4 380.5 460.3 380.4 460.2 380.3 460.1 380.3 460 378.2 451.7 378.2 451.6 378.2 451.4 378.2 451.3 378.2 451.2 378.2 451.1 378.3 450.9 378.3 450.8 378.4 450.7 378.5 450.6 378.5 450.5 378.6 450.4 378.7 450.4 378.8 450.3 378.9 450.2 379 450.2 379.2 450.2 379.3 450.1 379.4 450.1 379.5 450.1 379.7 450.1 379.8 450.2 379.9 450.2 387.8 453ZM363.8 391.4 363.9 391.5 363.9 391.6 364 391.7 364 391.8 364.1 391.9 364.2 392 364.3 392 364.4 392.1 364.5 392.1 364.6 392.2 364.7 392.2 364.9 392.2 365 392.2 365.1 392.2 365.2 392.2 365.4 392.2 365.5 392.1 365.6 392.1 365.7 392 365.8 392 365.9 391.9 366 391.8 366 391.7 366.1 391.6 366.1 391.5 366.2 391.4 366.2 391.3 366.2 391.1 366.2 391 366.2 390.9 365.2 379.9 365.2 379.8 365.2 379.6 365.1 379.5 365.1 379.4 365 379.3 365 379.2 364.9 379.1 364.8 379 364.7 379 364.6 378.9 364.5 378.9 364.4 378.8 364.3 378.8 364.1 378.8 364 378.8 363.9 378.8 363.8 378.8 363.6 378.8 363.5 378.9 363.4 378.9 363.3 379 363.2 379 363.1 379.1 363 379.2 363 379.3 362.9 379.4 362.9 379.5 362.8 379.6 362.8 379.7 362.8 379.9 362.8 380 362.8 380.1 363.8 391.1 363.8 391.2 363.8 391.4Z" fill="#7E2F8E" fill-opacity="0.6" fill-rule="evenodd"/>
<path d="M444.2 425.2h6.2M447.3 422.1v6.2M448.9 421.1h6.2M452 418v6.2M451.7 417h6.2M454.8 413.9v6.2M452.4 387.7h6.2M455.5 384.6v6.2M369.3 406.4h6.2M372.4 403.3v6.2M373.6 405.6h6.2M376.7 402.5v6.2M407.4 402.7h6.2M410.5 399.6v6.2M479.4 355h6.2M482.5 351.9v6.2M356.9 437h6.2M360 433.9v6.2M390.4 448.8h6.2M393.5 445.7v6.2M376.9 445.7h6.2M380 442.6v6.2M362.3 383.8h6.2M365.4 380.7v6.2M360.3 380.8h6.2M363.4 377.7v6.2M393.2 451.4h6.2M396.3 448.3v6.2M369 440.3h6.2M372.1 437.2v6.2M363.3 427.2h6.2M366.4 424.1v6.2M372.4 450h6.2M375.5 446.9v6.2M378.3 445.1h6.2M381.4 442v6.2M364.6 429.9h6.2M367.7 426.8v6.2M362.6 409.7h6.2M365.7 406.6v6.2M382 445.5h6.2M385.1 442.4v6.2M361.8 410.7h6.2M364.9 407.6v6.2M374 445h6.2M377.1 441.9v6.2M360.6 419.6h6.2M363.7 416.5v6.2M362.2 423.6h6.2M365.3 420.5v6.2M381.2 457.8h6.2M384.3 454.7v6.2M364.3 416h6.2M367.4 412.9v6.2M387.8 454.1h6.2M390.9 451v6.2M375.4 453.2h6.2M378.5 450.1v6.2M366.2 430.4h6.2M369.3 427.3v6.2M396.7 467.1h6.2M399.8 464v6.2M400.5 463h6.2M403.6 459.9v6.2M366.5 431.9h6.2M369.6 428.8v6.2M374.4 460.3h6.2M377.5 457.2v6.2M366.5 425.9h6.2M369.6 422.8v6.2M363.5 415.6h6.2M366.6 412.5v6.2M388.4 451.1h6.2M391.5 448v6.2M361.9 418.5h6.2M365 415.4v6.2M370.5 452.2h6.2M373.6 449.1v6.2M382.2 469.1h6.2M385.3 466v6.2M364.1 412.1h6.2M367.2 409v6.2M369.7 442.5h6.2M372.8 439.4v6.2M363.6 419h6.2M366.7 415.9v6.2M385 450.4h6.2M388.1 447.3v6.2M364 433.2h6.2M367.1 430.1v6.2M365.3 415.9h6.2M368.4 412.8v6.2M366.9 405.5h6.2M370 402.4v6.2M366.6 428.9h6.2M369.7 425.8v6.2M363 421.5h6.2M366.1 418.4v6.2M362.5 419.1h6.2M365.6 416v6.2M386.9 450.2h6.2M390 447.1v6.2M365.8 415.2h6.2M368.9 412.1v6.2M364 417.9h6.2M367.1 414.8v6.2M362.4 424.6h6.2M365.5 421.5v6.2M401.8 454.1h6.2M404.9 451v6.2M381.4 466.7h6.2M384.5 463.6v6.2M362.7 407.2h6.2M365.8 404.1v6.2M374.7 451h6.2M377.8 447.9v6.2M378.3 448.9h6.2M381.4 445.8v6.2M361.9 384.2h6.2M365 381.1v6.2M377.7 461.9h6.2M380.8 458.8v6.2M367.7 439h6.2M370.8 435.9v6.2M394.3 450h6.2M397.4 446.9v6.2M379 447.3h6.2M382.1 444.2v6.2M377.4 446.6h6.2M380.5 443.5v6.2M395.3 462.5h6.2M398.4 459.4v6.2M365.8 417.4h6.2M368.9 414.3v6.2M362.9 407.1h6.2M366 404v6.2M397.6 454.2h6.2M400.7 451.1v6.2M361.9 390.3h6.2M365 387.2v6.2M372.8 447.1h6.2M375.9 444v6.2M365.1 415.1h6.2M368.2 412v6.2M390.9 455.5h6.2M394 452.4v6.2M387.7 449.4h6.2M390.8 446.3v6.2M391.1 450.8h6.2M394.2 447.7v6.2M384.7 467.6h6.2M387.8 464.5v6.2M384.9 447.4h6.2M388 444.3v6.2M363.9 414.6h6.2M367 411.5v6.2M382.4 459.4h6.2M385.5 456.3v6.2M371.8 457.7h6.2M374.9 454.6v6.2M367 432.9h6.2M370.1 429.8v6.2M368.7 434.9h6.2M371.8 431.8v6.2M366.2 414.1h6.2M369.3 411v6.2M384.2 465.8h6.2M387.3 462.7v6.2M394 452h6.2M397.1 448.9v6.2M362.1 430.2h6.2M365.2 427.1v6.2M377.1 462h6.2M380.2 458.9v6.2M371.5 452.6h6.2M374.6 449.5v6.2M375.7 443.9h6.2M378.8 440.8v6.2M360.9 425.7h6.2M364 422.6v6.2M367.1 409.2h6.2M370.2 406.1v6.2M373.2 454.8h6.2M376.3 451.7v6.2M386.2 455.3h6.2M389.3 452.2v6.2M376.6 448.6h6.2M379.7 445.5v6.2M368.1 443.2h6.2M371.2 440.1v6.2M362.7 427.5h6.2M365.8 424.4v6.2M364.9 415.6h6.2M368 412.5v6.2M373.1 463.5h6.2M376.2 460.4v6.2M371.7 455.2h6.2M374.8 452.1v6.2M396.5 465.8h6.2M399.6 462.7v6.2M371.9 446.5h6.2M375 443.4v6.2M366.5 415.6h6.2M369.6 412.5v6.2M383.1 459.8h6.2M386.2 456.7v6.2M392 468.7h6.2M395.1 465.6v6.2M395.1 465.7h6.2M398.2 462.6v6.2M398.6 452.3h6.2M401.7 449.2v6.2M365 404.7h6.2M368.1 401.6v6.2M392.4 458.6h6.2M395.5 455.5v6.2M361.6 386.8h6.2M364.7 383.7v6.2M402.5 459.5h6.2M405.6 456.4v6.2M383.9 469.3h6.2M387 466.2v6.2M397.6 453.1h6.2M400.7 450v6.2M387.9 449.6h6.2M391 446.5v6.2M393.9 453.8h6.2M397 450.7v6.2M386 459.2h6.2M389.1 456.1v6.2M367.7 403.7h6.2M370.8 400.6v6.2M386.2 454.7h6.2M389.3 451.6v6.2M363.3 427.2h6.2M366.4 424.1v6.2M392.9 467.7h6.2M396 464.6v6.2M372.2 450.4h6.2M375.3 447.3v6.2M374.5 451.1h6.2M377.6 448v6.2M400.2 452.4h6.2M403.3 449.3v6.2M372 460.7h6.2M375.1 457.6v6.2M373.2 462.3h6.2M376.3 459.2v6.2M388 450.8h6.2M391.1 447.7v6.2M366.1 418.8h6.2M369.2 415.7v6.2M363.6 413.5h6.2M366.7 410.4v6.2M372.2 454.9h6.2M375.3 451.8v6.2M374.6 449.9h6.2M377.7 446.8v6.2M376.3 448.6h6.2M379.4 445.5v6.2M368.4 441.6h6.2M371.5 438.5v6.2M362 380.4h6.2M365.1 377.3v6.2M364.5 435.2h6.2M367.6 432.1v6.2M364.5 409.6h6.2M367.6 406.5v6.2M374.5 443.9h6.2M377.6 440.8v6.2M387.8 454.6h6.2M390.9 451.5v6.2M380.6 458.3h6.2M383.7 455.2v6.2M378 462.8h6.2M381.1 459.7v6.2M363.9 428.4h6.2M367 425.3v6.2M397.7 460.1h6.2M400.8 457v6.2M387.6 451.6h6.2M390.7 448.5v6.2M362 423h6.2M365.1 419.9v6.2M392.6 451.5h6.2M395.7 448.4v6.2M374.5 443.8h6.2M377.6 440.7v6.2M387.3 456.8h6.2M390.4 453.7v6.2M361.3 390.9h6.2M364.4 387.8v6.2M378.7 464.9h6.2M381.8 461.8v6.2M363.9 436.2h6.2M367 433.1v6.2M373.9 442.9h6.2M377 439.8v6.2M387.4 466.9h6.2M390.5 463.8v6.2M402.1 458.6h6.2M405.2 455.5v6.2M369.3 444.7h6.2M372.4 441.6v6.2M374.9 453h6.2M378 449.9v6.2M360.4 381.1h6.2M363.5 378v6.2M388.7 466h6.2M391.8 462.9v6.2M390.1 458.6h6.2M393.2 455.5v6.2M383.1 450.1h6.2M386.2 447v6.2M367.5 407.4h6.2M370.6 404.3v6.2M361.6 417.6h6.2M364.7 414.5v6.2M375.9 460.9h6.2M379 457.8v6.2M383 465.3h6.2M386.1 462.2v6.2M377.1 443.8h6.2M380.2 440.7v6.2M360.7 418.9h6.2M363.8 415.8v6.2M368.5 443h6.2M371.6 439.9v6.2M395.6 453.6h6.2M398.7 450.5v6.2M376.4 447h6.2M379.5 443.9v6.2M371 454.8h6.2M374.1 451.7v6.2M389.2 453.3h6.2M392.3 450.2v6.2M397 457.7h6.2M400.1 454.6v6.2M371.8 456.8h6.2M374.9 453.7v6.2M400.5 455.3h6.2M403.6 452.2v6.2M388.9 453.4h6.2M392 450.3v6.2M387.5 466.9h6.2M390.6 463.8v6.2M380.4 448h6.2M383.5 444.9v6.2M373.3 448.2h6.2M376.4 445.1v6.2M378.5 444.2h6.2M381.6 441.1v6.2M399.3 464.6h6.2M402.4 461.5v6.2M362.4 390h6.2M365.5 386.9v6.2M370.2 439h6.2M373.3 435.9v6.2M370 446.4h6.2M373.1 443.3v6.2M368 422.2h6.2M371.1 419.1v6.2M398.6 450.2h6.2M401.7 447.1v6.2M370 447.6h6.2M373.1 444.5v6.2M362.9 435.4h6.2M366 432.3v6.2M367.4 444.1h6.2M370.5 441v6.2M381.3 450.7h6.2M384.4 447.6v6.2M382.8 466h6.2M385.9 462.9v6.2M378.6 451.1h6.2M381.7 448v6.2M382.1 462.2h6.2M385.2 459.1v6.2M398.5 467h6.2M401.6 463.9v6.2M366.9 426.3h6.2M370 423.2v6.2M358.6 421.3h6.2M361.7 418.2v6.2M386.9 459.8h6.2M390 456.7v6.2M366.2 401.7h6.2M369.3 398.6v6.2M388.6 449h6.2M391.7 445.9v6.2M367.7 413.1h6.2M370.8 410v6.2M369.8 438.4h6.2M372.9 435.3v6.2M379.2 459.7h6.2M382.3 456.6v6.2M390.9 470.6h6.2M394 467.5v6.2M372.7 441.6h6.2M375.8 438.5v6.2M390.6 470.6h6.2M393.7 467.5v6.2M371.9 464.5h6.2M375 461.4v6.2M403.5 460.3h6.2M406.6 457.2v6.2" fill="none" stroke="#7E2F8E" stroke-width="1.0"/>
<path d="M381.6 306.2 388.1 306.7 388.3 306.7 388.5 306.8 388.6 306.8 388.8 306.9 388.9 307 389.1 307.1 389.2 307.2 389.3 307.3 389.4 307.4 389.5 307.6 389.6 307.7 389.7 307.9 389.7 308 389.8 308.2 389.8 308.4 389.8 308.6 389.8 308.7 389.8 308.9 389.7 309.1 389 311.2 391.4 314.8 398.5 321.9 403.7 326.2 408.7 328.8 415.1 329.5 418 327.7 417.3 323.5 417.3 323.3 417.3 323.1 417.3 322.9 417.4 322.7 417.4 322.5 419.2 317.9 419.3 317.8 419.4 317.6 419.5 317.5 419.6 317.4 419.7 317.3 419.8 317.2 420 317.1 420.1 317 425.6 314.3 425.8 314.2 425.9 314.2 426.1 314.1 426.3 314.1 426.4 314.1 426.6 314.1 433.6 315 441.8 314.2 442.8 312.8 438.2 310.2 438 310.1 437.9 309.9 437.8 309.8 437.6 309.7 433.7 304.3 431.1 304.8 427.9 309.6 427.8 309.7 427.7 309.9 427.6 310 427.4 310.1 427.3 310.2 427.1 310.3 427 310.3 426.8 310.4 426.6 310.4 426.4 310.4 426.3 310.4 426.1 310.4 425.9 310.3 425.8 310.3 425.6 310.2 422 308.5 416.7 306.7 411.2 304.9 411.1 304.8 410.9 304.8 410.8 304.7 410.6 304.6 410.5 304.5 407 300.9 402.4 297.9 397.9 299.4 397.7 299.5 397.5 299.5 397.3 299.5 397.2 299.5 397 299.5 396.8 299.4 396.6 299.4 396.5 299.3 396.3 299.2 396.2 299.1 396 299 395.9 298.9 395.8 298.7 392.7 294.1 387.1 294.1 382.6 298.6 381.1 305.9 381.6 306.2ZM426.2 291.4 426.2 291.3 426.2 291.2 426.2 291.2 426.1 291.1 426.1 291 426 291 426 290.9 425.9 290.8 425.8 290.7 425.7 290.6 425.6 290.4 425.4 290.3 425.3 290.2 425.1 290.1 424.9 290 424.7 289.9 424.5 289.8 424.3 289.7 424 289.6 423.8 289.5 423.5 289.4 423.2 289.3 423 289.3 422.7 289.2 422.4 289.2 422.1 289.1 421.8 289.1 421.5 289 421.1 289 420.8 289 420.5 289 420.2 289 419.9 289 419.5 289 419.2 289.1 418.9 289.1 418.6 289.2 418.3 289.2 418 289.3 417.8 289.3 417.5 289.4 417.2 289.5 417 289.6 416.7 289.7 416.5 289.8 416.3 289.9 416.1 290 415.9 290.1 415.7 290.2 415.6 290.3 415.4 290.4 415.3 290.6 415.2 290.7 415.1 290.8 415 290.9 415 291 414.9 291 414.9 291.1 414.8 291.2 414.8 291.2 414.8 291.3 414.8 291.4 414.8 291.4 414.8 291.4 414.8 291.5 414.8 291.6 414.8 291.6 414.9 291.7 414.9 291.8 415 291.8 415 291.9 415.1 292 415.2 292.1 415.3 292.2 415.4 292.4 415.6 292.5 415.7 292.6 415.9 292.7 416.1 292.8 416.3 292.9 416.5 293 416.7 293.1 417 293.2 417.2 293.3 417.5 293.4 417.8 293.5 418 293.5 418.3 293.6 418.6 293.6 418.9 293.7 419.2 293.7 419.5 293.8 419.9 293.8 420.2 293.8 420.5 293.8 420.8 293.8 421.1 293.8 421.5 293.8 421.8 293.7 422.1 293.7 422.4 293.6 422.7 293.6 423 293.5 423.2 293.5 423.5 293.4 423.8 293.3 424 293.2 424.3 293.1 424.5 293 424.7 292.9 424.9 292.8 425.1 292.7 425.3 292.6 425.4 292.5 425.6 292.4 425.7 292.2 425.8 292.1 425.9 292 426 291.9 426 291.8 426.1 291.8 426.1 291.7 426.2 291.6 426.2 291.6 426.2 291.5 426.2 291.4 426.2 291.4 426.2 291.4Z" fill="#4DBEEE" fill-opacity="0.85" fill-rule="evenodd"/>
<path d="M409.3 321.6h5.4M412 318.9v5.4M410.1 319.6l3.9 3.9M410.1 323.5l3.9 -3.9M430.5 305.6h5.4M433.2 302.9v5.4M431.3 303.6l3.9 3.9M431.3 307.5l3.9 -3.9M399.5 315.9h5.4M402.2 313.2v5.4M400.3 314l3.9 3.9M400.3 317.8l3.9 -3.9M405.9 319.7h5.4M408.6 317v5.4M406.7 317.7l3.9 3.9M406.7 321.6l3.9 -3.9M435.5 311.7h5.4M438.2 309v5.4M436.3 309.7l3.9 3.9M436.3 313.6l3.9 -3.9M391.2 316.9h5.4M393.9 314.2v5.4M392 314.9l3.9 3.9M392 318.8l3.9 -3.9M381 305.1h5.4M383.7 302.4v5.4M381.7 303.2l3.9 3.9M381.7 307l3.9 -3.9M396 315.6h5.4M398.7 312.9v5.4M396.8 313.6l3.9 3.9M396.8 317.5l3.9 -3.9M410.6 311.7h5.4M413.3 309v5.4M411.4 309.7l3.9 3.9M411.4 313.6l3.9 -3.9M395.9 303.8h5.4M398.6 301.1v5.4M396.6 301.9l3.9 3.9M396.6 305.8l3.9 -3.9M397.8 303.5h5.4M400.5 300.8v5.4M398.6 301.6l3.9 3.9M398.6 305.4l3.9 -3.9M402.4 303.2h5.4M405.1 300.5v5.4M403.2 301.2l3.9 3.9M403.2 305.1l3.9 -3.9M387.4 308h5.4M390.1 305.3v5.4M388.2 306l3.9 3.9M388.2 309.9l3.9 -3.9M406.9 326.2h5.4M409.6 323.5v5.4M407.7 324.2l3.9 3.9M407.7 328.1l3.9 -3.9M395.2 311.1h5.4M397.9 308.4v5.4M396 309.2l3.9 3.9M396 313l3.9 -3.9M385.8 303.6h5.4M388.5 300.9v5.4M386.5 301.7l3.9 3.9M386.5 305.6l3.9 -3.9M420 309.2h5.4M422.7 306.5v5.4M420.7 307.2l3.9 3.9M420.7 311.1l3.9 -3.9M397 304.1h5.4M399.7 301.4v5.4M397.7 302.1l3.9 3.9M397.7 306l3.9 -3.9M429.2 314.4h5.4M431.9 311.7v5.4M429.9 312.5l3.9 3.9M429.9 316.4l3.9 -3.9M408 317.2h5.4M410.7 314.5v5.4M408.8 315.3l3.9 3.9M408.8 319.2l3.9 -3.9M390 314.1h5.4M392.7 311.4v5.4M390.7 312.1l3.9 3.9M390.7 316l3.9 -3.9M409.7 321.7h5.4M412.4 319v5.4M410.5 319.7l3.9 3.9M410.5 323.6l3.9 -3.9M398.5 301.7h5.4M401.2 299v5.4M399.3 299.8l3.9 3.9M399.3 303.6l3.9 -3.9M398.1 320.8h5.4M400.8 318.1v5.4M398.9 318.9l3.9 3.9M398.9 322.7l3.9 -3.9M408.1 321.4h5.4M410.8 318.7v5.4M408.9 319.4l3.9 3.9M408.9 323.3l3.9 -3.9M431.9 307.1h5.4M434.6 304.4v5.4M432.7 305.2l3.9 3.9M432.7 309l3.9 -3.9M406.7 311.5h5.4M409.4 308.8v5.4M407.5 309.5l3.9 3.9M407.5 313.4l3.9 -3.9M394.8 317.9h5.4M397.5 315.2v5.4M395.5 316l3.9 3.9M395.5 319.9l3.9 -3.9M416.2 311.2h5.4M418.9 308.5v5.4M417 309.2l3.9 3.9M417 313.1l3.9 -3.9M429.1 307.7h5.4M431.8 305v5.4M429.8 305.8l3.9 3.9M429.8 309.7l3.9 -3.9M389.5 297.9h5.4M392.2 295.2v5.4M390.2 295.9l3.9 3.9M390.2 299.8l3.9 -3.9M411.5 306.7h5.4M414.2 304v5.4M412.3 304.7l3.9 3.9M412.3 308.6l3.9 -3.9M417.7 315.9h5.4M420.4 313.2v5.4M418.5 314l3.9 3.9M418.5 317.9l3.9 -3.9M432.7 307.4h5.4M435.4 304.7v5.4M433.4 305.4l3.9 3.9M433.4 309.3l3.9 -3.9M406.4 309.4h5.4M409.1 306.7v5.4M407.2 307.4l3.9 3.9M407.2 311.3l3.9 -3.9M433.7 309.2h5.4M436.4 306.5v5.4M434.5 307.3l3.9 3.9M434.5 311.2l3.9 -3.9M411.1 325.8h5.4M413.8 323.1v5.4M411.8 323.9l3.9 3.9M411.8 327.8l3.9 -3.9M410.8 323.6h5.4M413.5 320.9v5.4M411.6 321.6l3.9 3.9M411.6 325.5l3.9 -3.9M396.6 301.5h5.4M399.3 298.8v5.4M397.4 299.5l3.9 3.9M397.4 303.4l3.9 -3.9M393 302.4h5.4M395.7 299.7v5.4M393.8 300.5l3.9 3.9M393.8 304.4l3.9 -3.9M419.7 314.2h5.4M422.4 311.5v5.4M420.5 312.2l3.9 3.9M420.5 316.1l3.9 -3.9M409.3 323.5h5.4M412 320.8v5.4M410 321.6l3.9 3.9M410 325.4l3.9 -3.9M413.8 319.3h5.4M416.5 316.6v5.4M414.6 317.4l3.9 3.9M414.6 321.2l3.9 -3.9M426.4 310.2h5.4M429.1 307.5v5.4M427.1 308.3l3.9 3.9M427.1 312.2l3.9 -3.9M389.6 298.8h5.4M392.3 296.1v5.4M390.3 296.9l3.9 3.9M390.3 300.7l3.9 -3.9M387.9 296.6h5.4M390.6 293.9v5.4M388.7 294.7l3.9 3.9M388.7 298.6l3.9 -3.9M395.2 313.9h5.4M397.9 311.2v5.4M395.9 312l3.9 3.9M395.9 315.9l3.9 -3.9M428.7 311.3h5.4M431.4 308.6v5.4M429.5 309.3l3.9 3.9M429.5 313.2l3.9 -3.9M409.1 326.5h5.4M411.8 323.8v5.4M409.9 324.5l3.9 3.9M409.9 328.4l3.9 -3.9M411.9 310.9h5.4M414.6 308.2v5.4M412.7 309l3.9 3.9M412.7 312.9l3.9 -3.9M394.3 317.1h5.4M397 314.4v5.4M395 315.1l3.9 3.9M395 319l3.9 -3.9M428.2 309.5h5.4M430.9 306.8v5.4M429 307.5l3.9 3.9M429 311.4l3.9 -3.9M410.6 320.2h5.4M413.3 317.5v5.4M411.3 318.3l3.9 3.9M411.3 322.1l3.9 -3.9M404.6 312.2h5.4M407.3 309.5v5.4M405.4 310.2l3.9 3.9M405.4 314.1l3.9 -3.9M412.1 324.7h5.4M414.8 322v5.4M412.8 322.7l3.9 3.9M412.8 326.6l3.9 -3.9M400.8 317.2h5.4M403.5 314.5v5.4M401.5 315.3l3.9 3.9M401.5 319.2l3.9 -3.9M401.8 319.3h5.4M404.5 316.6v5.4M402.5 317.4l3.9 3.9M402.5 321.3l3.9 -3.9M405.6 313.3h5.4M408.3 310.6v5.4M406.4 311.4l3.9 3.9M406.4 315.3l3.9 -3.9M406.7 324.6h5.4M409.4 321.9v5.4M407.4 322.6l3.9 3.9M407.4 326.5l3.9 -3.9M396.3 313.4h5.4M399 310.7v5.4M397.1 311.4l3.9 3.9M397.1 315.3l3.9 -3.9M427.9 307.8h5.4M430.6 305.1v5.4M428.6 305.8l3.9 3.9M428.6 309.7l3.9 -3.9M382.7 305.6h5.4M385.4 302.9v5.4M383.4 303.7l3.9 3.9M383.4 307.5l3.9 -3.9M398.1 315.7h5.4M400.8 313v5.4M398.8 313.8l3.9 3.9M398.8 317.7l3.9 -3.9M411 324.5h5.4M413.7 321.8v5.4M411.8 322.6l3.9 3.9M411.8 326.5l3.9 -3.9M414.6 315.8h5.4M417.3 313.1v5.4M415.3 313.9l3.9 3.9M415.3 317.7l3.9 -3.9M393.8 307.7h5.4M396.5 305v5.4M394.5 305.8l3.9 3.9M394.5 309.6l3.9 -3.9M430.4 308.5h5.4M433.1 305.8v5.4M431.2 306.6l3.9 3.9M431.2 310.5l3.9 -3.9M390.1 300.1h5.4M392.8 297.4v5.4M390.9 298.1l3.9 3.9M390.9 302l3.9 -3.9M386.4 301.5h5.4M389.1 298.8v5.4M387.2 299.5l3.9 3.9M387.2 303.4l3.9 -3.9M404.3 323.6h5.4M407 320.9v5.4M405 321.6l3.9 3.9M405 325.5l3.9 -3.9M414 307.1h5.4M416.7 304.4v5.4M414.8 305.2l3.9 3.9M414.8 309.1l3.9 -3.9M387.4 299.4h5.4M390.1 296.7v5.4M388.1 297.5l3.9 3.9M388.1 301.4l3.9 -3.9M411.1 320.2h5.4M413.8 317.5v5.4M411.9 318.3l3.9 3.9M411.9 322.2l3.9 -3.9M412.9 323.4h5.4M415.6 320.7v5.4M413.7 321.5l3.9 3.9M413.7 325.3l3.9 -3.9M395.2 308h5.4M397.9 305.3v5.4M396 306.1l3.9 3.9M396 309.9l3.9 -3.9M432.3 306.6h5.4M435 303.9v5.4M433 304.6l3.9 3.9M433 308.5l3.9 -3.9M408.9 316.7h5.4M411.6 314v5.4M409.7 314.7l3.9 3.9M409.7 318.6l3.9 -3.9M399.9 301.6h5.4M402.6 298.9v5.4M400.7 299.6l3.9 3.9M400.7 303.5l3.9 -3.9M397.9 313.5h5.4M400.6 310.8v5.4M398.7 311.6l3.9 3.9M398.7 315.5l3.9 -3.9M403.5 325.1h5.4M406.2 322.4v5.4M404.3 323.2l3.9 3.9M404.3 327.1l3.9 -3.9M384.4 297.9h5.4M387.1 295.2v5.4M385.2 296l3.9 3.9M385.2 299.8l3.9 -3.9M404.5 324.4h5.4M407.2 321.7v5.4M405.3 322.4l3.9 3.9M405.3 326.3l3.9 -3.9M419.1 315.6h5.4M421.8 312.9v5.4M419.9 313.6l3.9 3.9M419.9 317.5l3.9 -3.9M406.3 323.8h5.4M409 321.1v5.4M407 321.9l3.9 3.9M407 325.7l3.9 -3.9M384.9 302.5h5.4M387.6 299.8v5.4M385.7 300.6l3.9 3.9M385.7 304.5l3.9 -3.9M390.7 298.1h5.4M393.4 295.4v5.4M391.5 296.2l3.9 3.9M391.5 300.1l3.9 -3.9M392.2 307.4h5.4M394.9 304.7v5.4M392.9 305.4l3.9 3.9M392.9 309.3l3.9 -3.9M382.7 299.5h5.4M385.4 296.8v5.4M383.5 297.6l3.9 3.9M383.5 301.5l3.9 -3.9M393 309.1h5.4M395.7 306.4v5.4M393.8 307.1l3.9 3.9M393.8 311l3.9 -3.9M404.3 305.1h5.4M407 302.4v5.4M405.1 303.1l3.9 3.9M405.1 307l3.9 -3.9M433.6 313.5h5.4M436.3 310.8v5.4M434.4 311.6l3.9 3.9M434.4 315.5l3.9 -3.9M390.8 306.3h5.4M393.5 303.6v5.4M391.6 304.3l3.9 3.9M391.6 308.2l3.9 -3.9M383.5 306.3h5.4M386.2 303.6v5.4M384.2 304.4l3.9 3.9M384.2 308.3l3.9 -3.9M398.3 308.9h5.4M401 306.2v5.4M399 307l3.9 3.9M399 310.9l3.9 -3.9M404.5 307.2h5.4M407.2 304.5v5.4M405.2 305.3l3.9 3.9M405.2 309.2l3.9 -3.9M431 313.7h5.4M433.7 311v5.4M431.7 311.8l3.9 3.9M431.7 315.7l3.9 -3.9M413.9 323.5h5.4M416.6 320.8v5.4M414.6 321.5l3.9 3.9M414.6 325.4l3.9 -3.9M419.7 313.8h5.4M422.4 311.1v5.4M420.4 311.9l3.9 3.9M420.4 315.8l3.9 -3.9M411.8 315.8h5.4M414.5 313.1v5.4M412.5 313.9l3.9 3.9M412.5 317.8l3.9 -3.9M414.1 310.5h5.4M416.8 307.8v5.4M414.9 308.6l3.9 3.9M414.9 312.4l3.9 -3.9M404 313.3h5.4M406.7 310.6v5.4M404.7 311.3l3.9 3.9M404.7 315.2l3.9 -3.9M380.6 304.5h5.4M383.3 301.8v5.4M381.4 302.5l3.9 3.9M381.4 306.4l3.9 -3.9M399.2 298.3h5.4M401.9 295.6v5.4M399.9 296.4l3.9 3.9M399.9 300.3l3.9 -3.9M400.4 324.5h5.4M403.1 321.8v5.4M401.1 322.5l3.9 3.9M401.1 326.4l3.9 -3.9M429.9 314.3h5.4M432.6 311.6v5.4M430.6 312.4l3.9 3.9M430.6 316.3l3.9 -3.9M436.3 312.2h5.4M439 309.5v5.4M437 310.3l3.9 3.9M437 314.2l3.9 -3.9M390.4 295.4h5.4M393.1 292.7v5.4M391.1 293.4l3.9 3.9M391.1 297.3l3.9 -3.9M395.5 303.2h5.4M398.2 300.5v5.4M396.3 301.2l3.9 3.9M396.3 305.1l3.9 -3.9M433.5 309.5h5.4M436.2 306.8v5.4M434.3 307.6l3.9 3.9M434.3 311.5l3.9 -3.9M418.6 310.5h5.4M421.3 307.8v5.4M419.3 308.5l3.9 3.9M419.3 312.4l3.9 -3.9M400.4 306.3h5.4M403.1 303.6v5.4M401.2 304.4l3.9 3.9M401.2 308.3l3.9 -3.9M393.7 303.3h5.4M396.4 300.6v5.4M394.4 301.4l3.9 3.9M394.4 305.3l3.9 -3.9M409.4 316h5.4M412.1 313.3v5.4M410.2 314l3.9 3.9M410.2 317.9l3.9 -3.9M390.9 297.8h5.4M393.6 295.1v5.4M391.7 295.9l3.9 3.9M391.7 299.8l3.9 -3.9M396.1 310.9h5.4M398.8 308.2v5.4M396.9 309l3.9 3.9M396.9 312.9l3.9 -3.9M393.6 306.4h5.4M396.3 303.7v5.4M394.4 304.5l3.9 3.9M394.4 308.4l3.9 -3.9M399.8 316.2h5.4M402.5 313.5v5.4M400.6 314.2l3.9 3.9M400.6 318.1l3.9 -3.9M398.2 299.4h5.4M400.9 296.7v5.4M399 297.5l3.9 3.9M399 301.4l3.9 -3.9M404 304.7h5.4M406.7 302v5.4M404.8 302.7l3.9 3.9M404.8 306.6l3.9 -3.9M410.9 312.8h5.4M413.6 310.1v5.4M411.6 310.8l3.9 3.9M411.6 314.7l3.9 -3.9M402 306.1h5.4M404.7 303.4v5.4M402.8 304.2l3.9 3.9M402.8 308.1l3.9 -3.9M396.4 318.8h5.4M399.1 316.1v5.4M397.2 316.9l3.9 3.9M397.2 320.8l3.9 -3.9M409.2 318.6h5.4M411.9 315.9v5.4M410 316.6l3.9 3.9M410 320.5l3.9 -3.9M386.2 299.8h5.4M388.9 297.1v5.4M386.9 297.9l3.9 3.9M386.9 301.8l3.9 -3.9M381.9 301.7h5.4M384.6 299v5.4M382.6 299.7l3.9 3.9M382.6 303.6l3.9 -3.9M409.1 308h5.4M411.8 305.3v5.4M409.9 306.1l3.9 3.9M409.9 310l3.9 -3.9M391.5 302.3h5.4M394.2 299.6v5.4M392.2 300.4l3.9 3.9M392.2 304.3l3.9 -3.9M379.8 302.4h5.4M382.5 299.7v5.4M380.6 300.5l3.9 3.9M380.6 304.4l3.9 -3.9M402.5 314.5h5.4M405.2 311.8v5.4M403.2 312.5l3.9 3.9M403.2 316.4l3.9 -3.9M392.6 317.4h5.4M395.3 314.7v5.4M393.3 315.4l3.9 3.9M393.3 319.3l3.9 -3.9M402.9 326.4h5.4M405.6 323.7v5.4M403.6 324.5l3.9 3.9M403.6 328.4l3.9 -3.9M409 321.7h5.4M411.7 319v5.4M409.7 319.7l3.9 3.9M409.7 323.6l3.9 -3.9M417.3 291.6h5.4M420 288.9v5.4M418.1 289.6l3.9 3.9M418.1 293.5l3.9 -3.9M418.3 310.6h5.4M421 307.9v5.4M419 308.7l3.9 3.9M419 312.5l3.9 -3.9M387.1 296.3h5.4M389.8 293.6v5.4M387.8 294.3l3.9 3.9M387.8 298.2l3.9 -3.9M399.5 306.8h5.4M402.2 304.1v5.4M400.3 304.9l3.9 3.9M400.3 308.7l3.9 -3.9M392.4 306.1h5.4M395.1 303.4v5.4M393.1 304.2l3.9 3.9M393.1 308.1l3.9 -3.9M415 327.6h5.4M417.7 324.9v5.4M415.8 325.6l3.9 3.9M415.8 329.5l3.9 -3.9M402.2 306.2h5.4M404.9 303.5v5.4M402.9 304.2l3.9 3.9M402.9 308.1l3.9 -3.9M394.3 302.6h5.4M397 299.9v5.4M395.1 300.6l3.9 3.9M395.1 304.5l3.9 -3.9M415.6 293.1h5.4M418.3 290.4v5.4M416.4 291.2l3.9 3.9M416.4 295.1l3.9 -3.9M388.6 303.6h5.4M391.3 300.9v5.4M389.3 301.7l3.9 3.9M389.3 305.6l3.9 -3.9M405.9 326h5.4M408.6 323.3v5.4M406.7 324.1l3.9 3.9M406.7 327.9l3.9 -3.9M389.3 298.5h5.4M392 295.8v5.4M390.1 296.5l3.9 3.9M390.1 300.4l3.9 -3.9M409.2 317.1h5.4M411.9 314.4v5.4M410 315.2l3.9 3.9M410 319.1l3.9 -3.9M382.9 306.3h5.4M385.6 303.6v5.4M383.7 304.3l3.9 3.9M383.7 308.2l3.9 -3.9M425.4 313.7h5.4M428.1 311v5.4M426.1 311.8l3.9 3.9M426.1 315.7l3.9 -3.9M429.3 310.9h5.4M432 308.2v5.4M430.1 309l3.9 3.9M430.1 312.8l3.9 -3.9M398.1 323.2h5.4M400.8 320.5v5.4M398.8 321.3l3.9 3.9M398.8 325.2l3.9 -3.9M382.9 296h5.4M385.6 293.3v5.4M383.7 294l3.9 3.9M383.7 297.9l3.9 -3.9M403 321.2h5.4M405.7 318.5v5.4M403.8 319.2l3.9 3.9M403.8 323.1l3.9 -3.9M389 309.2h5.4M391.7 306.5v5.4M389.7 307.3l3.9 3.9M389.7 311.2l3.9 -3.9M398.3 303.9h5.4M401 301.2v5.4M399 301.9l3.9 3.9M399 305.8l3.9 -3.9M397.4 312.6h5.4M400.1 309.9v5.4M398.2 310.6l3.9 3.9M398.2 314.5l3.9 -3.9M404.8 307.6h5.4M407.5 304.9v5.4M405.6 305.7l3.9 3.9M405.6 309.5l3.9 -3.9M392.7 316.6h5.4M395.4 313.9v5.4M393.5 314.6l3.9 3.9M393.5 318.5l3.9 -3.9M387.5 312.2h5.4M390.2 309.5v5.4M388.3 310.3l3.9 3.9M388.3 314.2l3.9 -3.9M405.2 304.4h5.4M407.9 301.7v5.4M406 302.4l3.9 3.9M406 306.3l3.9 -3.9M412.6 328.6h5.4M415.3 325.9v5.4M413.3 326.7l3.9 3.9M413.3 330.6l3.9 -3.9M413.5 314.4h5.4M416.2 311.7v5.4M414.3 312.5l3.9 3.9M414.3 316.4l3.9 -3.9M399.7 314.9h5.4M402.4 312.2v5.4M400.4 312.9l3.9 3.9M400.4 316.8l3.9 -3.9M386.8 299.6h5.4M389.5 296.9v5.4M387.5 297.6l3.9 3.9M387.5 301.5l3.9 -3.9M426.7 308.3h5.4M429.4 305.6v5.4M427.5 306.3l3.9 3.9M427.5 310.2l3.9 -3.9M389.3 302.8h5.4M392 300.1v5.4M390.1 300.9l3.9 3.9M390.1 304.8l3.9 -3.9M393.2 309.5h5.4M395.9 306.8v5.4M394 307.6l3.9 3.9M394 311.5l3.9 -3.9M411.5 319.1h5.4M414.2 316.4v5.4M412.3 317.2l3.9 3.9M412.3 321l3.9 -3.9M417.9 289.9h5.4M420.6 287.2v5.4M418.6 288l3.9 3.9M418.6 291.9l3.9 -3.9M409.5 327h5.4M412.2 324.3v5.4M410.2 325l3.9 3.9M410.2 328.9l3.9 -3.9M402 316.7h5.4M404.7 314v5.4M402.8 314.8l3.9 3.9M402.8 318.7l3.9 -3.9M410.6 328.9h5.4M413.3 326.2v5.4M411.3 327l3.9 3.9M411.3 330.8l3.9 -3.9M430.3 310.1h5.4M433 307.4v5.4M431 308.1l3.9 3.9M431 312l3.9 -3.9M435.5 310.8h5.4M438.2 308.1v5.4M436.3 308.8l3.9 3.9M436.3 312.7l3.9 -3.9M388.6 309.4h5.4M391.3 306.7v5.4M389.4 307.4l3.9 3.9M389.4 311.3l3.9 -3.9M393 307.7h5.4M395.7 305v5.4M393.8 305.8l3.9 3.9M393.8 309.7l3.9 -3.9M417.7 314.2h5.4M420.4 311.5v5.4M418.4 312.3l3.9 3.9M418.4 316.2l3.9 -3.9M411 323.4h5.4M413.7 320.7v5.4M411.8 321.4l3.9 3.9M411.8 325.3l3.9 -3.9M386.6 305h5.4M389.3 302.3v5.4M387.3 303l3.9 3.9M387.3 306.9l3.9 -3.9M397 311.3h5.4M399.7 308.6v5.4M397.7 309.3l3.9 3.9M397.7 313.2l3.9 -3.9M387.3 298.5h5.4M390 295.8v5.4M388 296.6l3.9 3.9M388 300.5l3.9 -3.9M413.5 323.4h5.4M416.2 320.7v5.4M414.3 321.5l3.9 3.9M414.3 325.3l3.9 -3.9M392.7 307.6h5.4M395.4 304.9v5.4M393.4 305.6l3.9 3.9M393.4 309.5l3.9 -3.9M386.3 300.9h5.4M389 298.2v5.4M387.1 299l3.9 3.9M387.1 302.9l3.9 -3.9M387.6 300.4h5.4M390.3 297.7v5.4M388.3 298.5l3.9 3.9M388.3 302.3l3.9 -3.9M418.3 309h5.4M421 306.3v5.4M419.1 307.1l3.9 3.9M419.1 311l3.9 -3.9M414.2 324.2h5.4M416.9 321.5v5.4M414.9 322.3l3.9 3.9M414.9 326.2l3.9 -3.9M394.9 313.2h5.4M397.6 310.5v5.4M395.7 311.2l3.9 3.9M395.7 315.1l3.9 -3.9M419.2 293.9h5.4M421.9 291.2v5.4M419.9 292l3.9 3.9M419.9 295.9l3.9 -3.9M420.3 293.8h5.4M423 291.1v5.4M421.1 291.8l3.9 3.9M421.1 295.7l3.9 -3.9M379 306.5h5.4M381.7 303.8v5.4M379.8 304.5l3.9 3.9M379.8 308.4l3.9 -3.9M430.3 304h5.4M433 301.3v5.4M431.1 302.1l3.9 3.9M431.1 306l3.9 -3.9M435.9 311.6h5.4M438.6 308.9v5.4M436.6 309.7l3.9 3.9M436.6 313.6l3.9 -3.9M380.1 296.6h5.4M382.8 293.9v5.4M380.9 294.7l3.9 3.9M380.9 298.6l3.9 -3.9M381.5 294.9h5.4M384.2 292.2v5.4M382.2 293l3.9 3.9M382.2 296.8l3.9 -3.9M396.5 321.1h5.4M399.2 318.4v5.4M397.2 319.1l3.9 3.9M397.2 323l3.9 -3.9M412.4 330.3h5.4M415.1 327.6v5.4M413.2 328.4l3.9 3.9M413.2 332.3l3.9 -3.9M416.7 288.1h5.4M419.4 285.4v5.4M417.5 286.1l3.9 3.9M417.5 290l3.9 -3.9M412.1 329.2h5.4M414.8 326.5v5.4M412.8 327.3l3.9 3.9M412.8 331.2l3.9 -3.9M422.2 316h5.4M424.9 313.3v5.4M422.9 314.1l3.9 3.9M422.9 318l3.9 -3.9M390.2 295.8h5.4M392.9 293.1v5.4M390.9 293.9l3.9 3.9M390.9 297.8l3.9 -3.9M398.1 324.3h5.4M400.8 321.6v5.4M398.9 322.4l3.9 3.9M398.9 326.3l3.9 -3.9M404.6 299.5h5.4M407.3 296.8v5.4M405.3 297.6l3.9 3.9M405.3 301.5l3.9 -3.9M387.7 294.4h5.4M390.4 291.7v5.4M388.5 292.4l3.9 3.9M388.5 296.3l3.9 -3.9M417.4 306.4h5.4M420.1 303.7v5.4M418.2 304.4l3.9 3.9M418.2 308.3l3.9 -3.9M417.7 318h5.4M420.4 315.3v5.4M418.4 316l3.9 3.9M418.4 319.9l3.9 -3.9M396.1 297.8h5.4M398.8 295.1v5.4M396.8 295.9l3.9 3.9M396.8 299.7l3.9 -3.9M425.4 307h5.4M428.1 304.3v5.4M426.2 305.1l3.9 3.9M426.2 308.9l3.9 -3.9M427.6 306.3h5.4M430.3 303.6v5.4M428.4 304.3l3.9 3.9M428.4 308.2l3.9 -3.9M418.3 289.8h5.4M421 287.1v5.4M419.1 287.8l3.9 3.9M419.1 291.7l3.9 -3.9M418.5 317.5h5.4M421.2 314.8v5.4M419.3 315.5l3.9 3.9M419.3 319.4l3.9 -3.9M440.2 314.2h5.4M442.9 311.5v5.4M441 312.2l3.9 3.9M441 316.1l3.9 -3.9M416.7 308.2h5.4M419.4 305.5v5.4M417.5 306.2l3.9 3.9M417.5 310.1l3.9 -3.9M396.4 300.1h5.4M399.1 297.4v5.4M397.1 298.2l3.9 3.9M397.1 302.1l3.9 -3.9M381.5 298.6h5.4M384.2 295.9v5.4M382.3 296.6l3.9 3.9M382.3 300.5l3.9 -3.9" fill="none" stroke="#4DBEEE" stroke-width="1.0"/>
</g>
<path d="M333.5 497.6v-2.3M333.5 279.9v2.3M385.2 497.6v-2.3M385.2 279.9v2.3M436.9 497.6v-2.3M436.9 279.9v2.3M488.7 497.6v-2.3M488.7 279.9v2.3M540.4 497.6v-2.3M540.4 279.9v2.3M307.6 497.6h2.3M540.4 497.6h-2.3M307.6 473.4h2.3M540.4 473.4h-2.3M307.6 449.2h2.3M540.4 449.2h-2.3M307.6 425h2.3M540.4 425h-2.3M307.6 400.8h2.3M540.4 400.8h-2.3M307.6 376.7h2.3M540.4 376.7h-2.3M307.6 352.5h2.3M540.4 352.5h-2.3M307.6 328.3h2.3M540.4 328.3h-2.3M307.6 304.1h2.3M540.4 304.1h-2.3M307.6 279.9h2.3M540.4 279.9h-2.3" stroke="#262626" stroke-width="0.9" fill="none"/>
<rect x="307.6" y="279.9" width="232.79999999999995" height="217.70000000000005" fill="none" stroke="#262626" stroke-width="1.1"/>
<text x="333.5" y="511.7" font-size="10.1" text-anchor="middle" fill="#262626">-40</text>
<text x="385.2" y="511.7" font-size="10.1" text-anchor="middle" fill="#262626">-20</text>
<text x="436.9" y="511.7" font-size="10.1" text-anchor="middle" fill="#262626">0</text>
<text x="488.7" y="511.7" font-size="10.1" text-anchor="middle" fill="#262626">20</text>
<text x="540.4" y="511.7" font-size="10.1" text-anchor="middle" fill="#262626">40</text>
<text x="303" y="501.7" font-size="10.1" text-anchor="end" fill="#262626">-40</text>
<text x="303" y="477.5" font-size="10.1" text-anchor="end" fill="#262626">-30</text>
<text x="303" y="453.3" font-size="10.1" text-anchor="end" fill="#262626">-20</text>
<text x="303" y="429.1" font-size="10.1" text-anchor="end" fill="#262626">-10</text>
<text x="303" y="404.9" font-size="10.1" text-anchor="end" fill="#262626">0</text>
<text x="303" y="380.8" font-size="10.1" text-anchor="end" fill="#262626">10</text>
<text x="303" y="356.6" font-size="10.1" text-anchor="end" fill="#262626">20</text>
<text x="303" y="332.4" font-size="10.1" text-anchor="end" fill="#262626">30</text>
<text x="303" y="308.2" font-size="10.1" text-anchor="end" fill="#262626">40</text>
<text x="303" y="284" font-size="10.1" text-anchor="end" fill="#262626">50</text>
<text x="424" y="524.4" font-size="10.25" text-anchor="middle" fill="#262626">Dimension-1</text>
<text transform="translate(284.4 388.8) rotate(-90)" font-size="10.25" text-anchor="middle" fill="#262626">Dimension-2</text>
<text x="424" y="277.1" font-size="10.3" font-weight="bold" text-anchor="middle" fill="#000">(d) Raman: pre-processed data</text>
<rect x="314.7" y="285.7" width="59.3" height="73.8" fill="#fff" stroke="#262626" stroke-width="1"/>
<path d="M328.9 292.9a2.95 2.95 0 1 0 5.9 0a2.95 2.95 0 1 0 -5.9 0" fill="none" stroke="#D95319" stroke-width="0.8"/>
<text x="347.2" y="296.9" font-size="10.3" fill="#000">Cls-1</text>
<path d="M331.9 300.8l2.9 4.0 -2.9 4.0 -2.9 -4.0z" fill="none" stroke="#0072BD" stroke-width="0.8"/>
<text x="347.2" y="308.8" font-size="10.3" fill="#000">Cls-2</text>
<path d="M331.9 313.4l3.3 5.8h-6.6z" fill="none" stroke="#EDB120" stroke-width="0.8"/>
<text x="347.2" y="320.6" font-size="10.3" fill="#000">Cls-3</text>
<path d="M329.6 326.2h4.5v4.5h-4.5z" fill="none" stroke="#77AC30" stroke-width="0.8"/>
<text x="347.2" y="332.4" font-size="10.3" fill="#000">Cls-4</text>
<path d="M328.8 340.3h6.2M331.9 337.2v6.2" fill="none" stroke="#7E2F8E" stroke-width="0.8"/>
<text x="347.2" y="344.3" font-size="10.3" fill="#000">Cls-5</text>
<circle cx="331.9" cy="352.1" r="2.4" fill="#4DBEEE"/>
<text x="347.2" y="356.1" font-size="10.3" fill="#000">Cls-6</text>
<rect x="36.0" y="551.7" width="235.3" height="219.5999999999999" fill="#fff"/>
<clipPath id="ce"><rect x="35" y="550.7" width="237.3" height="221.6"/></clipPath>
<g clip-path="url(#ce)">
<path d="M119.5 656.4 119.5 656.3 119.5 656.1 119.5 656 119.4 655.9 119.4 655.8 119.4 655.7 119.3 655.5 119.3 655.4 119.2 655.3 119.2 655.2 119.1 655.1 119 655 118.9 654.9 118.9 654.8 118.8 654.7 118.7 654.6 118.6 654.6 118.5 654.5 118.4 654.4 118.3 654.3 118.2 654.3 118.1 654.2 118 654.2 117.8 654.1 117.7 654.1 117.6 654.1 117.5 654 117.4 654 117.2 654 117.1 654 117 654 116.9 654 116.8 654 116.6 654 116.5 654 116.4 654.1 116.3 654.1 116.2 654.1 116 654.2 115.9 654.2 115.8 654.3 115.7 654.3 115.6 654.4 115.5 654.5 115.4 654.6 115.3 654.6 115.2 654.7 115.1 654.8 115.1 654.9 115 655 114.9 655.1 114.8 655.2 114.8 655.3 114.7 655.4 114.7 655.5 114.6 655.7 114.6 655.8 114.6 655.9 114.5 656 114.5 656.1 114.5 656.3 114.5 656.4 114.5 656.5 114.5 656.6 114.5 656.7 114.5 656.9 114.5 657 114.6 657.1 114.6 657.2 114.6 657.3 114.7 657.5 114.7 657.6 114.8 657.7 114.8 657.8 114.9 657.9 115 658 115.1 658.1 115.1 658.2 115.2 658.3 115.3 658.4 115.4 658.4 115.5 658.5 115.6 658.6 115.7 658.7 115.8 658.7 115.9 658.8 116 658.8 116.2 658.9 116.3 658.9 116.4 658.9 116.5 659 116.6 659 116.8 659 116.9 659 117 659 117.1 659 117.2 659 117.4 659 117.5 659 117.6 658.9 117.7 658.9 117.8 658.9 118 658.8 118.1 658.8 118.2 658.7 118.3 658.7 118.4 658.6 118.5 658.5 118.6 658.4 118.7 658.4 118.8 658.3 118.9 658.2 118.9 658.1 119 658 119.1 657.9 119.2 657.8 119.2 657.7 119.3 657.6 119.3 657.5 119.4 657.3 119.4 657.2 119.4 657.1 119.5 657 119.5 656.9 119.5 656.7 119.5 656.6 119.5 656.5 119.5 656.4ZM62.8 620.7 62.8 627.9 63.5 638.1 63.5 638.3 63.5 638.5 62.2 648.7 62.1 648.8 62.1 649 62 649.2 61.9 649.4 61.8 649.5 61.7 649.7 55.4 657.2 49.4 665.7 48.3 671 49.8 674.2 55.9 673.2 61.3 670.9 64.8 665.2 64.9 665 65 664.9 65.2 664.7 65.3 664.6 65.5 664.5 65.7 664.4 65.9 664.3 73.1 661.9 76.1 658.9 77.3 650.6 77.4 650.4 77.4 650.3 77.5 650.1 81.2 641.5 82.4 633.1 81.2 626.4 78.1 622.7 73.5 621 66.4 618.6 63.1 619.4 62.8 620.7Z" fill="#D95319" fill-opacity="0.6" fill-rule="evenodd"/>
<path d="M85.2 615.3a2.95 2.95 0 1 0 5.9 0a2.95 2.95 0 1 0 -5.9 0M85.2 619.1a2.95 2.95 0 1 0 5.9 0a2.95 2.95 0 1 0 -5.9 0M98 647.1a2.95 2.95 0 1 0 5.9 0a2.95 2.95 0 1 0 -5.9 0M96.8 617.3a2.95 2.95 0 1 0 5.9 0a2.95 2.95 0 1 0 -5.9 0M109.5 648.2a2.95 2.95 0 1 0 5.9 0a2.95 2.95 0 1 0 -5.9 0M115 644.5a2.95 2.95 0 1 0 5.9 0a2.95 2.95 0 1 0 -5.9 0M118.6 646.4a2.95 2.95 0 1 0 5.9 0a2.95 2.95 0 1 0 -5.9 0M135.6 614.9a2.95 2.95 0 1 0 5.9 0a2.95 2.95 0 1 0 -5.9 0M136.7 760.9a2.95 2.95 0 1 0 5.9 0a2.95 2.95 0 1 0 -5.9 0M61.4 626.6a2.95 2.95 0 1 0 5.9 0a2.95 2.95 0 1 0 -5.9 0M56.2 660a2.95 2.95 0 1 0 5.9 0a2.95 2.95 0 1 0 -5.9 0M53.6 664a2.95 2.95 0 1 0 5.9 0a2.95 2.95 0 1 0 -5.9 0M72.6 638a2.95 2.95 0 1 0 5.9 0a2.95 2.95 0 1 0 -5.9 0M74 647a2.95 2.95 0 1 0 5.9 0a2.95 2.95 0 1 0 -5.9 0M69 659.8a2.95 2.95 0 1 0 5.9 0a2.95 2.95 0 1 0 -5.9 0M69.2 643.1a2.95 2.95 0 1 0 5.9 0a2.95 2.95 0 1 0 -5.9 0M61.1 631.7a2.95 2.95 0 1 0 5.9 0a2.95 2.95 0 1 0 -5.9 0M60.1 662.2a2.95 2.95 0 1 0 5.9 0a2.95 2.95 0 1 0 -5.9 0M62.7 634a2.95 2.95 0 1 0 5.9 0a2.95 2.95 0 1 0 -5.9 0M59.5 662a2.95 2.95 0 1 0 5.9 0a2.95 2.95 0 1 0 -5.9 0M65.5 645.9a2.95 2.95 0 1 0 5.9 0a2.95 2.95 0 1 0 -5.9 0M50.8 672.1a2.95 2.95 0 1 0 5.9 0a2.95 2.95 0 1 0 -5.9 0M61.4 656.7a2.95 2.95 0 1 0 5.9 0a2.95 2.95 0 1 0 -5.9 0M71.9 645.6a2.95 2.95 0 1 0 5.9 0a2.95 2.95 0 1 0 -5.9 0M66.5 656a2.95 2.95 0 1 0 5.9 0a2.95 2.95 0 1 0 -5.9 0M48.3 672a2.95 2.95 0 1 0 5.9 0a2.95 2.95 0 1 0 -5.9 0M67 632.8a2.95 2.95 0 1 0 5.9 0a2.95 2.95 0 1 0 -5.9 0M73.8 649.7a2.95 2.95 0 1 0 5.9 0a2.95 2.95 0 1 0 -5.9 0M65.6 627.1a2.95 2.95 0 1 0 5.9 0a2.95 2.95 0 1 0 -5.9 0M62.9 653.6a2.95 2.95 0 1 0 5.9 0a2.95 2.95 0 1 0 -5.9 0M69.3 643.5a2.95 2.95 0 1 0 5.9 0a2.95 2.95 0 1 0 -5.9 0M78.7 632.8a2.95 2.95 0 1 0 5.9 0a2.95 2.95 0 1 0 -5.9 0M53.7 661.8a2.95 2.95 0 1 0 5.9 0a2.95 2.95 0 1 0 -5.9 0M72.5 638.9a2.95 2.95 0 1 0 5.9 0a2.95 2.95 0 1 0 -5.9 0M76.9 640.6a2.95 2.95 0 1 0 5.9 0a2.95 2.95 0 1 0 -5.9 0M56.9 664.5a2.95 2.95 0 1 0 5.9 0a2.95 2.95 0 1 0 -5.9 0M70.3 622a2.95 2.95 0 1 0 5.9 0a2.95 2.95 0 1 0 -5.9 0M67.7 630.3a2.95 2.95 0 1 0 5.9 0a2.95 2.95 0 1 0 -5.9 0M74.5 629.9a2.95 2.95 0 1 0 5.9 0a2.95 2.95 0 1 0 -5.9 0M62.4 636.3a2.95 2.95 0 1 0 5.9 0a2.95 2.95 0 1 0 -5.9 0M69.7 621.1a2.95 2.95 0 1 0 5.9 0a2.95 2.95 0 1 0 -5.9 0M67.8 658.2a2.95 2.95 0 1 0 5.9 0a2.95 2.95 0 1 0 -5.9 0M75.2 623.6a2.95 2.95 0 1 0 5.9 0a2.95 2.95 0 1 0 -5.9 0M60.3 651.6a2.95 2.95 0 1 0 5.9 0a2.95 2.95 0 1 0 -5.9 0M62.2 622.7a2.95 2.95 0 1 0 5.9 0a2.95 2.95 0 1 0 -5.9 0M61.3 640.5a2.95 2.95 0 1 0 5.9 0a2.95 2.95 0 1 0 -5.9 0M70.3 647a2.95 2.95 0 1 0 5.9 0a2.95 2.95 0 1 0 -5.9 0M65 649.5a2.95 2.95 0 1 0 5.9 0a2.95 2.95 0 1 0 -5.9 0M58.8 654.8a2.95 2.95 0 1 0 5.9 0a2.95 2.95 0 1 0 -5.9 0M59.3 667.3a2.95 2.95 0 1 0 5.9 0a2.95 2.95 0 1 0 -5.9 0M62.4 636.2a2.95 2.95 0 1 0 5.9 0a2.95 2.95 0 1 0 -5.9 0M66.9 626.4a2.95 2.95 0 1 0 5.9 0a2.95 2.95 0 1 0 -5.9 0M64.3 659.7a2.95 2.95 0 1 0 5.9 0a2.95 2.95 0 1 0 -5.9 0M76.5 641.2a2.95 2.95 0 1 0 5.9 0a2.95 2.95 0 1 0 -5.9 0M69.7 641.2a2.95 2.95 0 1 0 5.9 0a2.95 2.95 0 1 0 -5.9 0M53.6 661.7a2.95 2.95 0 1 0 5.9 0a2.95 2.95 0 1 0 -5.9 0M68.5 660.8a2.95 2.95 0 1 0 5.9 0a2.95 2.95 0 1 0 -5.9 0M69.4 650.4a2.95 2.95 0 1 0 5.9 0a2.95 2.95 0 1 0 -5.9 0M59.9 663.6a2.95 2.95 0 1 0 5.9 0a2.95 2.95 0 1 0 -5.9 0M72.2 657.2a2.95 2.95 0 1 0 5.9 0a2.95 2.95 0 1 0 -5.9 0M74.6 624.6a2.95 2.95 0 1 0 5.9 0a2.95 2.95 0 1 0 -5.9 0M65.3 642.6a2.95 2.95 0 1 0 5.9 0a2.95 2.95 0 1 0 -5.9 0M77.6 635.8a2.95 2.95 0 1 0 5.9 0a2.95 2.95 0 1 0 -5.9 0M67.8 620.3a2.95 2.95 0 1 0 5.9 0a2.95 2.95 0 1 0 -5.9 0M61.4 647.5a2.95 2.95 0 1 0 5.9 0a2.95 2.95 0 1 0 -5.9 0M53.9 663.1a2.95 2.95 0 1 0 5.9 0a2.95 2.95 0 1 0 -5.9 0M72.8 648.6a2.95 2.95 0 1 0 5.9 0a2.95 2.95 0 1 0 -5.9 0M61.1 640.1a2.95 2.95 0 1 0 5.9 0a2.95 2.95 0 1 0 -5.9 0M71.9 647.3a2.95 2.95 0 1 0 5.9 0a2.95 2.95 0 1 0 -5.9 0M57.1 654.2a2.95 2.95 0 1 0 5.9 0a2.95 2.95 0 1 0 -5.9 0M50.6 667.7a2.95 2.95 0 1 0 5.9 0a2.95 2.95 0 1 0 -5.9 0M70 637.8a2.95 2.95 0 1 0 5.9 0a2.95 2.95 0 1 0 -5.9 0M62.7 651.1a2.95 2.95 0 1 0 5.9 0a2.95 2.95 0 1 0 -5.9 0M61 652.7a2.95 2.95 0 1 0 5.9 0a2.95 2.95 0 1 0 -5.9 0M69.3 627.1a2.95 2.95 0 1 0 5.9 0a2.95 2.95 0 1 0 -5.9 0M63.6 659.7a2.95 2.95 0 1 0 5.9 0a2.95 2.95 0 1 0 -5.9 0M67.8 662.2a2.95 2.95 0 1 0 5.9 0a2.95 2.95 0 1 0 -5.9 0M62.2 651.7a2.95 2.95 0 1 0 5.9 0a2.95 2.95 0 1 0 -5.9 0M71.5 624.3a2.95 2.95 0 1 0 5.9 0a2.95 2.95 0 1 0 -5.9 0M52 663.6a2.95 2.95 0 1 0 5.9 0a2.95 2.95 0 1 0 -5.9 0M57.6 668.4a2.95 2.95 0 1 0 5.9 0a2.95 2.95 0 1 0 -5.9 0M61.5 644.8a2.95 2.95 0 1 0 5.9 0a2.95 2.95 0 1 0 -5.9 0M70.3 645.3a2.95 2.95 0 1 0 5.9 0a2.95 2.95 0 1 0 -5.9 0M49 669.3a2.95 2.95 0 1 0 5.9 0a2.95 2.95 0 1 0 -5.9 0M114.4 655a2.95 2.95 0 1 0 5.9 0a2.95 2.95 0 1 0 -5.9 0M67.7 632.5a2.95 2.95 0 1 0 5.9 0a2.95 2.95 0 1 0 -5.9 0M60.3 622.8a2.95 2.95 0 1 0 5.9 0a2.95 2.95 0 1 0 -5.9 0M73.6 652.2a2.95 2.95 0 1 0 5.9 0a2.95 2.95 0 1 0 -5.9 0M59.9 653.2a2.95 2.95 0 1 0 5.9 0a2.95 2.95 0 1 0 -5.9 0M74 650.2a2.95 2.95 0 1 0 5.9 0a2.95 2.95 0 1 0 -5.9 0M66.3 658.8a2.95 2.95 0 1 0 5.9 0a2.95 2.95 0 1 0 -5.9 0M54.9 665.6a2.95 2.95 0 1 0 5.9 0a2.95 2.95 0 1 0 -5.9 0M71.7 634.7a2.95 2.95 0 1 0 5.9 0a2.95 2.95 0 1 0 -5.9 0M55.1 659a2.95 2.95 0 1 0 5.9 0a2.95 2.95 0 1 0 -5.9 0M72 633.7a2.95 2.95 0 1 0 5.9 0a2.95 2.95 0 1 0 -5.9 0M68.3 654.5a2.95 2.95 0 1 0 5.9 0a2.95 2.95 0 1 0 -5.9 0M66.4 622.5a2.95 2.95 0 1 0 5.9 0a2.95 2.95 0 1 0 -5.9 0M69.8 642a2.95 2.95 0 1 0 5.9 0a2.95 2.95 0 1 0 -5.9 0M52.8 671.6a2.95 2.95 0 1 0 5.9 0a2.95 2.95 0 1 0 -5.9 0M67.7 659.9a2.95 2.95 0 1 0 5.9 0a2.95 2.95 0 1 0 -5.9 0M75.9 639.2a2.95 2.95 0 1 0 5.9 0a2.95 2.95 0 1 0 -5.9 0M59.4 668.4a2.95 2.95 0 1 0 5.9 0a2.95 2.95 0 1 0 -5.9 0M66.3 623.1a2.95 2.95 0 1 0 5.9 0a2.95 2.95 0 1 0 -5.9 0M116.2 656.2a2.95 2.95 0 1 0 5.9 0a2.95 2.95 0 1 0 -5.9 0M54.5 662.6a2.95 2.95 0 1 0 5.9 0a2.95 2.95 0 1 0 -5.9 0M62.4 621.5a2.95 2.95 0 1 0 5.9 0a2.95 2.95 0 1 0 -5.9 0M67.1 652.8a2.95 2.95 0 1 0 5.9 0a2.95 2.95 0 1 0 -5.9 0M69.6 658.4a2.95 2.95 0 1 0 5.9 0a2.95 2.95 0 1 0 -5.9 0M73 656.6a2.95 2.95 0 1 0 5.9 0a2.95 2.95 0 1 0 -5.9 0M67.1 662.2a2.95 2.95 0 1 0 5.9 0a2.95 2.95 0 1 0 -5.9 0M69.4 633a2.95 2.95 0 1 0 5.9 0a2.95 2.95 0 1 0 -5.9 0M67.8 626.7a2.95 2.95 0 1 0 5.9 0a2.95 2.95 0 1 0 -5.9 0M63.3 654.8a2.95 2.95 0 1 0 5.9 0a2.95 2.95 0 1 0 -5.9 0M70.6 638.5a2.95 2.95 0 1 0 5.9 0a2.95 2.95 0 1 0 -5.9 0M73.4 623.7a2.95 2.95 0 1 0 5.9 0a2.95 2.95 0 1 0 -5.9 0M60.8 658.6a2.95 2.95 0 1 0 5.9 0a2.95 2.95 0 1 0 -5.9 0M60 657.6a2.95 2.95 0 1 0 5.9 0a2.95 2.95 0 1 0 -5.9 0M57.1 666.5a2.95 2.95 0 1 0 5.9 0a2.95 2.95 0 1 0 -5.9 0M60.7 625.9a2.95 2.95 0 1 0 5.9 0a2.95 2.95 0 1 0 -5.9 0M71.5 660a2.95 2.95 0 1 0 5.9 0a2.95 2.95 0 1 0 -5.9 0M68.3 639.8a2.95 2.95 0 1 0 5.9 0a2.95 2.95 0 1 0 -5.9 0M75.8 645.6a2.95 2.95 0 1 0 5.9 0a2.95 2.95 0 1 0 -5.9 0M65.7 628.2a2.95 2.95 0 1 0 5.9 0a2.95 2.95 0 1 0 -5.9 0M70.5 632.5a2.95 2.95 0 1 0 5.9 0a2.95 2.95 0 1 0 -5.9 0M53.9 661.1a2.95 2.95 0 1 0 5.9 0a2.95 2.95 0 1 0 -5.9 0M72.9 648.9a2.95 2.95 0 1 0 5.9 0a2.95 2.95 0 1 0 -5.9 0M77.1 633.9a2.95 2.95 0 1 0 5.9 0a2.95 2.95 0 1 0 -5.9 0M70 626.3a2.95 2.95 0 1 0 5.9 0a2.95 2.95 0 1 0 -5.9 0M45.9 670.4a2.95 2.95 0 1 0 5.9 0a2.95 2.95 0 1 0 -5.9 0M47.7 672.9a2.95 2.95 0 1 0 5.9 0a2.95 2.95 0 1 0 -5.9 0M64.6 642.8a2.95 2.95 0 1 0 5.9 0a2.95 2.95 0 1 0 -5.9 0M69.2 629.9a2.95 2.95 0 1 0 5.9 0a2.95 2.95 0 1 0 -5.9 0M72.8 639.8a2.95 2.95 0 1 0 5.9 0a2.95 2.95 0 1 0 -5.9 0M62.1 623.1a2.95 2.95 0 1 0 5.9 0a2.95 2.95 0 1 0 -5.9 0M68.3 630.8a2.95 2.95 0 1 0 5.9 0a2.95 2.95 0 1 0 -5.9 0M72.5 633.3a2.95 2.95 0 1 0 5.9 0a2.95 2.95 0 1 0 -5.9 0M63.9 653.8a2.95 2.95 0 1 0 5.9 0a2.95 2.95 0 1 0 -5.9 0M53.4 660.8a2.95 2.95 0 1 0 5.9 0a2.95 2.95 0 1 0 -5.9 0M66.9 644.3a2.95 2.95 0 1 0 5.9 0a2.95 2.95 0 1 0 -5.9 0M67.2 638.9a2.95 2.95 0 1 0 5.9 0a2.95 2.95 0 1 0 -5.9 0M74.7 623a2.95 2.95 0 1 0 5.9 0a2.95 2.95 0 1 0 -5.9 0M73.3 626.3a2.95 2.95 0 1 0 5.9 0a2.95 2.95 0 1 0 -5.9 0M63.3 626.2a2.95 2.95 0 1 0 5.9 0a2.95 2.95 0 1 0 -5.9 0M68.4 640.9a2.95 2.95 0 1 0 5.9 0a2.95 2.95 0 1 0 -5.9 0M61.7 644.9a2.95 2.95 0 1 0 5.9 0a2.95 2.95 0 1 0 -5.9 0M74.8 631.9a2.95 2.95 0 1 0 5.9 0a2.95 2.95 0 1 0 -5.9 0M71.4 640.1a2.95 2.95 0 1 0 5.9 0a2.95 2.95 0 1 0 -5.9 0M75.9 640a2.95 2.95 0 1 0 5.9 0a2.95 2.95 0 1 0 -5.9 0M63.9 621.1a2.95 2.95 0 1 0 5.9 0a2.95 2.95 0 1 0 -5.9 0M63.4 626.8a2.95 2.95 0 1 0 5.9 0a2.95 2.95 0 1 0 -5.9 0M57.4 661.5a2.95 2.95 0 1 0 5.9 0a2.95 2.95 0 1 0 -5.9 0M60.3 629.5a2.95 2.95 0 1 0 5.9 0a2.95 2.95 0 1 0 -5.9 0M73.6 636.4a2.95 2.95 0 1 0 5.9 0a2.95 2.95 0 1 0 -5.9 0M65 645.6a2.95 2.95 0 1 0 5.9 0a2.95 2.95 0 1 0 -5.9 0M63.9 630.5a2.95 2.95 0 1 0 5.9 0a2.95 2.95 0 1 0 -5.9 0M71.2 660.1a2.95 2.95 0 1 0 5.9 0a2.95 2.95 0 1 0 -5.9 0M47.7 670.5a2.95 2.95 0 1 0 5.9 0a2.95 2.95 0 1 0 -5.9 0M62.6 621.4a2.95 2.95 0 1 0 5.9 0a2.95 2.95 0 1 0 -5.9 0M66.1 644.6a2.95 2.95 0 1 0 5.9 0a2.95 2.95 0 1 0 -5.9 0M67.1 645.8a2.95 2.95 0 1 0 5.9 0a2.95 2.95 0 1 0 -5.9 0M76 639.7a2.95 2.95 0 1 0 5.9 0a2.95 2.95 0 1 0 -5.9 0M58 663.6a2.95 2.95 0 1 0 5.9 0a2.95 2.95 0 1 0 -5.9 0M62.4 637.6a2.95 2.95 0 1 0 5.9 0a2.95 2.95 0 1 0 -5.9 0M68.5 620.6a2.95 2.95 0 1 0 5.9 0a2.95 2.95 0 1 0 -5.9 0M60.2 662.5a2.95 2.95 0 1 0 5.9 0a2.95 2.95 0 1 0 -5.9 0M65.1 645.3a2.95 2.95 0 1 0 5.9 0a2.95 2.95 0 1 0 -5.9 0M61.7 628.3a2.95 2.95 0 1 0 5.9 0a2.95 2.95 0 1 0 -5.9 0M71.7 637.5a2.95 2.95 0 1 0 5.9 0a2.95 2.95 0 1 0 -5.9 0M75.2 628.9a2.95 2.95 0 1 0 5.9 0a2.95 2.95 0 1 0 -5.9 0M56.5 671a2.95 2.95 0 1 0 5.9 0a2.95 2.95 0 1 0 -5.9 0M65.2 654.4a2.95 2.95 0 1 0 5.9 0a2.95 2.95 0 1 0 -5.9 0M64.7 642.6a2.95 2.95 0 1 0 5.9 0a2.95 2.95 0 1 0 -5.9 0M60.7 633.7a2.95 2.95 0 1 0 5.9 0a2.95 2.95 0 1 0 -5.9 0M73.2 653.8a2.95 2.95 0 1 0 5.9 0a2.95 2.95 0 1 0 -5.9 0M66 655.1a2.95 2.95 0 1 0 5.9 0a2.95 2.95 0 1 0 -5.9 0M60.6 657.9a2.95 2.95 0 1 0 5.9 0a2.95 2.95 0 1 0 -5.9 0M49.4 668.3a2.95 2.95 0 1 0 5.9 0a2.95 2.95 0 1 0 -5.9 0M59 657.2a2.95 2.95 0 1 0 5.9 0a2.95 2.95 0 1 0 -5.9 0M56.5 660.9a2.95 2.95 0 1 0 5.9 0a2.95 2.95 0 1 0 -5.9 0M73.8 627.6a2.95 2.95 0 1 0 5.9 0a2.95 2.95 0 1 0 -5.9 0M58.3 655.5a2.95 2.95 0 1 0 5.9 0a2.95 2.95 0 1 0 -5.9 0M63.4 643.4a2.95 2.95 0 1 0 5.9 0a2.95 2.95 0 1 0 -5.9 0M76.3 626.8a2.95 2.95 0 1 0 5.9 0a2.95 2.95 0 1 0 -5.9 0M60.9 623.6a2.95 2.95 0 1 0 5.9 0a2.95 2.95 0 1 0 -5.9 0M54.1 665.9a2.95 2.95 0 1 0 5.9 0a2.95 2.95 0 1 0 -5.9 0M60.3 660.7a2.95 2.95 0 1 0 5.9 0a2.95 2.95 0 1 0 -5.9 0M115 655.9a2.95 2.95 0 1 0 5.9 0a2.95 2.95 0 1 0 -5.9 0M62.5 638.8a2.95 2.95 0 1 0 5.9 0a2.95 2.95 0 1 0 -5.9 0M53.6 662.9a2.95 2.95 0 1 0 5.9 0a2.95 2.95 0 1 0 -5.9 0M58.7 650.3a2.95 2.95 0 1 0 5.9 0a2.95 2.95 0 1 0 -5.9 0M79.1 635.9a2.95 2.95 0 1 0 5.9 0a2.95 2.95 0 1 0 -5.9 0M55.1 673a2.95 2.95 0 1 0 5.9 0a2.95 2.95 0 1 0 -5.9 0M74.3 651.4a2.95 2.95 0 1 0 5.9 0a2.95 2.95 0 1 0 -5.9 0M52.8 659a2.95 2.95 0 1 0 5.9 0a2.95 2.95 0 1 0 -5.9 0M45.1 666.3a2.95 2.95 0 1 0 5.9 0a2.95 2.95 0 1 0 -5.9 0M79.9 630.8a2.95 2.95 0 1 0 5.9 0a2.95 2.95 0 1 0 -5.9 0M45.2 672.2a2.95 2.95 0 1 0 5.9 0a2.95 2.95 0 1 0 -5.9 0M45.1 666.1a2.95 2.95 0 1 0 5.9 0a2.95 2.95 0 1 0 -5.9 0M61.2 618.2a2.95 2.95 0 1 0 5.9 0a2.95 2.95 0 1 0 -5.9 0M69.2 662.5a2.95 2.95 0 1 0 5.9 0a2.95 2.95 0 1 0 -5.9 0M57.2 653.7a2.95 2.95 0 1 0 5.9 0a2.95 2.95 0 1 0 -5.9 0M65.7 617.9a2.95 2.95 0 1 0 5.9 0a2.95 2.95 0 1 0 -5.9 0M55.5 655.3a2.95 2.95 0 1 0 5.9 0a2.95 2.95 0 1 0 -5.9 0M60.2 618.3a2.95 2.95 0 1 0 5.9 0a2.95 2.95 0 1 0 -5.9 0M51.1 656.7a2.95 2.95 0 1 0 5.9 0a2.95 2.95 0 1 0 -5.9 0M45.3 668.6a2.95 2.95 0 1 0 5.9 0a2.95 2.95 0 1 0 -5.9 0M59.5 640.8a2.95 2.95 0 1 0 5.9 0a2.95 2.95 0 1 0 -5.9 0M78.3 628.7a2.95 2.95 0 1 0 5.9 0a2.95 2.95 0 1 0 -5.9 0M73.8 649a2.95 2.95 0 1 0 5.9 0a2.95 2.95 0 1 0 -5.9 0M49.6 659.2a2.95 2.95 0 1 0 5.9 0a2.95 2.95 0 1 0 -5.9 0M73.1 622a2.95 2.95 0 1 0 5.9 0a2.95 2.95 0 1 0 -5.9 0M60.9 643.5a2.95 2.95 0 1 0 5.9 0a2.95 2.95 0 1 0 -5.9 0M61.8 617.8a2.95 2.95 0 1 0 5.9 0a2.95 2.95 0 1 0 -5.9 0M46.9 667.6a2.95 2.95 0 1 0 5.9 0a2.95 2.95 0 1 0 -5.9 0M72.4 621.7a2.95 2.95 0 1 0 5.9 0a2.95 2.95 0 1 0 -5.9 0M60.6 647.2a2.95 2.95 0 1 0 5.9 0a2.95 2.95 0 1 0 -5.9 0" fill="none" stroke="#D95319" stroke-width="1.0"/>
<path d="M135.6 556.9 132.2 563.7 132.1 563.8 132 564 128.3 568.9 124.9 575.7 125.8 578.2 130.7 584.2 130.8 584.4 130.9 584.6 134.7 592.3 134.8 592.5 134.9 592.7 134.9 592.9 136.2 600.2 137.7 603.4 139.2 602.9 142.6 598.3 142.8 598.1 146.6 594.3 150.4 590.5 150.5 590.3 150.7 590.2 150.9 590.1 151.1 590 151.4 589.9 155.7 588.8 159 584.5 161.5 579.5 161.6 579.3 161.7 579.1 161.9 579 166.5 574.5 166.8 572.3 163 567.9 162.9 567.9 158.1 561.9 153.6 559.6 147.4 557.2 140.5 555.4 135.6 556.9Z" fill="#0072BD" fill-opacity="0.8" fill-rule="evenodd"/>
<path d="M151.6 563.8l2.9 4.0 -2.9 4.0 -2.9 -4.0zM150.1 569.6l2.9 4.0 -2.9 4.0 -2.9 -4.0zM133 558.8l2.9 4.0 -2.9 4.0 -2.9 -4.0zM135.5 587l2.9 4.0 -2.9 4.0 -2.9 -4.0zM145.4 559l2.9 4.0 -2.9 4.0 -2.9 -4.0zM132.4 575.6l2.9 4.0 -2.9 4.0 -2.9 -4.0zM155.2 565l2.9 4.0 -2.9 4.0 -2.9 -4.0zM138.1 595.2l2.9 4.0 -2.9 4.0 -2.9 -4.0zM155 569.2l2.9 4.0 -2.9 4.0 -2.9 -4.0zM130.4 577.3l2.9 4.0 -2.9 4.0 -2.9 -4.0zM149.4 572.7l2.9 4.0 -2.9 4.0 -2.9 -4.0zM131.1 563.6l2.9 4.0 -2.9 4.0 -2.9 -4.0zM129.5 576.3l2.9 4.0 -2.9 4.0 -2.9 -4.0zM144.5 553.8l2.9 4.0 -2.9 4.0 -2.9 -4.0zM133.6 571.1l2.9 4.0 -2.9 4.0 -2.9 -4.0zM127.3 570l2.9 4.0 -2.9 4.0 -2.9 -4.0zM147 561.4l2.9 4.0 -2.9 4.0 -2.9 -4.0zM133.3 577.6l2.9 4.0 -2.9 4.0 -2.9 -4.0zM165.5 568.1l2.9 4.0 -2.9 4.0 -2.9 -4.0zM152.1 561.9l2.9 4.0 -2.9 4.0 -2.9 -4.0zM137.4 594.8l2.9 4.0 -2.9 4.0 -2.9 -4.0zM139.3 591.2l2.9 4.0 -2.9 4.0 -2.9 -4.0zM159.2 565.7l2.9 4.0 -2.9 4.0 -2.9 -4.0zM134.3 586.2l2.9 4.0 -2.9 4.0 -2.9 -4.0zM139 567.2l2.9 4.0 -2.9 4.0 -2.9 -4.0zM148.7 575.4l2.9 4.0 -2.9 4.0 -2.9 -4.0zM145.8 568.9l2.9 4.0 -2.9 4.0 -2.9 -4.0zM129.3 573.1l2.9 4.0 -2.9 4.0 -2.9 -4.0zM152 571.6l2.9 4.0 -2.9 4.0 -2.9 -4.0zM128.3 568.8l2.9 4.0 -2.9 4.0 -2.9 -4.0zM152.4 572.6l2.9 4.0 -2.9 4.0 -2.9 -4.0zM149.8 576.7l2.9 4.0 -2.9 4.0 -2.9 -4.0zM140.8 567.5l2.9 4.0 -2.9 4.0 -2.9 -4.0zM141 574.2l2.9 4.0 -2.9 4.0 -2.9 -4.0zM129.8 576.4l2.9 4.0 -2.9 4.0 -2.9 -4.0zM155.2 582.5l2.9 4.0 -2.9 4.0 -2.9 -4.0zM142.4 557.3l2.9 4.0 -2.9 4.0 -2.9 -4.0zM134.5 585.8l2.9 4.0 -2.9 4.0 -2.9 -4.0zM138.2 576.4l2.9 4.0 -2.9 4.0 -2.9 -4.0zM158.5 580.1l2.9 4.0 -2.9 4.0 -2.9 -4.0zM151.2 571.5l2.9 4.0 -2.9 4.0 -2.9 -4.0zM138.2 554.4l2.9 4.0 -2.9 4.0 -2.9 -4.0zM149.4 577.5l2.9 4.0 -2.9 4.0 -2.9 -4.0zM146.7 567.6l2.9 4.0 -2.9 4.0 -2.9 -4.0zM144 578.1l2.9 4.0 -2.9 4.0 -2.9 -4.0zM158.4 573.9l2.9 4.0 -2.9 4.0 -2.9 -4.0zM150.1 581.5l2.9 4.0 -2.9 4.0 -2.9 -4.0zM139.7 559.7l2.9 4.0 -2.9 4.0 -2.9 -4.0zM138.6 559l2.9 4.0 -2.9 4.0 -2.9 -4.0zM141.2 581.5l2.9 4.0 -2.9 4.0 -2.9 -4.0zM145 559.3l2.9 4.0 -2.9 4.0 -2.9 -4.0zM144.9 569.6l2.9 4.0 -2.9 4.0 -2.9 -4.0zM137.7 569.1l2.9 4.0 -2.9 4.0 -2.9 -4.0zM155.7 567.9l2.9 4.0 -2.9 4.0 -2.9 -4.0zM131.4 576.5l2.9 4.0 -2.9 4.0 -2.9 -4.0zM150.4 574.7l2.9 4.0 -2.9 4.0 -2.9 -4.0zM136.4 560.8l2.9 4.0 -2.9 4.0 -2.9 -4.0zM141.3 588.9l2.9 4.0 -2.9 4.0 -2.9 -4.0zM130.7 576.3l2.9 4.0 -2.9 4.0 -2.9 -4.0zM154.1 573.1l2.9 4.0 -2.9 4.0 -2.9 -4.0zM134.5 564.4l2.9 4.0 -2.9 4.0 -2.9 -4.0zM143 573.7l2.9 4.0 -2.9 4.0 -2.9 -4.0zM159 570.5l2.9 4.0 -2.9 4.0 -2.9 -4.0zM126.2 573.5l2.9 4.0 -2.9 4.0 -2.9 -4.0zM141.8 565.1l2.9 4.0 -2.9 4.0 -2.9 -4.0zM144.3 583.4l2.9 4.0 -2.9 4.0 -2.9 -4.0zM138.1 593.3l2.9 4.0 -2.9 4.0 -2.9 -4.0zM159.1 574.5l2.9 4.0 -2.9 4.0 -2.9 -4.0zM154.3 581.2l2.9 4.0 -2.9 4.0 -2.9 -4.0zM131 569.5l2.9 4.0 -2.9 4.0 -2.9 -4.0zM145.2 572.6l2.9 4.0 -2.9 4.0 -2.9 -4.0zM142.9 574.9l2.9 4.0 -2.9 4.0 -2.9 -4.0zM135 561l2.9 4.0 -2.9 4.0 -2.9 -4.0zM160.5 568.2l2.9 4.0 -2.9 4.0 -2.9 -4.0zM144 571.6l2.9 4.0 -2.9 4.0 -2.9 -4.0zM128.6 574.6l2.9 4.0 -2.9 4.0 -2.9 -4.0zM138.8 567.4l2.9 4.0 -2.9 4.0 -2.9 -4.0zM142.4 563.9l2.9 4.0 -2.9 4.0 -2.9 -4.0zM138.1 570.7l2.9 4.0 -2.9 4.0 -2.9 -4.0zM135.2 561.7l2.9 4.0 -2.9 4.0 -2.9 -4.0zM145 561l2.9 4.0 -2.9 4.0 -2.9 -4.0zM149.1 567.1l2.9 4.0 -2.9 4.0 -2.9 -4.0zM142.4 556.2l2.9 4.0 -2.9 4.0 -2.9 -4.0zM143.2 561.1l2.9 4.0 -2.9 4.0 -2.9 -4.0zM140.8 588.5l2.9 4.0 -2.9 4.0 -2.9 -4.0zM145.9 579.9l2.9 4.0 -2.9 4.0 -2.9 -4.0zM145.1 587.5l2.9 4.0 -2.9 4.0 -2.9 -4.0zM138.8 572.3l2.9 4.0 -2.9 4.0 -2.9 -4.0zM160.8 575.9l2.9 4.0 -2.9 4.0 -2.9 -4.0zM140.5 585.2l2.9 4.0 -2.9 4.0 -2.9 -4.0zM151.8 576.3l2.9 4.0 -2.9 4.0 -2.9 -4.0zM146.3 576.2l2.9 4.0 -2.9 4.0 -2.9 -4.0zM152 560.1l2.9 4.0 -2.9 4.0 -2.9 -4.0zM151.6 566.2l2.9 4.0 -2.9 4.0 -2.9 -4.0zM139.3 590.3l2.9 4.0 -2.9 4.0 -2.9 -4.0zM145.3 587.7l2.9 4.0 -2.9 4.0 -2.9 -4.0zM156.7 562.3l2.9 4.0 -2.9 4.0 -2.9 -4.0zM143.5 566.3l2.9 4.0 -2.9 4.0 -2.9 -4.0zM142 591.9l2.9 4.0 -2.9 4.0 -2.9 -4.0zM148.5 563.7l2.9 4.0 -2.9 4.0 -2.9 -4.0zM157.8 570.2l2.9 4.0 -2.9 4.0 -2.9 -4.0zM149.8 572.5l2.9 4.0 -2.9 4.0 -2.9 -4.0zM161 576l2.9 4.0 -2.9 4.0 -2.9 -4.0zM132.8 566.7l2.9 4.0 -2.9 4.0 -2.9 -4.0zM150.3 556.7l2.9 4.0 -2.9 4.0 -2.9 -4.0zM154.5 578.8l2.9 4.0 -2.9 4.0 -2.9 -4.0zM162 574.5l2.9 4.0 -2.9 4.0 -2.9 -4.0zM150.5 558.1l2.9 4.0 -2.9 4.0 -2.9 -4.0zM140.3 557.1l2.9 4.0 -2.9 4.0 -2.9 -4.0zM136.8 570.7l2.9 4.0 -2.9 4.0 -2.9 -4.0zM135.5 554.5l2.9 4.0 -2.9 4.0 -2.9 -4.0zM131.3 569.8l2.9 4.0 -2.9 4.0 -2.9 -4.0zM140.7 554.3l2.9 4.0 -2.9 4.0 -2.9 -4.0zM146 559l2.9 4.0 -2.9 4.0 -2.9 -4.0zM151.5 570l2.9 4.0 -2.9 4.0 -2.9 -4.0zM157.9 569.9l2.9 4.0 -2.9 4.0 -2.9 -4.0zM141.2 554.5l2.9 4.0 -2.9 4.0 -2.9 -4.0zM131.9 575.8l2.9 4.0 -2.9 4.0 -2.9 -4.0zM139.9 563.9l2.9 4.0 -2.9 4.0 -2.9 -4.0zM152.8 575.9l2.9 4.0 -2.9 4.0 -2.9 -4.0zM155.1 577.5l2.9 4.0 -2.9 4.0 -2.9 -4.0zM147.9 578.4l2.9 4.0 -2.9 4.0 -2.9 -4.0zM141.9 572.3l2.9 4.0 -2.9 4.0 -2.9 -4.0zM156.3 572.5l2.9 4.0 -2.9 4.0 -2.9 -4.0zM131.3 578l2.9 4.0 -2.9 4.0 -2.9 -4.0zM144.6 577.7l2.9 4.0 -2.9 4.0 -2.9 -4.0zM155.1 561.9l2.9 4.0 -2.9 4.0 -2.9 -4.0zM133.3 575.1l2.9 4.0 -2.9 4.0 -2.9 -4.0zM132.8 564.5l2.9 4.0 -2.9 4.0 -2.9 -4.0zM142.9 564.4l2.9 4.0 -2.9 4.0 -2.9 -4.0zM139.4 577.8l2.9 4.0 -2.9 4.0 -2.9 -4.0zM137.3 554.7l2.9 4.0 -2.9 4.0 -2.9 -4.0zM138.6 563.3l2.9 4.0 -2.9 4.0 -2.9 -4.0zM143.7 558.3l2.9 4.0 -2.9 4.0 -2.9 -4.0zM148.3 579.6l2.9 4.0 -2.9 4.0 -2.9 -4.0zM153.7 576.1l2.9 4.0 -2.9 4.0 -2.9 -4.0zM149.1 561.7l2.9 4.0 -2.9 4.0 -2.9 -4.0zM130.8 562l2.9 4.0 -2.9 4.0 -2.9 -4.0zM149.9 568.4l2.9 4.0 -2.9 4.0 -2.9 -4.0zM139.7 577.7l2.9 4.0 -2.9 4.0 -2.9 -4.0zM142.1 570.6l2.9 4.0 -2.9 4.0 -2.9 -4.0zM148.2 566.5l2.9 4.0 -2.9 4.0 -2.9 -4.0zM152.8 559.9l2.9 4.0 -2.9 4.0 -2.9 -4.0zM142 589.9l2.9 4.0 -2.9 4.0 -2.9 -4.0zM132.3 570.3l2.9 4.0 -2.9 4.0 -2.9 -4.0zM139.8 570.3l2.9 4.0 -2.9 4.0 -2.9 -4.0zM152.1 570.2l2.9 4.0 -2.9 4.0 -2.9 -4.0zM143.3 584.7l2.9 4.0 -2.9 4.0 -2.9 -4.0zM147.3 560.7l2.9 4.0 -2.9 4.0 -2.9 -4.0zM146 588l2.9 4.0 -2.9 4.0 -2.9 -4.0zM153.2 565.3l2.9 4.0 -2.9 4.0 -2.9 -4.0zM155.8 565.9l2.9 4.0 -2.9 4.0 -2.9 -4.0zM156.5 571l2.9 4.0 -2.9 4.0 -2.9 -4.0zM137.3 587l2.9 4.0 -2.9 4.0 -2.9 -4.0zM150.8 572.3l2.9 4.0 -2.9 4.0 -2.9 -4.0zM130.4 576.5l2.9 4.0 -2.9 4.0 -2.9 -4.0zM146.1 572l2.9 4.0 -2.9 4.0 -2.9 -4.0zM126.3 571.2l2.9 4.0 -2.9 4.0 -2.9 -4.0zM151.3 564.4l2.9 4.0 -2.9 4.0 -2.9 -4.0zM135.4 567l2.9 4.0 -2.9 4.0 -2.9 -4.0zM135.4 557.1l2.9 4.0 -2.9 4.0 -2.9 -4.0zM128.7 571.1l2.9 4.0 -2.9 4.0 -2.9 -4.0zM139.5 575.1l2.9 4.0 -2.9 4.0 -2.9 -4.0zM150.9 574.1l2.9 4.0 -2.9 4.0 -2.9 -4.0zM149.2 566.5l2.9 4.0 -2.9 4.0 -2.9 -4.0zM142.6 580.8l2.9 4.0 -2.9 4.0 -2.9 -4.0zM156.7 578.2l2.9 4.0 -2.9 4.0 -2.9 -4.0zM155.4 557l2.9 4.0 -2.9 4.0 -2.9 -4.0zM143.1 569.6l2.9 4.0 -2.9 4.0 -2.9 -4.0zM163.1 570.5l2.9 4.0 -2.9 4.0 -2.9 -4.0zM134.5 560.4l2.9 4.0 -2.9 4.0 -2.9 -4.0zM146.4 574.6l2.9 4.0 -2.9 4.0 -2.9 -4.0zM137.9 558.6l2.9 4.0 -2.9 4.0 -2.9 -4.0zM157.2 575l2.9 4.0 -2.9 4.0 -2.9 -4.0zM147.6 553.5l2.9 4.0 -2.9 4.0 -2.9 -4.0zM151.2 560.5l2.9 4.0 -2.9 4.0 -2.9 -4.0zM139.9 593.3l2.9 4.0 -2.9 4.0 -2.9 -4.0zM135.2 587.4l2.9 4.0 -2.9 4.0 -2.9 -4.0zM137.3 579.8l2.9 4.0 -2.9 4.0 -2.9 -4.0zM157.2 564l2.9 4.0 -2.9 4.0 -2.9 -4.0zM139.4 595.3l2.9 4.0 -2.9 4.0 -2.9 -4.0zM138.7 590.3l2.9 4.0 -2.9 4.0 -2.9 -4.0zM146.7 583l2.9 4.0 -2.9 4.0 -2.9 -4.0zM157.9 567.2l2.9 4.0 -2.9 4.0 -2.9 -4.0zM138.8 556.5l2.9 4.0 -2.9 4.0 -2.9 -4.0zM146.5 588.4l2.9 4.0 -2.9 4.0 -2.9 -4.0zM154.4 580.7l2.9 4.0 -2.9 4.0 -2.9 -4.0zM131.3 562.1l2.9 4.0 -2.9 4.0 -2.9 -4.0zM148.7 575.1l2.9 4.0 -2.9 4.0 -2.9 -4.0zM145.1 581l2.9 4.0 -2.9 4.0 -2.9 -4.0zM146.9 569.8l2.9 4.0 -2.9 4.0 -2.9 -4.0zM153.2 555.9l2.9 4.0 -2.9 4.0 -2.9 -4.0zM166 567.7l2.9 4.0 -2.9 4.0 -2.9 -4.0zM138.7 566l2.9 4.0 -2.9 4.0 -2.9 -4.0zM160.7 574.2l2.9 4.0 -2.9 4.0 -2.9 -4.0zM139.6 577.1l2.9 4.0 -2.9 4.0 -2.9 -4.0zM149.1 577.6l2.9 4.0 -2.9 4.0 -2.9 -4.0zM138.1 587.9l2.9 4.0 -2.9 4.0 -2.9 -4.0zM138.1 589.4l2.9 4.0 -2.9 4.0 -2.9 -4.0zM148.3 560.6l2.9 4.0 -2.9 4.0 -2.9 -4.0zM157.5 581.8l2.9 4.0 -2.9 4.0 -2.9 -4.0zM152.5 554.2l2.9 4.0 -2.9 4.0 -2.9 -4.0zM158.3 582.1l2.9 4.0 -2.9 4.0 -2.9 -4.0zM134.5 589.2l2.9 4.0 -2.9 4.0 -2.9 -4.0zM136.2 590.5l2.9 4.0 -2.9 4.0 -2.9 -4.0zM127.6 568.9l2.9 4.0 -2.9 4.0 -2.9 -4.0zM145.3 554.4l2.9 4.0 -2.9 4.0 -2.9 -4.0zM155.8 557.3l2.9 4.0 -2.9 4.0 -2.9 -4.0zM147.6 590.9l2.9 4.0 -2.9 4.0 -2.9 -4.0zM168 568.7l2.9 4.0 -2.9 4.0 -2.9 -4.0zM161.1 573.6l2.9 4.0 -2.9 4.0 -2.9 -4.0zM134 589.1l2.9 4.0 -2.9 4.0 -2.9 -4.0zM156.3 583.4l2.9 4.0 -2.9 4.0 -2.9 -4.0zM168.1 569.2l2.9 4.0 -2.9 4.0 -2.9 -4.0zM137.2 593.9l2.9 4.0 -2.9 4.0 -2.9 -4.0zM132.7 580.3l2.9 4.0 -2.9 4.0 -2.9 -4.0zM159.6 560.5l2.9 4.0 -2.9 4.0 -2.9 -4.0zM137.2 601l2.9 4.0 -2.9 4.0 -2.9 -4.0zM159.6 575.9l2.9 4.0 -2.9 4.0 -2.9 -4.0zM162.7 572.6l2.9 4.0 -2.9 4.0 -2.9 -4.0zM164.9 564.6l2.9 4.0 -2.9 4.0 -2.9 -4.0zM125.2 575l2.9 4.0 -2.9 4.0 -2.9 -4.0zM132.7 557.4l2.9 4.0 -2.9 4.0 -2.9 -4.0zM156.4 583.1l2.9 4.0 -2.9 4.0 -2.9 -4.0zM136.8 552.2l2.9 4.0 -2.9 4.0 -2.9 -4.0zM136.5 554.9l2.9 4.0 -2.9 4.0 -2.9 -4.0zM164.3 568l2.9 4.0 -2.9 4.0 -2.9 -4.0zM125.1 575.3l2.9 4.0 -2.9 4.0 -2.9 -4.0zM160.3 560.6l2.9 4.0 -2.9 4.0 -2.9 -4.0zM132.5 582.2l2.9 4.0 -2.9 4.0 -2.9 -4.0z" fill="none" stroke="#0072BD" stroke-width="1.0"/>
<path d="M98.2 736.8 98.2 746.2 99.4 751.8 103.9 752.9 104.1 753 104.3 753.1 109.6 755.8 123.6 755.8 123.8 755.8 124.1 755.8 131.3 757.3 138.6 758.7 138.7 758.7 145.2 760 149.1 758.1 149.1 754.3 146.4 750.3 145.4 751.1 145.2 751.2 145 751.3 144.8 751.4 144.6 751.5 144.3 751.5 144.1 751.5 143.9 751.5 143.7 751.5 143.4 751.5 137.6 750 137.4 749.9 137.2 749.8 137 749.7 136.9 749.6 136.7 749.5 136.5 749.3 136.4 749.2 132 743.4 132 743.3 127.8 737.7 123.5 733.4 123.4 733.2 123.2 733.1 123.1 732.9 123 732.7 123 732.5 122.9 732.3 121.5 725.5 118.7 722.3 115.9 723.6 115.6 723.7 111.7 725.1 107.8 729.1 107.7 729.2 107.5 729.3 107.3 729.5 107.1 729.6 106.9 729.6 106.7 729.7 101.8 730.9 98.2 736.8Z" fill="#EDB120" fill-opacity="0.85" fill-rule="evenodd"/>
<path d="M106.5 747.3l3.3 5.8h-6.6zM112.8 733.4l3.3 5.8h-6.6zM135.7 752.3l3.3 5.8h-6.6zM118.7 728.2l3.3 5.8h-6.6zM110.9 746.2l3.3 5.8h-6.6zM101.9 745.2l3.3 5.8h-6.6zM113.6 737.5l3.3 5.8h-6.6zM115 735.4l3.3 5.8h-6.6zM144.6 751.3l3.3 5.8h-6.6zM106.4 750.1l3.3 5.8h-6.6zM117.2 725.2l3.3 5.8h-6.6zM107.2 742.9l3.3 5.8h-6.6zM113 729.5l3.3 5.8h-6.6zM134.9 753.3l3.3 5.8h-6.6zM116.6 731.3l3.3 5.8h-6.6zM114 749.9l3.3 5.8h-6.6zM116 738.2l3.3 5.8h-6.6zM133 752.6l3.3 5.8h-6.6zM103.6 739.8l3.3 5.8h-6.6zM134.1 746.3l3.3 5.8h-6.6zM130.1 745.3l3.3 5.8h-6.6zM103.9 727.7l3.3 5.8h-6.6zM111.5 729.4l3.3 5.8h-6.6zM143.5 753l3.3 5.8h-6.6zM125.6 736.5l3.3 5.8h-6.6zM118.9 727.2l3.3 5.8h-6.6zM121.8 732l3.3 5.8h-6.6zM121 725.8l3.3 5.8h-6.6zM105.2 741.2l3.3 5.8h-6.6zM104 747.8l3.3 5.8h-6.6zM117 748.8l3.3 5.8h-6.6zM111.8 722.7l3.3 5.8h-6.6zM112.4 729.8l3.3 5.8h-6.6zM102.3 745.3l3.3 5.8h-6.6zM114 725.7l3.3 5.8h-6.6zM119 738.7l3.3 5.8h-6.6zM124 740.2l3.3 5.8h-6.6zM112.5 733.6l3.3 5.8h-6.6zM123.8 744.7l3.3 5.8h-6.6zM120.4 735l3.3 5.8h-6.6zM101.7 742.2l3.3 5.8h-6.6zM144.4 755.1l3.3 5.8h-6.6zM117.4 751.9l3.3 5.8h-6.6zM136.6 753.2l3.3 5.8h-6.6zM132.4 753.3l3.3 5.8h-6.6zM119.7 735.1l3.3 5.8h-6.6zM104.5 741.5l3.3 5.8h-6.6zM127.5 743.8l3.3 5.8h-6.6zM140.8 750.1l3.3 5.8h-6.6zM99.6 736.7l3.3 5.8h-6.6zM105.5 733.9l3.3 5.8h-6.6zM119.7 742.2l3.3 5.8h-6.6zM129.5 742.8l3.3 5.8h-6.6zM107.7 733.1l3.3 5.8h-6.6zM110.9 727.7l3.3 5.8h-6.6zM105.7 741.6l3.3 5.8h-6.6zM103.6 734.3l3.3 5.8h-6.6zM109.9 726.1l3.3 5.8h-6.6zM113.6 738.5l3.3 5.8h-6.6zM131.4 748.1l3.3 5.8h-6.6zM113.2 739.9l3.3 5.8h-6.6zM101.9 741.1l3.3 5.8h-6.6zM111.4 742.6l3.3 5.8h-6.6zM117.9 745.6l3.3 5.8h-6.6zM109.7 734.4l3.3 5.8h-6.6zM114.3 734.4l3.3 5.8h-6.6zM125.3 739.1l3.3 5.8h-6.6zM100.4 745.1l3.3 5.8h-6.6zM118.6 747.5l3.3 5.8h-6.6zM142.6 755.3l3.3 5.8h-6.6zM103.5 743.5l3.3 5.8h-6.6zM143.3 754.8l3.3 5.8h-6.6zM138.7 753l3.3 5.8h-6.6zM115.8 728.8l3.3 5.8h-6.6zM115 733.4l3.3 5.8h-6.6zM130.1 744.9l3.3 5.8h-6.6zM134.8 749.9l3.3 5.8h-6.6zM140 752.6l3.3 5.8h-6.6zM118.3 750.8l3.3 5.8h-6.6zM104.6 748.3l3.3 5.8h-6.6zM134.4 744.1l3.3 5.8h-6.6zM111.8 725.7l3.3 5.8h-6.6zM101.1 739.7l3.3 5.8h-6.6zM137.1 751l3.3 5.8h-6.6zM127.2 735.4l3.3 5.8h-6.6zM102.1 728.2l3.3 5.8h-6.6zM104.5 730.7l3.3 5.8h-6.6zM111.1 744.3l3.3 5.8h-6.6zM119.2 736.4l3.3 5.8h-6.6zM120.4 731l3.3 5.8h-6.6zM136.2 753.7l3.3 5.8h-6.6zM129.8 753.5l3.3 5.8h-6.6zM108.2 732.1l3.3 5.8h-6.6zM115.6 740.2l3.3 5.8h-6.6zM102.9 730.5l3.3 5.8h-6.6zM127.1 748.6l3.3 5.8h-6.6zM100.1 736.2l3.3 5.8h-6.6zM101.7 742.3l3.3 5.8h-6.6zM130.4 743.4l3.3 5.8h-6.6zM118.4 733.1l3.3 5.8h-6.6zM128.1 747.7l3.3 5.8h-6.6zM128.7 748.3l3.3 5.8h-6.6zM125.6 744.7l3.3 5.8h-6.6zM114.9 732.8l3.3 5.8h-6.6zM115.8 730.1l3.3 5.8h-6.6zM123.1 746.1l3.3 5.8h-6.6zM115.8 724.5l3.3 5.8h-6.6zM137 753.1l3.3 5.8h-6.6zM131.5 753.1l3.3 5.8h-6.6zM115.2 732.1l3.3 5.8h-6.6zM104.8 727.9l3.3 5.8h-6.6zM103 733.4l3.3 5.8h-6.6zM107.6 731.9l3.3 5.8h-6.6zM107.2 743.1l3.3 5.8h-6.6zM99.2 743l3.3 5.8h-6.6zM118.2 751.9l3.3 5.8h-6.6zM100.8 740.9l3.3 5.8h-6.6zM136.9 750.7l3.3 5.8h-6.6zM107.5 736.8l3.3 5.8h-6.6zM106 748.1l3.3 5.8h-6.6zM128.5 743.8l3.3 5.8h-6.6zM116.9 720.6l3.3 5.8h-6.6zM112.3 731.8l3.3 5.8h-6.6zM115.2 728.7l3.3 5.8h-6.6zM119.5 750.8l3.3 5.8h-6.6zM107.9 727.6l3.3 5.8h-6.6zM115.7 750.2l3.3 5.8h-6.6zM116.8 737.9l3.3 5.8h-6.6zM120.2 738.4l3.3 5.8h-6.6zM109.5 728.4l3.3 5.8h-6.6zM124.7 743.6l3.3 5.8h-6.6zM107.3 743.7l3.3 5.8h-6.6zM114.8 730.1l3.3 5.8h-6.6zM115 728.3l3.3 5.8h-6.6zM131 753.3l3.3 5.8h-6.6zM117.1 732.6l3.3 5.8h-6.6zM110.4 748.9l3.3 5.8h-6.6zM132.8 746.7l3.3 5.8h-6.6zM114 742.3l3.3 5.8h-6.6zM142.6 748.6l3.3 5.8h-6.6zM112.5 751.1l3.3 5.8h-6.6zM132.1 744l3.3 5.8h-6.6zM107.2 741.9l3.3 5.8h-6.6zM116.1 738.2l3.3 5.8h-6.6zM148.1 750.4l3.3 5.8h-6.6zM125.3 735.3l3.3 5.8h-6.6zM127.7 737.2l3.3 5.8h-6.6zM117.2 723.3l3.3 5.8h-6.6zM130.1 747.1l3.3 5.8h-6.6zM123.1 746.8l3.3 5.8h-6.6zM112.7 733.4l3.3 5.8h-6.6zM119.7 733.9l3.3 5.8h-6.6zM112.2 741.7l3.3 5.8h-6.6zM100.1 748l3.3 5.8h-6.6zM106.1 736.1l3.3 5.8h-6.6zM112.1 731.7l3.3 5.8h-6.6zM117.4 729l3.3 5.8h-6.6zM113.8 739.9l3.3 5.8h-6.6zM119.8 729.9l3.3 5.8h-6.6zM144.6 755.4l3.3 5.8h-6.6zM129.7 739.8l3.3 5.8h-6.6zM118.7 741.8l3.3 5.8h-6.6zM104.6 739.5l3.3 5.8h-6.6zM115.8 722.6l3.3 5.8h-6.6zM105.7 750l3.3 5.8h-6.6zM103.1 749l3.3 5.8h-6.6zM134.5 745.5l3.3 5.8h-6.6zM120.1 750.3l3.3 5.8h-6.6zM104.1 742.2l3.3 5.8h-6.6zM128.3 747.4l3.3 5.8h-6.6zM104.4 738.9l3.3 5.8h-6.6zM98.6 738.4l3.3 5.8h-6.6zM115.3 735.8l3.3 5.8h-6.6zM113.5 745.5l3.3 5.8h-6.6zM109.6 752.2l3.3 5.8h-6.6zM112.5 731.7l3.3 5.8h-6.6zM123.8 737.6l3.3 5.8h-6.6zM116 735.3l3.3 5.8h-6.6zM137.2 749.4l3.3 5.8h-6.6zM138.5 748l3.3 5.8h-6.6zM120.1 741.5l3.3 5.8h-6.6zM125.3 736.3l3.3 5.8h-6.6zM125 735.1l3.3 5.8h-6.6zM108.9 726.3l3.3 5.8h-6.6zM127.9 749.9l3.3 5.8h-6.6zM103.3 729.1l3.3 5.8h-6.6zM142.1 756.8l3.3 5.8h-6.6zM141 755.3l3.3 5.8h-6.6zM114 752.6l3.3 5.8h-6.6zM139.2 753.9l3.3 5.8h-6.6zM97.8 745.2l3.3 5.8h-6.6zM127.3 735.2l3.3 5.8h-6.6zM145.4 757l3.3 5.8h-6.6zM98.9 745.3l3.3 5.8h-6.6zM134.6 745.9l3.3 5.8h-6.6zM128 752.8l3.3 5.8h-6.6zM103.3 749.9l3.3 5.8h-6.6zM99.8 746.5l3.3 5.8h-6.6zM148.5 752.3l3.3 5.8h-6.6zM136 755.7l3.3 5.8h-6.6zM142.7 747.2l3.3 5.8h-6.6zM132.3 742.1l3.3 5.8h-6.6zM133.1 743.3l3.3 5.8h-6.6zM127.7 736.4l3.3 5.8h-6.6zM128.2 753.3l3.3 5.8h-6.6zM99.8 738.4l3.3 5.8h-6.6zM136.4 746.7l3.3 5.8h-6.6zM99.7 750.2l3.3 5.8h-6.6zM136 743.1l3.3 5.8h-6.6zM131.2 752.9l3.3 5.8h-6.6zM97.5 743.8l3.3 5.8h-6.6zM124.3 753.5l3.3 5.8h-6.6zM106.4 749.9l3.3 5.8h-6.6z" fill="none" stroke="#EDB120" stroke-width="1.0"/>
<path d="M231 616 230.5 621.8 231.1 630.2 233.1 638.5 235.6 641.8 242 642.7 245.7 640.8 245.9 640.7 246.1 640.7 246.3 640.6 246.5 640.6 246.7 640.6 246.8 640.6 247 640.7 247.2 640.7 247.4 640.8 247.6 640.9 247.7 641 247.9 641.1 248 641.2 248.1 641.4 248.2 641.5 251.5 647 251.6 647.2 251.7 647.3 253.4 651.6 260.4 651.6 261.1 647.6 261.2 647.4 261.3 647.3 261.4 647.1 261.5 646.9 261.6 646.8 261.7 646.6 261.9 646.5 265.6 643.7 266.6 636.1 264.5 626.6 264.4 626.4 264.4 626.2 264.4 626.1 264.4 625.9 264.5 625.7 266.6 618.2 266.6 615.5 261.9 615.5 261.7 615.5 261.5 615.5 261.4 615.4 256 613.8 251.1 612.4 247.2 613.8 247.1 613.8 246.9 613.9 237.1 615.5 236.9 615.5 231 616Z" fill="#77AC30" fill-opacity="0.3" fill-rule="evenodd"/>
<path d="M240.2 621h4.5v4.5h-4.5zM250 615.5h4.5v4.5h-4.5zM237.8 618.3h4.5v4.5h-4.5zM244.5 617.6h4.5v4.5h-4.5zM237.5 634.3h4.5v4.5h-4.5zM249.9 619.1h4.5v4.5h-4.5zM231.7 623.9h4.5v4.5h-4.5zM229.5 628.6h4.5v4.5h-4.5zM261.6 637.1h4.5v4.5h-4.5zM239.3 639.9h4.5v4.5h-4.5zM235 623.4h4.5v4.5h-4.5zM244 626.8h4.5v4.5h-4.5zM233.9 636.3h4.5v4.5h-4.5zM252.5 642.4h4.5v4.5h-4.5zM256.5 637.5h4.5v4.5h-4.5zM251.5 612.1h4.5v4.5h-4.5zM231.4 633.3h4.5v4.5h-4.5zM260.2 628.7h4.5v4.5h-4.5zM253.9 633.4h4.5v4.5h-4.5zM244.8 623.9h4.5v4.5h-4.5zM240.3 628.1h4.5v4.5h-4.5zM260.1 635.3h4.5v4.5h-4.5zM233.4 618.3h4.5v4.5h-4.5zM244.2 633h4.5v4.5h-4.5zM240.4 629.3h4.5v4.5h-4.5zM230.9 614.9h4.5v4.5h-4.5zM259.2 620.8h4.5v4.5h-4.5zM240.2 627.3h4.5v4.5h-4.5zM261.2 639.7h4.5v4.5h-4.5zM234.9 622.4h4.5v4.5h-4.5zM257.9 620.6h4.5v4.5h-4.5zM257.5 615.6h4.5v4.5h-4.5zM256.8 645.6h4.5v4.5h-4.5zM262.9 618.9h4.5v4.5h-4.5zM258.6 636.3h4.5v4.5h-4.5zM233.8 634.7h4.5v4.5h-4.5zM260 629.5h4.5v4.5h-4.5zM245.1 618h4.5v4.5h-4.5zM248.3 638.5h4.5v4.5h-4.5zM236.8 614.8h4.5v4.5h-4.5zM240.4 621.8h4.5v4.5h-4.5zM232.1 622.6h4.5v4.5h-4.5zM263 635.3h4.5v4.5h-4.5zM247.1 632.1h4.5v4.5h-4.5zM257.6 624.9h4.5v4.5h-4.5zM231 630.8h4.5v4.5h-4.5zM242.3 636.9h4.5v4.5h-4.5zM264 616.1h4.5v4.5h-4.5zM255.3 627.1h4.5v4.5h-4.5zM237.7 629.1h4.5v4.5h-4.5zM241.9 613.6h4.5v4.5h-4.5zM255.2 631.5h4.5v4.5h-4.5zM244.9 613.4h4.5v4.5h-4.5zM244.7 628.7h4.5v4.5h-4.5zM248.4 622.6h4.5v4.5h-4.5zM231.9 633.2h4.5v4.5h-4.5zM238.7 614.1h4.5v4.5h-4.5zM232.5 620.7h4.5v4.5h-4.5zM242.1 619.8h4.5v4.5h-4.5zM236.1 620.8h4.5v4.5h-4.5zM255.7 637.6h4.5v4.5h-4.5zM244.5 623.5h4.5v4.5h-4.5zM250.1 639.1h4.5v4.5h-4.5zM231.1 622.2h4.5v4.5h-4.5zM256.8 624.8h4.5v4.5h-4.5zM236 627h4.5v4.5h-4.5zM253.2 613.2h4.5v4.5h-4.5zM255.1 617.8h4.5v4.5h-4.5zM256.5 613.5h4.5v4.5h-4.5zM246.1 639h4.5v4.5h-4.5zM241 636.8h4.5v4.5h-4.5zM248.1 622.2h4.5v4.5h-4.5zM249.7 632.2h4.5v4.5h-4.5zM255 628.5h4.5v4.5h-4.5zM251.8 620.2h4.5v4.5h-4.5zM230.5 632h4.5v4.5h-4.5zM251.9 645.6h4.5v4.5h-4.5zM256.7 629.3h4.5v4.5h-4.5zM236.6 623.8h4.5v4.5h-4.5zM229.9 629.5h4.5v4.5h-4.5zM235.4 617.6h4.5v4.5h-4.5zM263.7 614.4h4.5v4.5h-4.5zM250.3 616h4.5v4.5h-4.5zM255.7 614.7h4.5v4.5h-4.5zM239.3 630.5h4.5v4.5h-4.5zM261.6 636.4h4.5v4.5h-4.5zM238.8 619.3h4.5v4.5h-4.5zM233.1 630.2h4.5v4.5h-4.5zM249.9 636.4h4.5v4.5h-4.5zM239.1 631.4h4.5v4.5h-4.5zM261.7 628.8h4.5v4.5h-4.5zM233.7 631.6h4.5v4.5h-4.5zM259.3 626.2h4.5v4.5h-4.5zM234.6 626.6h4.5v4.5h-4.5zM241.6 623.3h4.5v4.5h-4.5zM257.3 616.2h4.5v4.5h-4.5zM241.4 616.3h4.5v4.5h-4.5zM229.5 622.3h4.5v4.5h-4.5zM258.7 641.2h4.5v4.5h-4.5zM256.1 641h4.5v4.5h-4.5zM253.5 613.5h4.5v4.5h-4.5zM256.8 630.1h4.5v4.5h-4.5zM244 616.5h4.5v4.5h-4.5zM238.2 616h4.5v4.5h-4.5zM250.5 619.8h4.5v4.5h-4.5zM250.6 634.9h4.5v4.5h-4.5zM236.7 636.7h4.5v4.5h-4.5zM236.7 623.1h4.5v4.5h-4.5zM249.4 617.4h4.5v4.5h-4.5zM254 628.4h4.5v4.5h-4.5zM263.7 635.8h4.5v4.5h-4.5zM259.8 620.2h4.5v4.5h-4.5zM257.4 618.8h4.5v4.5h-4.5zM250.8 619.2h4.5v4.5h-4.5zM240.3 624.5h4.5v4.5h-4.5zM245.8 620.6h4.5v4.5h-4.5zM236.5 638.2h4.5v4.5h-4.5zM233.6 633.8h4.5v4.5h-4.5zM241.9 615.6h4.5v4.5h-4.5zM258.4 639.8h4.5v4.5h-4.5zM253.6 648.1h4.5v4.5h-4.5zM243.3 620.1h4.5v4.5h-4.5zM243.5 631.6h4.5v4.5h-4.5zM246.3 630.2h4.5v4.5h-4.5zM252.4 643h4.5v4.5h-4.5zM252.9 644.9h4.5v4.5h-4.5zM236.4 639.1h4.5v4.5h-4.5zM245.5 625.6h4.5v4.5h-4.5zM260.8 614.9h4.5v4.5h-4.5zM251.9 611.7h4.5v4.5h-4.5zM261.8 625.9h4.5v4.5h-4.5zM260.2 624.8h4.5v4.5h-4.5zM230.4 630.1h4.5v4.5h-4.5zM235.3 620.4h4.5v4.5h-4.5zM247 626.3h4.5v4.5h-4.5zM257.6 628h4.5v4.5h-4.5zM246.2 617.3h4.5v4.5h-4.5zM248.4 635.5h4.5v4.5h-4.5zM239.2 613.1h4.5v4.5h-4.5zM261.1 620.1h4.5v4.5h-4.5zM255.2 622.6h4.5v4.5h-4.5zM251.6 642.5h4.5v4.5h-4.5zM247.3 615.1h4.5v4.5h-4.5zM254.2 646h4.5v4.5h-4.5zM258.1 625.3h4.5v4.5h-4.5zM243.1 634.3h4.5v4.5h-4.5zM255.3 613h4.5v4.5h-4.5zM257.1 632.8h4.5v4.5h-4.5zM230.3 632.6h4.5v4.5h-4.5zM240.6 620.9h4.5v4.5h-4.5zM230.3 624.7h4.5v4.5h-4.5zM234.3 612.4h4.5v4.5h-4.5zM264.1 641.8h4.5v4.5h-4.5zM228.8 621.8h4.5v4.5h-4.5zM264 612.2h4.5v4.5h-4.5zM238.6 641.7h4.5v4.5h-4.5zM263 632.6h4.5v4.5h-4.5zM256.5 649.1h4.5v4.5h-4.5zM259.3 647.8h4.5v4.5h-4.5zM260.4 613.5h4.5v4.5h-4.5zM228.9 632.2h4.5v4.5h-4.5zM262.8 621.5h4.5v4.5h-4.5zM262.3 611.9h4.5v4.5h-4.5zM258.6 650.4h4.5v4.5h-4.5zM231 637.5h4.5v4.5h-4.5zM249.2 609.7h4.5v4.5h-4.5zM240.8 613h4.5v4.5h-4.5zM264.3 617.3h4.5v4.5h-4.5zM234.5 612.1h4.5v4.5h-4.5zM254.6 649.9h4.5v4.5h-4.5zM264.1 631.6h4.5v4.5h-4.5zM252.8 609.7h4.5v4.5h-4.5z" fill="none" stroke="#77AC30" stroke-width="1.0"/>
<path d="M92.6 624.9 90.2 631 90.1 631.1 90.1 631.2 90 631.3 85 637.6 82.7 642.2 83.8 647.8 86.9 650.8 91 649.7 99.9 644.7 100 644.6 106.3 642.1 106.4 642.1 106.5 642.1 112.9 640.8 113.1 640.7 113.2 640.7 119.5 640.7 119.6 640.7 119.8 640.8 125.7 642 130.2 639.7 134.7 634.1 132.4 626.2 127.7 622.6 127.6 622.5 127.5 622.4 127.5 622.3 127.4 622.2 127.3 622.1 127.3 622 125.1 614.3 122.9 615.1 118 621.2 117.9 621.3 117.8 621.4 117.7 621.4 117.6 621.5 117.5 621.6 117.4 621.6 117.3 621.6 117.2 621.6 117 621.7 116.9 621.7 116.8 621.6 116.7 621.6 116.6 621.6 116.5 621.5 116.3 621.5 110.4 617.8 104.6 619 104.5 619 97.2 620.2 92.6 624.9Z" fill="#7E2F8E" fill-opacity="0.45" fill-rule="evenodd"/>
<path d="M54.9 649h6.2M58 645.9v6.2M60.4 662.7h6.2M63.5 659.6v6.2M120.8 616.2h6.2M123.9 613.1v6.2M135.4 614.9h6.2M138.5 611.8v6.2M135.9 557h6.2M139 553.9v6.2M150.9 560h6.2M154 556.9v6.2M102.9 626.8h6.2M106 623.7v6.2M125.4 624.3h6.2M128.5 621.2v6.2M92.2 633h6.2M95.3 629.9v6.2M104.3 634.8h6.2M107.4 631.7v6.2M125.1 636.9h6.2M128.2 633.8v6.2M98.5 643h6.2M101.6 639.9v6.2M85.7 640.6h6.2M88.8 637.5v6.2M101.5 636.6h6.2M104.6 633.5v6.2M92.1 628.8h6.2M95.2 625.7v6.2M94.1 627.4h6.2M97.2 624.3v6.2M106.9 620.4h6.2M110 617.3v6.2M103.8 632.4h6.2M106.9 629.3v6.2M90.5 627.3h6.2M93.6 624.2v6.2M100.8 635.7h6.2M103.9 632.6v6.2M103.8 621h6.2M106.9 617.9v6.2M107.3 628.5h6.2M110.4 625.4v6.2M112.8 625.2h6.2M115.9 622.1v6.2M107 640.7h6.2M110.1 637.6v6.2M106.1 633.6h6.2M109.2 630.5v6.2M105.1 623.5h6.2M108.2 620.4v6.2M85 636.5h6.2M88.1 633.4v6.2M123.3 628.1h6.2M126.4 625v6.2M91.2 645.5h6.2M94.3 642.4v6.2M93.8 622h6.2M96.9 618.9v6.2M90.4 639.7h6.2M93.5 636.6v6.2M96.7 639.8h6.2M99.8 636.7v6.2M109.8 625h6.2M112.9 621.9v6.2M99.8 631h6.2M102.9 627.9v6.2M92.5 624.5h6.2M95.6 621.4v6.2M123.9 628.1h6.2M127 625v6.2M122.3 627.3h6.2M125.4 624.2v6.2M89.2 643.9h6.2M92.3 640.8v6.2M105 629.8h6.2M108.1 626.7v6.2M100.9 634.9h6.2M104 631.8v6.2M81.4 645.9h6.2M84.5 642.8v6.2M98.4 640.2h6.2M101.5 637.1v6.2M114.7 637h6.2M117.8 633.9v6.2M90.1 634.7h6.2M93.2 631.6v6.2M105.6 637h6.2M108.7 633.9v6.2M102 623.1h6.2M105.1 620v6.2M95.3 637.3h6.2M98.4 634.2v6.2M114.6 637.4h6.2M117.7 634.3v6.2M122.2 620.7h6.2M125.3 617.6v6.2M90.9 625.8h6.2M94 622.7v6.2M107.8 637.7h6.2M110.9 634.6v6.2M94.4 622.4h6.2M97.5 619.3v6.2M124.5 635.1h6.2M127.6 632v6.2M111.8 629.1h6.2M114.9 626v6.2M97.4 626.3h6.2M100.5 623.2v6.2M85.7 633.5h6.2M88.8 630.4v6.2M101.4 631.8h6.2M104.5 628.7v6.2M117.4 627.1h6.2M120.5 624v6.2M117.4 621.9h6.2M120.5 618.8v6.2M119.1 636.7h6.2M122.2 633.6v6.2M87.1 632.7h6.2M90.2 629.6v6.2M123.4 625.5h6.2M126.5 622.4v6.2M99.9 625h6.2M103 621.9v6.2M108.3 636.2h6.2M111.4 633.1v6.2M94.5 627.3h6.2M97.6 624.2v6.2M118.2 629.1h6.2M121.3 626v6.2M93.9 640.5h6.2M97 637.4v6.2M120.4 632.4h6.2M123.5 629.3v6.2M102.6 635.2h6.2M105.7 632.1v6.2M105 640.2h6.2M108.1 637.1v6.2M96.8 623.5h6.2M99.9 620.4v6.2M88.7 628.1h6.2M91.8 625v6.2M82.4 637.2h6.2M85.5 634.1v6.2M92 622.8h6.2M95.1 619.7v6.2M107 634.8h6.2M110.1 631.7v6.2M121.1 624.9h6.2M124.2 621.8v6.2M95.6 631.9h6.2M98.7 628.8v6.2M121.6 630.9h6.2M124.7 627.8v6.2M112.8 629.3h6.2M115.9 626.2v6.2M94.3 638.3h6.2M97.4 635.2v6.2M81.6 640h6.2M84.7 636.9v6.2M121 624.6h6.2M124.1 621.5v6.2M86.7 644.4h6.2M89.8 641.3v6.2M103.4 630.7h6.2M106.5 627.6v6.2M92.7 627.6h6.2M95.8 624.5v6.2M112.4 623.4h6.2M115.5 620.3v6.2M126.6 629.2h6.2M129.7 626.1v6.2M84.6 646.7h6.2M87.7 643.6v6.2M105.9 626.5h6.2M109 623.4v6.2M104.7 622.6h6.2M107.8 619.5v6.2M107.5 629.4h6.2M110.6 626.3v6.2M89.4 630.2h6.2M92.5 627.1v6.2M121.6 630h6.2M124.7 626.9v6.2M111.7 640.1h6.2M114.8 637v6.2M119.1 628.9h6.2M122.2 625.8v6.2M119.9 626.5h6.2M123 623.4v6.2M99.8 624.5h6.2M102.9 621.4v6.2M108.3 630.4h6.2M111.4 627.3v6.2M121.1 621.3h6.2M124.2 618.2v6.2M118.7 635.4h6.2M121.8 632.3v6.2M100.6 637.7h6.2M103.7 634.6v6.2M117.3 635.9h6.2M120.4 632.8v6.2M98.6 630.5h6.2M101.7 627.4v6.2M123 630.8h6.2M126.1 627.7v6.2M111.2 625.1h6.2M114.3 622v6.2M108.7 639.1h6.2M111.8 636v6.2M123.3 620.9h6.2M126.4 617.8v6.2M128.2 632.8h6.2M131.3 629.7v6.2M117.6 630.6h6.2M120.7 627.5v6.2M90.6 639.1h6.2M93.7 636v6.2M113.6 629h6.2M116.7 625.9v6.2M124.5 626.6h6.2M127.6 623.5v6.2M103.6 633.5h6.2M106.7 630.4v6.2M128.6 632.1h6.2M131.7 629v6.2M102.6 629.1h6.2M105.7 626v6.2M111.4 634.5h6.2M114.5 631.4v6.2M112.2 621.8h6.2M115.3 618.7v6.2M120.5 623.5h6.2M123.6 620.4v6.2M99.3 622.3h6.2M102.4 619.2v6.2M93.5 645.2h6.2M96.6 642.1v6.2M86.9 637.5h6.2M90 634.4v6.2M95.7 639.8h6.2M98.8 636.7v6.2M94.3 621h6.2M97.4 617.9v6.2M88.5 628.8h6.2M91.6 625.7v6.2M106.8 626.5h6.2M109.9 623.4v6.2M98.3 638.1h6.2M101.4 635v6.2M98.1 636.6h6.2M101.2 633.5v6.2M107.5 622.1h6.2M110.6 619v6.2M89 631.2h6.2M92.1 628.1v6.2M98.2 635.4h6.2M101.3 632.3v6.2M103.5 629.9h6.2M106.6 626.8v6.2M118.6 626.8h6.2M121.7 623.7v6.2M117.8 632.2h6.2M120.9 629.1v6.2M95.7 631.4h6.2M98.8 628.3v6.2M103.3 620.6h6.2M106.4 617.5v6.2M121.7 631.9h6.2M124.8 628.8v6.2M89 645.4h6.2M92.1 642.3v6.2M93.5 627.7h6.2M96.6 624.6v6.2M95.6 632.8h6.2M98.7 629.7v6.2M89.3 635.9h6.2M92.4 632.8v6.2M112.2 626.5h6.2M115.3 623.4v6.2M126.2 631.1h6.2M129.3 628v6.2M122.7 635.1h6.2M125.8 632v6.2M108 630.1h6.2M111.1 627v6.2M102.9 630.6h6.2M106 627.5v6.2M117.6 628.7h6.2M120.7 625.6v6.2M90.3 628h6.2M93.4 624.9v6.2M113.6 634h6.2M116.7 630.9v6.2M101.3 630.1h6.2M104.4 627v6.2M103.7 618.8h6.2M106.8 615.7v6.2M122 631.5h6.2M125.1 628.4v6.2M97.8 625.8h6.2M100.9 622.7v6.2M103.5 619.9h6.2M106.6 616.8v6.2M109.9 636.6h6.2M113 633.5v6.2M120.6 617.7h6.2M123.7 614.6v6.2M110.5 622.1h6.2M113.6 619v6.2M104.8 623.8h6.2M107.9 620.7v6.2M115.8 624.4h6.2M118.9 621.3v6.2M108.7 639.9h6.2M111.8 636.8v6.2M88 643.9h6.2M91.1 640.8v6.2M120.9 626.7h6.2M124 623.6v6.2M127.3 630.6h6.2M130.4 627.5v6.2M91.2 642.5h6.2M94.3 639.4v6.2M103.3 640.3h6.2M106.4 637.2v6.2M117.5 637.5h6.2M120.6 634.4v6.2M117.1 632.7h6.2M120.2 629.6v6.2M83.3 637.6h6.2M86.4 634.5v6.2M90.7 644.2h6.2M93.8 641.1v6.2M86.3 648h6.2M89.4 644.9v6.2M104.4 638.4h6.2M107.5 635.3v6.2M117 620.5h6.2M120.1 617.4v6.2M102.6 625.6h6.2M105.7 622.5v6.2M100.5 632h6.2M103.6 628.9v6.2M112.3 626.8h6.2M115.4 623.7v6.2M121.9 624.5h6.2M125 621.4v6.2M119.6 624.6h6.2M122.7 621.5v6.2M92.5 626.1h6.2M95.6 623v6.2M85.7 640.9h6.2M88.8 637.8v6.2M130 634.2h6.2M133.1 631.1v6.2M112.6 624.5h6.2M115.7 621.4v6.2M83.3 649.9h6.2M86.4 646.8v6.2M88.1 649.1h6.2M91.2 646v6.2M123.2 615.9h6.2M126.3 612.8v6.2M81.2 640.2h6.2M84.3 637.1v6.2M100.9 644.5h6.2M104 641.4v6.2M79.7 648.6h6.2M82.8 645.5v6.2M113.7 640.1h6.2M116.8 637v6.2M85.9 631.4h6.2M89 628.3v6.2M84 637.4h6.2M87.1 634.3v6.2M112.4 622.7h6.2M115.5 619.6v6.2M90.3 647.3h6.2M93.4 644.2v6.2M99 642.5h6.2M102.1 639.4v6.2M131.3 628.7h6.2M134.4 625.6v6.2M105.3 641.2h6.2M108.4 638.1v6.2M122.5 622.1h6.2M125.6 619v6.2M127.7 640.2h6.2M130.8 637.1v6.2M126.2 641.7h6.2M129.3 638.6v6.2M123.9 616.1h6.2M127 613v6.2M105.2 617.9h6.2M108.3 614.8v6.2M92.3 647.1h6.2M95.4 644v6.2M129.2 630.1h6.2M132.3 627v6.2M123.4 640h6.2M126.5 636.9v6.2M127.9 623.2h6.2M131 620.1v6.2M88.8 630.4h6.2M91.9 627.3v6.2M109.4 621h6.2M112.5 617.9v6.2M102.9 619.3h6.2M106 616.2v6.2" fill="none" stroke="#7E2F8E" stroke-width="1.0"/>
<path d="M168.8 692.2 171.8 697 171.9 697.2 172 697.4 172 697.5 172.1 697.7 173.3 705.3 174.4 710.8 178.5 712.8 184.5 714 189 714 188.6 700.1 188.6 700 188.6 699.9 188.6 699.7 188.6 699.6 188.7 699.4 188.7 699.3 188.7 699.2 188.8 699.1 188.8 698.9 188.9 698.8 188.9 698.6 189 698.5 189.1 698.4 189.1 698.3 189.3 698.2 189.3 698.1 189.4 698 189.5 697.9 189.7 697.8 189.7 697.7 189.9 697.6 190 697.5 190.1 697.4 190.2 697.4 190.4 697.3 190.5 697.3 190.7 697.2 190.8 697.2 190.9 697.2 191 697.1 191.2 697.1 191.3 697.1 191.5 697.1 191.6 697.1 191.8 697.1 191.9 697.1 192.1 697.2 192.2 697.2 192.3 697.2 192.4 697.3 192.6 697.3 192.7 697.4 192.9 697.4 193 697.5 193.1 697.6 193.2 697.6 193.3 697.8 193.4 697.8 193.5 697.9 193.6 698 193.7 698.2 193.8 698.2 193.9 698.4 194 698.5 194.1 698.6 194.1 698.7 194.2 698.9 194.2 699 194.3 699.2 194.3 699.3 194.3 699.4 194.4 699.5 194.4 699.7 194.4 699.8 194.4 699.9 194.8 712.1 195.8 711.8 197.3 706.3 197.3 706.2 197.4 706.1 197.4 705.9 197.5 705.8 197.5 705.7 197.6 705.6 197.7 705.4 197.7 705.3 197.9 705.2 197.9 705.1 198 705 198.1 704.9 198.2 704.8 198.3 704.8 198.5 704.7 198.5 704.6 198.7 704.5 198.8 704.5 198.9 704.4 199 704.4 199.2 704.3 199.3 704.3 199.5 704.3 199.6 704.2 199.7 704.2 199.8 704.2 200 704.2 200.1 704.2 200.3 704.2 200.4 704.2 200.6 704.3 200.7 704.3 200.8 704.3 200.9 704.4 201.1 704.4 201.2 704.5 201.3 704.5 201.4 704.6 201.6 704.7 201.7 704.7 201.8 704.9 201.9 704.9 202 705 202.1 705.1 202.2 705.2 202.2 705.3 202.3 705.5 202.4 705.5 202.5 705.7 202.5 705.8 202.6 705.9 202.6 706 202.7 706.2 202.7 706.3 202.7 706.5 202.8 706.6 202.8 706.7 202.8 706.8 202.8 707 202.8 707.1 202.8 707.3 202.8 707.4 202.7 707.6 202.7 707.7 202.7 707.7 202.6 708.1 206 705.6 208.3 702.8 207.3 701 203.4 700.4 198.5 701.1 198.4 701.1 198.2 701.1 198 701.1 197.8 701 197.7 701 197.5 700.9 197.3 700.8 197.2 700.7 197.1 700.6 196.9 700.5 196.8 700.3 196.7 700.2 196.7 700 196.6 699.9 196.5 699.7 196.5 699.5 196.5 699.3 196.5 699.1 196.5 699 196.6 698.8 196.6 698.6 196.7 698.5 196.8 698.3 199.3 694.5 199.4 694.4 199.5 694.2 199.7 694.1 199.8 694 200 693.9 204.4 691.6 205.1 689.6 202.3 686.8 197.6 684.4 192.6 682.5 192.4 682.4 192.2 682.3 192.1 682.2 191.9 682.1 191.8 682 191.7 681.8 191.6 681.7 191.5 681.5 191.5 681.3 190.4 677.7 188.3 676.6 185.4 679 185.3 679.1 185.1 679.2 185 679.3 184.8 679.3 184.6 679.4 184.5 679.4 184.3 679.4 177.1 679.4 171.6 682.8 167.8 688.2 168.8 692.2Z" fill="#4DBEEE" fill-opacity="0.85" fill-rule="evenodd"/>
<path d="M172 704.7h5.4M174.7 702v5.4M172.8 702.8l3.9 3.9M172.8 706.7l3.9 -3.9M172.5 689.6h5.4M175.2 686.9v5.4M173.2 687.7l3.9 3.9M173.2 691.6l3.9 -3.9M174.5 688.6h5.4M177.2 685.9v5.4M175.3 686.6l3.9 3.9M175.3 690.5l3.9 -3.9M185.6 690.1h5.4M188.3 687.4v5.4M186.4 688.2l3.9 3.9M186.4 692l3.9 -3.9M173.7 690.1h5.4M176.4 687.4v5.4M174.4 688.1l3.9 3.9M174.4 692l3.9 -3.9M183.5 707.9h5.4M186.2 705.2v5.4M184.3 705.9l3.9 3.9M184.3 709.8l3.9 -3.9M183.6 696.7h5.4M186.3 694v5.4M184.3 694.8l3.9 3.9M184.3 698.7l3.9 -3.9M192.8 703.3h5.4M195.5 700.6v5.4M193.5 701.3l3.9 3.9M193.5 705.2l3.9 -3.9M180.1 707.5h5.4M182.8 704.8v5.4M180.8 705.6l3.9 3.9M180.8 709.5l3.9 -3.9M195.8 687.7h5.4M198.5 685v5.4M196.6 685.8l3.9 3.9M196.6 689.6l3.9 -3.9M188.9 684.4h5.4M191.6 681.7v5.4M189.7 682.4l3.9 3.9M189.7 686.3l3.9 -3.9M186.7 696.9h5.4M189.4 694.2v5.4M187.4 695l3.9 3.9M187.4 698.8l3.9 -3.9M182.9 708.9h5.4M185.6 706.2v5.4M183.6 707l3.9 3.9M183.6 710.9l3.9 -3.9M176.9 690.6h5.4M179.6 687.9v5.4M177.7 688.6l3.9 3.9M177.7 692.5l3.9 -3.9M184.8 708.2h5.4M187.5 705.5v5.4M185.6 706.3l3.9 3.9M185.6 710.2l3.9 -3.9M173.4 703.4h5.4M176.1 700.7v5.4M174.2 701.4l3.9 3.9M174.2 705.3l3.9 -3.9M179.9 689.3h5.4M182.6 686.6v5.4M180.7 687.3l3.9 3.9M180.7 691.2l3.9 -3.9M178.7 694.4h5.4M181.4 691.7v5.4M179.5 692.5l3.9 3.9M179.5 696.4l3.9 -3.9M192.7 693.9h5.4M195.4 691.2v5.4M193.4 691.9l3.9 3.9M193.4 695.8l3.9 -3.9M185.3 678.1h5.4M188 675.4v5.4M186.1 676.1l3.9 3.9M186.1 680l3.9 -3.9M176.9 691.4h5.4M179.6 688.7v5.4M177.7 689.5l3.9 3.9M177.7 693.3l3.9 -3.9M186.9 693.2h5.4M189.6 690.5v5.4M187.6 691.3l3.9 3.9M187.6 695.2l3.9 -3.9M173.5 693.3h5.4M176.2 690.6v5.4M174.3 691.3l3.9 3.9M174.3 695.2l3.9 -3.9M167.9 690h5.4M170.6 687.3v5.4M168.6 688.1l3.9 3.9M168.6 692l3.9 -3.9M173 700.4h5.4M175.7 697.7v5.4M173.8 698.5l3.9 3.9M173.8 702.4l3.9 -3.9M172.5 681.2h5.4M175.2 678.5v5.4M173.2 679.3l3.9 3.9M173.2 683.2l3.9 -3.9M185.6 690.3h5.4M188.3 687.6v5.4M186.3 688.4l3.9 3.9M186.3 692.2l3.9 -3.9M179.3 712.4h5.4M182 709.7v5.4M180 710.5l3.9 3.9M180 714.3l3.9 -3.9M172.3 694.9h5.4M175 692.2v5.4M173 692.9l3.9 3.9M173 696.8l3.9 -3.9M184.7 690.6h5.4M187.4 687.9v5.4M185.4 688.6l3.9 3.9M185.4 692.5l3.9 -3.9M175.7 711.6h5.4M178.4 708.9v5.4M176.5 709.7l3.9 3.9M176.5 713.6l3.9 -3.9M178 683.3h5.4M180.7 680.6v5.4M178.8 681.3l3.9 3.9M178.8 685.2l3.9 -3.9M169.9 686h5.4M172.6 683.3v5.4M170.7 684.1l3.9 3.9M170.7 688l3.9 -3.9M201.1 704.3h5.4M203.8 701.6v5.4M201.9 702.4l3.9 3.9M201.9 706.3l3.9 -3.9M187.8 693.9h5.4M190.5 691.2v5.4M188.6 692l3.9 3.9M188.6 695.9l3.9 -3.9M186.6 697.4h5.4M189.3 694.7v5.4M187.4 695.5l3.9 3.9M187.4 699.3l3.9 -3.9M175.2 702h5.4M177.9 699.3v5.4M175.9 700.1l3.9 3.9M175.9 703.9l3.9 -3.9M194.5 695.2h5.4M197.2 692.5v5.4M195.2 693.2l3.9 3.9M195.2 697.1l3.9 -3.9M177.1 689h5.4M179.8 686.3v5.4M177.9 687l3.9 3.9M177.9 690.9l3.9 -3.9M176.7 698.9h5.4M179.4 696.2v5.4M177.5 696.9l3.9 3.9M177.5 700.8l3.9 -3.9M187.2 694.5h5.4M189.9 691.8v5.4M187.9 692.6l3.9 3.9M187.9 696.5l3.9 -3.9M166.5 691.7h5.4M169.2 689v5.4M167.3 689.7l3.9 3.9M167.3 693.6l3.9 -3.9M171.8 691.2h5.4M174.5 688.5v5.4M172.6 689.3l3.9 3.9M172.6 693.2l3.9 -3.9M198.2 702.2h5.4M200.9 699.5v5.4M198.9 700.3l3.9 3.9M198.9 704.2l3.9 -3.9M195.8 704.3h5.4M198.5 701.6v5.4M196.5 702.3l3.9 3.9M196.5 706.2l3.9 -3.9M176.2 687.5h5.4M178.9 684.8v5.4M176.9 685.5l3.9 3.9M176.9 689.4l3.9 -3.9M180.9 692.7h5.4M183.6 690v5.4M181.7 690.8l3.9 3.9M181.7 694.7l3.9 -3.9M172.7 688.6h5.4M175.4 685.9v5.4M173.5 686.7l3.9 3.9M173.5 690.6l3.9 -3.9M190.3 685.4h5.4M193 682.7v5.4M191 683.5l3.9 3.9M191 687.4l3.9 -3.9M174.6 710.1h5.4M177.3 707.4v5.4M175.4 708.1l3.9 3.9M175.4 712l3.9 -3.9M191.2 688.1h5.4M193.9 685.4v5.4M192 686.2l3.9 3.9M192 690.1l3.9 -3.9M185.8 708.5h5.4M188.5 705.8v5.4M186.6 706.5l3.9 3.9M186.6 710.4l3.9 -3.9M193.3 698.4h5.4M196 695.7v5.4M194.1 696.5l3.9 3.9M194.1 700.4l3.9 -3.9M174.5 704.1h5.4M177.2 701.4v5.4M175.3 702.1l3.9 3.9M175.3 706l3.9 -3.9M200.5 690h5.4M203.2 687.3v5.4M201.3 688l3.9 3.9M201.3 691.9l3.9 -3.9M176.1 709.1h5.4M178.8 706.4v5.4M176.8 707.2l3.9 3.9M176.8 711l3.9 -3.9M175.8 693.3h5.4M178.5 690.6v5.4M176.6 691.3l3.9 3.9M176.6 695.2l3.9 -3.9M174.3 707.4h5.4M177 704.7v5.4M175 705.5l3.9 3.9M175 709.4l3.9 -3.9M197.4 685.9h5.4M200.1 683.2v5.4M198.1 683.9l3.9 3.9M198.1 687.8l3.9 -3.9M182.2 699h5.4M184.9 696.3v5.4M182.9 697l3.9 3.9M182.9 700.9l3.9 -3.9M175.7 681h5.4M178.4 678.3v5.4M176.4 679l3.9 3.9M176.4 682.9l3.9 -3.9M189.8 696.9h5.4M192.5 694.2v5.4M190.6 694.9l3.9 3.9M190.6 698.8l3.9 -3.9M184.4 699.5h5.4M187.1 696.8v5.4M185.2 697.6l3.9 3.9M185.2 701.5l3.9 -3.9M174.1 689.2h5.4M176.8 686.5v5.4M174.9 687.3l3.9 3.9M174.9 691.2l3.9 -3.9M173.2 685.1h5.4M175.9 682.4v5.4M173.9 683.1l3.9 3.9M173.9 687l3.9 -3.9M194 701h5.4M196.7 698.3v5.4M194.7 699l3.9 3.9M194.7 702.9l3.9 -3.9M179.3 687.2h5.4M182 684.5v5.4M180.1 685.3l3.9 3.9M180.1 689.1l3.9 -3.9M193 693.2h5.4M195.7 690.5v5.4M193.8 691.3l3.9 3.9M193.8 695.2l3.9 -3.9M193.2 695.3h5.4M195.9 692.6v5.4M194 693.3l3.9 3.9M194 697.2l3.9 -3.9M187.5 689.6h5.4M190.2 686.9v5.4M188.3 687.7l3.9 3.9M188.3 691.6l3.9 -3.9M167.5 693.5h5.4M170.2 690.8v5.4M168.2 691.5l3.9 3.9M168.2 695.4l3.9 -3.9M174.5 708.1h5.4M177.2 705.4v5.4M175.3 706.1l3.9 3.9M175.3 710l3.9 -3.9M180.6 688.4h5.4M183.3 685.7v5.4M181.4 686.5l3.9 3.9M181.4 690.4l3.9 -3.9M173.7 687h5.4M176.4 684.3v5.4M174.4 685.1l3.9 3.9M174.4 689l3.9 -3.9M196.4 688.1h5.4M199.1 685.4v5.4M197.2 686.1l3.9 3.9M197.2 690l3.9 -3.9M173.2 706.3h5.4M175.9 703.6v5.4M173.9 704.3l3.9 3.9M173.9 708.2l3.9 -3.9M183.9 699.1h5.4M186.6 696.4v5.4M184.7 697.2l3.9 3.9M184.7 701l3.9 -3.9M180.8 708.1h5.4M183.5 705.4v5.4M181.5 706.2l3.9 3.9M181.5 710.1l3.9 -3.9M201.5 704.1h5.4M204.2 701.4v5.4M202.2 702.2l3.9 3.9M202.2 706.1l3.9 -3.9M184.7 707.1h5.4M187.4 704.4v5.4M185.4 705.1l3.9 3.9M185.4 709l3.9 -3.9M194.2 695.7h5.4M196.9 693v5.4M194.9 693.8l3.9 3.9M194.9 697.7l3.9 -3.9M199.8 692.3h5.4M202.5 689.6v5.4M200.6 690.3l3.9 3.9M200.6 694.2l3.9 -3.9M175.1 711.2h5.4M177.8 708.5v5.4M175.9 709.3l3.9 3.9M175.9 713.2l3.9 -3.9M187.9 683.1h5.4M190.6 680.4v5.4M188.7 681.2l3.9 3.9M188.7 685.1l3.9 -3.9M182.5 698.2h5.4M185.2 695.5v5.4M183.2 696.2l3.9 3.9M183.2 700.1l3.9 -3.9M195.4 688h5.4M198.1 685.3v5.4M196.1 686.1l3.9 3.9M196.1 690l3.9 -3.9M180.9 709.5h5.4M183.6 706.8v5.4M181.7 707.6l3.9 3.9M181.7 711.5l3.9 -3.9M178.1 694h5.4M180.8 691.3v5.4M178.9 692l3.9 3.9M178.9 695.9l3.9 -3.9M177 698h5.4M179.7 695.3v5.4M177.7 696.1l3.9 3.9M177.7 700l3.9 -3.9M177.7 709.9h5.4M180.4 707.2v5.4M178.5 707.9l3.9 3.9M178.5 711.8l3.9 -3.9M200.1 704.1h5.4M202.8 701.4v5.4M200.9 702.2l3.9 3.9M200.9 706.1l3.9 -3.9M199.4 704.1h5.4M202.1 701.4v5.4M200.1 702.2l3.9 3.9M200.1 706.1l3.9 -3.9M171.3 691.1h5.4M174 688.4v5.4M172.1 689.2l3.9 3.9M172.1 693.1l3.9 -3.9M201 702.8h5.4M203.7 700.1v5.4M201.8 700.9l3.9 3.9M201.8 704.8l3.9 -3.9M172.9 691.9h5.4M175.6 689.2v5.4M173.7 690l3.9 3.9M173.7 693.9l3.9 -3.9M184.9 680.3h5.4M187.6 677.6v5.4M185.6 678.4l3.9 3.9M185.6 682.3l3.9 -3.9M174.2 698h5.4M176.9 695.3v5.4M174.9 696l3.9 3.9M174.9 699.9l3.9 -3.9M201.2 705.3h5.4M203.9 702.6v5.4M202 703.4l3.9 3.9M202 707.3l3.9 -3.9M182.1 690.8h5.4M184.8 688.1v5.4M182.8 688.8l3.9 3.9M182.8 692.7l3.9 -3.9M201.7 702h5.4M204.4 699.3v5.4M202.5 700l3.9 3.9M202.5 703.9l3.9 -3.9M187.4 690.4h5.4M190.1 687.7v5.4M188.1 688.5l3.9 3.9M188.1 692.4l3.9 -3.9M171.1 690h5.4M173.8 687.3v5.4M171.8 688.1l3.9 3.9M171.8 692l3.9 -3.9M199.5 687.4h5.4M202.2 684.7v5.4M200.3 685.5l3.9 3.9M200.3 689.4l3.9 -3.9M177.8 687.4h5.4M180.5 684.7v5.4M178.5 685.4l3.9 3.9M178.5 689.3l3.9 -3.9M192.2 707.7h5.4M194.9 705v5.4M192.9 705.8l3.9 3.9M192.9 709.7l3.9 -3.9M180.2 693.2h5.4M182.9 690.5v5.4M180.9 691.2l3.9 3.9M180.9 695.1l3.9 -3.9M169.8 684.6h5.4M172.5 681.9v5.4M170.5 682.7l3.9 3.9M170.5 686.6l3.9 -3.9M167.2 688.8h5.4M169.9 686.1v5.4M168 686.9l3.9 3.9M168 690.8l3.9 -3.9M172.7 709.4h5.4M175.4 706.7v5.4M173.5 707.4l3.9 3.9M173.5 711.3l3.9 -3.9M195.6 686.7h5.4M198.3 684v5.4M196.4 684.7l3.9 3.9M196.4 688.6l3.9 -3.9M194.4 695.6h5.4M197.1 692.9v5.4M195.1 693.6l3.9 3.9M195.1 697.5l3.9 -3.9M176.3 687.8h5.4M179 685.1v5.4M177.1 685.8l3.9 3.9M177.1 689.7l3.9 -3.9M197 689.8h5.4M199.7 687.1v5.4M197.8 687.9l3.9 3.9M197.8 691.8l3.9 -3.9M171.8 686.2h5.4M174.5 683.5v5.4M172.6 684.2l3.9 3.9M172.6 688.1l3.9 -3.9M175.4 707.5h5.4M178.1 704.8v5.4M176.1 705.5l3.9 3.9M176.1 709.4l3.9 -3.9M176.3 710.8h5.4M179 708.1v5.4M177.1 708.9l3.9 3.9M177.1 712.8l3.9 -3.9M180.1 681.2h5.4M182.8 678.5v5.4M180.9 679.3l3.9 3.9M180.9 683.2l3.9 -3.9M197 689.4h5.4M199.7 686.7v5.4M197.7 687.5l3.9 3.9M197.7 691.4l3.9 -3.9M172.8 699.8h5.4M175.5 697.1v5.4M173.5 697.8l3.9 3.9M173.5 701.7l3.9 -3.9M193.5 688.3h5.4M196.2 685.6v5.4M194.2 686.4l3.9 3.9M194.2 690.3l3.9 -3.9M192.1 701.4h5.4M194.8 698.7v5.4M192.9 699.5l3.9 3.9M192.9 703.4l3.9 -3.9M170 695.9h5.4M172.7 693.2v5.4M170.8 694l3.9 3.9M170.8 697.9l3.9 -3.9M174.4 692.9h5.4M177.1 690.2v5.4M175.2 691l3.9 3.9M175.2 694.8l3.9 -3.9M194.8 696.7h5.4M197.5 694v5.4M195.6 694.7l3.9 3.9M195.6 698.6l3.9 -3.9M202.2 701.4h5.4M204.9 698.7v5.4M202.9 699.5l3.9 3.9M202.9 703.4l3.9 -3.9M195.9 703.2h5.4M198.6 700.5v5.4M196.7 701.3l3.9 3.9M196.7 705.2l3.9 -3.9M190.1 695h5.4M192.8 692.3v5.4M190.9 693l3.9 3.9M190.9 696.9l3.9 -3.9M167.6 689.6h5.4M170.3 686.9v5.4M168.4 687.7l3.9 3.9M168.4 691.6l3.9 -3.9M178.3 691.2h5.4M181 688.5v5.4M179.1 689.3l3.9 3.9M179.1 693.2l3.9 -3.9M177.9 704.1h5.4M180.6 701.4v5.4M178.7 702.1l3.9 3.9M178.7 706l3.9 -3.9M171.8 681.7h5.4M174.5 679v5.4M172.5 679.8l3.9 3.9M172.5 683.7l3.9 -3.9M199.4 690.4h5.4M202.1 687.7v5.4M200.2 688.4l3.9 3.9M200.2 692.3l3.9 -3.9M176.2 691.9h5.4M178.9 689.2v5.4M177 689.9l3.9 3.9M177 693.8l3.9 -3.9M195.1 704.8h5.4M197.8 702.1v5.4M195.8 702.9l3.9 3.9M195.8 706.7l3.9 -3.9M198.3 693.1h5.4M201 690.4v5.4M199 691.2l3.9 3.9M199 695l3.9 -3.9M180.9 685h5.4M183.6 682.3v5.4M181.7 683.1l3.9 3.9M181.7 687l3.9 -3.9M191.4 689.1h5.4M194.1 686.4v5.4M192.2 687.1l3.9 3.9M192.2 691l3.9 -3.9M176.6 704.1h5.4M179.3 701.4v5.4M177.3 702.2l3.9 3.9M177.3 706.1l3.9 -3.9M181.1 710.9h5.4M183.8 708.2v5.4M181.9 708.9l3.9 3.9M181.9 712.8l3.9 -3.9M195 685.3h5.4M197.7 682.6v5.4M195.7 683.4l3.9 3.9M195.7 687.3l3.9 -3.9M180.8 692.5h5.4M183.5 689.8v5.4M181.6 690.5l3.9 3.9M181.6 694.4l3.9 -3.9M181.3 698.9h5.4M184 696.2v5.4M182.1 697l3.9 3.9M182.1 700.8l3.9 -3.9M188.9 691.8h5.4M191.6 689.1v5.4M189.7 689.9l3.9 3.9M189.7 693.8l3.9 -3.9M192.8 702.9h5.4M195.5 700.2v5.4M193.6 701l3.9 3.9M193.6 704.9l3.9 -3.9M195.4 689.3h5.4M198.1 686.6v5.4M196.2 687.4l3.9 3.9M196.2 691.3l3.9 -3.9M170.7 697h5.4M173.4 694.3v5.4M171.4 695.1l3.9 3.9M171.4 698.9l3.9 -3.9M185.3 689.6h5.4M188 686.9v5.4M186.1 687.7l3.9 3.9M186.1 691.6l3.9 -3.9M192.1 705.4h5.4M194.8 702.7v5.4M192.8 703.5l3.9 3.9M192.8 707.3l3.9 -3.9M193.4 691.5h5.4M196.1 688.8v5.4M194.2 689.6l3.9 3.9M194.2 693.5l3.9 -3.9M175.9 685.6h5.4M178.6 682.9v5.4M176.7 683.7l3.9 3.9M176.7 687.5l3.9 -3.9M196.2 690.2h5.4M198.9 687.5v5.4M197 688.3l3.9 3.9M197 692.2l3.9 -3.9M183 708.8h5.4M185.7 706.1v5.4M183.8 706.9l3.9 3.9M183.8 710.8l3.9 -3.9M172.7 700.5h5.4M175.4 697.8v5.4M173.5 698.5l3.9 3.9M173.5 702.4l3.9 -3.9M184.5 707.9h5.4M187.2 705.2v5.4M185.3 706l3.9 3.9M185.3 709.9l3.9 -3.9M183.9 691.5h5.4M186.6 688.8v5.4M184.6 689.5l3.9 3.9M184.6 693.4l3.9 -3.9M181.8 685.4h5.4M184.5 682.7v5.4M182.5 683.5l3.9 3.9M182.5 687.4l3.9 -3.9M184.7 688.1h5.4M187.4 685.4v5.4M185.4 686.1l3.9 3.9M185.4 690l3.9 -3.9M171.2 706.3h5.4M173.9 703.6v5.4M172 704.4l3.9 3.9M172 708.3l3.9 -3.9M193.3 692.3h5.4M196 689.6v5.4M194 690.3l3.9 3.9M194 694.2l3.9 -3.9M192 693h5.4M194.7 690.3v5.4M192.7 691.1l3.9 3.9M192.7 694.9l3.9 -3.9M203 701.1h5.4M205.7 698.4v5.4M203.8 699.2l3.9 3.9M203.8 703.1l3.9 -3.9M183.5 712.4h5.4M186.2 709.7v5.4M184.3 710.5l3.9 3.9M184.3 714.4l3.9 -3.9M194.8 692.2h5.4M197.5 689.5v5.4M195.6 690.2l3.9 3.9M195.6 694.1l3.9 -3.9M188.8 692.5h5.4M191.5 689.8v5.4M189.6 690.6l3.9 3.9M189.6 694.5l3.9 -3.9M192.7 693.5h5.4M195.4 690.8v5.4M193.5 691.5l3.9 3.9M193.5 695.4l3.9 -3.9M182.2 677.6h5.4M184.9 674.9v5.4M183 675.7l3.9 3.9M183 679.6l3.9 -3.9M193.1 700.6h5.4M195.8 697.9v5.4M193.9 698.7l3.9 3.9M193.9 702.6l3.9 -3.9M183.2 678.9h5.4M185.9 676.2v5.4M184 677l3.9 3.9M184 680.9l3.9 -3.9M173 681.9h5.4M175.7 679.2v5.4M173.8 679.9l3.9 3.9M173.8 683.8l3.9 -3.9M206.3 701.8h5.4M209 699.1v5.4M207.1 699.9l3.9 3.9M207.1 703.7l3.9 -3.9M185.2 703.5h5.4M187.9 700.8v5.4M185.9 701.6l3.9 3.9M185.9 705.5l3.9 -3.9M168.9 683.8h5.4M171.6 681.1v5.4M169.6 681.9l3.9 3.9M169.6 685.8l3.9 -3.9M187.9 677.3h5.4M190.6 674.6v5.4M188.6 675.4l3.9 3.9M188.6 679.3l3.9 -3.9M199.6 701.9h5.4M202.3 699.2v5.4M200.4 700l3.9 3.9M200.4 703.9l3.9 -3.9M204.3 706.8h5.4M207 704.1v5.4M205.1 704.8l3.9 3.9M205.1 708.7l3.9 -3.9M172.9 679.4h5.4M175.6 676.7v5.4M173.6 677.5l3.9 3.9M173.6 681.3l3.9 -3.9M167.5 693.4h5.4M170.2 690.7v5.4M168.2 691.4l3.9 3.9M168.2 695.3l3.9 -3.9M169 701.8h5.4M171.7 699.1v5.4M169.8 699.8l3.9 3.9M169.8 703.7l3.9 -3.9M165.8 684.4h5.4M168.5 681.7v5.4M166.6 682.5l3.9 3.9M166.6 686.4l3.9 -3.9M169.5 700.9h5.4M172.2 698.2v5.4M170.2 698.9l3.9 3.9M170.2 702.8l3.9 -3.9M167 691.3h5.4M169.7 688.6v5.4M167.8 689.4l3.9 3.9M167.8 693.3l3.9 -3.9M185.7 705.1h5.4M188.4 702.4v5.4M186.5 703.2l3.9 3.9M186.5 707.1l3.9 -3.9M191.8 702.8h5.4M194.5 700.1v5.4M192.5 700.9l3.9 3.9M192.5 704.8l3.9 -3.9M199.9 703.6h5.4M202.6 700.9v5.4M200.7 701.7l3.9 3.9M200.7 705.5l3.9 -3.9M197.7 704.1h5.4M200.4 701.4v5.4M198.4 702.2l3.9 3.9M198.4 706l3.9 -3.9M170.7 698.8h5.4M173.4 696.1v5.4M171.4 696.8l3.9 3.9M171.4 700.7l3.9 -3.9M206.2 702.9h5.4M208.9 700.2v5.4M206.9 701l3.9 3.9M206.9 704.8l3.9 -3.9M170.7 697.1h5.4M173.4 694.4v5.4M171.4 695.2l3.9 3.9M171.4 699.1l3.9 -3.9M185.9 710h5.4M188.6 707.3v5.4M186.6 708l3.9 3.9M186.6 711.9l3.9 -3.9" fill="none" stroke="#4DBEEE" stroke-width="1.0"/>
</g>
<path d="M36 771.3v-2.3M36 551.7v2.3M88.3 771.3v-2.3M88.3 551.7v2.3M140.6 771.3v-2.3M140.6 551.7v2.3M192.9 771.3v-2.3M192.9 551.7v2.3M245.2 771.3v-2.3M245.2 551.7v2.3M36 771.3h2.3M271.3 771.3h-2.3M36 746.9h2.3M271.3 746.9h-2.3M36 722.5h2.3M271.3 722.5h-2.3M36 698.1h2.3M271.3 698.1h-2.3M36 673.7h2.3M271.3 673.7h-2.3M36 649.3h2.3M271.3 649.3h-2.3M36 624.9h2.3M271.3 624.9h-2.3M36 600.5h2.3M271.3 600.5h-2.3M36 576.1h2.3M271.3 576.1h-2.3M36 551.7h2.3M271.3 551.7h-2.3" stroke="#262626" stroke-width="0.9" fill="none"/>
<rect x="36.0" y="551.7" width="235.3" height="219.5999999999999" fill="none" stroke="#262626" stroke-width="1.1"/>
<text x="36" y="785.4" font-size="10.1" text-anchor="middle" fill="#262626">-40</text>
<text x="88.3" y="785.4" font-size="10.1" text-anchor="middle" fill="#262626">-20</text>
<text x="140.6" y="785.4" font-size="10.1" text-anchor="middle" fill="#262626">0</text>
<text x="192.9" y="785.4" font-size="10.1" text-anchor="middle" fill="#262626">20</text>
<text x="245.2" y="785.4" font-size="10.1" text-anchor="middle" fill="#262626">40</text>
<text x="31.4" y="775.4" font-size="10.1" text-anchor="end" fill="#262626">-50</text>
<text x="31.4" y="751" font-size="10.1" text-anchor="end" fill="#262626">-40</text>
<text x="31.4" y="726.6" font-size="10.1" text-anchor="end" fill="#262626">-30</text>
<text x="31.4" y="702.2" font-size="10.1" text-anchor="end" fill="#262626">-20</text>
<text x="31.4" y="677.8" font-size="10.1" text-anchor="end" fill="#262626">-10</text>
<text x="31.4" y="653.4" font-size="10.1" text-anchor="end" fill="#262626">0</text>
<text x="31.4" y="629" font-size="10.1" text-anchor="end" fill="#262626">10</text>
<text x="31.4" y="604.6" font-size="10.1" text-anchor="end" fill="#262626">20</text>
<text x="31.4" y="580.2" font-size="10.1" text-anchor="end" fill="#262626">30</text>
<text x="31.4" y="555.8" font-size="10.1" text-anchor="end" fill="#262626">40</text>
<text x="153.7" y="798.1" font-size="10.25" text-anchor="middle" fill="#262626">Dimension-1</text>
<text transform="translate(12.8 661.5) rotate(-90)" font-size="10.25" text-anchor="middle" fill="#262626">Dimension-2</text>
<text x="153.7" y="548.9" font-size="10.3" font-weight="bold" text-anchor="middle" fill="#000">(e) LIBS-Raman: fused data</text>
<rect x="219.6" y="690" width="59.3" height="73.8" fill="#fff" stroke="#262626" stroke-width="1"/>
<path d="M233.8 697.2a2.95 2.95 0 1 0 5.9 0a2.95 2.95 0 1 0 -5.9 0" fill="none" stroke="#D95319" stroke-width="0.8"/>
<text x="252.1" y="701.2" font-size="10.3" fill="#000">Cls-1</text>
<path d="M236.8 705.1l2.9 4.0 -2.9 4.0 -2.9 -4.0z" fill="none" stroke="#0072BD" stroke-width="0.8"/>
<text x="252.1" y="713.1" font-size="10.3" fill="#000">Cls-2</text>
<path d="M236.8 717.7l3.3 5.8h-6.6z" fill="none" stroke="#EDB120" stroke-width="0.8"/>
<text x="252.1" y="724.9" font-size="10.3" fill="#000">Cls-3</text>
<path d="M234.5 730.5h4.5v4.5h-4.5z" fill="none" stroke="#77AC30" stroke-width="0.8"/>
<text x="252.1" y="736.8" font-size="10.3" fill="#000">Cls-4</text>
<path d="M233.7 744.6h6.2M236.8 741.5v6.2" fill="none" stroke="#7E2F8E" stroke-width="0.8"/>
<text x="252.1" y="748.6" font-size="10.3" fill="#000">Cls-5</text>
<circle cx="236.8" cy="756.5" r="2.4" fill="#4DBEEE"/>
<text x="252.1" y="760.5" font-size="10.3" fill="#000">Cls-6</text>
</g>
</svg></body></html>
